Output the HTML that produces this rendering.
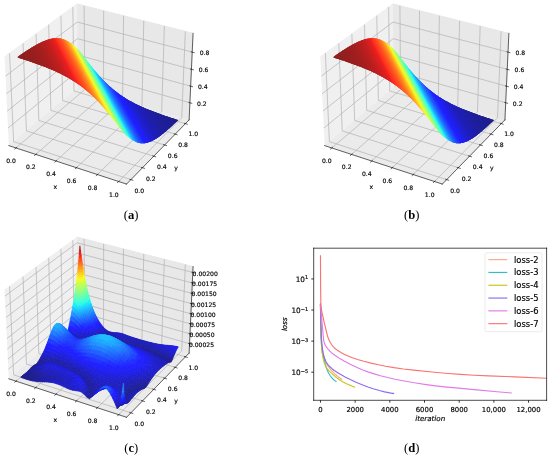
<!DOCTYPE html>
<html><head><meta charset="utf-8"><title>figure</title>
<style>html,body{margin:0;padding:0;background:#fff}svg{display:block;filter:blur(0.35px)}svg text{stroke:#000;stroke-width:.16px}svg text.cap{stroke:none}</style>
</head><body>
<svg width="550" height="459" viewBox="0 0 550 459">
<defs>
<style type="text/css">*{stroke-linejoin: round; stroke-linecap: butt}</style>
</defs>
<g id="figure_1">
<g id="patch_1">
<path d="M 0 459 
L 550 459 
L 550 0 
L 0 0 
z
" style="fill: #ffffff"/>
</g>
<g id="pane3d_1">
<g id="patch_2">
<path d="M 8.83 145.62 
L 78.04 87.6 
L 77.08 3.93 
L 4.55 56.86 
" style="fill: #f0f0f0; stroke: #f0f0f0; stroke-linejoin: miter"/>
</g>
</g>
<g id="pane3d_2">
<g id="patch_3">
<path d="M 78.04 87.6 
L 189.11 119.88 
L 193.07 33.33 
L 77.08 3.93 
" style="fill: #e8e8e8; stroke: #e8e8e8; stroke-linejoin: miter"/>
</g>
</g>
<g id="pane3d_3">
<g id="patch_4">
<path d="M 8.83 145.62 
L 126.56 184.07 
L 189.11 119.88 
L 78.04 87.6 
" style="fill: #ebebeb; stroke: #ebebeb; stroke-linejoin: miter"/>
</g>
</g>
<g id="grid3d_1">
<g id="Line3DCollection_1">
<path d="M 15.96 147.95 
L 84.8 89.56 
L 84.12 5.71 
" style="fill: none; stroke: #b0b0b0; stroke-width: 0.68"/>
<path d="M 35.76 154.42 
L 103.54 95.01 
L 103.66 10.66 
" style="fill: none; stroke: #b0b0b0; stroke-width: 0.68"/>
<path d="M 55.92 161 
L 122.59 100.55 
L 123.54 15.7 
" style="fill: none; stroke: #b0b0b0; stroke-width: 0.68"/>
<path d="M 76.46 167.71 
L 141.96 106.18 
L 143.78 20.83 
" style="fill: none; stroke: #b0b0b0; stroke-width: 0.68"/>
<path d="M 97.38 174.54 
L 161.67 111.91 
L 164.37 26.05 
" style="fill: none; stroke: #b0b0b0; stroke-width: 0.68"/>
<path d="M 118.69 181.5 
L 181.72 117.73 
L 185.34 31.37 
" style="fill: none; stroke: #b0b0b0; stroke-width: 0.68"/>
</g>
</g>
<g id="grid3d_2">
<g id="Line3DCollection_2">
<path d="M 9.57 53.2 
L 13.6 141.62 
L 130.89 179.63 
" style="fill: none; stroke: #b0b0b0; stroke-width: 0.68"/>
<path d="M 23.03 43.37 
L 26.41 130.88 
L 142.5 167.72 
" style="fill: none; stroke: #b0b0b0; stroke-width: 0.68"/>
<path d="M 36.06 33.86 
L 38.83 120.47 
L 153.75 156.18 
" style="fill: none; stroke: #b0b0b0; stroke-width: 0.68"/>
<path d="M 48.7 24.64 
L 50.89 110.36 
L 164.64 144.99 
" style="fill: none; stroke: #b0b0b0; stroke-width: 0.68"/>
<path d="M 60.95 15.7 
L 62.6 100.54 
L 175.21 134.15 
" style="fill: none; stroke: #b0b0b0; stroke-width: 0.68"/>
<path d="M 72.84 7.02 
L 73.98 91.01 
L 185.45 123.64 
" style="fill: none; stroke: #b0b0b0; stroke-width: 0.68"/>
</g>
</g>
<g id="grid3d_3">
<g id="Line3DCollection_3">
<path d="M 189.9 102.76 
L 77.85 71.02 
L 7.98 128.08 
" style="fill: none; stroke: #b0b0b0; stroke-width: 0.68"/>
<path d="M 190.66 86.17 
L 77.67 54.97 
L 7.16 111.08 
" style="fill: none; stroke: #b0b0b0; stroke-width: 0.68"/>
<path d="M 191.43 69.29 
L 77.48 38.65 
L 6.33 93.77 
" style="fill: none; stroke: #b0b0b0; stroke-width: 0.68"/>
<path d="M 192.21 52.12 
L 77.29 22.06 
L 5.48 76.15 
" style="fill: none; stroke: #b0b0b0; stroke-width: 0.68"/>
</g>
</g>
<g id="axis3d_1">
<g id="line2d_1">
<path d="M 8.83 145.62 
L 126.56 184.07 
" style="fill: none; stroke: #000000; stroke-width: 0.6; stroke-linecap: square"/>
</g>
<g id="xtick_1">
<g id="line2d_2">
<path d="M 16.56 147.44 
L 14.76 148.97 
" style="fill: none; stroke: #000000; stroke-width: 0.6; stroke-linecap: square"/>
</g>
<g id="text_1">
<text style="font-size: 6.1px; font-family: 'DejaVu Sans', 'Liberation Sans', sans-serif; text-anchor: middle" x="11.05" y="162.82">0.0</text>
</g>
</g>
<g id="xtick_2">
<g id="line2d_3">
<path d="M 36.35 153.9 
L 34.57 155.45 
" style="fill: none; stroke: #000000; stroke-width: 0.6; stroke-linecap: square"/>
</g>
<g id="text_2">
<text style="font-size: 6.1px; font-family: 'DejaVu Sans', 'Liberation Sans', sans-serif; text-anchor: middle" x="30.87" y="169.4">0.2</text>
</g>
</g>
<g id="xtick_3">
<g id="line2d_4">
<path d="M 56.5 160.47 
L 54.76 162.06 
" style="fill: none; stroke: #000000; stroke-width: 0.6; stroke-linecap: square"/>
</g>
<g id="text_3">
<text style="font-size: 6.1px; font-family: 'DejaVu Sans', 'Liberation Sans', sans-serif; text-anchor: middle" x="51.05" y="176.1">0.4</text>
</g>
</g>
<g id="xtick_4">
<g id="line2d_5">
<path d="M 77.03 167.17 
L 75.31 168.78 
" style="fill: none; stroke: #000000; stroke-width: 0.6; stroke-linecap: square"/>
</g>
<g id="text_4">
<text style="font-size: 6.1px; font-family: 'DejaVu Sans', 'Liberation Sans', sans-serif; text-anchor: middle" x="71.61" y="182.93">0.6</text>
</g>
</g>
<g id="xtick_5">
<g id="line2d_6">
<path d="M 97.94 173.99 
L 96.25 175.64 
" style="fill: none; stroke: #000000; stroke-width: 0.6; stroke-linecap: square"/>
</g>
<g id="text_5">
<text style="font-size: 6.1px; font-family: 'DejaVu Sans', 'Liberation Sans', sans-serif; text-anchor: middle" x="92.55" y="189.88">0.8</text>
</g>
</g>
<g id="xtick_6">
<g id="line2d_7">
<path d="M 119.24 180.94 
L 117.59 182.62 
" style="fill: none; stroke: #000000; stroke-width: 0.6; stroke-linecap: square"/>
</g>
<g id="text_6">
<text style="font-size: 6.1px; font-family: 'DejaVu Sans', 'Liberation Sans', sans-serif; text-anchor: middle" x="113.88" y="196.97">1.0</text>
</g>
</g>
<g id="text_7">
<text style="font-size: 6.1px; font-family: 'DejaVu Sans', 'Liberation Sans', sans-serif; text-anchor: middle" x="55.41" y="189.27">x</text>
</g>
</g>
<g id="axis3d_2">
<g id="line2d_8">
<path d="M 189.11 119.88 
L 126.56 184.07 
" style="fill: none; stroke: #000000; stroke-width: 0.6; stroke-linecap: square"/>
</g>
<g id="xtick_7">
<g id="line2d_9">
<path d="M 129.9 179.31 
L 132.87 180.27 
" style="fill: none; stroke: #000000; stroke-width: 0.6; stroke-linecap: square"/>
</g>
<g id="text_8">
<text style="font-size: 6.1px; font-family: 'DejaVu Sans', 'Liberation Sans', sans-serif; text-anchor: middle" x="139.29" y="193.02">0.0</text>
</g>
</g>
<g id="xtick_8">
<g id="line2d_10">
<path d="M 141.53 167.41 
L 144.46 168.34 
" style="fill: none; stroke: #000000; stroke-width: 0.6; stroke-linecap: square"/>
</g>
<g id="text_9">
<text style="font-size: 6.1px; font-family: 'DejaVu Sans', 'Liberation Sans', sans-serif; text-anchor: middle" x="150.77" y="180.96">0.2</text>
</g>
</g>
<g id="xtick_9">
<g id="line2d_11">
<path d="M 152.78 155.87 
L 155.68 156.78 
" style="fill: none; stroke: #000000; stroke-width: 0.6; stroke-linecap: square"/>
</g>
<g id="text_10">
<text style="font-size: 6.1px; font-family: 'DejaVu Sans', 'Liberation Sans', sans-serif; text-anchor: middle" x="161.89" y="169.28">0.4</text>
</g>
</g>
<g id="xtick_10">
<g id="line2d_12">
<path d="M 163.69 144.7 
L 166.56 145.58 
" style="fill: none; stroke: #000000; stroke-width: 0.6; stroke-linecap: square"/>
</g>
<g id="text_11">
<text style="font-size: 6.1px; font-family: 'DejaVu Sans', 'Liberation Sans', sans-serif; text-anchor: middle" x="172.67" y="157.96">0.6</text>
</g>
</g>
<g id="xtick_11">
<g id="line2d_13">
<path d="M 174.26 133.87 
L 177.1 134.72 
" style="fill: none; stroke: #000000; stroke-width: 0.6; stroke-linecap: square"/>
</g>
<g id="text_12">
<text style="font-size: 6.1px; font-family: 'DejaVu Sans', 'Liberation Sans', sans-serif; text-anchor: middle" x="183.11" y="146.98">0.8</text>
</g>
</g>
<g id="xtick_12">
<g id="line2d_14">
<path d="M 184.52 123.36 
L 187.33 124.19 
" style="fill: none; stroke: #000000; stroke-width: 0.6; stroke-linecap: square"/>
</g>
<g id="text_13">
<text style="font-size: 6.1px; font-family: 'DejaVu Sans', 'Liberation Sans', sans-serif; text-anchor: middle" x="193.24" y="136.34">1.0</text>
</g>
</g>
<g id="text_14">
<text style="font-size: 6.1px; font-family: 'DejaVu Sans', 'Liberation Sans', sans-serif; text-anchor: middle" x="175.96" y="169.59">y</text>
</g>
</g>
<g id="axis3d_3">
<g id="line2d_15">
<path d="M 189.11 119.88 
L 193.07 33.33 
" style="fill: none; stroke: #000000; stroke-width: 0.6; stroke-linecap: square"/>
</g>
<g id="xtick_13">
<g id="line2d_16">
<path d="M 188.95 102.49 
L 191.78 103.29 
" style="fill: none; stroke: #000000; stroke-width: 0.6; stroke-linecap: square"/>
</g>
<g id="text_15">
<text style="font-size: 6.1px; font-family: 'DejaVu Sans', 'Liberation Sans', sans-serif; text-anchor: middle" x="201.91" y="105.72">0.2</text>
</g>
</g>
<g id="xtick_14">
<g id="line2d_17">
<path d="M 189.71 85.91 
L 192.56 86.69 
" style="fill: none; stroke: #000000; stroke-width: 0.6; stroke-linecap: square"/>
</g>
<g id="text_16">
<text style="font-size: 6.1px; font-family: 'DejaVu Sans', 'Liberation Sans', sans-serif; text-anchor: middle" x="202.77" y="89.16">0.4</text>
</g>
</g>
<g id="xtick_15">
<g id="line2d_18">
<path d="M 190.47 69.03 
L 193.35 69.81 
" style="fill: none; stroke: #000000; stroke-width: 0.6; stroke-linecap: square"/>
</g>
<g id="text_17">
<text style="font-size: 6.1px; font-family: 'DejaVu Sans', 'Liberation Sans', sans-serif; text-anchor: middle" x="203.64" y="72.31">0.6</text>
</g>
</g>
<g id="xtick_16">
<g id="line2d_19">
<path d="M 191.25 51.87 
L 194.15 52.63 
" style="fill: none; stroke: #000000; stroke-width: 0.6; stroke-linecap: square"/>
</g>
<g id="text_18">
<text style="font-size: 6.1px; font-family: 'DejaVu Sans', 'Liberation Sans', sans-serif; text-anchor: middle" x="204.53" y="55.17">0.8</text>
</g>
</g>
</g>
<g id="axes_1"/>
<g id="pane3d_4">
<g id="patch_5">
<path d="M 324.63 145.62 
L 393.84 87.6 
L 392.88 3.93 
L 320.35 56.86 
" style="fill: #f0f0f0; stroke: #f0f0f0; stroke-linejoin: miter"/>
</g>
</g>
<g id="pane3d_5">
<g id="patch_6">
<path d="M 393.84 87.6 
L 504.91 119.88 
L 508.87 33.33 
L 392.88 3.93 
" style="fill: #e8e8e8; stroke: #e8e8e8; stroke-linejoin: miter"/>
</g>
</g>
<g id="pane3d_6">
<g id="patch_7">
<path d="M 324.63 145.62 
L 442.36 184.07 
L 504.91 119.88 
L 393.84 87.6 
" style="fill: #ebebeb; stroke: #ebebeb; stroke-linejoin: miter"/>
</g>
</g>
<g id="grid3d_4">
<g id="Line3DCollection_4">
<path d="M 331.76 147.95 
L 400.6 89.56 
L 399.92 5.71 
" style="fill: none; stroke: #b0b0b0; stroke-width: 0.68"/>
<path d="M 351.56 154.42 
L 419.34 95.01 
L 419.46 10.66 
" style="fill: none; stroke: #b0b0b0; stroke-width: 0.68"/>
<path d="M 371.72 161 
L 438.39 100.55 
L 439.34 15.7 
" style="fill: none; stroke: #b0b0b0; stroke-width: 0.68"/>
<path d="M 392.26 167.71 
L 457.76 106.18 
L 459.58 20.83 
" style="fill: none; stroke: #b0b0b0; stroke-width: 0.68"/>
<path d="M 413.18 174.54 
L 477.47 111.91 
L 480.17 26.05 
" style="fill: none; stroke: #b0b0b0; stroke-width: 0.68"/>
<path d="M 434.49 181.5 
L 497.52 117.73 
L 501.14 31.37 
" style="fill: none; stroke: #b0b0b0; stroke-width: 0.68"/>
</g>
</g>
<g id="grid3d_5">
<g id="Line3DCollection_5">
<path d="M 325.37 53.2 
L 329.4 141.62 
L 446.69 179.63 
" style="fill: none; stroke: #b0b0b0; stroke-width: 0.68"/>
<path d="M 338.83 43.37 
L 342.21 130.88 
L 458.3 167.72 
" style="fill: none; stroke: #b0b0b0; stroke-width: 0.68"/>
<path d="M 351.86 33.86 
L 354.63 120.47 
L 469.55 156.18 
" style="fill: none; stroke: #b0b0b0; stroke-width: 0.68"/>
<path d="M 364.5 24.64 
L 366.69 110.36 
L 480.44 144.99 
" style="fill: none; stroke: #b0b0b0; stroke-width: 0.68"/>
<path d="M 376.75 15.7 
L 378.4 100.54 
L 491.01 134.15 
" style="fill: none; stroke: #b0b0b0; stroke-width: 0.68"/>
<path d="M 388.64 7.02 
L 389.78 91.01 
L 501.25 123.64 
" style="fill: none; stroke: #b0b0b0; stroke-width: 0.68"/>
</g>
</g>
<g id="grid3d_6">
<g id="Line3DCollection_6">
<path d="M 505.7 102.76 
L 393.65 71.02 
L 323.78 128.08 
" style="fill: none; stroke: #b0b0b0; stroke-width: 0.68"/>
<path d="M 506.46 86.17 
L 393.47 54.97 
L 322.96 111.08 
" style="fill: none; stroke: #b0b0b0; stroke-width: 0.68"/>
<path d="M 507.23 69.29 
L 393.28 38.65 
L 322.13 93.77 
" style="fill: none; stroke: #b0b0b0; stroke-width: 0.68"/>
<path d="M 508.01 52.12 
L 393.09 22.06 
L 321.28 76.15 
" style="fill: none; stroke: #b0b0b0; stroke-width: 0.68"/>
</g>
</g>
<g id="axis3d_4">
<g id="line2d_20">
<path d="M 324.63 145.62 
L 442.36 184.07 
" style="fill: none; stroke: #000000; stroke-width: 0.6; stroke-linecap: square"/>
</g>
<g id="xtick_17">
<g id="line2d_21">
<path d="M 332.36 147.44 
L 330.56 148.97 
" style="fill: none; stroke: #000000; stroke-width: 0.6; stroke-linecap: square"/>
</g>
<g id="text_19">
<text style="font-size: 6.1px; font-family: 'DejaVu Sans', 'Liberation Sans', sans-serif; text-anchor: middle" x="326.85" y="162.82">0.0</text>
</g>
</g>
<g id="xtick_18">
<g id="line2d_22">
<path d="M 352.15 153.9 
L 350.37 155.45 
" style="fill: none; stroke: #000000; stroke-width: 0.6; stroke-linecap: square"/>
</g>
<g id="text_20">
<text style="font-size: 6.1px; font-family: 'DejaVu Sans', 'Liberation Sans', sans-serif; text-anchor: middle" x="346.67" y="169.4">0.2</text>
</g>
</g>
<g id="xtick_19">
<g id="line2d_23">
<path d="M 372.3 160.47 
L 370.56 162.06 
" style="fill: none; stroke: #000000; stroke-width: 0.6; stroke-linecap: square"/>
</g>
<g id="text_21">
<text style="font-size: 6.1px; font-family: 'DejaVu Sans', 'Liberation Sans', sans-serif; text-anchor: middle" x="366.85" y="176.1">0.4</text>
</g>
</g>
<g id="xtick_20">
<g id="line2d_24">
<path d="M 392.83 167.17 
L 391.11 168.78 
" style="fill: none; stroke: #000000; stroke-width: 0.6; stroke-linecap: square"/>
</g>
<g id="text_22">
<text style="font-size: 6.1px; font-family: 'DejaVu Sans', 'Liberation Sans', sans-serif; text-anchor: middle" x="387.41" y="182.93">0.6</text>
</g>
</g>
<g id="xtick_21">
<g id="line2d_25">
<path d="M 413.74 173.99 
L 412.05 175.64 
" style="fill: none; stroke: #000000; stroke-width: 0.6; stroke-linecap: square"/>
</g>
<g id="text_23">
<text style="font-size: 6.1px; font-family: 'DejaVu Sans', 'Liberation Sans', sans-serif; text-anchor: middle" x="408.35" y="189.88">0.8</text>
</g>
</g>
<g id="xtick_22">
<g id="line2d_26">
<path d="M 435.04 180.94 
L 433.39 182.62 
" style="fill: none; stroke: #000000; stroke-width: 0.6; stroke-linecap: square"/>
</g>
<g id="text_24">
<text style="font-size: 6.1px; font-family: 'DejaVu Sans', 'Liberation Sans', sans-serif; text-anchor: middle" x="429.68" y="196.97">1.0</text>
</g>
</g>
<g id="text_25">
<text style="font-size: 6.1px; font-family: 'DejaVu Sans', 'Liberation Sans', sans-serif; text-anchor: middle" x="371.21" y="189.27">x</text>
</g>
</g>
<g id="axis3d_5">
<g id="line2d_27">
<path d="M 504.91 119.88 
L 442.36 184.07 
" style="fill: none; stroke: #000000; stroke-width: 0.6; stroke-linecap: square"/>
</g>
<g id="xtick_23">
<g id="line2d_28">
<path d="M 445.7 179.31 
L 448.67 180.27 
" style="fill: none; stroke: #000000; stroke-width: 0.6; stroke-linecap: square"/>
</g>
<g id="text_26">
<text style="font-size: 6.1px; font-family: 'DejaVu Sans', 'Liberation Sans', sans-serif; text-anchor: middle" x="455.09" y="193.02">0.0</text>
</g>
</g>
<g id="xtick_24">
<g id="line2d_29">
<path d="M 457.33 167.41 
L 460.26 168.34 
" style="fill: none; stroke: #000000; stroke-width: 0.6; stroke-linecap: square"/>
</g>
<g id="text_27">
<text style="font-size: 6.1px; font-family: 'DejaVu Sans', 'Liberation Sans', sans-serif; text-anchor: middle" x="466.57" y="180.96">0.2</text>
</g>
</g>
<g id="xtick_25">
<g id="line2d_30">
<path d="M 468.58 155.87 
L 471.48 156.78 
" style="fill: none; stroke: #000000; stroke-width: 0.6; stroke-linecap: square"/>
</g>
<g id="text_28">
<text style="font-size: 6.1px; font-family: 'DejaVu Sans', 'Liberation Sans', sans-serif; text-anchor: middle" x="477.69" y="169.28">0.4</text>
</g>
</g>
<g id="xtick_26">
<g id="line2d_31">
<path d="M 479.49 144.7 
L 482.36 145.58 
" style="fill: none; stroke: #000000; stroke-width: 0.6; stroke-linecap: square"/>
</g>
<g id="text_29">
<text style="font-size: 6.1px; font-family: 'DejaVu Sans', 'Liberation Sans', sans-serif; text-anchor: middle" x="488.47" y="157.96">0.6</text>
</g>
</g>
<g id="xtick_27">
<g id="line2d_32">
<path d="M 490.06 133.87 
L 492.9 134.72 
" style="fill: none; stroke: #000000; stroke-width: 0.6; stroke-linecap: square"/>
</g>
<g id="text_30">
<text style="font-size: 6.1px; font-family: 'DejaVu Sans', 'Liberation Sans', sans-serif; text-anchor: middle" x="498.91" y="146.98">0.8</text>
</g>
</g>
<g id="xtick_28">
<g id="line2d_33">
<path d="M 500.32 123.36 
L 503.13 124.19 
" style="fill: none; stroke: #000000; stroke-width: 0.6; stroke-linecap: square"/>
</g>
<g id="text_31">
<text style="font-size: 6.1px; font-family: 'DejaVu Sans', 'Liberation Sans', sans-serif; text-anchor: middle" x="509.04" y="136.34">1.0</text>
</g>
</g>
<g id="text_32">
<text style="font-size: 6.1px; font-family: 'DejaVu Sans', 'Liberation Sans', sans-serif; text-anchor: middle" x="491.76" y="169.59">y</text>
</g>
</g>
<g id="axis3d_6">
<g id="line2d_34">
<path d="M 504.91 119.88 
L 508.87 33.33 
" style="fill: none; stroke: #000000; stroke-width: 0.6; stroke-linecap: square"/>
</g>
<g id="xtick_29">
<g id="line2d_35">
<path d="M 504.75 102.49 
L 507.58 103.29 
" style="fill: none; stroke: #000000; stroke-width: 0.6; stroke-linecap: square"/>
</g>
<g id="text_33">
<text style="font-size: 6.1px; font-family: 'DejaVu Sans', 'Liberation Sans', sans-serif; text-anchor: middle" x="517.71" y="105.72">0.2</text>
</g>
</g>
<g id="xtick_30">
<g id="line2d_36">
<path d="M 505.51 85.91 
L 508.36 86.69 
" style="fill: none; stroke: #000000; stroke-width: 0.6; stroke-linecap: square"/>
</g>
<g id="text_34">
<text style="font-size: 6.1px; font-family: 'DejaVu Sans', 'Liberation Sans', sans-serif; text-anchor: middle" x="518.57" y="89.16">0.4</text>
</g>
</g>
<g id="xtick_31">
<g id="line2d_37">
<path d="M 506.27 69.03 
L 509.15 69.81 
" style="fill: none; stroke: #000000; stroke-width: 0.6; stroke-linecap: square"/>
</g>
<g id="text_35">
<text style="font-size: 6.1px; font-family: 'DejaVu Sans', 'Liberation Sans', sans-serif; text-anchor: middle" x="519.44" y="72.31">0.6</text>
</g>
</g>
<g id="xtick_32">
<g id="line2d_38">
<path d="M 507.05 51.87 
L 509.95 52.63 
" style="fill: none; stroke: #000000; stroke-width: 0.6; stroke-linecap: square"/>
</g>
<g id="text_36">
<text style="font-size: 6.1px; font-family: 'DejaVu Sans', 'Liberation Sans', sans-serif; text-anchor: middle" x="520.33" y="55.17">0.8</text>
</g>
</g>
</g>
<g id="axes_2"/>
<g id="pane3d_7">
<g id="patch_8">
<path d="M 8.83 378.82 
L 78.04 320.8 
L 77.08 237.13 
L 4.55 290.06 
" style="fill: #f0f0f0; stroke: #f0f0f0; stroke-linejoin: miter"/>
</g>
</g>
<g id="pane3d_8">
<g id="patch_9">
<path d="M 78.04 320.8 
L 189.11 353.08 
L 193.07 266.53 
L 77.08 237.13 
" style="fill: #e8e8e8; stroke: #e8e8e8; stroke-linejoin: miter"/>
</g>
</g>
<g id="pane3d_9">
<g id="patch_10">
<path d="M 8.83 378.82 
L 126.56 417.27 
L 189.11 353.08 
L 78.04 320.8 
" style="fill: #ebebeb; stroke: #ebebeb; stroke-linejoin: miter"/>
</g>
</g>
<g id="grid3d_7">
<g id="Line3DCollection_7">
<path d="M 15.96 381.15 
L 84.8 322.76 
L 84.12 238.91 
" style="fill: none; stroke: #b0b0b0; stroke-width: 0.68"/>
<path d="M 35.76 387.62 
L 103.54 328.21 
L 103.66 243.86 
" style="fill: none; stroke: #b0b0b0; stroke-width: 0.68"/>
<path d="M 55.92 394.2 
L 122.59 333.75 
L 123.54 248.9 
" style="fill: none; stroke: #b0b0b0; stroke-width: 0.68"/>
<path d="M 76.46 400.91 
L 141.96 339.38 
L 143.78 254.03 
" style="fill: none; stroke: #b0b0b0; stroke-width: 0.68"/>
<path d="M 97.38 407.74 
L 161.67 345.11 
L 164.37 259.25 
" style="fill: none; stroke: #b0b0b0; stroke-width: 0.68"/>
<path d="M 118.69 414.7 
L 181.72 350.93 
L 185.34 264.57 
" style="fill: none; stroke: #b0b0b0; stroke-width: 0.68"/>
</g>
</g>
<g id="grid3d_8">
<g id="Line3DCollection_8">
<path d="M 9.57 286.4 
L 13.6 374.82 
L 130.89 412.83 
" style="fill: none; stroke: #b0b0b0; stroke-width: 0.68"/>
<path d="M 23.03 276.57 
L 26.41 364.08 
L 142.5 400.92 
" style="fill: none; stroke: #b0b0b0; stroke-width: 0.68"/>
<path d="M 36.06 267.06 
L 38.83 353.67 
L 153.75 389.38 
" style="fill: none; stroke: #b0b0b0; stroke-width: 0.68"/>
<path d="M 48.7 257.84 
L 50.89 343.56 
L 164.64 378.19 
" style="fill: none; stroke: #b0b0b0; stroke-width: 0.68"/>
<path d="M 60.95 248.9 
L 62.6 333.74 
L 175.21 367.35 
" style="fill: none; stroke: #b0b0b0; stroke-width: 0.68"/>
<path d="M 72.84 240.22 
L 73.98 324.21 
L 185.45 356.84 
" style="fill: none; stroke: #b0b0b0; stroke-width: 0.68"/>
</g>
</g>
<g id="grid3d_9">
<g id="Line3DCollection_9">
<path d="M 189.54 343.7 
L 77.94 311.72 
L 8.36 369.21 
" style="fill: none; stroke: #b0b0b0; stroke-width: 0.68"/>
<path d="M 189.99 333.84 
L 77.83 302.16 
L 7.88 359.11 
" style="fill: none; stroke: #b0b0b0; stroke-width: 0.68"/>
<path d="M 190.45 323.87 
L 77.72 292.52 
L 7.38 348.89 
" style="fill: none; stroke: #b0b0b0; stroke-width: 0.68"/>
<path d="M 190.91 313.8 
L 77.61 282.78 
L 6.89 338.57 
" style="fill: none; stroke: #b0b0b0; stroke-width: 0.68"/>
<path d="M 191.38 303.62 
L 77.49 272.94 
L 6.39 328.13 
" style="fill: none; stroke: #b0b0b0; stroke-width: 0.68"/>
<path d="M 191.85 293.34 
L 77.38 263.01 
L 5.88 317.58 
" style="fill: none; stroke: #b0b0b0; stroke-width: 0.68"/>
<path d="M 192.32 282.95 
L 77.26 252.98 
L 5.36 306.92 
" style="fill: none; stroke: #b0b0b0; stroke-width: 0.68"/>
<path d="M 192.8 272.45 
L 77.15 242.84 
L 4.84 296.14 
" style="fill: none; stroke: #b0b0b0; stroke-width: 0.68"/>
</g>
</g>
<g id="axis3d_7">
<g id="line2d_39">
<path d="M 8.83 378.82 
L 126.56 417.27 
" style="fill: none; stroke: #000000; stroke-width: 0.6; stroke-linecap: square"/>
</g>
<g id="xtick_33">
<g id="line2d_40">
<path d="M 16.56 380.64 
L 14.76 382.17 
" style="fill: none; stroke: #000000; stroke-width: 0.6; stroke-linecap: square"/>
</g>
<g id="text_37">
<text style="font-size: 6.1px; font-family: 'DejaVu Sans', 'Liberation Sans', sans-serif; text-anchor: middle" x="11.05" y="396.02">0.0</text>
</g>
</g>
<g id="xtick_34">
<g id="line2d_41">
<path d="M 36.35 387.1 
L 34.57 388.65 
" style="fill: none; stroke: #000000; stroke-width: 0.6; stroke-linecap: square"/>
</g>
<g id="text_38">
<text style="font-size: 6.1px; font-family: 'DejaVu Sans', 'Liberation Sans', sans-serif; text-anchor: middle" x="30.87" y="402.6">0.2</text>
</g>
</g>
<g id="xtick_35">
<g id="line2d_42">
<path d="M 56.5 393.67 
L 54.76 395.26 
" style="fill: none; stroke: #000000; stroke-width: 0.6; stroke-linecap: square"/>
</g>
<g id="text_39">
<text style="font-size: 6.1px; font-family: 'DejaVu Sans', 'Liberation Sans', sans-serif; text-anchor: middle" x="51.05" y="409.3">0.4</text>
</g>
</g>
<g id="xtick_36">
<g id="line2d_43">
<path d="M 77.03 400.37 
L 75.31 401.98 
" style="fill: none; stroke: #000000; stroke-width: 0.6; stroke-linecap: square"/>
</g>
<g id="text_40">
<text style="font-size: 6.1px; font-family: 'DejaVu Sans', 'Liberation Sans', sans-serif; text-anchor: middle" x="71.61" y="416.13">0.6</text>
</g>
</g>
<g id="xtick_37">
<g id="line2d_44">
<path d="M 97.94 407.19 
L 96.25 408.84 
" style="fill: none; stroke: #000000; stroke-width: 0.6; stroke-linecap: square"/>
</g>
<g id="text_41">
<text style="font-size: 6.1px; font-family: 'DejaVu Sans', 'Liberation Sans', sans-serif; text-anchor: middle" x="92.55" y="423.08">0.8</text>
</g>
</g>
<g id="xtick_38">
<g id="line2d_45">
<path d="M 119.24 414.14 
L 117.59 415.82 
" style="fill: none; stroke: #000000; stroke-width: 0.6; stroke-linecap: square"/>
</g>
<g id="text_42">
<text style="font-size: 6.1px; font-family: 'DejaVu Sans', 'Liberation Sans', sans-serif; text-anchor: middle" x="113.88" y="430.17">1.0</text>
</g>
</g>
<g id="text_43">
<text style="font-size: 6.1px; font-family: 'DejaVu Sans', 'Liberation Sans', sans-serif; text-anchor: middle" x="55.41" y="422.47">x</text>
</g>
</g>
<g id="axis3d_8">
<g id="line2d_46">
<path d="M 189.11 353.08 
L 126.56 417.27 
" style="fill: none; stroke: #000000; stroke-width: 0.6; stroke-linecap: square"/>
</g>
<g id="xtick_39">
<g id="line2d_47">
<path d="M 129.9 412.51 
L 132.87 413.47 
" style="fill: none; stroke: #000000; stroke-width: 0.6; stroke-linecap: square"/>
</g>
<g id="text_44">
<text style="font-size: 6.1px; font-family: 'DejaVu Sans', 'Liberation Sans', sans-serif; text-anchor: middle" x="139.29" y="426.22">0.0</text>
</g>
</g>
<g id="xtick_40">
<g id="line2d_48">
<path d="M 141.53 400.61 
L 144.46 401.54 
" style="fill: none; stroke: #000000; stroke-width: 0.6; stroke-linecap: square"/>
</g>
<g id="text_45">
<text style="font-size: 6.1px; font-family: 'DejaVu Sans', 'Liberation Sans', sans-serif; text-anchor: middle" x="150.77" y="414.16">0.2</text>
</g>
</g>
<g id="xtick_41">
<g id="line2d_49">
<path d="M 152.78 389.07 
L 155.68 389.98 
" style="fill: none; stroke: #000000; stroke-width: 0.6; stroke-linecap: square"/>
</g>
<g id="text_46">
<text style="font-size: 6.1px; font-family: 'DejaVu Sans', 'Liberation Sans', sans-serif; text-anchor: middle" x="161.89" y="402.48">0.4</text>
</g>
</g>
<g id="xtick_42">
<g id="line2d_50">
<path d="M 163.69 377.9 
L 166.56 378.78 
" style="fill: none; stroke: #000000; stroke-width: 0.6; stroke-linecap: square"/>
</g>
<g id="text_47">
<text style="font-size: 6.1px; font-family: 'DejaVu Sans', 'Liberation Sans', sans-serif; text-anchor: middle" x="172.67" y="391.16">0.6</text>
</g>
</g>
<g id="xtick_43">
<g id="line2d_51">
<path d="M 174.26 367.07 
L 177.1 367.92 
" style="fill: none; stroke: #000000; stroke-width: 0.6; stroke-linecap: square"/>
</g>
<g id="text_48">
<text style="font-size: 6.1px; font-family: 'DejaVu Sans', 'Liberation Sans', sans-serif; text-anchor: middle" x="183.11" y="380.18">0.8</text>
</g>
</g>
<g id="xtick_44">
<g id="line2d_52">
<path d="M 184.52 356.56 
L 187.33 357.39 
" style="fill: none; stroke: #000000; stroke-width: 0.6; stroke-linecap: square"/>
</g>
<g id="text_49">
<text style="font-size: 6.1px; font-family: 'DejaVu Sans', 'Liberation Sans', sans-serif; text-anchor: middle" x="193.24" y="369.54">1.0</text>
</g>
</g>
<g id="text_50">
<text style="font-size: 6.1px; font-family: 'DejaVu Sans', 'Liberation Sans', sans-serif; text-anchor: middle" x="175.96" y="402.79">y</text>
</g>
</g>
<g id="axis3d_9">
<g id="line2d_53">
<path d="M 189.11 353.08 
L 193.07 266.53 
" style="fill: none; stroke: #000000; stroke-width: 0.6; stroke-linecap: square"/>
</g>
<g id="xtick_45">
<g id="line2d_54">
<path d="M 188.6 343.44 
L 191.42 344.24 
" style="fill: none; stroke: #000000; stroke-width: 0.6; stroke-linecap: square"/>
</g>
<g id="text_51">
<text style="font-size: 6.1px; font-family: 'DejaVu Sans', 'Liberation Sans', sans-serif; text-anchor: middle" x="201.5" y="346.65">0.00025</text>
</g>
</g>
<g id="xtick_46">
<g id="line2d_55">
<path d="M 189.05 333.57 
L 191.88 334.37 
" style="fill: none; stroke: #000000; stroke-width: 0.6; stroke-linecap: square"/>
</g>
<g id="text_52">
<text style="font-size: 6.1px; font-family: 'DejaVu Sans', 'Liberation Sans', sans-serif; text-anchor: middle" x="202.02" y="336.8">0.00050</text>
</g>
</g>
<g id="xtick_47">
<g id="line2d_56">
<path d="M 189.5 323.6 
L 192.35 324.39 
" style="fill: none; stroke: #000000; stroke-width: 0.6; stroke-linecap: square"/>
</g>
<g id="text_53">
<text style="font-size: 6.1px; font-family: 'DejaVu Sans', 'Liberation Sans', sans-serif; text-anchor: middle" x="202.53" y="326.85">0.00075</text>
</g>
</g>
<g id="xtick_48">
<g id="line2d_57">
<path d="M 189.96 313.53 
L 192.82 314.32 
" style="fill: none; stroke: #000000; stroke-width: 0.6; stroke-linecap: square"/>
</g>
<g id="text_54">
<text style="font-size: 6.1px; font-family: 'DejaVu Sans', 'Liberation Sans', sans-serif; text-anchor: middle" x="203.05" y="316.8">0.00100</text>
</g>
</g>
<g id="xtick_49">
<g id="line2d_58">
<path d="M 190.42 303.36 
L 193.29 304.14 
" style="fill: none; stroke: #000000; stroke-width: 0.6; stroke-linecap: square"/>
</g>
<g id="text_55">
<text style="font-size: 6.1px; font-family: 'DejaVu Sans', 'Liberation Sans', sans-serif; text-anchor: middle" x="203.58" y="306.64">0.00125</text>
</g>
</g>
<g id="xtick_50">
<g id="line2d_59">
<path d="M 190.88 293.08 
L 193.77 293.85 
" style="fill: none; stroke: #000000; stroke-width: 0.6; stroke-linecap: square"/>
</g>
<g id="text_56">
<text style="font-size: 6.1px; font-family: 'DejaVu Sans', 'Liberation Sans', sans-serif; text-anchor: middle" x="204.11" y="296.38">0.00150</text>
</g>
</g>
<g id="xtick_51">
<g id="line2d_60">
<path d="M 191.36 282.7 
L 194.26 283.46 
" style="fill: none; stroke: #000000; stroke-width: 0.6; stroke-linecap: square"/>
</g>
<g id="text_57">
<text style="font-size: 6.1px; font-family: 'DejaVu Sans', 'Liberation Sans', sans-serif; text-anchor: middle" x="204.65" y="286.01">0.00175</text>
</g>
</g>
<g id="xtick_52">
<g id="line2d_61">
<path d="M 191.83 272.21 
L 194.75 272.95 
" style="fill: none; stroke: #000000; stroke-width: 0.6; stroke-linecap: square"/>
</g>
<g id="text_58">
<text style="font-size: 6.1px; font-family: 'DejaVu Sans', 'Liberation Sans', sans-serif; text-anchor: middle" x="205.2" y="275.53">0.00200</text>
</g>
</g>
</g>
<g id="axes_3"/>
<g id="axes_4">
<g id="patch_11">
<path d="M 313.7 400.3 
L 546.6 400.3 
L 546.6 248.2 
L 313.7 248.2 
z
" style="fill: #ffffff"/>
</g>
<g id="matplotlib.axis_1">
<g id="xtick_53">
<g id="line2d_62">
<defs>
<path id="med0e3492d3" d="M 0 0 
L 0 2.4 
" style="stroke: #000000; stroke-width: 0.8"/>
</defs>
<g>
<use href="#med0e3492d3" x="320.46" y="400.3" style="stroke: #000000; stroke-width: 0.8"/>
</g>
</g>
<g id="text_59">
<text style="font-size: 6.9px; font-family: 'DejaVu Sans', 'Liberation Sans', sans-serif; text-anchor: middle" x="320.46" y="411.74">0</text>
</g>
</g>
<g id="xtick_54">
<g id="line2d_63">
<g>
<use href="#med0e3492d3" x="355.15" y="400.3" style="stroke: #000000; stroke-width: 0.8"/>
</g>
</g>
<g id="text_60">
<text style="font-size: 6.9px; font-family: 'DejaVu Sans', 'Liberation Sans', sans-serif; text-anchor: middle" x="355.15" y="411.74">2000</text>
</g>
</g>
<g id="xtick_55">
<g id="line2d_64">
<g>
<use href="#med0e3492d3" x="389.83" y="400.3" style="stroke: #000000; stroke-width: 0.8"/>
</g>
</g>
<g id="text_61">
<text style="font-size: 6.9px; font-family: 'DejaVu Sans', 'Liberation Sans', sans-serif; text-anchor: middle" x="389.83" y="411.74">4000</text>
</g>
</g>
<g id="xtick_56">
<g id="line2d_65">
<g>
<use href="#med0e3492d3" x="424.51" y="400.3" style="stroke: #000000; stroke-width: 0.8"/>
</g>
</g>
<g id="text_62">
<text style="font-size: 6.9px; font-family: 'DejaVu Sans', 'Liberation Sans', sans-serif; text-anchor: middle" x="424.51" y="411.74">6000</text>
</g>
</g>
<g id="xtick_57">
<g id="line2d_66">
<g>
<use href="#med0e3492d3" x="459.2" y="400.3" style="stroke: #000000; stroke-width: 0.8"/>
</g>
</g>
<g id="text_63">
<text style="font-size: 6.9px; font-family: 'DejaVu Sans', 'Liberation Sans', sans-serif; text-anchor: middle" x="459.2" y="411.74">8000</text>
</g>
</g>
<g id="xtick_58">
<g id="line2d_67">
<g>
<use href="#med0e3492d3" x="493.88" y="400.3" style="stroke: #000000; stroke-width: 0.8"/>
</g>
</g>
<g id="text_64">
<text style="font-size: 6.9px; font-family: 'DejaVu Sans', 'Liberation Sans', sans-serif; text-anchor: middle" x="493.88" y="411.74">10,000</text>
</g>
</g>
<g id="xtick_59">
<g id="line2d_68">
<g>
<use href="#med0e3492d3" x="528.56" y="400.3" style="stroke: #000000; stroke-width: 0.8"/>
</g>
</g>
<g id="text_65">
<text style="font-size: 6.9px; font-family: 'DejaVu Sans', 'Liberation Sans', sans-serif; text-anchor: middle" x="528.56" y="411.74">12,000</text>
</g>
</g>
<g id="text_66">
<text style="font-style: italic; font-size: 7.1px; font-family: 'DejaVu Sans', 'Liberation Sans', sans-serif; text-anchor: middle" x="430.15" y="421.27">iteration</text>
</g>
</g>
<g id="matplotlib.axis_2">
<g id="ytick_1">
<g id="line2d_69">
<defs>
<path id="mc0efd74652" d="M 0 0 
L -2.4 0 
" style="stroke: #000000; stroke-width: 0.8"/>
</defs>
<g>
<use href="#mc0efd74652" x="313.7" y="278.96" style="stroke: #000000; stroke-width: 0.8"/>
</g>
</g>
<g id="text_67">
<g transform="translate(295.75 282.84)">
<text>
<tspan x="0" y="-0.74" style="font-size: 7.3px; font-family: 'DejaVu Sans', 'Liberation Sans', sans-serif">1</tspan>
<tspan x="4.61" y="-0.74" style="font-size: 7.3px; font-family: 'DejaVu Sans', 'Liberation Sans', sans-serif">0</tspan>
<tspan x="9.29" y="-3.42" style="font-size: 5.11px; font-family: 'DejaVu Sans', 'Liberation Sans', sans-serif">1</tspan>
</text>
</g>
</g>
</g>
<g id="ytick_2">
<g id="line2d_70">
<g>
<use href="#mc0efd74652" x="313.7" y="310.03" style="stroke: #000000; stroke-width: 0.8"/>
</g>
</g>
<g id="text_68">
<g transform="translate(291.44 313.91)">
<text>
<tspan x="0" y="-0.74" style="font-size: 7.3px; font-family: 'DejaVu Sans', 'Liberation Sans', sans-serif">1</tspan>
<tspan x="4.61" y="-0.74" style="font-size: 7.3px; font-family: 'DejaVu Sans', 'Liberation Sans', sans-serif">0</tspan>
<tspan x="9.29" y="-3.42" style="font-size: 5.11px; font-family: 'DejaVu Sans', 'Liberation Sans', sans-serif">−</tspan>
<tspan x="13.54" y="-3.42" style="font-size: 5.11px; font-family: 'DejaVu Sans', 'Liberation Sans', sans-serif">1</tspan>
</text>
</g>
</g>
</g>
<g id="ytick_3">
<g id="line2d_71">
<g>
<use href="#mc0efd74652" x="313.7" y="341.11" style="stroke: #000000; stroke-width: 0.8"/>
</g>
</g>
<g id="text_69">
<g transform="translate(291.44 344.98)">
<text>
<tspan x="0" y="-0.68" style="font-size: 7.3px; font-family: 'DejaVu Sans', 'Liberation Sans', sans-serif">1</tspan>
<tspan x="4.61" y="-0.68" style="font-size: 7.3px; font-family: 'DejaVu Sans', 'Liberation Sans', sans-serif">0</tspan>
<tspan x="9.29" y="-3.36" style="font-size: 5.11px; font-family: 'DejaVu Sans', 'Liberation Sans', sans-serif">−</tspan>
<tspan x="13.54" y="-3.36" style="font-size: 5.11px; font-family: 'DejaVu Sans', 'Liberation Sans', sans-serif">3</tspan>
</text>
</g>
</g>
</g>
<g id="ytick_4">
<g id="line2d_72">
<g>
<use href="#mc0efd74652" x="313.7" y="372.18" style="stroke: #000000; stroke-width: 0.8"/>
</g>
</g>
<g id="text_70">
<g transform="translate(291.44 376.05)">
<text>
<tspan x="0" y="-0.74" style="font-size: 7.3px; font-family: 'DejaVu Sans', 'Liberation Sans', sans-serif">1</tspan>
<tspan x="4.61" y="-0.74" style="font-size: 7.3px; font-family: 'DejaVu Sans', 'Liberation Sans', sans-serif">0</tspan>
<tspan x="9.29" y="-3.42" style="font-size: 5.11px; font-family: 'DejaVu Sans', 'Liberation Sans', sans-serif">−</tspan>
<tspan x="13.54" y="-3.42" style="font-size: 5.11px; font-family: 'DejaVu Sans', 'Liberation Sans', sans-serif">5</tspan>
</text>
</g>
</g>
</g>
<g id="text_71">
<text style="font-style: italic; font-size: 7.1px; font-family: 'DejaVu Sans', 'Liberation Sans', sans-serif; text-anchor: middle" x="286.97" y="324.25" transform="rotate(-90 286.97 324.25)">loss</text>
</g>
</g>
<g id="line2d_73">
<path d="M 320.46 303.04 
L 320.53 308.08 
L 320.6 312.52 
L 320.67 316.41 
L 320.74 319.83 
L 320.81 322.81 
L 320.88 325.41 
L 320.95 327.67 
L 321.02 329.63 
L 321.09 331.41 
L 321.16 333.04 
L 321.23 334.55 
L 321.3 335.95 
L 321.37 337.25 
L 321.43 338.45 
L 321.5 339.58 
L 321.57 340.63 
L 321.64 341.62 
L 321.71 342.55 
L 321.78 343.42 
L 321.85 344.24 
L 321.92 345.02 
L 321.99 345.75 
L 322.06 346.45 
L 322.13 347.11 
L 322.2 347.73 
L 322.27 348.32 
L 322.34 348.89 
L 322.41 349.43 
L 322.47 349.94 
L 322.54 350.43 
L 322.61 350.89 
L 322.68 351.34 
L 322.75 351.76 
L 322.82 352.17 
L 322.89 352.56 
L 322.96 352.93 
L 323.03 353.29 
L 323.1 353.64 
L 323.17 353.97 
L 323.24 354.29 
L 323.31 354.6 
L 323.38 354.9 
L 323.45 355.19 
L 323.52 355.47 
L 323.58 355.75 
L 323.65 356.01 
L 323.72 356.27 
L 323.79 356.52 
L 323.86 356.77 
L 323.93 357.01 
L 324.19 357.86 
L 324.45 358.64 
L 324.71 359.38 
L 324.97 360.08 
L 325.23 360.75 
L 325.49 361.38 
L 325.75 361.99 
L 326.01 362.55 
L 326.27 363.08 
L 326.53 363.58 
L 326.79 364.06 
L 327.05 364.51 
L 327.31 364.95 
L 327.57 365.36 
L 327.83 365.76 
L 328.09 366.15 
L 328.35 366.52 
L 328.61 366.89 
L 328.87 367.24 
L 329.13 367.59 
L 329.39 367.92 
L 329.65 368.25 
L 329.91 368.57 
L 330.17 368.89 
L 330.43 369.2 
L 330.69 369.5 
L 330.96 369.8 
L 331.22 370.1 
L 331.48 370.39 
L 331.74 370.67 
L 332 370.96 
L 332.26 371.24 
L 332.52 371.51 
L 332.78 371.78 
L 333.04 372.05 
L 333.3 372.32 
L 333.56 372.58 
L 333.82 372.84 
L 334.08 373.09 
L 334.34 373.34 
L 334.6 373.59 
L 334.86 373.84 
L 335.12 374.08 
L 335.38 374.32 
L 335.64 374.55 
L 335.9 374.79 
L 336.16 375.02 
L 336.42 375.24 
L 336.68 375.47 
L 336.94 375.69 
L 337.2 375.91 
L 337.46 376.12 
L 337.72 376.34 
L 337.81 376.41 
L 338.85 377.24 
L 339.89 378.05 
L 340.93 378.84 
L 341.97 379.58 
L 342.05 379.64 
" clip-path="url(#pfeda5568fa)" style="fill: none; stroke: #ffa784; stroke-width: 1.15"/>
</g>
<g id="line2d_74">
<path d="M 320.46 303.82 
L 320.53 310.3 
L 320.6 315.92 
L 320.67 320.77 
L 320.74 324.93 
L 320.81 328.45 
L 320.88 331.4 
L 320.95 333.85 
L 321.02 335.85 
L 321.09 337.62 
L 321.16 339.2 
L 321.23 340.62 
L 321.3 341.91 
L 321.37 343.09 
L 321.43 344.16 
L 321.5 345.15 
L 321.57 346.06 
L 321.64 346.91 
L 321.71 347.69 
L 321.78 348.42 
L 321.85 349.1 
L 321.92 349.75 
L 321.99 350.35 
L 322.06 350.92 
L 322.13 351.47 
L 322.2 351.98 
L 322.27 352.47 
L 322.34 352.91 
L 322.41 353.33 
L 322.47 353.72 
L 322.54 354.09 
L 322.61 354.43 
L 322.68 354.76 
L 322.75 355.07 
L 322.82 355.37 
L 322.89 355.66 
L 322.96 355.93 
L 323.03 356.2 
L 323.1 356.46 
L 323.17 356.71 
L 323.24 356.96 
L 323.31 357.21 
L 323.38 357.45 
L 323.45 357.68 
L 323.52 357.92 
L 323.58 358.16 
L 323.65 358.39 
L 323.72 358.62 
L 323.79 358.86 
L 323.86 359.09 
L 323.93 359.33 
L 324.19 360.23 
L 324.45 361.15 
L 324.71 362.1 
L 324.97 363.04 
L 325.23 363.97 
L 325.49 364.89 
L 325.75 365.77 
L 326.01 366.62 
L 326.27 367.43 
L 326.53 368.21 
L 326.79 368.94 
L 327.05 369.64 
L 327.31 370.3 
L 327.57 370.92 
L 327.83 371.5 
L 328.09 372.05 
L 328.35 372.58 
L 328.61 373.08 
L 328.87 373.56 
L 329.13 374.03 
L 329.39 374.47 
L 329.65 374.89 
L 329.91 375.3 
L 330.17 375.69 
L 330.43 376.06 
L 330.69 376.42 
L 330.96 376.76 
L 331.22 377.09 
L 331.48 377.41 
L 331.74 377.71 
L 332 378.01 
L 332.26 378.29 
L 332.52 378.56 
L 332.78 378.82 
L 333.04 379.07 
L 333.3 379.32 
L 333.56 379.55 
L 333.82 379.78 
L 334.08 379.99 
L 334.34 380.21 
L 334.6 380.41 
L 334.86 380.61 
L 335.12 380.8 
L 335.38 380.98 
L 335.64 381.16 
L 335.9 381.32 
L 336.16 381.48 
L 336.42 381.64 
L 336.45 381.66 
" clip-path="url(#pfeda5568fa)" style="fill: none; stroke: #2fbfbf; stroke-width: 1.15"/>
</g>
<g id="line2d_75">
<path d="M 320.46 303.82 
L 320.53 309.8 
L 320.6 315.03 
L 320.67 319.58 
L 320.74 323.52 
L 320.81 326.91 
L 320.88 329.81 
L 320.95 332.26 
L 321.02 334.34 
L 321.09 336.19 
L 321.16 337.86 
L 321.23 339.39 
L 321.3 340.79 
L 321.37 342.07 
L 321.43 343.26 
L 321.5 344.35 
L 321.57 345.37 
L 321.64 346.32 
L 321.71 347.21 
L 321.78 348.05 
L 321.85 348.83 
L 321.92 349.57 
L 321.99 350.27 
L 322.06 350.93 
L 322.13 351.56 
L 322.2 352.16 
L 322.27 352.73 
L 322.34 353.27 
L 322.41 353.79 
L 322.47 354.29 
L 322.54 354.77 
L 322.61 355.23 
L 322.68 355.67 
L 322.75 356.1 
L 322.82 356.5 
L 322.89 356.9 
L 322.96 357.27 
L 323.03 357.64 
L 323.1 357.99 
L 323.17 358.33 
L 323.24 358.66 
L 323.31 358.98 
L 323.38 359.29 
L 323.45 359.59 
L 323.52 359.88 
L 323.58 360.16 
L 323.65 360.43 
L 323.72 360.7 
L 323.79 360.96 
L 323.86 361.21 
L 323.93 361.46 
L 324.19 362.32 
L 324.45 363.11 
L 324.71 363.84 
L 324.97 364.51 
L 325.23 365.14 
L 325.49 365.72 
L 325.75 366.26 
L 326.01 366.75 
L 326.27 367.21 
L 326.53 367.63 
L 326.79 368.03 
L 327.05 368.41 
L 327.31 368.76 
L 327.57 369.1 
L 327.83 369.42 
L 328.09 369.73 
L 328.35 370.03 
L 328.61 370.32 
L 328.87 370.61 
L 329.13 370.88 
L 329.39 371.15 
L 329.65 371.41 
L 329.91 371.67 
L 330.17 371.93 
L 330.43 372.18 
L 330.69 372.43 
L 330.96 372.67 
L 331.22 372.91 
L 331.48 373.16 
L 331.74 373.4 
L 332 373.63 
L 332.26 373.87 
L 332.52 374.11 
L 332.78 374.34 
L 333.04 374.57 
L 333.3 374.8 
L 333.56 375.03 
L 333.82 375.26 
L 334.08 375.48 
L 334.34 375.71 
L 334.6 375.93 
L 334.86 376.15 
L 335.12 376.37 
L 335.38 376.59 
L 335.64 376.8 
L 335.9 377.01 
L 336.16 377.22 
L 336.42 377.43 
L 336.68 377.64 
L 336.94 377.84 
L 337.2 378.04 
L 337.46 378.24 
L 337.72 378.44 
L 337.81 378.5 
L 338.85 379.26 
L 339.89 379.98 
L 340.93 380.66 
L 341.97 381.29 
L 343.01 381.9 
L 344.05 382.47 
L 345.09 383.02 
L 346.13 383.54 
L 347.17 384.03 
L 348.21 384.5 
L 349.25 384.95 
L 350.29 385.39 
L 351.33 385.82 
L 352.37 386.23 
L 353.41 386.63 
L 354.45 387 
L 355.15 387.25 
" clip-path="url(#pfeda5568fa)" style="fill: none; stroke: #c6c61a; stroke-width: 1.15"/>
</g>
<g id="line2d_76">
<path d="M 320.46 303.82 
L 320.88 324.99 
L 321.37 337.67 
L 321.85 344.01 
L 322.47 349.22 
L 323.17 353.14 
L 323.93 356.24 
L 324.97 359.35 
L 326.01 361.68 
L 327.05 363.42 
L 328.35 365.12 
L 329.91 366.79 
L 332 368.68 
L 334.34 370.53 
L 336.94 372.29 
L 339.89 374.06 
L 345.09 376.91 
L 350.29 379.53 
L 356.53 382.41 
L 362.78 385.02 
L 367.98 386.97 
L 373.18 388.71 
L 379.43 390.56 
L 384.63 391.83 
L 389.83 392.89 
L 394.17 393.62 
L 394.17 393.62 
" clip-path="url(#pfeda5568fa)" style="fill: none; stroke: #8b6cf0; stroke-width: 1.15"/>
</g>
<g id="line2d_77">
<path d="M 320.46 304.6 
L 323.45 338.44 
L 323.93 341.39 
L 324.45 343.34 
L 325.23 345.19 
L 326.27 346.89 
L 328.09 349.24 
L 329.65 350.99 
L 331.48 352.7 
L 333.82 354.58 
L 336.68 356.59 
L 339.89 358.62 
L 344.05 360.98 
L 350.29 364.2 
L 357.57 367.7 
L 362.78 369.92 
L 367.98 371.86 
L 374.22 373.89 
L 380.47 375.7 
L 387.75 377.56 
L 395.03 379.19 
L 404.4 381.03 
L 415.84 383.03 
L 426.25 384.63 
L 435.61 385.86 
L 447.06 387.11 
L 458.5 388.16 
L 474.11 389.58 
L 497 391.78 
L 511.78 393 
L 511.78 393 
" clip-path="url(#pfeda5568fa)" style="fill: none; stroke: #e27ae8; stroke-width: 1.15"/>
</g>
<g id="line2d_78">
<path d="M 320.46 255.35 
L 320.67 292.59 
L 320.88 304.02 
L 321.23 308.47 
L 321.64 310.79 
L 322.89 316.44 
L 324.19 322.38 
L 327.31 335.22 
L 328.09 337.66 
L 329.13 340.2 
L 330.43 342.73 
L 331.74 344.75 
L 333.04 346.4 
L 334.6 348.03 
L 336.42 349.57 
L 337.81 350.59 
L 340.93 352.54 
L 344.05 354.19 
L 348.21 356.06 
L 352.37 357.67 
L 357.57 359.43 
L 363.82 361.28 
L 371.1 363.16 
L 378.38 364.81 
L 385.67 366.25 
L 393.99 367.64 
L 403.36 368.96 
L 413.76 370.19 
L 429.37 371.78 
L 448.1 373.5 
L 460.58 374.43 
L 474.11 375.2 
L 488.68 375.81 
L 514.69 376.86 
L 549.37 378.39 
L 549.37 378.39 
" clip-path="url(#pfeda5568fa)" style="fill: none; stroke: #f87474; stroke-width: 1.15"/>
</g>
<g id="patch_12">
<path d="M 313.7 400.3 
L 313.7 248.2 
" style="fill: none; stroke: #000000; stroke-width: 0.7; stroke-linejoin: miter; stroke-linecap: square"/>
</g>
<g id="patch_13">
<path d="M 546.6 400.3 
L 546.6 248.2 
" style="fill: none; stroke: #000000; stroke-width: 0.7; stroke-linejoin: miter; stroke-linecap: square"/>
</g>
<g id="patch_14">
<path d="M 313.7 400.3 
L 546.6 400.3 
" style="fill: none; stroke: #000000; stroke-width: 0.7; stroke-linejoin: miter; stroke-linecap: square"/>
</g>
<g id="patch_15">
<path d="M 313.7 248.2 
L 546.6 248.2 
" style="fill: none; stroke: #000000; stroke-width: 0.7; stroke-linejoin: miter; stroke-linecap: square"/>
</g>
<g id="legend_1">
<g id="patch_16">
<path d="M 486.72 331.71 
L 540.3 331.71 
Q 541.98 331.71 541.98 330.03 
L 541.98 254.5 
Q 541.98 252.82 540.3 252.82 
L 486.72 252.82 
Q 485.04 252.82 485.04 254.5 
L 485.04 330.03 
Q 485.04 331.71 486.72 331.71 
z
" style="fill: #ffffff; opacity: 0.8; stroke: #cccccc; stroke-width: 0.5; stroke-linejoin: miter"/>
</g>
<g id="line2d_79">
<path d="M 488.4 259.62 
L 497.85 259.62 
L 507.3 259.62 
" style="fill: none; stroke: #ffa784; stroke-width: 1.15"/>
</g>
<g id="text_72">
<text style="font-size: 8.4px; font-family: 'DejaVu Sans', 'Liberation Sans', sans-serif; text-anchor: start" x="514.02" y="262.56">loss-2</text>
</g>
<g id="line2d_80">
<path d="M 488.4 272.43 
L 497.85 272.43 
L 507.3 272.43 
" style="fill: none; stroke: #2fbfbf; stroke-width: 1.15"/>
</g>
<g id="text_73">
<text style="font-size: 8.4px; font-family: 'DejaVu Sans', 'Liberation Sans', sans-serif; text-anchor: start" x="514.02" y="275.37">loss-3</text>
</g>
<g id="line2d_81">
<path d="M 488.4 285.24 
L 497.85 285.24 
L 507.3 285.24 
" style="fill: none; stroke: #c6c61a; stroke-width: 1.15"/>
</g>
<g id="text_74">
<text style="font-size: 8.4px; font-family: 'DejaVu Sans', 'Liberation Sans', sans-serif; text-anchor: start" x="514.02" y="288.18">loss-4</text>
</g>
<g id="line2d_82">
<path d="M 488.4 298.05 
L 497.85 298.05 
L 507.3 298.05 
" style="fill: none; stroke: #8b6cf0; stroke-width: 1.15"/>
</g>
<g id="text_75">
<text style="font-size: 8.4px; font-family: 'DejaVu Sans', 'Liberation Sans', sans-serif; text-anchor: start" x="514.02" y="300.99">loss-5</text>
</g>
<g id="line2d_83">
<path d="M 488.4 310.86 
L 497.85 310.86 
L 507.3 310.86 
" style="fill: none; stroke: #e27ae8; stroke-width: 1.15"/>
</g>
<g id="text_76">
<text style="font-size: 8.4px; font-family: 'DejaVu Sans', 'Liberation Sans', sans-serif; text-anchor: start" x="514.02" y="313.8">loss-6</text>
</g>
<g id="line2d_84">
<path d="M 488.4 323.66 
L 497.85 323.66 
L 507.3 323.66 
" style="fill: none; stroke: #f87474; stroke-width: 1.15"/>
</g>
<g id="text_77">
<text style="font-size: 8.4px; font-family: 'DejaVu Sans', 'Liberation Sans', sans-serif; text-anchor: start" x="514.02" y="326.6">loss-7</text>
</g>
</g>
</g>
</g>
<defs>
<clipPath id="pfeda5568fa">
<rect x="313.7" y="248.2" width="232.9" height="152.1"/>
</clipPath>
</defs>
<g><path d="M17.07 57.26L18.43 57.69L19.80 58.13L21.17 58.56L19.79 55.39L18.88 56.01L17.98 56.63L17.07 57.26Z" fill="#8f1f1f"/><path d="M18.43 57.69L19.80 58.13L21.17 58.56L22.53 59.00L20.69 54.77L19.79 55.39L18.88 56.01L17.98 56.63Z" fill="#8f1f1f"/><path d="M19.80 58.13L21.17 58.56L22.53 59.00L23.91 59.45L21.59 54.16L20.69 54.77L19.79 55.39L18.88 56.01Z" fill="#8f1f1f"/><path d="M21.17 58.56L22.53 59.00L23.91 59.45L25.28 59.89L22.48 53.55L21.59 54.16L20.69 54.77L19.79 55.39Z" fill="#8f1f1f"/><path d="M22.53 59.00L23.91 59.45L25.28 59.89L26.65 60.35L23.38 52.95L22.48 53.55L21.59 54.16L20.69 54.77Z" fill="#8f1f1f"/><path d="M23.91 59.45L25.28 59.89L26.65 60.35L28.03 60.80L24.27 52.36L23.38 52.95L22.48 53.55L21.59 54.16Z" fill="#8f1f1f"/><path d="M25.28 59.89L26.65 60.35L28.03 60.80L29.40 61.26L25.16 51.77L24.27 52.36L23.38 52.95L22.48 53.55Z" fill="#8f1f1f"/><path d="M26.65 60.35L28.03 60.80L29.40 61.26L30.78 61.73L26.05 51.18L25.16 51.77L24.27 52.36L23.38 52.95Z" fill="#931f1f"/><path d="M28.03 60.80L29.40 61.26L30.78 61.73L32.16 62.20L26.94 50.61L26.05 51.18L25.16 51.77L24.27 52.36Z" fill="#931f1f"/><path d="M29.40 61.26L30.78 61.73L32.16 62.20L33.55 62.68L27.83 50.03L26.94 50.61L26.05 51.18L25.16 51.77Z" fill="#931f1f"/><path d="M30.78 61.73L32.16 62.20L33.55 62.68L34.93 63.17L28.71 49.47L27.83 50.03L26.94 50.61L26.05 51.18Z" fill="#931f1f"/><path d="M32.16 62.20L33.55 62.68L34.93 63.17L36.32 63.66L29.60 48.91L28.71 49.47L27.83 50.03L26.94 50.61Z" fill="#931f1f"/><path d="M33.55 62.68L34.93 63.17L36.32 63.66L37.71 64.16L30.48 48.36L29.60 48.91L28.71 49.47L27.83 50.03Z" fill="#971f1f"/><path d="M34.93 63.17L36.32 63.66L37.71 64.16L39.10 64.66L31.36 47.82L30.48 48.36L29.60 48.91L28.71 49.47Z" fill="#971f1f"/><path d="M36.32 63.66L37.71 64.16L39.10 64.66L40.49 65.18L32.24 47.29L31.36 47.82L30.48 48.36L29.60 48.91Z" fill="#971f1f"/><path d="M37.71 64.16L39.10 64.66L40.49 65.18L41.88 65.70L33.11 46.76L32.24 47.29L31.36 47.82L30.48 48.36Z" fill="#9b1f1f"/><path d="M39.10 64.66L40.49 65.18L41.88 65.70L43.28 66.23L33.99 46.25L33.11 46.76L32.24 47.29L31.36 47.82Z" fill="#9b1f1f"/><path d="M40.49 65.18L41.88 65.70L43.28 66.23L44.67 66.77L34.86 45.74L33.99 46.25L33.11 46.76L32.24 47.29Z" fill="#9b1f1f"/><path d="M41.88 65.70L43.28 66.23L44.67 66.77L46.07 67.32L35.73 45.25L34.86 45.74L33.99 46.25L33.11 46.76Z" fill="#9f1f1f"/><path d="M43.28 66.23L44.67 66.77L46.07 67.32L47.47 67.88L36.60 44.76L35.73 45.25L34.86 45.74L33.99 46.25Z" fill="#9f1f1f"/><path d="M44.67 66.77L46.07 67.32L47.47 67.88L48.88 68.46L37.47 44.29L36.60 44.76L35.73 45.25L34.86 45.74Z" fill="#9f1f1f"/><path d="M46.07 67.32L47.47 67.88L48.88 68.46L50.28 69.04L38.33 43.83L37.47 44.29L36.60 44.76L35.73 45.25Z" fill="#a31f1f"/><path d="M47.47 67.88L48.88 68.46L50.28 69.04L51.69 69.64L39.20 43.38L38.33 43.83L37.47 44.29L36.60 44.76Z" fill="#a31f1f"/><path d="M48.88 68.46L50.28 69.04L51.69 69.64L53.10 70.25L40.06 42.94L39.20 43.38L38.33 43.83L37.47 44.29Z" fill="#a71f1f"/><path d="M50.28 69.04L51.69 69.64L53.10 70.25L54.51 70.87L40.92 42.52L40.06 42.94L39.20 43.38L38.33 43.83Z" fill="#a71f1f"/><path d="M51.69 69.64L53.10 70.25L54.51 70.87L55.92 71.51L41.78 42.11L40.92 42.52L40.06 42.94L39.20 43.38Z" fill="#ab1f1f"/><path d="M53.10 70.25L54.51 70.87L55.92 71.51L57.33 72.16L42.64 41.72L41.78 42.11L40.92 42.52L40.06 42.94Z" fill="#af1f1f"/><path d="M54.51 70.87L55.92 71.51L57.33 72.16L58.75 72.83L43.50 41.35L42.64 41.72L41.78 42.11L40.92 42.52Z" fill="#af1f1f"/><path d="M55.92 71.51L57.33 72.16L58.75 72.83L60.16 73.52L44.35 40.99L43.50 41.35L42.64 41.72L41.78 42.11Z" fill="#b31f1f"/><path d="M57.33 72.16L58.75 72.83L60.16 73.52L61.58 74.23L45.20 40.65L44.35 40.99L43.50 41.35L42.64 41.72Z" fill="#b71f1f"/><path d="M58.75 72.83L60.16 73.52L61.58 74.23L63.00 74.95L46.06 40.32L45.20 40.65L44.35 40.99L43.50 41.35Z" fill="#b71f1f"/><path d="M60.16 73.52L61.58 74.23L63.00 74.95L64.42 75.69L46.91 40.02L46.06 40.32L45.20 40.65L44.35 40.99Z" fill="#bb1f1f"/><path d="M61.58 74.23L63.00 74.95L64.42 75.69L65.85 76.46L47.76 39.74L46.91 40.02L46.06 40.32L45.20 40.65Z" fill="#bf1f1f"/><path d="M63.00 74.95L64.42 75.69L65.85 76.46L67.27 77.25L48.60 39.48L47.76 39.74L46.91 40.02L46.06 40.32Z" fill="#c31f1f"/><path d="M64.42 75.69L65.85 76.46L67.27 77.25L68.70 78.06L49.45 39.24L48.60 39.48L47.76 39.74L46.91 40.02Z" fill="#c71f1f"/><path d="M65.85 76.46L67.27 77.25L68.70 78.06L70.13 78.89L50.29 39.02L49.45 39.24L48.60 39.48L47.76 39.74Z" fill="#cb1f1f"/><path d="M67.27 77.25L68.70 78.06L70.13 78.89L71.56 79.76L51.14 38.83L50.29 39.02L49.45 39.24L48.60 39.48Z" fill="#cf1f1f"/><path d="M68.70 78.06L70.13 78.89L71.56 79.76L72.99 80.64L51.98 38.66L51.14 38.83L50.29 39.02L49.45 39.24Z" fill="#d31f1f"/><path d="M70.13 78.89L71.56 79.76L72.99 80.64L74.43 81.56L52.82 38.52L51.98 38.66L51.14 38.83L50.29 39.02Z" fill="#db1f1f"/><path d="M71.56 79.76L72.99 80.64L74.43 81.56L75.86 82.50L53.66 38.40L52.82 38.52L51.98 38.66L51.14 38.83Z" fill="#df1f1f"/><path d="M72.99 80.64L74.43 81.56L75.86 82.50L77.30 83.47L54.49 38.32L53.66 38.40L52.82 38.52L51.98 38.66Z" fill="#e31f1f"/><path d="M74.43 81.56L75.86 82.50L77.30 83.47L78.73 84.48L55.33 38.26L54.49 38.32L53.66 38.40L52.82 38.52Z" fill="#eb1f1f"/><path d="M75.86 82.50L77.30 83.47L78.73 84.48L80.17 85.51L56.16 38.23L55.33 38.26L54.49 38.32L53.66 38.40Z" fill="#ef221f"/><path d="M77.30 83.47L78.73 84.48L80.17 85.51L81.61 86.58L56.99 38.24L56.16 38.23L55.33 38.26L54.49 38.32Z" fill="#f7291f"/><path d="M78.73 84.48L80.17 85.51L81.61 86.58L83.05 87.69L57.82 38.27L56.99 38.24L56.16 38.23L55.33 38.26Z" fill="#ff2f1f"/><path d="M80.17 85.51L81.61 86.58L83.05 87.69L84.50 88.82L58.65 38.34L57.82 38.27L56.99 38.24L56.16 38.23Z" fill="#ff361f"/><path d="M81.61 86.58L83.05 87.69L84.50 88.82L85.94 90.00L59.48 38.44L58.65 38.34L57.82 38.27L56.99 38.24Z" fill="#ff3c1f"/><path d="M83.05 87.69L84.50 88.82L85.94 90.00L87.38 91.21L60.31 38.58L59.48 38.44L58.65 38.34L57.82 38.27Z" fill="#ff431f"/><path d="M84.50 88.82L85.94 90.00L87.38 91.21L88.83 92.46L61.13 38.74L60.31 38.58L59.48 38.44L58.65 38.34Z" fill="#ff491f"/><path d="M85.94 90.00L87.38 91.21L88.83 92.46L90.28 93.74L61.95 38.95L61.13 38.74L60.31 38.58L59.48 38.44Z" fill="#ff501f"/><path d="M87.38 91.21L88.83 92.46L90.28 93.74L91.72 95.07L62.78 39.19L61.95 38.95L61.13 38.74L60.31 38.58Z" fill="#ff561f"/><path d="M88.83 92.46L90.28 93.74L91.72 95.07L93.17 96.43L63.59 39.46L62.78 39.19L61.95 38.95L61.13 38.74Z" fill="#ff601f"/><path d="M90.28 93.74L91.72 95.07L93.17 96.43L94.62 97.83L64.41 39.77L63.59 39.46L62.78 39.19L61.95 38.95Z" fill="#ff661f"/><path d="M91.72 95.07L93.17 96.43L94.62 97.83L96.07 99.28L65.23 40.12L64.41 39.77L63.59 39.46L62.78 39.19Z" fill="#ff701f"/><path d="M93.17 96.43L94.62 97.83L96.07 99.28L97.52 100.76L66.04 40.50L65.23 40.12L64.41 39.77L63.59 39.46Z" fill="#ff771f"/><path d="M94.62 97.83L96.07 99.28L97.52 100.76L98.96 102.28L66.85 40.91L66.04 40.50L65.23 40.12L64.41 39.77Z" fill="#ff811f"/><path d="M96.07 99.28L97.52 100.76L98.96 102.28L100.41 103.83L67.67 41.36L66.85 40.91L66.04 40.50L65.23 40.12Z" fill="#ff8a1f"/><path d="M97.52 100.76L98.96 102.28L100.41 103.83L101.86 105.43L68.47 41.85L67.67 41.36L66.85 40.91L66.04 40.50Z" fill="#ff941f"/><path d="M98.96 102.28L100.41 103.83L101.86 105.43L103.31 107.06L69.28 42.36L68.47 41.85L67.67 41.36L66.85 40.91Z" fill="#ffa11f"/><path d="M100.41 103.83L101.86 105.43L103.31 107.06L104.76 108.73L70.08 42.91L69.28 42.36L68.47 41.85L67.67 41.36Z" fill="#ffab1f"/><path d="M101.86 105.43L103.31 107.06L104.76 108.73L106.21 110.43L70.89 43.49L70.08 42.91L69.28 42.36L68.47 41.85Z" fill="#ffb51f"/><path d="M103.31 107.06L104.76 108.73L106.21 110.43L107.66 112.17L71.69 44.09L70.89 43.49L70.08 42.91L69.28 42.36Z" fill="#ffc21f"/><path d="M104.76 108.73L106.21 110.43L107.66 112.17L109.11 113.93L72.49 44.72L71.69 44.09L70.89 43.49L70.08 42.91Z" fill="#ffcc1f"/><path d="M106.21 110.43L107.66 112.17L109.11 113.93L110.56 115.72L73.28 45.38L72.49 44.72L71.69 44.09L70.89 43.49Z" fill="#ffd91f"/><path d="M107.66 112.17L109.11 113.93L110.56 115.72L112.01 117.54L74.08 46.06L73.28 45.38L72.49 44.72L71.69 44.09Z" fill="#ffe61f"/><path d="M109.11 113.93L110.56 115.72L112.01 117.54L113.46 119.39L74.87 46.76L74.08 46.06L73.28 45.38L72.49 44.72Z" fill="#fbf31f"/><path d="M110.56 115.72L112.01 117.54L113.46 119.39L114.91 121.25L75.66 47.48L74.87 46.76L74.08 46.06L73.28 45.38Z" fill="#f0ff26"/><path d="M112.01 117.54L113.46 119.39L114.91 121.25L116.35 123.13L76.44 48.21L75.66 47.48L74.87 46.76L74.08 46.06Z" fill="#e5ff32"/><path d="M113.46 119.39L114.91 121.25L116.35 123.13L117.80 125.03L77.23 48.96L76.44 48.21L75.66 47.48L74.87 46.76Z" fill="#d9ff3d"/><path d="M114.91 121.25L116.35 123.13L117.80 125.03L119.25 126.94L78.01 49.71L77.23 48.96L76.44 48.21L75.66 47.48Z" fill="#ceff48"/><path d="M116.35 123.13L117.80 125.03L119.25 126.94L120.69 128.87L78.79 50.47L78.01 49.71L77.23 48.96L76.44 48.21Z" fill="#c3ff54"/><path d="M117.80 125.03L119.25 126.94L120.69 128.87L122.14 130.79L79.56 51.24L78.79 50.47L78.01 49.71L77.23 48.96Z" fill="#b7ff5f"/><path d="M119.25 126.94L120.69 128.87L122.14 130.79L123.58 132.72L80.34 52.00L79.56 51.24L78.79 50.47L78.01 49.71Z" fill="#a9ff6d"/><path d="M120.69 128.87L122.14 130.79L123.58 132.72L124.37 133.43L81.62 53.72L80.34 52.00L79.56 51.24L78.79 50.47Z" fill="#9eff79"/><path d="M122.14 130.79L123.58 132.72L124.37 133.43L125.16 134.14L82.90 55.43L81.62 53.72L80.34 52.00L79.56 51.24Z" fill="#92ff84"/><path d="M123.58 132.72L124.37 133.43L125.16 134.14L125.95 134.83L84.19 57.13L82.90 55.43L81.62 53.72L80.34 52.00Z" fill="#84ff92"/><path d="M124.37 133.43L125.16 134.14L125.95 134.83L126.73 135.52L85.47 58.83L84.19 57.13L82.90 55.43L81.62 53.72Z" fill="#79ff9e"/><path d="M125.16 134.14L125.95 134.83L126.73 135.52L127.51 136.18L86.75 60.51L85.47 58.83L84.19 57.13L82.90 55.43Z" fill="#6dffa9"/><path d="M125.95 134.83L126.73 135.52L127.51 136.18L128.29 136.83L88.03 62.18L86.75 60.51L85.47 58.83L84.19 57.13Z" fill="#5fffb7"/><path d="M126.73 135.52L127.51 136.18L128.29 136.83L129.06 137.46L89.31 63.83L88.03 62.18L86.75 60.51L85.47 58.83Z" fill="#54ffc3"/><path d="M127.51 136.18L128.29 136.83L129.06 137.46L129.84 138.07L90.59 65.47L89.31 63.83L88.03 62.18L86.75 60.51Z" fill="#48ffce"/><path d="M128.29 136.83L129.06 137.46L129.84 138.07L130.61 138.65L91.87 67.07L90.59 65.47L89.31 63.83L88.03 62.18Z" fill="#3dffd9"/><path d="M129.06 137.46L129.84 138.07L130.61 138.65L131.37 139.20L93.15 68.66L91.87 67.07L90.59 65.47L89.31 63.83Z" fill="#32ffe5"/><path d="M129.84 138.07L130.61 138.65L131.37 139.20L132.14 139.72L94.43 70.22L93.15 68.66L91.87 67.07L90.59 65.47Z" fill="#26f2f0"/><path d="M130.61 138.65L131.37 139.20L132.14 139.72L132.90 140.21L95.71 71.75L94.43 70.22L93.15 68.66L91.87 67.07Z" fill="#1fe4fb"/><path d="M131.37 139.20L132.14 139.72L132.90 140.21L133.66 140.67L96.99 73.25L95.71 71.75L94.43 70.22L93.15 68.66Z" fill="#1fd6ff"/><path d="M132.14 139.72L132.90 140.21L133.66 140.67L134.42 141.10L98.27 74.72L96.99 73.25L95.71 71.75L94.43 70.22Z" fill="#1fc8ff"/><path d="M132.90 140.21L133.66 140.67L134.42 141.10L135.18 141.48L99.55 76.16L98.27 74.72L96.99 73.25L95.71 71.75Z" fill="#1fbaff"/><path d="M133.66 140.67L134.42 141.10L135.18 141.48L135.93 141.84L100.83 77.57L99.55 76.16L98.27 74.72L96.99 73.25Z" fill="#1fafff"/><path d="M134.42 141.10L135.18 141.48L135.93 141.84L136.69 142.15L102.10 78.94L100.83 77.57L99.55 76.16L98.27 74.72Z" fill="#1fa1ff"/><path d="M135.18 141.48L135.93 141.84L136.69 142.15L137.44 142.43L103.38 80.28L102.10 78.94L100.83 77.57L99.55 76.16Z" fill="#1f97ff"/><path d="M135.93 141.84L136.69 142.15L137.44 142.43L138.19 142.67L104.66 81.59L103.38 80.28L102.10 78.94L100.83 77.57Z" fill="#1f8cff"/><path d="M136.69 142.15L137.44 142.43L138.19 142.67L138.94 142.88L105.94 82.86L104.66 81.59L103.38 80.28L102.10 78.94Z" fill="#1f7eff"/><path d="M137.44 142.43L138.19 142.67L138.94 142.88L139.68 143.04L107.22 84.10L105.94 82.86L104.66 81.59L103.38 80.28Z" fill="#1f74ff"/><path d="M138.19 142.67L138.94 142.88L139.68 143.04L140.43 143.17L108.50 85.30L107.22 84.10L105.94 82.86L104.66 81.59Z" fill="#1f69ff"/><path d="M138.94 142.88L139.68 143.04L140.43 143.17L141.17 143.27L109.79 86.47L108.50 85.30L107.22 84.10L105.94 82.86Z" fill="#1f5eff"/><path d="M139.68 143.04L140.43 143.17L141.17 143.27L141.92 143.32L111.07 87.60L109.79 86.47L108.50 85.30L107.22 84.10Z" fill="#1f57ff"/><path d="M140.43 143.17L141.17 143.27L141.92 143.32L142.66 143.35L112.35 88.71L111.07 87.60L109.79 86.47L108.50 85.30Z" fill="#1f4dff"/><path d="M141.17 143.27L141.92 143.32L142.66 143.35L143.40 143.34L113.63 89.78L112.35 88.71L111.07 87.60L109.79 86.47Z" fill="#1f46ff"/><path d="M141.92 143.32L142.66 143.35L143.40 143.34L144.13 143.29L114.92 90.82L113.63 89.78L112.35 88.71L111.07 87.60Z" fill="#1f3bff"/><path d="M142.66 143.35L143.40 143.34L144.13 143.29L144.87 143.21L116.20 91.83L114.92 90.82L113.63 89.78L112.35 88.71Z" fill="#1f34ff"/><path d="M143.40 143.34L144.13 143.29L144.87 143.21L145.60 143.10L117.49 92.80L116.20 91.83L114.92 90.82L113.63 89.78Z" fill="#1f2dff"/><path d="M144.13 143.29L144.87 143.21L145.60 143.10L146.34 142.96L118.77 93.75L117.49 92.80L116.20 91.83L114.92 90.82Z" fill="#1f26ff"/><path d="M144.87 143.21L145.60 143.10L146.34 142.96L147.07 142.79L120.06 94.68L118.77 93.75L117.49 92.80L116.20 91.83Z" fill="#1f1fff"/><path d="M145.60 143.10L146.34 142.96L147.07 142.79L147.80 142.60L121.35 95.57L120.06 94.68L118.77 93.75L117.49 92.80Z" fill="#1f1fff"/><path d="M146.34 142.96L147.07 142.79L147.80 142.60L148.53 142.37L122.64 96.44L121.35 95.57L120.06 94.68L118.77 93.75Z" fill="#1f1fff"/><path d="M147.07 142.79L147.80 142.60L148.53 142.37L149.26 142.12L123.93 97.28L122.64 96.44L121.35 95.57L120.06 94.68Z" fill="#1f1ff7"/><path d="M147.80 142.60L148.53 142.37L149.26 142.12L149.99 141.84L125.22 98.10L123.93 97.28L122.64 96.44L121.35 95.57Z" fill="#1f1fef"/><path d="M148.53 142.37L149.26 142.12L149.99 141.84L150.72 141.54L126.52 98.90L125.22 98.10L123.93 97.28L122.64 96.44Z" fill="#1f1feb"/><path d="M149.26 142.12L149.99 141.84L150.72 141.54L151.44 141.22L127.81 99.67L126.52 98.90L125.22 98.10L123.93 97.28Z" fill="#1f1fe3"/><path d="M149.99 141.84L150.72 141.54L151.44 141.22L152.17 140.87L129.11 100.42L127.81 99.67L126.52 98.90L125.22 98.10Z" fill="#1f1fdf"/><path d="M150.72 141.54L151.44 141.22L152.17 140.87L152.89 140.51L130.40 101.16L129.11 100.42L127.81 99.67L126.52 98.90Z" fill="#1f1fdb"/><path d="M151.44 141.22L152.17 140.87L152.89 140.51L153.61 140.12L131.70 101.87L130.40 101.16L129.11 100.42L127.81 99.67Z" fill="#1f1fd3"/><path d="M152.17 140.87L152.89 140.51L153.61 140.12L154.33 139.72L133.00 102.56L131.70 101.87L130.40 101.16L129.11 100.42Z" fill="#1f1fcf"/><path d="M152.89 140.51L153.61 140.12L154.33 139.72L155.05 139.29L134.30 103.24L133.00 102.56L131.70 101.87L130.40 101.16Z" fill="#1f1fcb"/><path d="M153.61 140.12L154.33 139.72L155.05 139.29L155.77 138.86L135.61 103.90L134.30 103.24L133.00 102.56L131.70 101.87Z" fill="#1f1fc7"/><path d="M154.33 139.72L155.05 139.29L155.77 138.86L156.48 138.40L136.91 104.55L135.61 103.90L134.30 103.24L133.00 102.56Z" fill="#1f1fc3"/><path d="M155.05 139.29L155.77 138.86L156.48 138.40L157.20 137.93L138.21 105.18L136.91 104.55L135.61 103.90L134.30 103.24Z" fill="#1f1fbf"/><path d="M155.77 138.86L156.48 138.40L157.20 137.93L157.91 137.45L139.52 105.79L138.21 105.18L136.91 104.55L135.61 103.90Z" fill="#1f1fbb"/><path d="M156.48 138.40L157.20 137.93L157.91 137.45L158.63 136.95L140.83 106.40L139.52 105.79L138.21 105.18L136.91 104.55Z" fill="#1f1fb7"/><path d="M157.20 137.93L157.91 137.45L158.63 136.95L159.34 136.44L142.14 106.99L140.83 106.40L139.52 105.79L138.21 105.18Z" fill="#1f1fb7"/><path d="M157.91 137.45L158.63 136.95L159.34 136.44L160.05 135.92L143.45 107.57L142.14 106.99L140.83 106.40L139.52 105.79Z" fill="#1f1fb3"/><path d="M158.63 136.95L159.34 136.44L160.05 135.92L160.76 135.39L144.76 108.13L143.45 107.57L142.14 106.99L140.83 106.40Z" fill="#1f1faf"/><path d="M159.34 136.44L160.05 135.92L160.76 135.39L161.47 134.85L146.08 108.69L144.76 108.13L143.45 107.57L142.14 106.99Z" fill="#1f1faf"/><path d="M160.05 135.92L160.76 135.39L161.47 134.85L162.17 134.30L147.39 109.24L146.08 108.69L144.76 108.13L143.45 107.57Z" fill="#1f1fab"/><path d="M160.76 135.39L161.47 134.85L162.17 134.30L162.88 133.74L148.71 109.78L147.39 109.24L146.08 108.69L144.76 108.13Z" fill="#1f1fa7"/><path d="M161.47 134.85L162.17 134.30L162.88 133.74L163.58 133.17L150.03 110.30L148.71 109.78L147.39 109.24L146.08 108.69Z" fill="#1f1fa7"/><path d="M162.17 134.30L162.88 133.74L163.58 133.17L164.29 132.60L151.35 110.82L150.03 110.30L148.71 109.78L147.39 109.24Z" fill="#1f1fa3"/><path d="M162.88 133.74L163.58 133.17L164.29 132.60L164.99 132.02L152.67 111.34L151.35 110.82L150.03 110.30L148.71 109.78Z" fill="#1f1fa3"/><path d="M163.58 133.17L164.29 132.60L164.99 132.02L165.69 131.43L153.99 111.84L152.67 111.34L151.35 110.82L150.03 110.30Z" fill="#1f1f9f"/><path d="M164.29 132.60L164.99 132.02L165.69 131.43L166.39 130.83L155.32 112.34L153.99 111.84L152.67 111.34L151.35 110.82Z" fill="#1f1f9f"/><path d="M164.99 132.02L165.69 131.43L166.39 130.83L167.09 130.23L156.64 112.83L155.32 112.34L153.99 111.84L152.67 111.34Z" fill="#1f1f9f"/><path d="M165.69 131.43L166.39 130.83L167.09 130.23L167.78 129.62L157.97 113.32L156.64 112.83L155.32 112.34L153.99 111.84Z" fill="#1f1f9b"/><path d="M166.39 130.83L167.09 130.23L167.78 129.62L168.48 129.01L159.30 113.80L157.97 113.32L156.64 112.83L155.32 112.34Z" fill="#1f1f9b"/><path d="M167.09 130.23L167.78 129.62L168.48 129.01L169.17 128.40L160.63 114.28L159.30 113.80L157.97 113.32L156.64 112.83Z" fill="#1f1f9b"/><path d="M167.78 129.62L168.48 129.01L169.17 128.40L169.87 127.78L161.97 114.75L160.63 114.28L159.30 113.80L157.97 113.32Z" fill="#1f1f97"/><path d="M168.48 129.01L169.17 128.40L169.87 127.78L170.56 127.15L163.30 115.21L161.97 114.75L160.63 114.28L159.30 113.80Z" fill="#1f1f97"/><path d="M169.17 128.40L169.87 127.78L170.56 127.15L171.25 126.52L164.64 115.67L163.30 115.21L161.97 114.75L160.63 114.28Z" fill="#1f1f97"/><path d="M169.87 127.78L170.56 127.15L171.25 126.52L171.94 125.89L165.97 116.13L164.64 115.67L163.30 115.21L161.97 114.75Z" fill="#1f1f93"/><path d="M170.56 127.15L171.25 126.52L171.94 125.89L172.63 125.26L167.31 116.59L165.97 116.13L164.64 115.67L163.30 115.21Z" fill="#1f1f93"/><path d="M171.25 126.52L171.94 125.89L172.63 125.26L173.31 124.62L168.65 117.04L167.31 116.59L165.97 116.13L164.64 115.67Z" fill="#1f1f93"/><path d="M171.94 125.89L172.63 125.26L173.31 124.62L174.00 123.98L170.00 117.48L168.65 117.04L167.31 116.59L165.97 116.13Z" fill="#1f1f93"/><path d="M172.63 125.26L173.31 124.62L174.00 123.98L174.68 123.34L171.34 117.93L170.00 117.48L168.65 117.04L167.31 116.59Z" fill="#1f1f93"/><path d="M173.31 124.62L174.00 123.98L174.68 123.34L175.36 122.70L172.69 118.37L171.34 117.93L170.00 117.48L168.65 117.04Z" fill="#1f1f8f"/><path d="M174.00 123.98L174.68 123.34L175.36 122.70L176.05 122.06L174.03 118.81L172.69 118.37L171.34 117.93L170.00 117.48Z" fill="#1f1f8f"/><path d="M174.68 123.34L175.36 122.70L176.05 122.06L176.73 121.41L175.38 119.25L174.03 118.81L172.69 118.37L171.34 117.93Z" fill="#1f1f8f"/><path d="M175.36 122.70L176.05 122.06L176.73 121.41L177.41 120.76L176.73 119.68L175.38 119.25L174.03 118.81L172.69 118.37Z" fill="#1f1f8f"/><path d="M176.05 122.06L176.73 121.41L177.41 120.76L178.08 120.11L178.08 120.11L176.73 119.68L175.38 119.25L174.03 118.81Z" fill="#1f1f8f"/><path d="M176.73 121.41L177.41 120.76L178.08 120.11L178.08 120.11L176.73 119.68L175.38 119.25Z" fill="#1f1f8f"/><path d="M177.41 120.76L178.08 120.11L178.08 120.11L176.73 119.68Z" fill="#1f1f8f"/></g><g><path d="M332.87 57.26L334.23 57.69L335.60 58.13L336.97 58.56L335.59 55.39L334.68 56.01L333.78 56.63L332.87 57.26Z" fill="#8f1f1f"/><path d="M334.23 57.69L335.60 58.13L336.97 58.56L338.33 59.00L336.49 54.77L335.59 55.39L334.68 56.01L333.78 56.63Z" fill="#8f1f1f"/><path d="M335.60 58.13L336.97 58.56L338.33 59.00L339.71 59.45L337.39 54.16L336.49 54.77L335.59 55.39L334.68 56.01Z" fill="#8f1f1f"/><path d="M336.97 58.56L338.33 59.00L339.71 59.45L341.08 59.89L338.28 53.55L337.39 54.16L336.49 54.77L335.59 55.39Z" fill="#8f1f1f"/><path d="M338.33 59.00L339.71 59.45L341.08 59.89L342.45 60.35L339.18 52.95L338.28 53.55L337.39 54.16L336.49 54.77Z" fill="#8f1f1f"/><path d="M339.71 59.45L341.08 59.89L342.45 60.35L343.83 60.80L340.07 52.36L339.18 52.95L338.28 53.55L337.39 54.16Z" fill="#8f1f1f"/><path d="M341.08 59.89L342.45 60.35L343.83 60.80L345.20 61.26L340.96 51.77L340.07 52.36L339.18 52.95L338.28 53.55Z" fill="#8f1f1f"/><path d="M342.45 60.35L343.83 60.80L345.20 61.26L346.58 61.73L341.85 51.18L340.96 51.77L340.07 52.36L339.18 52.95Z" fill="#931f1f"/><path d="M343.83 60.80L345.20 61.26L346.58 61.73L347.96 62.20L342.74 50.61L341.85 51.18L340.96 51.77L340.07 52.36Z" fill="#931f1f"/><path d="M345.20 61.26L346.58 61.73L347.96 62.20L349.35 62.68L343.63 50.03L342.74 50.61L341.85 51.18L340.96 51.77Z" fill="#931f1f"/><path d="M346.58 61.73L347.96 62.20L349.35 62.68L350.73 63.17L344.51 49.47L343.63 50.03L342.74 50.61L341.85 51.18Z" fill="#931f1f"/><path d="M347.96 62.20L349.35 62.68L350.73 63.17L352.12 63.66L345.40 48.91L344.51 49.47L343.63 50.03L342.74 50.61Z" fill="#931f1f"/><path d="M349.35 62.68L350.73 63.17L352.12 63.66L353.51 64.16L346.28 48.36L345.40 48.91L344.51 49.47L343.63 50.03Z" fill="#971f1f"/><path d="M350.73 63.17L352.12 63.66L353.51 64.16L354.90 64.66L347.16 47.82L346.28 48.36L345.40 48.91L344.51 49.47Z" fill="#971f1f"/><path d="M352.12 63.66L353.51 64.16L354.90 64.66L356.29 65.18L348.04 47.29L347.16 47.82L346.28 48.36L345.40 48.91Z" fill="#971f1f"/><path d="M353.51 64.16L354.90 64.66L356.29 65.18L357.68 65.70L348.91 46.76L348.04 47.29L347.16 47.82L346.28 48.36Z" fill="#9b1f1f"/><path d="M354.90 64.66L356.29 65.18L357.68 65.70L359.08 66.23L349.79 46.25L348.91 46.76L348.04 47.29L347.16 47.82Z" fill="#9b1f1f"/><path d="M356.29 65.18L357.68 65.70L359.08 66.23L360.47 66.77L350.66 45.74L349.79 46.25L348.91 46.76L348.04 47.29Z" fill="#9b1f1f"/><path d="M357.68 65.70L359.08 66.23L360.47 66.77L361.87 67.32L351.53 45.25L350.66 45.74L349.79 46.25L348.91 46.76Z" fill="#9f1f1f"/><path d="M359.08 66.23L360.47 66.77L361.87 67.32L363.27 67.88L352.40 44.76L351.53 45.25L350.66 45.74L349.79 46.25Z" fill="#9f1f1f"/><path d="M360.47 66.77L361.87 67.32L363.27 67.88L364.68 68.46L353.27 44.29L352.40 44.76L351.53 45.25L350.66 45.74Z" fill="#9f1f1f"/><path d="M361.87 67.32L363.27 67.88L364.68 68.46L366.08 69.04L354.13 43.83L353.27 44.29L352.40 44.76L351.53 45.25Z" fill="#a31f1f"/><path d="M363.27 67.88L364.68 68.46L366.08 69.04L367.49 69.64L355.00 43.38L354.13 43.83L353.27 44.29L352.40 44.76Z" fill="#a31f1f"/><path d="M364.68 68.46L366.08 69.04L367.49 69.64L368.90 70.25L355.86 42.94L355.00 43.38L354.13 43.83L353.27 44.29Z" fill="#a71f1f"/><path d="M366.08 69.04L367.49 69.64L368.90 70.25L370.31 70.87L356.72 42.52L355.86 42.94L355.00 43.38L354.13 43.83Z" fill="#a71f1f"/><path d="M367.49 69.64L368.90 70.25L370.31 70.87L371.72 71.51L357.58 42.11L356.72 42.52L355.86 42.94L355.00 43.38Z" fill="#ab1f1f"/><path d="M368.90 70.25L370.31 70.87L371.72 71.51L373.13 72.16L358.44 41.72L357.58 42.11L356.72 42.52L355.86 42.94Z" fill="#af1f1f"/><path d="M370.31 70.87L371.72 71.51L373.13 72.16L374.55 72.83L359.30 41.35L358.44 41.72L357.58 42.11L356.72 42.52Z" fill="#af1f1f"/><path d="M371.72 71.51L373.13 72.16L374.55 72.83L375.96 73.52L360.15 40.99L359.30 41.35L358.44 41.72L357.58 42.11Z" fill="#b31f1f"/><path d="M373.13 72.16L374.55 72.83L375.96 73.52L377.38 74.23L361.00 40.65L360.15 40.99L359.30 41.35L358.44 41.72Z" fill="#b71f1f"/><path d="M374.55 72.83L375.96 73.52L377.38 74.23L378.80 74.95L361.86 40.32L361.00 40.65L360.15 40.99L359.30 41.35Z" fill="#b71f1f"/><path d="M375.96 73.52L377.38 74.23L378.80 74.95L380.22 75.69L362.71 40.02L361.86 40.32L361.00 40.65L360.15 40.99Z" fill="#bb1f1f"/><path d="M377.38 74.23L378.80 74.95L380.22 75.69L381.65 76.46L363.56 39.74L362.71 40.02L361.86 40.32L361.00 40.65Z" fill="#bf1f1f"/><path d="M378.80 74.95L380.22 75.69L381.65 76.46L383.07 77.25L364.40 39.48L363.56 39.74L362.71 40.02L361.86 40.32Z" fill="#c31f1f"/><path d="M380.22 75.69L381.65 76.46L383.07 77.25L384.50 78.06L365.25 39.24L364.40 39.48L363.56 39.74L362.71 40.02Z" fill="#c71f1f"/><path d="M381.65 76.46L383.07 77.25L384.50 78.06L385.93 78.89L366.09 39.02L365.25 39.24L364.40 39.48L363.56 39.74Z" fill="#cb1f1f"/><path d="M383.07 77.25L384.50 78.06L385.93 78.89L387.36 79.76L366.94 38.83L366.09 39.02L365.25 39.24L364.40 39.48Z" fill="#cf1f1f"/><path d="M384.50 78.06L385.93 78.89L387.36 79.76L388.79 80.64L367.78 38.66L366.94 38.83L366.09 39.02L365.25 39.24Z" fill="#d31f1f"/><path d="M385.93 78.89L387.36 79.76L388.79 80.64L390.23 81.56L368.62 38.52L367.78 38.66L366.94 38.83L366.09 39.02Z" fill="#db1f1f"/><path d="M387.36 79.76L388.79 80.64L390.23 81.56L391.66 82.50L369.46 38.40L368.62 38.52L367.78 38.66L366.94 38.83Z" fill="#df1f1f"/><path d="M388.79 80.64L390.23 81.56L391.66 82.50L393.10 83.47L370.29 38.32L369.46 38.40L368.62 38.52L367.78 38.66Z" fill="#e31f1f"/><path d="M390.23 81.56L391.66 82.50L393.10 83.47L394.53 84.48L371.13 38.26L370.29 38.32L369.46 38.40L368.62 38.52Z" fill="#eb1f1f"/><path d="M391.66 82.50L393.10 83.47L394.53 84.48L395.97 85.51L371.96 38.23L371.13 38.26L370.29 38.32L369.46 38.40Z" fill="#ef221f"/><path d="M393.10 83.47L394.53 84.48L395.97 85.51L397.41 86.58L372.79 38.24L371.96 38.23L371.13 38.26L370.29 38.32Z" fill="#f7291f"/><path d="M394.53 84.48L395.97 85.51L397.41 86.58L398.85 87.69L373.62 38.27L372.79 38.24L371.96 38.23L371.13 38.26Z" fill="#ff2f1f"/><path d="M395.97 85.51L397.41 86.58L398.85 87.69L400.30 88.82L374.45 38.34L373.62 38.27L372.79 38.24L371.96 38.23Z" fill="#ff361f"/><path d="M397.41 86.58L398.85 87.69L400.30 88.82L401.74 90.00L375.28 38.44L374.45 38.34L373.62 38.27L372.79 38.24Z" fill="#ff3c1f"/><path d="M398.85 87.69L400.30 88.82L401.74 90.00L403.18 91.21L376.11 38.58L375.28 38.44L374.45 38.34L373.62 38.27Z" fill="#ff431f"/><path d="M400.30 88.82L401.74 90.00L403.18 91.21L404.63 92.46L376.93 38.74L376.11 38.58L375.28 38.44L374.45 38.34Z" fill="#ff491f"/><path d="M401.74 90.00L403.18 91.21L404.63 92.46L406.08 93.74L377.75 38.95L376.93 38.74L376.11 38.58L375.28 38.44Z" fill="#ff501f"/><path d="M403.18 91.21L404.63 92.46L406.08 93.74L407.52 95.07L378.58 39.19L377.75 38.95L376.93 38.74L376.11 38.58Z" fill="#ff561f"/><path d="M404.63 92.46L406.08 93.74L407.52 95.07L408.97 96.43L379.39 39.46L378.58 39.19L377.75 38.95L376.93 38.74Z" fill="#ff601f"/><path d="M406.08 93.74L407.52 95.07L408.97 96.43L410.42 97.83L380.21 39.77L379.39 39.46L378.58 39.19L377.75 38.95Z" fill="#ff661f"/><path d="M407.52 95.07L408.97 96.43L410.42 97.83L411.87 99.28L381.03 40.12L380.21 39.77L379.39 39.46L378.58 39.19Z" fill="#ff701f"/><path d="M408.97 96.43L410.42 97.83L411.87 99.28L413.32 100.76L381.84 40.50L381.03 40.12L380.21 39.77L379.39 39.46Z" fill="#ff771f"/><path d="M410.42 97.83L411.87 99.28L413.32 100.76L414.76 102.28L382.65 40.91L381.84 40.50L381.03 40.12L380.21 39.77Z" fill="#ff811f"/><path d="M411.87 99.28L413.32 100.76L414.76 102.28L416.21 103.83L383.47 41.36L382.65 40.91L381.84 40.50L381.03 40.12Z" fill="#ff8a1f"/><path d="M413.32 100.76L414.76 102.28L416.21 103.83L417.66 105.43L384.27 41.85L383.47 41.36L382.65 40.91L381.84 40.50Z" fill="#ff941f"/><path d="M414.76 102.28L416.21 103.83L417.66 105.43L419.11 107.06L385.08 42.36L384.27 41.85L383.47 41.36L382.65 40.91Z" fill="#ffa11f"/><path d="M416.21 103.83L417.66 105.43L419.11 107.06L420.56 108.73L385.88 42.91L385.08 42.36L384.27 41.85L383.47 41.36Z" fill="#ffab1f"/><path d="M417.66 105.43L419.11 107.06L420.56 108.73L422.01 110.43L386.69 43.49L385.88 42.91L385.08 42.36L384.27 41.85Z" fill="#ffb51f"/><path d="M419.11 107.06L420.56 108.73L422.01 110.43L423.46 112.17L387.49 44.09L386.69 43.49L385.88 42.91L385.08 42.36Z" fill="#ffc21f"/><path d="M420.56 108.73L422.01 110.43L423.46 112.17L424.91 113.93L388.29 44.72L387.49 44.09L386.69 43.49L385.88 42.91Z" fill="#ffcc1f"/><path d="M422.01 110.43L423.46 112.17L424.91 113.93L426.36 115.72L389.08 45.38L388.29 44.72L387.49 44.09L386.69 43.49Z" fill="#ffd91f"/><path d="M423.46 112.17L424.91 113.93L426.36 115.72L427.81 117.54L389.88 46.06L389.08 45.38L388.29 44.72L387.49 44.09Z" fill="#ffe61f"/><path d="M424.91 113.93L426.36 115.72L427.81 117.54L429.26 119.39L390.67 46.76L389.88 46.06L389.08 45.38L388.29 44.72Z" fill="#fbf31f"/><path d="M426.36 115.72L427.81 117.54L429.26 119.39L430.71 121.25L391.46 47.48L390.67 46.76L389.88 46.06L389.08 45.38Z" fill="#f0ff26"/><path d="M427.81 117.54L429.26 119.39L430.71 121.25L432.15 123.13L392.24 48.21L391.46 47.48L390.67 46.76L389.88 46.06Z" fill="#e5ff32"/><path d="M429.26 119.39L430.71 121.25L432.15 123.13L433.60 125.03L393.03 48.96L392.24 48.21L391.46 47.48L390.67 46.76Z" fill="#d9ff3d"/><path d="M430.71 121.25L432.15 123.13L433.60 125.03L435.05 126.94L393.81 49.71L393.03 48.96L392.24 48.21L391.46 47.48Z" fill="#ceff48"/><path d="M432.15 123.13L433.60 125.03L435.05 126.94L436.49 128.87L394.59 50.47L393.81 49.71L393.03 48.96L392.24 48.21Z" fill="#c3ff54"/><path d="M433.60 125.03L435.05 126.94L436.49 128.87L437.94 130.79L395.36 51.24L394.59 50.47L393.81 49.71L393.03 48.96Z" fill="#b7ff5f"/><path d="M435.05 126.94L436.49 128.87L437.94 130.79L439.38 132.72L396.14 52.00L395.36 51.24L394.59 50.47L393.81 49.71Z" fill="#a9ff6d"/><path d="M436.49 128.87L437.94 130.79L439.38 132.72L440.17 133.43L397.42 53.72L396.14 52.00L395.36 51.24L394.59 50.47Z" fill="#9eff79"/><path d="M437.94 130.79L439.38 132.72L440.17 133.43L440.96 134.14L398.70 55.43L397.42 53.72L396.14 52.00L395.36 51.24Z" fill="#92ff84"/><path d="M439.38 132.72L440.17 133.43L440.96 134.14L441.75 134.83L399.99 57.13L398.70 55.43L397.42 53.72L396.14 52.00Z" fill="#84ff92"/><path d="M440.17 133.43L440.96 134.14L441.75 134.83L442.53 135.52L401.27 58.83L399.99 57.13L398.70 55.43L397.42 53.72Z" fill="#79ff9e"/><path d="M440.96 134.14L441.75 134.83L442.53 135.52L443.31 136.18L402.55 60.51L401.27 58.83L399.99 57.13L398.70 55.43Z" fill="#6dffa9"/><path d="M441.75 134.83L442.53 135.52L443.31 136.18L444.09 136.83L403.83 62.18L402.55 60.51L401.27 58.83L399.99 57.13Z" fill="#5fffb7"/><path d="M442.53 135.52L443.31 136.18L444.09 136.83L444.86 137.46L405.11 63.83L403.83 62.18L402.55 60.51L401.27 58.83Z" fill="#54ffc3"/><path d="M443.31 136.18L444.09 136.83L444.86 137.46L445.64 138.07L406.39 65.47L405.11 63.83L403.83 62.18L402.55 60.51Z" fill="#48ffce"/><path d="M444.09 136.83L444.86 137.46L445.64 138.07L446.41 138.65L407.67 67.07L406.39 65.47L405.11 63.83L403.83 62.18Z" fill="#3dffd9"/><path d="M444.86 137.46L445.64 138.07L446.41 138.65L447.17 139.20L408.95 68.66L407.67 67.07L406.39 65.47L405.11 63.83Z" fill="#32ffe5"/><path d="M445.64 138.07L446.41 138.65L447.17 139.20L447.94 139.72L410.23 70.22L408.95 68.66L407.67 67.07L406.39 65.47Z" fill="#26f2f0"/><path d="M446.41 138.65L447.17 139.20L447.94 139.72L448.70 140.21L411.51 71.75L410.23 70.22L408.95 68.66L407.67 67.07Z" fill="#1fe4fb"/><path d="M447.17 139.20L447.94 139.72L448.70 140.21L449.46 140.67L412.79 73.25L411.51 71.75L410.23 70.22L408.95 68.66Z" fill="#1fd6ff"/><path d="M447.94 139.72L448.70 140.21L449.46 140.67L450.22 141.10L414.07 74.72L412.79 73.25L411.51 71.75L410.23 70.22Z" fill="#1fc8ff"/><path d="M448.70 140.21L449.46 140.67L450.22 141.10L450.98 141.48L415.35 76.16L414.07 74.72L412.79 73.25L411.51 71.75Z" fill="#1fbaff"/><path d="M449.46 140.67L450.22 141.10L450.98 141.48L451.73 141.84L416.63 77.57L415.35 76.16L414.07 74.72L412.79 73.25Z" fill="#1fafff"/><path d="M450.22 141.10L450.98 141.48L451.73 141.84L452.49 142.15L417.90 78.94L416.63 77.57L415.35 76.16L414.07 74.72Z" fill="#1fa1ff"/><path d="M450.98 141.48L451.73 141.84L452.49 142.15L453.24 142.43L419.18 80.28L417.90 78.94L416.63 77.57L415.35 76.16Z" fill="#1f97ff"/><path d="M451.73 141.84L452.49 142.15L453.24 142.43L453.99 142.67L420.46 81.59L419.18 80.28L417.90 78.94L416.63 77.57Z" fill="#1f8cff"/><path d="M452.49 142.15L453.24 142.43L453.99 142.67L454.74 142.88L421.74 82.86L420.46 81.59L419.18 80.28L417.90 78.94Z" fill="#1f7eff"/><path d="M453.24 142.43L453.99 142.67L454.74 142.88L455.48 143.04L423.02 84.10L421.74 82.86L420.46 81.59L419.18 80.28Z" fill="#1f74ff"/><path d="M453.99 142.67L454.74 142.88L455.48 143.04L456.23 143.17L424.30 85.30L423.02 84.10L421.74 82.86L420.46 81.59Z" fill="#1f69ff"/><path d="M454.74 142.88L455.48 143.04L456.23 143.17L456.97 143.27L425.59 86.47L424.30 85.30L423.02 84.10L421.74 82.86Z" fill="#1f5eff"/><path d="M455.48 143.04L456.23 143.17L456.97 143.27L457.72 143.32L426.87 87.60L425.59 86.47L424.30 85.30L423.02 84.10Z" fill="#1f57ff"/><path d="M456.23 143.17L456.97 143.27L457.72 143.32L458.46 143.35L428.15 88.71L426.87 87.60L425.59 86.47L424.30 85.30Z" fill="#1f4dff"/><path d="M456.97 143.27L457.72 143.32L458.46 143.35L459.20 143.34L429.43 89.78L428.15 88.71L426.87 87.60L425.59 86.47Z" fill="#1f46ff"/><path d="M457.72 143.32L458.46 143.35L459.20 143.34L459.93 143.29L430.72 90.82L429.43 89.78L428.15 88.71L426.87 87.60Z" fill="#1f3bff"/><path d="M458.46 143.35L459.20 143.34L459.93 143.29L460.67 143.21L432.00 91.83L430.72 90.82L429.43 89.78L428.15 88.71Z" fill="#1f34ff"/><path d="M459.20 143.34L459.93 143.29L460.67 143.21L461.40 143.10L433.29 92.80L432.00 91.83L430.72 90.82L429.43 89.78Z" fill="#1f2dff"/><path d="M459.93 143.29L460.67 143.21L461.40 143.10L462.14 142.96L434.57 93.75L433.29 92.80L432.00 91.83L430.72 90.82Z" fill="#1f26ff"/><path d="M460.67 143.21L461.40 143.10L462.14 142.96L462.87 142.79L435.86 94.68L434.57 93.75L433.29 92.80L432.00 91.83Z" fill="#1f1fff"/><path d="M461.40 143.10L462.14 142.96L462.87 142.79L463.60 142.60L437.15 95.57L435.86 94.68L434.57 93.75L433.29 92.80Z" fill="#1f1fff"/><path d="M462.14 142.96L462.87 142.79L463.60 142.60L464.33 142.37L438.44 96.44L437.15 95.57L435.86 94.68L434.57 93.75Z" fill="#1f1fff"/><path d="M462.87 142.79L463.60 142.60L464.33 142.37L465.06 142.12L439.73 97.28L438.44 96.44L437.15 95.57L435.86 94.68Z" fill="#1f1ff7"/><path d="M463.60 142.60L464.33 142.37L465.06 142.12L465.79 141.84L441.02 98.10L439.73 97.28L438.44 96.44L437.15 95.57Z" fill="#1f1fef"/><path d="M464.33 142.37L465.06 142.12L465.79 141.84L466.52 141.54L442.32 98.90L441.02 98.10L439.73 97.28L438.44 96.44Z" fill="#1f1feb"/><path d="M465.06 142.12L465.79 141.84L466.52 141.54L467.24 141.22L443.61 99.67L442.32 98.90L441.02 98.10L439.73 97.28Z" fill="#1f1fe3"/><path d="M465.79 141.84L466.52 141.54L467.24 141.22L467.97 140.87L444.91 100.42L443.61 99.67L442.32 98.90L441.02 98.10Z" fill="#1f1fdf"/><path d="M466.52 141.54L467.24 141.22L467.97 140.87L468.69 140.51L446.20 101.16L444.91 100.42L443.61 99.67L442.32 98.90Z" fill="#1f1fdb"/><path d="M467.24 141.22L467.97 140.87L468.69 140.51L469.41 140.12L447.50 101.87L446.20 101.16L444.91 100.42L443.61 99.67Z" fill="#1f1fd3"/><path d="M467.97 140.87L468.69 140.51L469.41 140.12L470.13 139.72L448.80 102.56L447.50 101.87L446.20 101.16L444.91 100.42Z" fill="#1f1fcf"/><path d="M468.69 140.51L469.41 140.12L470.13 139.72L470.85 139.29L450.10 103.24L448.80 102.56L447.50 101.87L446.20 101.16Z" fill="#1f1fcb"/><path d="M469.41 140.12L470.13 139.72L470.85 139.29L471.57 138.86L451.41 103.90L450.10 103.24L448.80 102.56L447.50 101.87Z" fill="#1f1fc7"/><path d="M470.13 139.72L470.85 139.29L471.57 138.86L472.28 138.40L452.71 104.55L451.41 103.90L450.10 103.24L448.80 102.56Z" fill="#1f1fc3"/><path d="M470.85 139.29L471.57 138.86L472.28 138.40L473.00 137.93L454.01 105.18L452.71 104.55L451.41 103.90L450.10 103.24Z" fill="#1f1fbf"/><path d="M471.57 138.86L472.28 138.40L473.00 137.93L473.71 137.45L455.32 105.79L454.01 105.18L452.71 104.55L451.41 103.90Z" fill="#1f1fbb"/><path d="M472.28 138.40L473.00 137.93L473.71 137.45L474.43 136.95L456.63 106.40L455.32 105.79L454.01 105.18L452.71 104.55Z" fill="#1f1fb7"/><path d="M473.00 137.93L473.71 137.45L474.43 136.95L475.14 136.44L457.94 106.99L456.63 106.40L455.32 105.79L454.01 105.18Z" fill="#1f1fb7"/><path d="M473.71 137.45L474.43 136.95L475.14 136.44L475.85 135.92L459.25 107.57L457.94 106.99L456.63 106.40L455.32 105.79Z" fill="#1f1fb3"/><path d="M474.43 136.95L475.14 136.44L475.85 135.92L476.56 135.39L460.56 108.13L459.25 107.57L457.94 106.99L456.63 106.40Z" fill="#1f1faf"/><path d="M475.14 136.44L475.85 135.92L476.56 135.39L477.27 134.85L461.88 108.69L460.56 108.13L459.25 107.57L457.94 106.99Z" fill="#1f1faf"/><path d="M475.85 135.92L476.56 135.39L477.27 134.85L477.97 134.30L463.19 109.24L461.88 108.69L460.56 108.13L459.25 107.57Z" fill="#1f1fab"/><path d="M476.56 135.39L477.27 134.85L477.97 134.30L478.68 133.74L464.51 109.78L463.19 109.24L461.88 108.69L460.56 108.13Z" fill="#1f1fa7"/><path d="M477.27 134.85L477.97 134.30L478.68 133.74L479.38 133.17L465.83 110.30L464.51 109.78L463.19 109.24L461.88 108.69Z" fill="#1f1fa7"/><path d="M477.97 134.30L478.68 133.74L479.38 133.17L480.09 132.60L467.15 110.82L465.83 110.30L464.51 109.78L463.19 109.24Z" fill="#1f1fa3"/><path d="M478.68 133.74L479.38 133.17L480.09 132.60L480.79 132.02L468.47 111.34L467.15 110.82L465.83 110.30L464.51 109.78Z" fill="#1f1fa3"/><path d="M479.38 133.17L480.09 132.60L480.79 132.02L481.49 131.43L469.79 111.84L468.47 111.34L467.15 110.82L465.83 110.30Z" fill="#1f1f9f"/><path d="M480.09 132.60L480.79 132.02L481.49 131.43L482.19 130.83L471.12 112.34L469.79 111.84L468.47 111.34L467.15 110.82Z" fill="#1f1f9f"/><path d="M480.79 132.02L481.49 131.43L482.19 130.83L482.89 130.23L472.44 112.83L471.12 112.34L469.79 111.84L468.47 111.34Z" fill="#1f1f9f"/><path d="M481.49 131.43L482.19 130.83L482.89 130.23L483.58 129.62L473.77 113.32L472.44 112.83L471.12 112.34L469.79 111.84Z" fill="#1f1f9b"/><path d="M482.19 130.83L482.89 130.23L483.58 129.62L484.28 129.01L475.10 113.80L473.77 113.32L472.44 112.83L471.12 112.34Z" fill="#1f1f9b"/><path d="M482.89 130.23L483.58 129.62L484.28 129.01L484.97 128.40L476.43 114.28L475.10 113.80L473.77 113.32L472.44 112.83Z" fill="#1f1f9b"/><path d="M483.58 129.62L484.28 129.01L484.97 128.40L485.67 127.78L477.77 114.75L476.43 114.28L475.10 113.80L473.77 113.32Z" fill="#1f1f97"/><path d="M484.28 129.01L484.97 128.40L485.67 127.78L486.36 127.15L479.10 115.21L477.77 114.75L476.43 114.28L475.10 113.80Z" fill="#1f1f97"/><path d="M484.97 128.40L485.67 127.78L486.36 127.15L487.05 126.52L480.44 115.67L479.10 115.21L477.77 114.75L476.43 114.28Z" fill="#1f1f97"/><path d="M485.67 127.78L486.36 127.15L487.05 126.52L487.74 125.89L481.77 116.13L480.44 115.67L479.10 115.21L477.77 114.75Z" fill="#1f1f93"/><path d="M486.36 127.15L487.05 126.52L487.74 125.89L488.43 125.26L483.11 116.59L481.77 116.13L480.44 115.67L479.10 115.21Z" fill="#1f1f93"/><path d="M487.05 126.52L487.74 125.89L488.43 125.26L489.11 124.62L484.45 117.04L483.11 116.59L481.77 116.13L480.44 115.67Z" fill="#1f1f93"/><path d="M487.74 125.89L488.43 125.26L489.11 124.62L489.80 123.98L485.80 117.48L484.45 117.04L483.11 116.59L481.77 116.13Z" fill="#1f1f93"/><path d="M488.43 125.26L489.11 124.62L489.80 123.98L490.48 123.34L487.14 117.93L485.80 117.48L484.45 117.04L483.11 116.59Z" fill="#1f1f93"/><path d="M489.11 124.62L489.80 123.98L490.48 123.34L491.16 122.70L488.49 118.37L487.14 117.93L485.80 117.48L484.45 117.04Z" fill="#1f1f8f"/><path d="M489.80 123.98L490.48 123.34L491.16 122.70L491.85 122.06L489.83 118.81L488.49 118.37L487.14 117.93L485.80 117.48Z" fill="#1f1f8f"/><path d="M490.48 123.34L491.16 122.70L491.85 122.06L492.53 121.41L491.18 119.25L489.83 118.81L488.49 118.37L487.14 117.93Z" fill="#1f1f8f"/><path d="M491.16 122.70L491.85 122.06L492.53 121.41L493.21 120.76L492.53 119.68L491.18 119.25L489.83 118.81L488.49 118.37Z" fill="#1f1f8f"/><path d="M491.85 122.06L492.53 121.41L493.21 120.76L493.88 120.11L493.88 120.11L492.53 119.68L491.18 119.25L489.83 118.81Z" fill="#1f1f8f"/><path d="M492.53 121.41L493.21 120.76L493.88 120.11L493.88 120.11L492.53 119.68L491.18 119.25Z" fill="#1f1f8f"/><path d="M493.21 120.76L493.88 120.11L493.88 120.11L492.53 119.68Z" fill="#1f1f8f"/></g><style>.k0{fill:#1f1f8f;stroke:#1f1f8f}.k1{fill:#1f1f97;stroke:#1f1f97}.k2{fill:#1f1fa3;stroke:#1f1fa3}.k3{fill:#1f1faf;stroke:#1f1faf}.k4{fill:#1f1fb7;stroke:#1f1fb7}.k5{fill:#1f1fc3;stroke:#1f1fc3}.k6{fill:#1f1fcf;stroke:#1f1fcf}.k7{fill:#1f1fd7;stroke:#1f1fd7}.k8{fill:#1f1fe3;stroke:#1f1fe3}.k9{fill:#1f1fef;stroke:#1f1fef}.k10{fill:#1f1ff7;stroke:#1f1ff7}.k11{fill:#1f1fff;stroke:#1f1fff}.k12{fill:#1f1fff;stroke:#1f1fff}.k13{fill:#1f2aff;stroke:#1f2aff}.k14{fill:#1f31ff;stroke:#1f31ff}.k15{fill:#1f3bff;stroke:#1f3bff}.k16{fill:#1f46ff;stroke:#1f46ff}.k17{fill:#1f4dff;stroke:#1f4dff}.k18{fill:#1f57ff;stroke:#1f57ff}.k19{fill:#1f62ff;stroke:#1f62ff}.k20{fill:#1f69ff;stroke:#1f69ff}.k21{fill:#1f74ff;stroke:#1f74ff}.k22{fill:#1f7eff;stroke:#1f7eff}.k23{fill:#1f85ff;stroke:#1f85ff}.k24{fill:#1f90ff;stroke:#1f90ff}.k25{fill:#1f9aff;stroke:#1f9aff}.k26{fill:#1fa5ff;stroke:#1fa5ff}.k27{fill:#1facff;stroke:#1facff}.k28{fill:#1fb6ff;stroke:#1fb6ff}.k29{fill:#1fc1ff;stroke:#1fc1ff}.k30{fill:#1fc8ff;stroke:#1fc8ff}.k31{fill:#1fd3ff;stroke:#1fd3ff}.k32{fill:#1fddff;stroke:#1fddff}.k33{fill:#1fe4fb;stroke:#1fe4fb}.k34{fill:#24eff3;stroke:#24eff3}.k35{fill:#2cf9ea;stroke:#2cf9ea}.k36{fill:#35ffe2;stroke:#35ffe2}.k37{fill:#3affdc;stroke:#3affdc}.k38{fill:#43ffd4;stroke:#43ffd4}.k39{fill:#4bffcb;stroke:#4bffcb}.k40{fill:#51ffc5;stroke:#51ffc5}.k41{fill:#5affbd;stroke:#5affbd}.k42{fill:#62ffb4;stroke:#62ffb4}.k43{fill:#68ffaf;stroke:#68ffaf}.k44{fill:#70ffa6;stroke:#70ffa6}.k45{fill:#79ff9e;stroke:#79ff9e}.k46{fill:#7eff98;stroke:#7eff98}.k47{fill:#87ff8f;stroke:#87ff8f}.k48{fill:#8fff87;stroke:#8fff87}.k49{fill:#98ff7e;stroke:#98ff7e}.k50{fill:#9eff79;stroke:#9eff79}.k51{fill:#a6ff70;stroke:#a6ff70}.k52{fill:#afff68;stroke:#afff68}.k53{fill:#b4ff62;stroke:#b4ff62}.k54{fill:#bdff5a;stroke:#bdff5a}.k55{fill:#c5ff51;stroke:#c5ff51}.k56{fill:#cbff4b;stroke:#cbff4b}.k57{fill:#d4ff43;stroke:#d4ff43}.k59{fill:#e2ff35;stroke:#e2ff35}.k60{fill:#eaff2c;stroke:#eaff2c}.k61{fill:#f3fc24;stroke:#f3fc24}.k62{fill:#fbf31f;stroke:#fbf31f}.k63{fill:#ffec1f;stroke:#ffec1f}.k64{fill:#ffe21f;stroke:#ffe21f}.k65{fill:#ffd91f;stroke:#ffd91f}.k66{fill:#ffd21f;stroke:#ffd21f}.k67{fill:#ffc81f;stroke:#ffc81f}.k68{fill:#ffbe1f;stroke:#ffbe1f}.k69{fill:#ffb81f;stroke:#ffb81f}.k70{fill:#ffae1f;stroke:#ffae1f}.k71{fill:#ffa41f;stroke:#ffa41f}.k72{fill:#ff9b1f;stroke:#ff9b1f}.k73{fill:#ff941f;stroke:#ff941f}.k75{fill:#ff811f;stroke:#ff811f}.k76{fill:#ff7a1f;stroke:#ff7a1f}.k77{fill:#ff701f;stroke:#ff701f}.k79{fill:#ff601f;stroke:#ff601f}.k80{fill:#ff561f;stroke:#ff561f}.k81{fill:#ff4c1f;stroke:#ff4c1f}.k82{fill:#ff461f;stroke:#ff461f}.k84{fill:#ff321f;stroke:#ff321f}.k85{fill:#f7291f;stroke:#f7291f}.k86{fill:#ef221f;stroke:#ef221f}.k88{fill:#d71f1f;stroke:#d71f1f}.k91{fill:#b71f1f;stroke:#b71f1f}</style><g stroke-width="0.7" stroke-linejoin="round"><path class="k8" d="M101.3 325.4l2 2.4l.3-.4l-2-2.4z"/><path class="k6" d="M103.3 327.8l2.1 2.1l.3-.4l-2.1-2.1z"/><path class="k10" d="M99.4 322.7l1.9 2.7l.3-.4l-1.9-2.6z"/><path class="k8" d="M100.9 325.7l2 2.4l.4-.3l-2-2.4z"/><path class="k5" d="M105.4 329.9l2.2 1.5l.3-.4l-2.2-1.5z"/><path class="k6" d="M102.9 328.1l2.2 2.2l.3-.4l-2.1-2.1z"/><path class="k13" d="M97.6 319.8l1.8 2.9l.3-.3l-1.8-2.9z"/><path class="k10" d="M99 323.1l1.9 2.6l.4-.3l-1.9-2.7z"/><path class="k8" d="M100.6 326.1l2 2.4l.3-.4l-2-2.4z"/><path class="k5" d="M105.1 330.3l2.2 1.4l.3-.3l-2.2-1.5z"/><path class="k6" d="M102.6 328.5l2.1 2.1l.4-.3l-2.2-2.2z"/><path class="k13" d="M97.3 320.2l1.7 2.9l.4-.4l-1.8-2.9z"/><path class="k10" d="M98.7 323.5l1.9 2.6l.3-.4l-1.9-2.6z"/><path class="k16" d="M95.9 316.8l1.7 3l.3-.3l-1.7-3.1z"/><path class="k4" d="M107.6 331.4l2.3 .9l.3-.4l-2.3-.9z"/><path class="k8" d="M100.2 326.6l2 2.4l.4-.5l-2-2.4z"/><path class="k4" d="M104.7 330.6l2.2 1.6l.4-.5l-2.2-1.4z"/><path class="k13" d="M96.9 320.6l1.8 2.9l.3-.4l-1.7-2.9z"/><path class="k6" d="M102.2 329l2.2 2.1l.3-.5l-2.1-2.1z"/><path class="k10" d="M98.3 323.9l1.9 2.7l.4-.5l-1.9-2.6z"/><path class="k16" d="M95.6 317.1l1.7 3.1l.3-.4l-1.7-3z"/><path class="k4" d="M107.3 331.7l2.3 1l.3-.4l-2.3-.9z"/><path class="k4" d="M104.4 331.1l2.2 1.5l.3-.4l-2.2-1.6z"/><path class="k8" d="M99.8 327l2.1 2.4l.3-.4l-2-2.4z"/><path class="k19" d="M94.4 313.5l1.5 3.3l.3-.4l-1.5-3.3z"/><path class="k13" d="M96.5 321.1l1.8 2.8l.4-.4l-1.8-2.9z"/><path class="k6" d="M101.9 329.4l2.1 2.1l.4-.4l-2.2-2.1z"/><path class="k16" d="M95.2 317.6l1.7 3l.4-.4l-1.7-3.1z"/><path class="k10" d="M97.9 324.4l1.9 2.6l.4-.4l-1.9-2.7z"/><path class="k4" d="M106.9 332.2l2.3 .9l.4-.4l-2.3-1z"/><path class="k19" d="M94 313.9l1.6 3.2l.3-.3l-1.5-3.3z"/><path class="k4" d="M104 331.5l2.2 1.6l.4-.5l-2.2-1.5z"/><path class="k13" d="M96.2 321.6l1.7 2.8l.4-.5l-1.8-2.8z"/><path class="k7" d="M99.4 327.5l2 2.4l.5-.5l-2.1-2.4z"/><path class="k5" d="M101.4 329.9l2.2 2.2l.4-.6l-2.1-2.1z"/><path class="k4" d="M109.9 332.3l2.4 .5l.3-.4l-2.4-.5z"/><path class="k16" d="M94.9 318l1.6 3.1l.4-.5l-1.7-3z"/><path class="k10" d="M97.5 324.9l1.9 2.6l.4-.5l-1.9-2.6z"/><path class="k4" d="M106.6 332.6l2.3 1l.3-.5l-2.3-.9z"/><path class="k19" d="M93.7 314.3l1.5 3.3l.4-.5l-1.6-3.2z"/><path class="k23" d="M92.9 310l1.5 3.5l.3-.4l-1.5-3.4z"/><path class="k4" d="M103.6 332.1l2.2 1.5l.4-.5l-2.2-1.6z"/><path class="k12" d="M95.8 322.1l1.7 2.8l.4-.5l-1.7-2.8z"/><path class="k4" d="M109.6 332.7l2.3 .5l.4-.4l-2.4-.5z"/><path class="k7" d="M99 328.1l2 2.4l.4-.6l-2-2.4z"/><path class="k16" d="M94.5 318.5l1.7 3.1l.3-.5l-1.6-3.1z"/><path class="k5" d="M101 330.5l2.1 2.1l.5-.5l-2.2-2.2z"/><path class="k10" d="M97.1 325.5l1.9 2.6l.4-.6l-1.9-2.6z"/><path class="k3" d="M106.2 333.1l2.3 1l.4-.5l-2.3-1z"/><path class="k19" d="M93.3 314.8l1.6 3.2l.3-.4l-1.5-3.3z"/><path class="k23" d="M92.6 310.4l1.4 3.5l.4-.4l-1.5-3.5z"/><path class="k4" d="M109.2 333.1l2.4 .6l.3-.5l-2.3-.5z"/><path class="k4" d="M103.1 332.6l2.2 1.6l.5-.6l-2.2-1.5z"/><path class="k12" d="M95.3 322.7l1.8 2.8l.4-.6l-1.7-2.8z"/><path class="k15" d="M94.1 319.1l1.7 3l.4-.5l-1.7-3.1z"/><path class="k7" d="M98.5 328.7l2 2.4l.5-.6l-2-2.4z"/><path class="k5" d="M100.5 331.1l2.2 2.1l.4-.6l-2.1-2.1z"/><path class="k9" d="M96.6 326.2l1.9 2.5l.5-.6l-1.9-2.6z"/><path class="k3" d="M105.8 333.6l2.3 1.1l.4-.6l-2.3-1z"/><path class="k19" d="M92.9 315.3l1.6 3.2l.4-.5l-1.6-3.2z"/><path class="k23" d="M92.3 310.9l1.4 3.4l.3-.4l-1.4-3.5z"/><path class="k4" d="M108.9 333.6l2.3 .6l.4-.5l-2.4-.6z"/><path class="k4" d="M112.3 332.8l2.4 .2l.3-.3l-2.4-.3z"/><path class="k15" d="M93.6 319.8l1.7 2.9l.5-.6l-1.7-3z"/><path class="k12" d="M94.8 323.4l1.8 2.8l.5-.7l-1.8-2.8z"/><path class="k4" d="M102.7 333.2l2.2 1.6l.4-.6l-2.2-1.6z"/><path class="k27" d="M91.6 306.4l1.3 3.6l.3-.3l-1.3-3.6z"/><path class="k7" d="M98 329.4l2.1 2.4l.4-.7l-2-2.4z"/><path class="k3" d="M105.3 334.2l2.3 1.1l.5-.6l-2.3-1.1z"/><path class="k18" d="M92.5 315.9l1.6 3.2l.4-.6l-1.6-3.2z"/><path class="k22" d="M91.9 311.4l1.4 3.4l.4-.5l-1.4-3.4z"/><path class="k5" d="M100.1 331.8l2.1 2.1l.5-.7l-2.2-2.1z"/><path class="k9" d="M96.1 326.9l1.9 2.5l.5-.7l-1.9-2.5z"/><path class="k3" d="M108.5 334.1l2.4 .6l.3-.5l-2.3-.6z"/><path class="k4" d="M111.9 333.2l2.5 .3l.3-.5l-2.4-.2z"/><path class="k26" d="M91.3 306.8l1.3 3.6l.3-.4l-1.3-3.6z"/><path class="k15" d="M93.2 320.5l1.6 2.9l.5-.7l-1.7-2.9z"/><path class="k11" d="M94.3 324.2l1.8 2.7l.5-.7l-1.8-2.8z"/><path class="k3" d="M102.2 333.9l2.2 1.6l.5-.7l-2.2-1.6z"/><path class="k22" d="M91.5 312l1.4 3.3l.4-.5l-1.4-3.4z"/><path class="k18" d="M92.1 316.7l1.5 3.1l.5-.7l-1.6-3.2z"/><path class="k3" d="M104.9 334.8l2.3 1.2l.4-.7l-2.3-1.1z"/><path class="k6" d="M97.5 330.2l2 2.3l.6-.7l-2.1-2.4z"/><path class="k3" d="M108.1 334.7l2.4 .6l.4-.6l-2.4-.6z"/><path class="k4" d="M111.6 333.7l2.4 .2l.4-.4l-2.5-.3z"/><path class="k9" d="M95.6 327.7l1.9 2.5l.5-.8l-1.9-2.5z"/><path class="k4" d="M99.5 332.5l2.1 2.1l.6-.7l-2.1-2.1z"/><path class="k26" d="M90.9 307.3l1.4 3.6l.3-.5l-1.3-3.6z"/><path class="k14" d="M92.7 321.3l1.6 2.9l.5-.8l-1.6-2.9z"/><path class="k22" d="M91.1 312.6l1.4 3.3l.4-.6l-1.4-3.3z"/><path class="k11" d="M93.8 325.1l1.8 2.6l.5-.8l-1.8-2.7z"/><path class="k18" d="M91.6 317.4l1.6 3.1l.4-.7l-1.5-3.1z"/><path class="k4" d="M111.2 334.2l2.5 .3l.3-.6l-2.4-.2z"/><path class="k3" d="M101.6 334.6l2.3 1.7l.5-.8l-2.2-1.6z"/><path class="k3" d="M107.6 335.3l2.4 .7l.5-.7l-2.4-.6z"/><path class="k31" d="M90.3 302.6l1.3 3.8l.3-.3l-1.2-3.8z"/><path class="k26" d="M90.5 307.8l1.4 3.6l.4-.5l-1.4-3.6z"/><path class="k2" d="M104.4 335.5l2.3 1.2l.5-.7l-2.3-1.2z"/><path class="k6" d="M96.9 331.1l2.1 2.2l.5-.8l-2-2.3z"/><path class="k5" d="M114.7 333l2.5 .2l.3-.4l-2.5-.1z"/><path class="k8" d="M95 328.6l1.9 2.5l.6-.9l-1.9-2.5z"/><path class="k4" d="M99 333.3l2.1 2.1l.5-.8l-2.1-2.1z"/><path class="k21" d="M90.6 313.4l1.5 3.3l.4-.8l-1.4-3.3z"/><path class="k14" d="M92.1 322.3l1.7 2.8l.5-.9l-1.6-2.9z"/><path class="k4" d="M110.9 334.7l2.4 .4l.4-.6l-2.5-.3z"/><path class="k17" d="M91.1 318.3l1.6 3l.5-.8l-1.6-3.1z"/><path class="k11" d="M93.2 326l1.8 2.6l.6-.9l-1.8-2.6z"/><path class="k30" d="M90 303l1.3 3.8l.3-.4l-1.3-3.8z"/><path class="k26" d="M90.2 308.4l1.3 3.6l.4-.6l-1.4-3.6z"/><path class="k2" d="M107.2 336l2.4 .8l.4-.8l-2.4-.7z"/><path class="k5" d="M114.4 333.5l2.5 .1l.3-.4l-2.5-.2z"/><path class="k3" d="M101.1 335.4l2.2 1.7l.6-.8l-2.3-1.7z"/><path class="k2" d="M103.9 336.3l2.3 1.2l.5-.8l-2.3-1.2z"/><path class="k21" d="M90.2 314.3l1.4 3.1l.5-.7l-1.5-3.3z"/><path class="k6" d="M96.3 332l2 2.2l.7-.9l-2.1-2.2z"/><path class="k3" d="M110.5 335.3l2.4 .4l.4-.6l-2.4-.4z"/><path class="k13" d="M91.6 323.3l1.6 2.7l.6-.9l-1.7-2.8z"/><path class="k8" d="M94.4 329.6l1.9 2.4l.6-.9l-1.9-2.5z"/><path class="k30" d="M89.7 303.5l1.2 3.8l.4-.5l-1.3-3.8z"/><path class="k25" d="M89.7 309.2l1.4 3.4l.4-.6l-1.3-3.6z"/><path class="k17" d="M90.6 319.4l1.5 2.9l.6-1l-1.6-3z"/><path class="k4" d="M98.3 334.2l2.2 2.1l.6-.9l-2.1-2.1z"/><path class="k5" d="M114 333.9l2.5 .2l.4-.5l-2.5-.1z"/><path class="k2" d="M106.7 336.7l2.4 .9l.5-.8l-2.4-.8z"/><path class="k10" d="M92.6 327.1l1.8 2.5l.6-1l-1.8-2.6z"/><path class="k20" d="M89.7 315.2l1.4 3.1l.5-.9l-1.4-3.1z"/><path class="k3" d="M110 336l2.5 .5l.4-.8l-2.4-.4z"/><path class="k2" d="M103.3 337.1l2.3 1.3l.6-.9l-2.3-1.2z"/><path class="k30" d="M89.3 304.1l1.2 3.7l.4-.5l-1.2-3.8z"/><path class="k25" d="M89.3 310l1.3 3.4l.5-.8l-1.4-3.4z"/><path class="k2" d="M100.5 336.3l2.2 1.7l.6-.9l-2.2-1.7z"/><path class="k16" d="M90 320.5l1.6 2.8l.5-1l-1.5-2.9z"/><path class="k13" d="M91 324.5l1.6 2.6l.6-1.1l-1.6-2.7z"/><path class="k4" d="M113.7 334.5l2.5 .2l.3-.6l-2.5-.2z"/><path class="k35" d="M89.2 298.7l1.1 3.9l.4-.3l-1.2-3.9z"/><path class="k5" d="M95.7 333.1l2 2.1l.6-1l-2-2.2z"/><path class="k7" d="M93.8 330.7l1.9 2.4l.6-1.1l-1.9-2.4z"/><path class="k2" d="M106.2 337.5l2.3 1l.6-.9l-2.4-.9z"/><path class="k20" d="M89.1 316.4l1.5 3l.5-1.1l-1.4-3.1z"/><path class="k6" d="M67 335.7l.5 .2l1.2-5.5l-.5-.2z"/><path class="k30" d="M88.9 304.8l1.3 3.6l.3-.6l-1.2-3.7z"/><path class="k3" d="M97.7 335.2l2.1 2.1l.7-1l-2.2-2.1z"/><path class="k9" d="M92 328.3l1.8 2.4l.6-1.1l-1.8-2.5z"/><path class="k24" d="M88.8 311l1.4 3.3l.4-.9l-1.3-3.4z"/><path class="k2" d="M109.6 336.8l2.4 .5l.5-.8l-2.5-.5z"/><path class="k6" d="M117.2 333.2l2.5 .3l.3-.4l-2.5-.3z"/><path class="k4" d="M113.3 335.1l2.5 .2l.4-.6l-2.5-.2z"/><path class="k35" d="M88.8 299.2l1.2 3.8l.3-.4l-1.1-3.9z"/><path class="k6" d="M67.5 335.9l.6 .3l1.1-5.5l-.5-.3z"/><path class="k15" d="M89.4 321.8l1.6 2.7l.6-1.2l-1.6-2.8z"/><path class="k1" d="M102.7 338l2.3 1.4l.6-1l-2.3-1.3z"/><path class="k12" d="M90.3 325.8l1.7 2.5l.6-1.2l-1.6-2.6z"/><path class="k3" d="M65.7 337.2l.6 .1l1.2-1.4l-.5-.2z"/><path class="k2" d="M99.8 337.3l2.2 1.7l.7-1l-2.2-1.7z"/><path class="k29" d="M88.5 305.6l1.2 3.6l.5-.8l-1.3-3.6z"/><path class="k19" d="M88.6 317.6l1.4 2.9l.6-1.1l-1.5-3z"/><path class="k24" d="M88.3 312.1l1.4 3.1l.5-.9l-1.4-3.3z"/><path class="k5" d="M68.1 336.2l.6 .2l1.1-5.4l-.6-.3z"/><path class="k5" d="M116.9 333.6l2.5 .3l.3-.4l-2.5-.3z"/><path class="k1" d="M105.6 338.4l2.4 1.1l.5-1l-2.3-1z"/><path class="k2" d="M109.1 337.6l2.4 .7l.5-1l-2.4-.5z"/><path class="k6" d="M93 332l1.9 2.2l.8-1.1l-1.9-2.4z"/><path class="k4" d="M112.9 335.7l2.5 .4l.4-.8l-2.5-.2z"/><path class="k34" d="M88.5 299.7l1.2 3.8l.3-.5l-1.2-3.8z"/><path class="k4" d="M94.9 334.2l2.1 2.2l.7-1.2l-2-2.1z"/><path class="k3" d="M66.3 337.3l.5 .1l1.3-1.2l-.6-.3z"/><path class="k9" d="M91.2 329.7l1.8 2.3l.8-1.3l-1.8-2.4z"/><path class="k5" d="M68.7 336.4l.6 .3l1.2-5.4l-.7-.3z"/><path class="k14" d="M88.7 323.2l1.6 2.6l.7-1.3l-1.6-2.7z"/><path class="k29" d="M88 306.5l1.3 3.5l.4-.8l-1.2-3.6z"/><path class="k3" d="M97 336.4l2.1 2l.7-1.1l-2.1-2.1z"/><path class="k11" d="M68.2 330.2l.5 .2l1.1-5.2l-.6-.2z"/><path class="k23" d="M87.8 313.3l1.3 3.1l.6-1.2l-1.4-3.1z"/><path class="k18" d="M87.9 319.1l1.5 2.7l.6-1.3l-1.4-2.9z"/><path class="k5" d="M116.5 334.1l2.6 .3l.3-.5l-2.5-.3z"/><path class="k11" d="M89.6 327.3l1.6 2.4l.8-1.4l-1.7-2.5z"/><path class="k3" d="M66.8 337.4l.6 .1l1.3-1.1l-.6-.2z"/><path class="k5" d="M69.3 336.7l.7 .3l1.1-5.4l-.6-.3z"/><path class="k34" d="M88.1 300.3l1.2 3.8l.4-.6l-1.2-3.8z"/><path class="k1" d="M102 339l2.3 1.4l.7-1l-2.3-1.4z"/><path class="k3" d="M112.5 336.5l2.5 .4l.4-.8l-2.5-.4z"/><path class="k11" d="M68.7 330.4l.5 .3l1.1-5.2l-.5-.3z"/><path class="k1" d="M108.5 338.5l2.5 .8l.5-1l-2.4-.7z"/><path class="k28" d="M87.6 307.6l1.2 3.4l.5-1l-1.3-3.5z"/><path class="k1" d="M105 339.4l2.4 1.1l.6-1l-2.4-1.1z"/><path class="k1" d="M99.1 338.4l2.2 1.7l.7-1.1l-2.2-1.7z"/><path class="k22" d="M87.2 314.7l1.4 2.9l.5-1.2l-1.3-3.1z"/><path class="k3" d="M67.4 337.5l.6 .2l1.3-1l-.6-.3z"/><path class="k5" d="M70 337l.7 .3l1.1-5.3l-.7-.4z"/><path class="k11" d="M69.2 330.7l.6 .3l1.1-5.2l-.6-.3z"/><path class="k13" d="M88 324.9l1.6 2.4l.7-1.5l-1.6-2.6z"/><path class="k17" d="M87.3 320.7l1.4 2.5l.7-1.4l-1.5-2.7z"/><path class="k5" d="M116.2 334.7l2.5 .3l.4-.6l-2.6-.3z"/><path class="k39" d="M88.1 294.7l1.1 4l.3-.3l-1.1-4z"/><path class="k6" d="M92.3 333.4l1.9 2.2l.7-1.4l-1.9-2.2z"/><path class="k34" d="M87.7 301.1l1.2 3.7l.4-.7l-1.2-3.8z"/><path class="k8" d="M90.5 331.2l1.8 2.2l.7-1.4l-1.8-2.3z"/><path class="k4" d="M94.2 335.6l2 2l.8-1.2l-2.1-2.2z"/><path class="k3" d="M112 337.3l2.5 .5l.5-.9l-2.5-.4z"/><path class="k27" d="M87.1 308.8l1.2 3.3l.5-1.1l-1.2-3.4z"/><path class="k10" d="M69.8 331l.7 .3l1-5.2l-.6-.3z"/><path class="k6" d="M119.7 333.5l2.6 .6l.3-.4l-2.6-.6z"/><path class="k5" d="M70.7 337.3l.7 .3l1.2-5.2l-.8-.4z"/><path class="k3" d="M68 337.7l.7 .1l1.3-.8l-.7-.3z"/><path class="k10" d="M88.8 328.9l1.7 2.3l.7-1.5l-1.6-2.4z"/><path class="k21" d="M86.6 316.3l1.3 2.8l.7-1.5l-1.4-2.9z"/><path class="k1" d="M108 339.5l2.4 .9l.6-1.1l-2.5-.8z"/><path class="k2" d="M96.2 337.6l2.1 2l.8-1.2l-2.1-2z"/><path class="k16" d="M69.2 325l.6 .2l1-5l-.6-.3z"/><path class="k5" d="M115.8 335.3l2.5 .4l.4-.7l-2.5-.3z"/><path class="k33" d="M87.3 302l1.2 3.6l.4-.8l-1.2-3.7z"/><path class="k39" d="M87.8 295.2l1 4l.4-.5l-1.1-4z"/><path class="k16" d="M86.6 322.5l1.4 2.4l.7-1.7l-1.4-2.5z"/><path class="k10" d="M70.5 331.3l.6 .3l1.1-5.1l-.7-.4z"/><path class="k26" d="M86.5 310.2l1.3 3.1l.5-1.2l-1.2-3.3z"/><path class="k12" d="M87.2 326.7l1.6 2.2l.8-1.6l-1.6-2.4z"/><path class="k5" d="M71.4 337.6l.8 .3l1.2-5l-.8-.5z"/><path class="k3" d="M68.7 337.8l.7 .3l1.3-.8l-.7-.3z"/><path class="k2" d="M111.5 338.3l2.5 .5l.5-1l-2.5-.5z"/><path class="k16" d="M69.8 325.2l.5 .3l1-5.1l-.5-.2z"/><path class="k20" d="M85.9 318.1l1.4 2.6l.6-1.6l-1.3-2.8z"/><path class="k6" d="M119.4 333.9l2.6 .6l.3-.4l-2.6-.6z"/><path class="k0" d="M101.3 340.1l2.3 .4l.7-.1l-2.3-1.4z"/><path class="k10" d="M71.1 331.6l.7 .4l1.1-5l-.7-.5z"/><path class="k0" d="M104.3 340.4l2.4 .1l.7 0l-2.4-1.1z"/><path class="k32" d="M86.9 303l1.1 3.5l.5-.9l-1.2-3.6z"/><path class="k25" d="M86 311.8l1.2 2.9l.6-1.4l-1.3-3.1z"/><path class="k1" d="M98.3 339.6l2.2 1.2l.8-.7l-2.2-1.7z"/><path class="k4" d="M115.4 336.1l2.5 .4l.4-.8l-2.5-.4z"/><path class="k7" d="M89.6 332.9l1.8 2.1l.9-1.6l-1.8-2.2z"/><path class="k16" d="M70.3 325.5l.6 .3l1-5l-.6-.4z"/><path class="k5" d="M91.4 335l1.9 2l.9-1.4l-1.9-2.2z"/><path class="k39" d="M87.4 295.7l1.1 4l.3-.5l-1-4z"/><path class="k4" d="M72.2 337.9l.9 .4l1.2-4.9l-.9-.5z"/><path class="k14" d="M85.8 324.5l1.4 2.2l.8-1.8l-1.4-2.4z"/><path class="k9" d="M88 330.8l1.6 2.1l.9-1.7l-1.7-2.3z"/><path class="k10" d="M71.8 332l.8 .4l1.1-4.9l-.8-.5z"/><path class="k3" d="M69.4 338.1l.8 .2l1.2-.7l-.7-.3z"/><path class="k3" d="M93.3 337l2.1 2l.8-1.4l-2-2z"/><path class="k18" d="M85.2 320.1l1.4 2.4l.7-1.8l-1.4-2.6z"/><path class="k0" d="M107.4 340.5l2.4 .5l.6-.6l-2.4-.9z"/><path class="k15" d="M70.9 325.8l.6 .3l1.1-4.9l-.7-.4z"/><path class="k32" d="M86.4 304.2l1.2 3.4l.4-1.1l-1.1-3.5z"/><path class="k1" d="M111 339.3l2.5 .7l.5-1.2l-2.5-.5z"/><path class="k6" d="M119.1 334.4l2.6 .7l.3-.6l-2.6-.6z"/><path class="k24" d="M85.4 313.6l1.2 2.7l.6-1.6l-1.2-2.9z"/><path class="k11" d="M86.4 328.7l1.6 2.1l.8-1.9l-1.6-2.2z"/><path class="k9" d="M72.6 332.4l.8 .5l1.1-4.8l-.8-.6z"/><path class="k1" d="M95.4 339l2.1 1.9l.8-1.3l-2.1-2z"/><path class="k4" d="M115 336.9l2.5 .5l.4-.9l-2.5-.4z"/><path class="k38" d="M87 296.4l1.1 3.9l.4-.6l-1.1-4z"/><path class="k4" d="M73.1 338.3l.9 .4l1.2-4.7l-.9-.6z"/><path class="k15" d="M71.5 326.1l.7 .4l1-4.8l-.6-.5z"/><path class="k21" d="M70.2 319.9l.6 .3l.9-4.9l-.5-.2z"/><path class="k31" d="M85.9 305.6l1.2 3.2l.5-1.2l-1.2-3.4z"/><path class="k17" d="M84.4 322.3l1.4 2.2l.8-2l-1.4-2.4z"/><path class="k3" d="M70.2 338.3l.8 .3l1.2-.7l-.8-.3z"/><path class="k22" d="M84.7 315.5l1.2 2.6l.7-1.8l-1.2-2.7z"/><path class="k13" d="M85 326.7l1.4 2l.8-2l-1.4-2.2z"/><path class="k9" d="M73.4 332.9l.9 .5l1-4.6l-.8-.7z"/><path class="k15" d="M72.2 326.5l.7 .5l1-4.8l-.7-.5z"/><path class="k5" d="M118.7 335l2.6 .7l.4-.6l-2.6-.7z"/><path class="k21" d="M70.8 320.2l.5 .2l1-4.8l-.6-.3z"/><path class="k6" d="M122.3 334.1l2.6 1l.3-.4l-2.6-1z"/><path class="k1" d="M110.4 340.4l2.5 .8l.6-1.2l-2.5-.7z"/><path class="k30" d="M85.4 307.1l1.1 3.1l.6-1.4l-1.2-3.2z"/><path class="k38" d="M86.7 297.3l1 3.8l.4-.8l-1.1-3.9z"/><path class="k21" d="M84 317.7l1.2 2.4l.7-2l-1.2-2.6z"/><path class="k4" d="M74 338.7l1 .4l1.2-4.4l-1-.7z"/><path class="k6" d="M88.7 334.8l1.8 1.9l.9-1.7l-1.8-2.1z"/><path class="k7" d="M87.1 332.9l1.6 1.9l.9-1.9l-1.6-2.1z"/><path class="k3" d="M114.5 337.8l2.5 .6l.5-1l-2.5-.5z"/><path class="k14" d="M72.9 327l.8 .5l1-4.6l-.8-.7z"/><path class="k9" d="M74.3 333.4l.9 .6l1.1-4.4l-1-.8z"/><path class="k15" d="M83.6 324.7l1.4 2l.8-2.2l-1.4-2.2z"/><path class="k4" d="M90.5 336.7l1.9 2l.9-1.7l-1.9-2z"/><path class="k9" d="M85.5 331l1.6 1.9l.9-2.1l-1.6-2.1z"/><path class="k20" d="M71.3 320.4l.6 .4l1-4.8l-.6-.4z"/><path class="k2" d="M71 338.6l.8 .3l1.3-.6l-.9-.4z"/><path class="k43" d="M87.1 290.6l1 4.1l.3-.3l-1-4.1z"/><path class="k28" d="M84.8 308.9l1.2 2.9l.5-1.6l-1.1-3.1z"/><path class="k19" d="M83.2 320.2l1.2 2.1l.8-2.2l-1.2-2.4z"/><path class="k14" d="M73.7 327.5l.8 .6l1-4.5l-.8-.7z"/><path class="k11" d="M84 329.2l1.5 1.8l.9-2.3l-1.4-2z"/><path class="k2" d="M92.4 338.7l2.1 1.9l.9-1.6l-2.1-2z"/><path class="k37" d="M86.2 298.3l1.1 3.7l.4-.9l-1-3.8z"/><path class="k5" d="M118.3 335.7l2.6 .7l.4-.7l-2.6-.7z"/><path class="k20" d="M71.9 320.8l.7 .4l.9-4.7l-.6-.5z"/><path class="k8" d="M75.2 334l1 .7l1.1-4.2l-1-.9z"/><path class="k1" d="M100.5 340.8l2.4-.2l.7-.1l-2.3-.4z"/><path class="k27" d="M84.2 310.9l1.2 2.7l.6-1.8l-1.2-2.9z"/><path class="k13" d="M74.5 328.1l.8 .7l1.1-4.3l-.9-.9z"/><path class="k4" d="M75 339.1l1.1 .5l1.1-4.2l-1-.7z"/><path class="k6" d="M122 334.5l2.6 1l.3-.4l-2.6-1z"/><path class="k13" d="M82.7 327.4l1.3 1.8l1-2.5l-1.4-2z"/><path class="k1" d="M97.5 340.9l2.2 0l.8-.1l-2.2-1.2z"/><path class="k17" d="M82.4 322.9l1.2 1.8l.8-2.4l-1.2-2.1z"/><path class="k1" d="M103.6 340.5l2.4 0l.7 0l-2.4-.1z"/><path class="k2" d="M114 338.8l2.6 .7l.4-1.1l-2.5-.6z"/><path class="k20" d="M72.6 321.2l.6 .5l1-4.7l-.7-.5z"/><path class="k25" d="M83.5 313.1l1.2 2.4l.7-1.9l-1.2-2.7z"/><path class="k13" d="M75.3 328.8l1 .8l1-4.2l-.9-.9z"/><path class="k1" d="M106.7 340.5l2.5 .4l.6 .1l-2.4-.5z"/><path class="k36" d="M85.8 299.4l1.1 3.6l.4-1l-1.1-3.7z"/><path class="k7" d="M76.2 334.7l1 .7l1.1-4l-1-.9z"/><path class="k2" d="M71.8 338.9l.9 .3l1.3-.5l-.9-.4z"/><path class="k43" d="M86.8 291.1l1 4.1l.3-.5l-1-4.1z"/><path class="k14" d="M81.5 325.8l1.2 1.6l.9-2.7l-1.2-1.8z"/><path class="k23" d="M82.8 315.5l1.2 2.2l.7-2.2l-1.2-2.4z"/><path class="k25" d="M71.2 315.1l.5 .2l.9-4.6l-.6-.3z"/><path class="k12" d="M76.3 329.6l1 .9l1-4l-1-1.1z"/><path class="k19" d="M73.2 321.7l.7 .5l1-4.5l-.7-.7z"/><path class="k7" d="M84.5 333.5l1.6 1.7l1-2.3l-1.6-1.9z"/><path class="k9" d="M83.1 331.9l1.4 1.6l1-2.5l-1.5-1.8z"/><path class="k4" d="M117.9 336.5l2.6 .7l.4-.8l-2.6-.7z"/><path class="k21" d="M82 318.2l1.2 2l.8-2.5l-1.2-2.2z"/><path class="k6" d="M86.1 335.2l1.7 1.7l.9-2.1l-1.6-1.9z"/><path class="k10" d="M81.7 330.4l1.4 1.5l.9-2.7l-1.3-1.8z"/><path class="k11" d="M77.3 330.5l1 .9l1-3.7l-1-1.2z"/><path class="k1" d="M94.5 340.6l2.1 .8l.9-.5l-2.1-1.9z"/><path class="k19" d="M73.9 322.2l.8 .7l.9-4.4l-.7-.8z"/><path class="k0" d="M109.8 341l2.5 .5l.6-.3l-2.5-.8z"/><path class="k5" d="M64.3 333.7l.5 0l1.5 3.6l-.6-.1z"/><path class="k19" d="M81.2 321.1l1.2 1.8l.8-2.7l-1.2-2z"/><path class="k3" d="M76.1 339.6l1.1 .6l1.2-4l-1.2-.8z"/><path class="k12" d="M80.5 329l1.2 1.4l1-3l-1.2-1.6z"/><path class="k35" d="M85.3 300.8l1.1 3.4l.5-1.2l-1.1-3.6z"/><path class="k16" d="M80.3 324.3l1.2 1.5l.9-2.9l-1.2-1.8z"/><path class="k6" d="M121.7 335.1l2.5 1l.4-.6l-2.6-1z"/><path class="k4" d="M87.8 336.9l1.7 1.8l1-2l-1.8-1.9z"/><path class="k7" d="M77.2 335.4l1.2 .8l1.1-3.7l-1.2-1.1z"/><path class="k18" d="M74.7 322.9l.8 .7l1-4.2l-.9-.9z"/><path class="k13" d="M79.3 327.7l1.2 1.3l1-3.2l-1.2-1.5z"/><path class="k10" d="M78.3 331.4l1.2 1.1l1-3.5l-1.2-1.3z"/><path class="k25" d="M71.7 315.3l.6 .3l.9-4.6l-.6-.3z"/><path class="k14" d="M78.3 326.5l1 1.2l1-3.4l-1.1-1.5z"/><path class="k2" d="M113.5 340l2.5 .7l.6-1.2l-2.6-.7z"/><path class="k17" d="M75.5 323.6l.9 .9l.9-4.1l-.8-1z"/><path class="k16" d="M77.3 325.4l1 1.1l.9-3.7l-1-1.2z"/><path class="k17" d="M76.4 324.5l.9 .9l.9-3.8l-.9-1.2z"/><path class="k9" d="M79.5 332.5l1.2 1.1l1-3.2l-1.2-1.4z"/><path class="k43" d="M86.4 291.7l1 4l.4-.5l-1-4.1z"/><path class="k3" d="M89.5 338.7l2 1.8l.9-1.8l-1.9-2z"/><path class="k34" d="M84.8 302.4l1.1 3.2l.5-1.4l-1.1-3.4z"/><path class="k18" d="M79.2 322.8l1.1 1.5l.9-3.2l-1.1-1.7z"/><path class="k2" d="M72.7 339.2l1 .3l1.3-.4l-1-.4z"/><path class="k8" d="M80.7 333.6l1.3 1.3l1.1-3l-1.4-1.5z"/><path class="k25" d="M72.3 315.6l.6 .4l.9-4.6l-.6-.4z"/><path class="k6" d="M78.4 336.2l1.2 .9l1.1-3.5l-1.2-1.1z"/><path class="k4" d="M117.5 337.4l2.6 .7l.4-.9l-2.6-.7z"/><path class="k5" d="M64.8 333.7l.6 .2l1.4 3.5l-.5-.1z"/><path class="k20" d="M80.1 319.4l1.1 1.7l.8-2.9l-1-1.9z"/><path class="k33" d="M84.3 304.1l1.1 3l.5-1.5l-1.1-3.2z"/><path class="k7" d="M82 334.9l1.5 1.3l1-2.7l-1.4-1.6z"/><path class="k19" d="M78.2 321.6l1 1.2l.9-3.4l-1-1.5z"/><path class="k23" d="M81 316.3l1 1.9l.8-2.7l-1.1-2.1z"/><path class="k3" d="M77.2 340.2l1.2 .6l1.2-3.7l-1.2-.9z"/><path class="k6" d="M124.9 335.1l2.6 1l.3-.4l-2.6-1z"/><path class="k25" d="M72.9 316l.6 .5l.9-4.6l-.6-.5z"/><path class="k31" d="M83.7 306.1l1.1 2.8l.6-1.8l-1.1-3z"/><path class="k5" d="M121.3 335.7l2.6 1l.3-.6l-2.5-1z"/><path class="k25" d="M81.7 313.4l1.1 2.1l.7-2.4l-1.1-2.4z"/><path class="k30" d="M83.1 308.3l1.1 2.6l.6-2l-1.1-2.8z"/><path class="k28" d="M82.4 310.7l1.1 2.4l.7-2.2l-1.1-2.6z"/><path class="k5" d="M83.5 336.2l1.5 1.5l1.1-2.5l-1.6-1.7z"/><path class="k1" d="M91.5 340.5l2 1.4l1-1.3l-2.1-1.9z"/><path class="k20" d="M77.3 320.4l.9 1.2l.9-3.7l-.9-1.3z"/><path class="k42" d="M86 292.5l1 3.9l.4-.7l-1-4z"/><path class="k1" d="M112.9 341.2l2.6 .7l.5-1.2l-2.5-.7z"/><path class="k5" d="M79.6 337.1l1.3 1l1.1-3.2l-1.3-1.3z"/><path class="k24" d="M73.5 316.5l.7 .5l.9-4.4l-.7-.7z"/><path class="k21" d="M76.5 319.4l.8 1l.9-3.8l-.9-1.2z"/><path class="k22" d="M79.1 317.9l1 1.5l.9-3.1l-1-1.7z"/><path class="k24" d="M74.2 317l.7 .7l.9-4.3l-.7-.8z"/><path class="k4" d="M85 337.7l1.7 1.6l1.1-2.4l-1.7-1.7z"/><path class="k5" d="M65.4 333.9l.6 .1l1.4 3.5l-.6-.1z"/><path class="k22" d="M75.6 318.5l.9 .9l.8-4l-.8-1.1z"/><path class="k23" d="M74.9 317.7l.7 .8l.9-4.2l-.7-.9z"/><path class="k3" d="M117 338.4l2.6 .7l.5-1l-2.6-.7z"/><path class="k2" d="M73.7 339.5l1.1 .4l1.3-.3l-1.1-.5z"/><path class="k4" d="M80.9 338.1l1.5 1.1l1.1-3l-1.5-1.3z"/><path class="k2" d="M78.4 340.8l1.4 .8l1.1-3.5l-1.3-1z"/><path class="k30" d="M72 310.4l.6 .3l.8-4.6l-.5-.2z"/><path class="k42" d="M85.6 293.4l1.1 3.9l.3-.9l-1-3.9z"/><path class="k5" d="M124.6 335.5l2.6 1l.3-.4l-2.6-1z"/><path class="k5" d="M120.9 336.4l2.6 1l.4-.7l-2.6-1z"/><path class="k3" d="M86.7 339.3l1.8 1.6l1-2.2l-1.7-1.8z"/><path class="k25" d="M80 314.6l1 1.7l.7-2.9l-1-2z"/><path class="k24" d="M78.2 316.6l.9 1.3l.9-3.3l-1-1.6z"/><path class="k6" d="M66 334l.6 .2l1.4 3.5l-.6-.2z"/><path class="k30" d="M72.6 310.7l.6 .3l.8-4.5l-.6-.4z"/><path class="k28" d="M80.7 311.4l1 2l.7-2.7l-1-2.2z"/><path class="k2" d="M116.6 339.5l2.5 .8l.5-1.2l-2.6-.7z"/><path class="k3" d="M82.4 339.2l1.5 1.3l1.1-2.8l-1.5-1.5z"/><path class="k41" d="M85.2 294.6l1 3.7l.5-1l-1.1-3.9z"/><path class="k25" d="M77.3 315.4l.9 1.2l.8-3.6l-.8-1.4z"/><path class="k1" d="M88.5 340.9l1.9 1.4l1.1-1.8l-2-1.8z"/><path class="k1" d="M99.7 340.9l2.3-.3l.9 0l-2.4 .2z"/><path class="k1" d="M96.6 341.4l2.2-.4l.9-.1l-2.2 0z"/><path class="k48" d="M86.1 286.4l1 4.2l.3-.3l-.9-4.2z"/><path class="k30" d="M73.2 311l.6 .4l.8-4.5l-.6-.4z"/><path class="k4" d="M120.5 337.2l2.6 1l.4-.8l-2.6-1z"/><path class="k30" d="M81.4 308.5l1 2.2l.7-2.4l-1-2.5z"/><path class="k1" d="M102.9 340.6l2.3-.1l.8 0l-2.4 0z"/><path class="k2" d="M79.8 341.6l1.4 .8l1.2-3.2l-1.5-1.1z"/><path class="k1" d="M109.2 340.9l2.5 .4l.6 .2l-2.5-.5z"/><path class="k2" d="M74.8 339.9l1.1 .4l1.3-.1l-1.1-.6z"/><path class="k5" d="M124.2 336.1l2.6 .9l.4-.5l-2.6-1z"/><path class="k27" d="M79 313l1 1.6l.7-3.2l-.9-1.8z"/><path class="k40" d="M84.8 295.9l1 3.5l.4-1.1l-1-3.7z"/><path class="k1" d="M106 340.5l2.5 .3l.7 .1l-2.5-.4z"/><path class="k26" d="M76.5 314.3l.8 1.1l.9-3.8l-.8-1.3z"/><path class="k0" d="M112.3 341.5l2.6 .7l.6-.3l-2.6-.7z"/><path class="k29" d="M73.8 311.4l.6 .5l.8-4.3l-.6-.7z"/><path class="k6" d="M66.6 334.2l.7 .2l1.4 3.4l-.7-.1z"/><path class="k2" d="M83.9 340.5l1.7 1.3l1.1-2.5l-1.7-1.6z"/><path class="k32" d="M82.1 305.8l1 2.5l.6-2.2l-1-2.7z"/><path class="k27" d="M75.8 313.4l.7 .9l.9-4l-.8-1.1z"/><path class="k39" d="M84.3 297.4l1 3.4l.5-1.4l-1-3.5z"/><path class="k29" d="M74.4 311.9l.7 .7l.8-4.3l-.7-.7z"/><path class="k28" d="M75.1 312.6l.7 .8l.8-4.2l-.7-.9z"/><path class="k1" d="M93.5 341.9l2.1-.5l1 0l-2.1-.8z"/><path class="k34" d="M82.7 303.4l1 2.7l.6-2l-1-2.9z"/><path class="k2" d="M116 340.7l2.6 .8l.5-1.2l-2.5-.8z"/><path class="k38" d="M83.8 299.2l1 3.2l.5-1.6l-1-3.4z"/><path class="k36" d="M83.3 301.2l1 2.9l.5-1.7l-1-3.2z"/><path class="k4" d="M120.1 338.1l2.6 1l.4-.9l-2.6-1z"/><path class="k30" d="M79.8 309.6l.9 1.8l.7-2.9l-.9-2.1z"/><path class="k28" d="M78.2 311.6l.8 1.4l.8-3.4l-.9-1.6z"/><path class="k48" d="M85.8 287l1 4.1l.3-.5l-1-4.2z"/><path class="k5" d="M127.5 336.1l2.6 .9l.3-.4l-2.6-.9z"/><path class="k5" d="M123.9 336.7l2.6 1l.3-.7l-2.6-.9z"/><path class="k5" d="M67.3 334.4l.7 .3l1.4 3.4l-.7-.3z"/><path class="k1" d="M85.6 341.8l1.8 .7l1.1-1.6l-1.8-1.6z"/><path class="k2" d="M75.9 340.3l1.2 .3l1.3 .2l-1.2-.6z"/><path class="k1" d="M81.2 342.4l1.5-.1l1.2-1.8l-1.5-1.3z"/><path class="k1" d="M115.5 341.9l2.5 .9l.6-1.3l-2.6-.8z"/><path class="k34" d="M72.9 305.9l.5 .2l.7-4.4l-.5-.3z"/><path class="k30" d="M77.4 310.3l.8 1.3l.7-3.6l-.8-1.5z"/><path class="k1" d="M90.4 342.3l2-.5l1.1 .1l-2-1.4z"/><path class="k32" d="M80.5 306.4l.9 2.1l.7-2.7l-.9-2.3z"/><path class="k3" d="M119.6 339.1l2.6 1l.5-1l-2.6-1z"/><path class="k47" d="M85.5 287.6l.9 4.1l.4-.6l-1-4.1z"/><path class="k5" d="M123.5 337.4l2.6 1l.4-.7l-2.6-1z"/><path class="k5" d="M68 334.7l.8 .4l1.4 3.2l-.8-.2z"/><path class="k34" d="M73.4 306.1l.6 .4l.7-4.4l-.6-.4z"/><path class="k5" d="M127.2 336.5l2.6 .9l.3-.4l-2.6-.9z"/><path class="k32" d="M78.9 308l.9 1.6l.7-3.2l-.9-1.8z"/><path class="k31" d="M76.6 309.2l.8 1.1l.7-3.8l-.8-1.3z"/><path class="k35" d="M81.2 303.5l.9 2.3l.6-2.4l-.9-2.6z"/><path class="k34" d="M74 306.5l.6 .4l.7-4.3l-.6-.5z"/><path class="k32" d="M75.9 308.3l.7 .9l.7-4l-.7-1z"/><path class="k47" d="M85.1 288.5l.9 4l.4-.8l-.9-4.1z"/><path class="k34" d="M74.6 306.9l.6 .7l.8-4.3l-.7-.7z"/><path class="k33" d="M75.2 307.6l.7 .7l.7-4.1l-.6-.9z"/><path class="k2" d="M119.1 340.3l2.6 1l.5-1.2l-2.6-1z"/><path class="k2" d="M77.1 340.6l1.4 .3l1.3 .7l-1.4-.8z"/><path class="k5" d="M68.8 335.1l.8 .4l1.4 3.1l-.8-.3z"/><path class="k4" d="M123.1 338.2l2.6 1l.4-.8l-2.6-1z"/><path class="k37" d="M81.8 300.8l.9 2.6l.6-2.2l-1-2.8z"/><path class="k5" d="M126.8 337l2.7 1l.3-.6l-2.6-.9z"/><path class="k46" d="M84.7 289.6l.9 3.8l.4-.9l-.9-4z"/><path class="k33" d="M78.1 306.5l.8 1.5l.7-3.4l-.8-1.7z"/><path class="k35" d="M79.6 304.6l.9 1.8l.7-2.9l-.9-2.1z"/><path class="k1" d="M87.4 342.5l1.9-.5l1.1 .3l-1.9-1.4z"/><path class="k1" d="M82.7 342.3l1.7-.1l1.2-.4l-1.7-1.3z"/><path class="k39" d="M82.3 298.4l1 2.8l.5-2l-.9-3.1z"/><path class="k1" d="M111.7 341.3l2.5 .6l.7 .3l-2.6-.7z"/><path class="k45" d="M84.3 290.9l.9 3.7l.4-1.2l-.9-3.8z"/><path class="k1" d="M114.9 342.2l2.5 .5l.6 .1l-2.5-.9z"/><path class="k1" d="M118.6 341.5l2.6 1l.5-1.2l-2.6-1z"/><path class="k41" d="M82.9 296.1l.9 3.1l.5-1.8l-.9-3.3z"/><path class="k44" d="M83.8 292.4l1 3.5l.4-1.3l-.9-3.7z"/><path class="k2" d="M108.5 340.8l2.5 .4l.7 .1l-2.5-.4z"/><path class="k43" d="M83.4 294.1l.9 3.3l.5-1.5l-1-3.5z"/><path class="k5" d="M69.6 335.5l.8 .4l1.4 3l-.8-.3z"/><path class="k3" d="M122.7 339.1l2.6 1l.4-.9l-2.6-1z"/><path class="k35" d="M77.3 305.2l.8 1.3l.7-3.6l-.8-1.5z"/><path class="k2" d="M105.2 340.5l2.5 .2l.8 .1l-2.5-.3z"/><path class="k5" d="M126.5 337.7l2.6 .9l.4-.6l-2.7-1z"/><path class="k2" d="M102 340.6l2.4 0l.8-.1l-2.3 .1z"/><path class="k5" d="M130.1 337l2.7 .9l.3-.4l-2.7-.9z"/><path class="k39" d="M73.6 301.4l.5 .3l.7-4.4l-.5-.2z"/><path class="k2" d="M98.8 341l2.3-.3l.9-.1l-2.3 .3z"/><path class="k37" d="M80.3 301.4l.9 2.1l.6-2.7l-.9-2.4z"/><path class="k1" d="M78.5 340.9l1.4 .3l1.3 1.2l-1.4-.8z"/><path class="k36" d="M76.6 304.2l.7 1l.7-3.8l-.7-1.2z"/><path class="k2" d="M95.6 341.4l2.2-.4l1 0l-2.2 .4z"/><path class="k37" d="M78.8 302.9l.8 1.7l.7-3.2l-.8-1.9z"/><path class="k53" d="M85.2 282.2l.9 4.2l.4-.3l-.9-4.3z"/><path class="k1" d="M118 342.8l2.6 .8l.6-1.1l-2.6-1z"/><path class="k39" d="M74.1 301.7l.6 .4l.7-4.3l-.6-.5z"/><path class="k3" d="M122.2 340.1l2.6 1l.5-1l-2.6-1z"/><path class="k5" d="M70.4 335.9l.9 .5l1.4 2.8l-.9-.3z"/><path class="k37" d="M76 303.3l.6 .9l.7-4l-.7-1z"/><path class="k38" d="M74.7 302.1l.6 .5l.7-4.2l-.6-.6z"/><path class="k38" d="M75.3 302.6l.7 .7l.6-4.1l-.6-.8z"/><path class="k4" d="M126.1 338.4l2.6 .9l.4-.7l-2.6-.9z"/><path class="k5" d="M129.8 337.4l2.6 .9l.4-.4l-2.7-.9z"/><path class="k40" d="M80.9 298.4l.9 2.4l.5-2.4l-.8-2.7z"/><path class="k2" d="M92.4 341.8l2.2-.5l1 .1l-2.1 .5z"/><path class="k52" d="M84.9 282.7l.9 4.3l.3-.6l-.9-4.2z"/><path class="k2" d="M121.7 341.3l2.6 1l.5-1.2l-2.6-1z"/><path class="k38" d="M78 301.4l.8 1.5l.7-3.4l-.8-1.7z"/><path class="k1" d="M84.4 342.2l1.8-.3l1.2 .6l-1.8-.7z"/><path class="k5" d="M71.3 336.4l1 .6l1.4 2.5l-1-.3z"/><path class="k4" d="M125.7 339.2l2.6 .9l.4-.8l-2.6-.9z"/><path class="k40" d="M79.5 299.5l.8 1.9l.6-3l-.8-2.1z"/><path class="k42" d="M81.5 295.7l.8 2.7l.6-2.3l-.9-2.9z"/><path class="k5" d="M129.5 338l2.6 .8l.3-.5l-2.6-.9z"/><path class="k52" d="M84.6 283.5l.9 4.1l.3-.6l-.9-4.3z"/><path class="k1" d="M121.2 342.5l2.6 1l.5-1.2l-2.6-1z"/><path class="k40" d="M77.3 300.2l.7 1.2l.7-3.6l-.7-1.4z"/><path class="k2" d="M79.9 341.2l1.6 .1l1.2 1l-1.5 .1z"/><path class="k45" d="M82 293.2l.9 2.9l.5-2l-.9-3.1z"/><path class="k2" d="M89.3 342l2-.4l1.1 .2l-2 .5z"/><path class="k3" d="M125.3 340.1l2.6 .9l.4-.9l-2.6-.9z"/><path class="k5" d="M72.3 337l1.1 .6l1.4 2.3l-1.1-.4z"/><path class="k51" d="M84.2 284.5l.9 4l.4-.9l-.9-4.1z"/><path class="k1" d="M117.4 342.7l2.6 .5l.6 .4l-2.6-.8z"/><path class="k43" d="M74.3 297.1l.5 .2l.7-4.2l-.6-.3z"/><path class="k1" d="M114.2 341.9l2.6 .5l.6 .3l-2.5-.5z"/><path class="k46" d="M82.5 291l.9 3.1l.4-1.7l-.8-3.4z"/><path class="k41" d="M76.6 299.2l.7 1l.7-3.8l-.7-1.2z"/><path class="k5" d="M129.1 338.6l2.6 .9l.4-.7l-2.6-.8z"/><path class="k50" d="M83.8 285.8l.9 3.8l.4-1.1l-.9-4z"/><path class="k43" d="M80.1 296.3l.8 2.1l.6-2.7l-.9-2.4z"/><path class="k5" d="M132.8 337.9l2.6 .8l.3-.4l-2.6-.8z"/><path class="k43" d="M74.8 297.3l.6 .5l.6-4.2l-.5-.5z"/><path class="k2" d="M111 341.2l2.5 .4l.7 .3l-2.5-.6z"/><path class="k48" d="M83 289l.8 3.4l.5-1.5l-.9-3.7z"/><path class="k49" d="M83.4 287.2l.9 3.7l.4-1.3l-.9-3.8z"/><path class="k42" d="M78.7 297.8l.8 1.7l.6-3.2l-.8-2z"/><path class="k42" d="M76 298.4l.6 .8l.7-4l-.6-.9z"/><path class="k43" d="M75.4 297.8l.6 .6l.7-4.1l-.7-.7z"/><path class="k3" d="M124.8 341.1l2.6 1l.5-1.1l-2.6-.9z"/><path class="k3" d="M107.7 340.7l2.5 .3l.8 .2l-2.5-.4z"/><path class="k0" d="M120.6 343.6l2.6 .5l.6-.6l-2.6-1z"/><path class="k5" d="M73.4 337.6l1.1 .6l1.4 2.1l-1.1-.4z"/><path class="k4" d="M128.7 339.3l2.7 .9l.3-.7l-2.6-.9z"/><path class="k3" d="M104.4 340.6l2.5 .1l.8 0l-2.5-.2z"/><path class="k5" d="M132.4 338.3l2.7 .9l.3-.5l-2.6-.8z"/><path class="k3" d="M101.1 340.7l2.4-.1l.9 0l-2.4 0z"/><path class="k45" d="M80.6 293.3l.9 2.4l.5-2.5l-.8-2.7z"/><path class="k2" d="M124.3 342.3l2.6 .9l.5-1.1l-2.6-1z"/><path class="k43" d="M78 296.4l.7 1.4l.6-3.5l-.7-1.6z"/><path class="k11" d="M62.8 330.3l.6 0l1.4 3.4l-.5 0z"/><path class="k3" d="M97.8 341l2.4-.3l.9 0l-2.3 .3z"/><path class="k4" d="M128.3 340.1l2.7 .9l.4-.8l-2.7-.9z"/><path class="k2" d="M86.2 341.9l1.9-.3l1.2 .4l-1.9 .5z"/><path class="k45" d="M79.3 294.3l.8 2l.5-3l-.7-2.2z"/><path class="k5" d="M132.1 338.8l2.6 .9l.4-.5l-2.7-.9z"/><path class="k57" d="M84.4 277.9l.8 4.3l.4-.4l-.9-4.3z"/><path class="k2" d="M81.5 341.3l1.6 .1l1.3 .8l-1.7 .1z"/><path class="k4" d="M74.5 338.2l1.3 .6l1.3 1.8l-1.2-.3z"/><path class="k1" d="M123.8 343.5l2.6 .9l.5-1.2l-2.6-.9z"/><path class="k45" d="M77.3 295.2l.7 1.2l.6-3.7l-.7-1.4z"/><path class="k48" d="M81.2 290.5l.8 2.7l.5-2.2l-.8-3z"/><path class="k11" d="M63.4 330.3l.5 .2l1.5 3.4l-.6-.2z"/><path class="k3" d="M94.6 341.3l2.2-.4l1 .1l-2.2 .4z"/><path class="k48" d="M74.9 292.8l.6 .3l.6-4.2l-.6-.3z"/><path class="k3" d="M127.9 341l2.6 .9l.5-.9l-2.7-.9z"/><path class="k46" d="M76.7 294.3l.6 .9l.6-3.9l-.7-1.1z"/><path class="k47" d="M75.5 293.1l.5 .5l.6-4.2l-.5-.5z"/><path class="k57" d="M84.1 278.5l.8 4.2l.3-.5l-.8-4.3z"/><path class="k47" d="M76 293.6l.7 .7l.5-4.1l-.6-.8z"/><path class="k4" d="M131.7 339.5l2.7 .8l.3-.6l-2.6-.9z"/><path class="k50" d="M81.7 288l.8 3l.5-2l-.9-3.3z"/><path class="k11" d="M63.9 330.5l.6 .1l1.5 3.4l-.6-.1z"/><path class="k1" d="M120 343.2l2.6 .6l.6 .3l-2.6-.5z"/><path class="k5" d="M135.4 338.7l2.6 .8l.3-.4l-2.6-.8z"/><path class="k2" d="M116.8 342.4l2.6 .5l.6 .3l-2.6-.5z"/><path class="k47" d="M78.6 292.7l.7 1.6l.6-3.2l-.8-1.9z"/><path class="k48" d="M79.9 291.1l.7 2.2l.6-2.8l-.8-2.5z"/><path class="k2" d="M127.4 342.1l2.7 .8l.4-1l-2.6-.9z"/><path class="k4" d="M75.8 338.8l1.3 .6l1.4 1.5l-1.4-.3z"/><path class="k56" d="M83.7 279.4l.9 4.1l.3-.8l-.8-4.2z"/><path class="k2" d="M113.5 341.6l2.6 .5l.7 .3l-2.6-.5z"/><path class="k52" d="M82.1 285.7l.9 3.3l.4-1.8l-.8-3.5z"/><path class="k3" d="M91.3 341.6l2.1-.5l1.2 .2l-2.2 .5z"/><path class="k0" d="M123.2 344.1l2.7 .6l.5-.3l-2.6-.9z"/><path class="k11" d="M64.5 330.6l.6 .3l1.5 3.3l-.6-.2z"/><path class="k4" d="M131.4 340.2l2.6 .8l.4-.7l-2.7-.8z"/><path class="k56" d="M83.4 280.5l.8 4l.4-1l-.9-4.1z"/><path class="k53" d="M82.6 283.7l.8 3.5l.4-1.4l-.8-3.8z"/><path class="k55" d="M83 282l.8 3.8l.4-1.3l-.8-4z"/><path class="k3" d="M110.2 341l2.6 .4l.7 .2l-2.5-.4z"/><path class="k5" d="M135.1 339.2l2.6 .8l.3-.5l-2.6-.8z"/><path class="k2" d="M126.9 343.2l2.7 .9l.5-1.2l-2.7-.8z"/><path class="k49" d="M77.9 291.3l.7 1.4l.5-3.5l-.7-1.6z"/><path class="k11" d="M65.1 330.9l.7 .3l1.5 3.2l-.7-.2z"/><path class="k4" d="M106.9 340.7l2.5 .2l.8 .1l-2.5-.3z"/><path class="k51" d="M80.4 288l.8 2.5l.5-2.5l-.8-2.8z"/><path class="k4" d="M131 341l2.6 .8l.4-.8l-2.6-.8z"/><path class="k3" d="M83.1 341.4l1.8-.1l1.3 .6l-1.8 .3z"/><path class="k5" d="M134.7 339.7l2.7 .8l.3-.5l-2.6-.8z"/><path class="k1" d="M126.4 344.4l2.6 .9l.6-1.2l-2.7-.9z"/><path class="k4" d="M103.5 340.6l2.5 0l.9 .1l-2.5-.1z"/><path class="k50" d="M79.1 289.2l.8 1.9l.5-3.1l-.7-2.2z"/><path class="k4" d="M77.1 339.4l1.5 .5l1.3 1.3l-1.4-.3z"/><path class="k50" d="M77.2 290.2l.7 1.1l.5-3.7l-.6-1.3z"/><path class="k11" d="M65.8 331.2l.7 .3l1.5 3.2l-.7-.3z"/><path class="k52" d="M75.5 288.6l.6 .3l.5-4.1l-.5-.3z"/><path class="k3" d="M88.1 341.6l2-.4l1.2 .4l-2 .4z"/><path class="k3" d="M130.5 341.9l2.7 .8l.4-.9l-2.6-.8z"/><path class="k51" d="M76.6 289.4l.6 .8l.6-3.9l-.6-.9z"/><path class="k52" d="M76.1 288.9l.5 .5l.6-4l-.6-.6z"/><path class="k4" d="M100.2 340.7l2.4-.2l.9 .1l-2.4 .1z"/><path class="k53" d="M80.9 285.2l.8 2.8l.4-2.3l-.8-3.1z"/><path class="k11" d="M66.5 331.5l.8 .5l1.5 3.1l-.8-.4z"/><path class="k4" d="M134.4 340.3l2.6 .8l.4-.6l-2.7-.8z"/><path class="k5" d="M138 339.5l2.6 .8l.3-.4l-2.6-.8z"/><path class="k2" d="M130.1 342.9l2.6 .9l.5-1.1l-2.7-.8z"/><path class="k1" d="M122.6 343.8l2.7 .6l.6 .3l-2.7-.6z"/><path class="k4" d="M96.8 340.9l2.3-.3l1.1 .1l-2.4 .3z"/><path class="k52" d="M78.4 287.6l.7 1.6l.6-3.4l-.7-1.8z"/><path class="k10" d="M67.3 332l.8 .5l1.5 3l-.8-.4z"/><path class="k2" d="M119.4 342.9l2.6 .6l.6 .3l-2.6-.6z"/><path class="k62" d="M83.6 273.5l.8 4.4l.3-.4l-.8-4.4z"/><path class="k0" d="M125.9 344.7l2.6 .7l.5-.1l-2.6-.9z"/><path class="k55" d="M81.3 282.6l.8 3.1l.5-2l-.8-3.4z"/><path class="k4" d="M134 341l2.6 .8l.4-.7l-2.6-.8z"/><path class="k53" d="M79.7 285.8l.7 2.2l.5-2.8l-.8-2.5z"/><path class="k3" d="M116.1 342.1l2.6 .5l.7 .3l-2.6-.5z"/><path class="k4" d="M78.6 339.9l1.5 .4l1.4 1l-1.6-.1z"/><path class="k5" d="M137.7 340l2.6 .7l.3-.4l-2.6-.8z"/><path class="k2" d="M129.6 344.1l2.6 .8l.5-1.1l-2.6-.9z"/><path class="k10" d="M68.1 332.5l.9 .6l1.4 2.8l-.8-.4z"/><path class="k62" d="M83.3 274.2l.8 4.3l.3-.6l-.8-4.4z"/><path class="k4" d="M112.8 341.4l2.5 .4l.8 .3l-2.6-.5z"/><path class="k57" d="M81.8 280.3l.8 3.4l.4-1.7l-.8-3.7z"/><path class="k54" d="M77.8 286.3l.6 1.3l.6-3.6l-.7-1.5z"/><path class="k4" d="M93.4 341.1l2.3-.4l1.1 .2l-2.2 .4z"/><path class="k4" d="M133.6 341.8l2.6 .8l.4-.8l-2.6-.8z"/><path class="k61" d="M82.9 275.3l.8 4.1l.4-.9l-.8-4.3z"/><path class="k10" d="M69 333.1l.9 .7l1.4 2.6l-.9-.5z"/><path class="k59" d="M82.2 278.3l.8 3.7l.4-1.5l-.8-3.9z"/><path class="k1" d="M129 345.3l2.7 .8l.5-1.2l-2.6-.8z"/><path class="k60" d="M82.6 276.6l.8 3.9l.3-1.1l-.8-4.1z"/><path class="k5" d="M137.4 340.5l2.6 .8l.3-.6l-2.6-.7z"/><path class="k4" d="M109.4 340.9l2.5 .3l.9 .2l-2.6-.4z"/><path class="k4" d="M84.9 341.3l1.9-.2l1.3 .5l-1.9 .3z"/><path class="k56" d="M76.1 284.5l.5 .3l.5-4.1l-.5-.3z"/><path class="k55" d="M77.2 285.4l.6 .9l.5-3.8l-.6-1.1z"/><path class="k56" d="M80.1 282.7l.8 2.5l.4-2.6l-.7-2.8z"/><path class="k56" d="M76.6 284.8l.6 .6l.5-4l-.6-.7z"/><path class="k9" d="M69.9 333.8l1 .7l1.4 2.5l-1-.6z"/><path class="k3" d="M133.2 342.7l2.6 .8l.4-.9l-2.6-.8z"/><path class="k56" d="M79 284l.7 1.8l.4-3.1l-.7-2.1z"/><path class="k5" d="M106 340.6l2.5 .1l.9 .2l-2.5-.2z"/><path class="k4" d="M137 341.1l2.6 .8l.4-.6l-2.6-.8z"/><path class="k5" d="M140.6 340.3l2.6 .7l.3-.4l-2.6-.7z"/><path class="k9" d="M70.9 334.5l1 .8l1.5 2.3l-1.1-.6z"/><path class="k5" d="M80.1 340.3l1.7 .2l1.3 .9l-1.6-.1z"/><path class="k2" d="M132.7 343.8l2.6 .8l.5-1.1l-2.6-.8z"/><path class="k4" d="M90.1 341.2l2.1-.4l1.2 .3l-2.1 .5z"/><path class="k5" d="M102.6 340.5l2.4 0l1 .1l-2.5 0z"/><path class="k1" d="M125.3 344.4l2.6 .7l.6 .3l-2.6-.7z"/><path class="k0" d="M128.5 345.4l2.6 .8l.6-.1l-2.7-.8z"/><path class="k59" d="M80.6 279.8l.7 2.8l.5-2.3l-.8-3.1z"/><path class="k4" d="M136.6 341.8l2.6 .8l.4-.7l-2.6-.8z"/><path class="k2" d="M122 343.5l2.6 .6l.7 .3l-2.7-.6z"/><path class="k57" d="M78.3 282.5l.7 1.5l.4-3.4l-.6-1.8z"/><path class="k8" d="M71.9 335.3l1.2 .9l1.4 2l-1.1-.6z"/><path class="k5" d="M140.3 340.7l2.6 .8l.3-.5l-2.6-.7z"/><path class="k2" d="M132.2 344.9l2.6 .8l.5-1.1l-2.6-.8z"/><path class="k3" d="M118.7 342.6l2.6 .5l.7 .4l-2.6-.6z"/><path class="k5" d="M99.1 340.6l2.4-.2l1.1 .1l-2.4 .2z"/><path class="k59" d="M79.4 280.6l.7 2.1l.5-2.9l-.7-2.5z"/><path class="k4" d="M136.2 342.6l2.6 .8l.4-.8l-2.6-.8z"/><path class="k61" d="M81 277.2l.8 3.1l.4-2l-.8-3.5z"/><path class="k4" d="M115.3 341.8l2.6 .5l.8 .3l-2.6-.5z"/><path class="k8" d="M73.1 336.2l1.2 .8l1.5 1.8l-1.3-.6z"/><path class="k59" d="M77.7 281.4l.6 1.1l.5-3.7l-.6-1.3z"/><path class="k1" d="M131.7 346.1l2.6 .8l.5-1.2l-2.6-.8z"/><path class="k5" d="M140 341.3l2.6 .7l.3-.5l-2.6-.8z"/><path class="k60" d="M76.6 280.4l.5 .3l.5-4l-.5-.4z"/><path class="k60" d="M77.1 280.7l.6 .7l.5-3.9l-.6-.8z"/><path class="k67" d="M82.9 269.1l.7 4.4l.3-.4l-.7-4.5z"/><path class="k3" d="M135.8 343.5l2.6 .8l.4-.9l-2.6-.8z"/><path class="k5" d="M111.9 341.2l2.6 .4l.8 .2l-2.5-.4z"/><path class="k63" d="M81.4 274.8l.8 3.5l.4-1.7l-.8-3.8z"/><path class="k5" d="M86.8 341.1l2-.3l1.3 .4l-2 .4z"/><path class="k6" d="M95.7 340.7l2.3-.4l1.1 .3l-2.3 .3z"/><path class="k8" d="M74.3 337l1.4 .9l1.4 1.5l-1.3-.6z"/><path class="k5" d="M81.8 340.5l1.8 .1l1.3 .7l-1.8 .1z"/><path class="k66" d="M82.5 269.9l.8 4.3l.3-.7l-.7-4.4z"/><path class="k4" d="M139.6 341.9l2.6 .7l.4-.6l-2.6-.7z"/><path class="k65" d="M81.8 272.8l.8 3.8l.3-1.3l-.7-4.1z"/><path class="k5" d="M143.2 341l2.6 .7l.3-.4l-2.6-.7z"/><path class="k66" d="M82.2 271.2l.7 4.1l.4-1.1l-.8-4.3z"/><path class="k61" d="M78.8 278.8l.6 1.8l.5-3.3l-.7-2z"/><path class="k16" d="M61.3 327.2l.5 .1l1.6 3l-.6 0z"/><path class="k2" d="M135.3 344.6l2.7 .7l.4-1l-2.6-.8z"/><path class="k62" d="M79.9 277.3l.7 2.5l.4-2.6l-.7-2.9z"/><path class="k5" d="M108.5 340.7l2.5 .3l.9 .2l-2.5-.3z"/><path class="k1" d="M127.9 345.1l2.7 .7l.5 .4l-2.6-.8z"/><path class="k0" d="M131.1 346.2l2.7 .7l.5 0l-2.6-.8z"/><path class="k4" d="M139.2 342.6l2.7 .7l.3-.7l-2.6-.7z"/><path class="k16" d="M61.8 327.3l.6 .1l1.5 3.1l-.5-.2z"/><path class="k2" d="M124.6 344.1l2.7 .7l.6 .3l-2.6-.7z"/><path class="k5" d="M142.9 341.5l2.6 .7l.3-.5l-2.6-.7z"/><path class="k2" d="M134.8 345.7l2.7 .7l.5-1.1l-2.7-.7z"/><path class="k7" d="M75.7 337.9l1.4 .7l1.5 1.3l-1.5-.5z"/><path class="k6" d="M92.2 340.8l2.3-.4l1.2 .3l-2.3 .4z"/><path class="k6" d="M105 340.5l2.5 .1l1 .1l-2.5-.1z"/><path class="k63" d="M78.2 277.5l.6 1.3l.4-3.5l-.6-1.5z"/><path class="k3" d="M121.3 343.1l2.7 .7l.6 .3l-2.6-.6z"/><path class="k4" d="M138.8 343.4l2.7 .7l.4-.8l-2.7-.7z"/><path class="k16" d="M62.4 327.4l.6 .2l1.5 3l-.6-.1z"/><path class="k64" d="M80.3 274.3l.7 2.9l.4-2.4l-.7-3.2z"/><path class="k1" d="M134.3 346.9l2.6 .8l.6-1.3l-2.7-.7z"/><path class="k5" d="M142.6 342l2.6 .7l.3-.5l-2.6-.7z"/><path class="k64" d="M77.6 276.7l.6 .8l.4-3.7l-.6-1z"/><path class="k64" d="M77.1 276.3l.5 .4l.4-3.9l-.5-.4z"/><path class="k4" d="M117.9 342.3l2.7 .6l.7 .2l-2.6-.5z"/><path class="k16" d="M63 327.6l.6 .3l1.5 3l-.6-.3z"/><path class="k6" d="M101.5 340.4l2.5-.1l1 .2l-2.4 0z"/><path class="k3" d="M138.4 344.3l2.6 .7l.5-.9l-2.7-.7z"/><path class="k64" d="M79.2 275.3l.7 2l.4-3l-.6-2.4z"/><path class="k7" d="M77.1 338.6l1.6 .7l1.4 1l-1.5-.4z"/><path class="k6" d="M83.6 340.6l1.9-.1l1.3 .6l-1.9 .2z"/><path class="k4" d="M142.2 342.6l2.6 .7l.4-.6l-2.6-.7z"/><path class="k5" d="M114.5 341.6l2.6 .5l.8 .2l-2.6-.5z"/><path class="k16" d="M63.6 327.9l.7 .3l1.5 3l-.7-.3z"/><path class="k5" d="M145.8 341.7l2.6 .7l.3-.4l-2.6-.7z"/><path class="k67" d="M80.7 271.6l.7 3.2l.4-2l-.7-3.6z"/><path class="k2" d="M138 345.3l2.6 .7l.4-1l-2.6-.7z"/><path class="k6" d="M88.8 340.8l2.2-.4l1.2 .4l-2.1 .4z"/><path class="k16" d="M64.3 328.2l.7 .5l1.5 2.8l-.7-.3z"/><path class="k0" d="M133.8 346.9l2.6 .9l.5-.1l-2.6-.8z"/><path class="k1" d="M130.6 345.8l2.6 .8l.6 .3l-2.7-.7z"/><path class="k7" d="M98 340.3l2.4-.2l1.1 .3l-2.4 .2z"/><path class="k4" d="M141.9 343.3l2.5 .7l.4-.7l-2.6-.7z"/><path class="k6" d="M111 341l2.6 .4l.9 .2l-2.6-.4z"/><path class="k72" d="M82.2 264.7l.7 4.4l.3-.5l-.7-4.5z"/><path class="k69" d="M81.1 269.2l.7 3.6l.4-1.6l-.7-4z"/><path class="k5" d="M145.5 342.2l2.6 .6l.3-.4l-2.6-.7z"/><path class="k66" d="M78.6 273.8l.6 1.5l.5-3.4l-.7-1.8z"/><path class="k2" d="M127.3 344.8l2.6 .7l.7 .3l-2.7-.7z"/><path class="k2" d="M137.5 346.4l2.6 .8l.5-1.2l-2.6-.7z"/><path class="k16" d="M65 328.7l.8 .5l1.5 2.8l-.8-.5z"/><path class="k71" d="M81.8 265.7l.7 4.2l.4-.8l-.7-4.4z"/><path class="k70" d="M81.5 267.2l.7 4l.3-1.3l-.7-4.2z"/><path class="k67" d="M79.7 271.9l.6 2.4l.4-2.7l-.6-2.8z"/><path class="k4" d="M141.5 344.1l2.5 .7l.4-.8l-2.5-.7z"/><path class="k7" d="M78.7 339.3l1.7 .4l1.4 .8l-1.7-.2z"/><path class="k3" d="M124 343.8l2.6 .7l.7 .3l-2.7-.7z"/><path class="k15" d="M65.8 329.2l.8 .6l1.5 2.7l-.8-.5z"/><path class="k5" d="M145.2 342.7l2.5 .7l.4-.6l-2.6-.6z"/><path class="k1" d="M136.9 347.7l2.7 .7l.5-1.2l-2.6-.8z"/><path class="k7" d="M107.5 340.6l2.6 .2l.9 .2l-2.5-.3z"/><path class="k68" d="M78 272.8l.6 1l.4-3.7l-.5-1.2z"/><path class="k69" d="M77.5 272.4l.5 .4l.5-3.9l-.6-.5z"/><path class="k15" d="M66.6 329.8l.8 .8l1.6 2.5l-.9-.6z"/><path class="k7" d="M94.5 340.4l2.3-.4l1.2 .3l-2.3 .4z"/><path class="k4" d="M120.6 342.9l2.6 .6l.8 .3l-2.7-.7z"/><path class="k3" d="M141 345l2.6 .7l.4-.9l-2.5-.7z"/><path class="k14" d="M67.4 330.6l1 .8l1.5 2.4l-.9-.7z"/><path class="k5" d="M144.8 343.3l2.6 .7l.3-.6l-2.5-.7z"/><path class="k5" d="M148.4 342.4l2.5 .6l.3-.4l-2.5-.6z"/><path class="k14" d="M68.4 331.4l1 .9l1.5 2.2l-1-.7z"/><path class="k7" d="M85.5 340.5l2-.2l1.3 .5l-2 .3z"/><path class="k7" d="M104 340.3l2.5 0l1 .3l-2.5-.1z"/><path class="k5" d="M117.1 342.1l2.7 .5l.8 .3l-2.7-.6z"/><path class="k70" d="M80.1 268.8l.6 2.8l.4-2.4l-.7-3.2z"/><path class="k2" d="M140.6 346l2.6 .7l.4-1l-2.6-.7z"/><path class="k13" d="M69.4 332.3l1.1 1.1l1.4 1.9l-1-.8z"/><path class="k70" d="M79 270.1l.7 1.8l.4-3.1l-.7-2.2z"/><path class="k0" d="M136.4 347.8l2.6 .8l.6-.2l-2.7-.7z"/><path class="k1" d="M133.2 346.6l2.6 .9l.6 .3l-2.6-.9z"/><path class="k4" d="M144.4 344l2.6 .7l.4-.7l-2.6-.7z"/><path class="k12" d="M70.5 333.4l1.1 1l1.5 1.8l-1.2-.9z"/><path class="k5" d="M148.1 342.8l2.5 .7l.3-.5l-2.5-.6z"/><path class="k8" d="M80.4 339.7l1.8 .3l1.4 .6l-1.8-.1z"/><path class="k2" d="M129.9 345.5l2.7 .8l.6 .3l-2.6-.8z"/><path class="k2" d="M140.1 347.2l2.6 .6l.5-1.1l-2.6-.7z"/><path class="k6" d="M113.6 341.4l2.7 .4l.8 .3l-2.6-.5z"/><path class="k7" d="M91 340.4l2.2-.5l1.3 .5l-2.3 .4z"/><path class="k12" d="M71.6 334.4l1.3 1.1l1.4 1.5l-1.2-.8z"/><path class="k4" d="M144 344.8l2.6 .7l.4-.8l-2.6-.7z"/><path class="k73" d="M80.4 266l.7 3.2l.4-2l-.7-3.7z"/><path class="k8" d="M100.4 340.1l2.5-.1l1.1 .3l-2.5 .1z"/><path class="k3" d="M126.6 344.5l2.6 .8l.7 .2l-2.6-.7z"/><path class="k72" d="M78.5 268.9l.5 1.2l.4-3.5l-.5-1.5z"/><path class="k5" d="M147.7 343.4l2.5 .6l.4-.5l-2.5-.7z"/><path class="k1" d="M139.6 348.4l2.5 .7l.6-1.3l-2.6-.6z"/><path class="k73" d="M77.9 268.4l.6 .5l.4-3.8l-.6-.6z"/><path class="k11" d="M72.9 335.5l1.3 1.1l1.5 1.3l-1.4-.9z"/><path class="k3" d="M143.6 345.7l2.6 .7l.4-.9l-2.6-.7z"/><path class="k7" d="M110.1 340.8l2.6 .3l.9 .3l-2.6-.4z"/><path class="k5" d="M123.2 343.5l2.7 .7l.7 .3l-2.6-.7z"/><path class="k75" d="M80.8 263.5l.7 3.7l.3-1.5l-.7-4.1z"/><path class="k77" d="M81.5 260.2l.7 4.5l.3-.6l-.7-4.5z"/><path class="k5" d="M147.4 344l2.5 .6l.3-.6l-2.5-.6z"/><path class="k73" d="M79.4 266.6l.7 2.2l.3-2.8l-.6-2.7z"/><path class="k5" d="M150.9 343l2.4 .6l.3-.4l-2.4-.6z"/><path class="k76" d="M81.1 261.6l.7 4.1l.4-1l-.7-4.5z"/><path class="k10" d="M74.2 336.6l1.5 1l1.4 1l-1.4-.7z"/><path class="k2" d="M143.2 346.7l2.5 .7l.5-1l-2.6-.7z"/><path class="k8" d="M96.8 340l2.4-.3l1.2 .4l-2.4 .2z"/><path class="k6" d="M119.8 342.6l2.6 .7l.8 .2l-2.6-.6z"/><path class="k1" d="M135.8 347.5l2.6 .8l.6 .3l-2.6-.8z"/><path class="k0" d="M139 348.6l2.6 .9l.5-.4l-2.5-.7z"/><path class="k4" d="M147 344.7l2.5 .6l.4-.7l-2.5-.6z"/><path class="k8" d="M82.2 340l1.9 0l1.4 .5l-1.9 .1z"/><path class="k5" d="M150.6 343.5l2.4 .5l.3-.4l-2.4-.6z"/><path class="k8" d="M87.5 340.3l2.2-.4l1.3 .5l-2.2 .4z"/><path class="k8" d="M106.5 340.3l2.6 .2l1 .3l-2.6-.2z"/><path class="k2" d="M132.6 346.3l2.6 .9l.6 .3l-2.6-.9z"/><path class="k2" d="M142.7 347.8l2.5 .7l.5-1.1l-2.5-.7z"/><path class="k21" d="M59.7 324.9l.5 .1l1.6 2.3l-.5-.1z"/><path class="k10" d="M75.7 337.6l1.5 .8l1.5 .9l-1.6-.7z"/><path class="k4" d="M146.6 345.5l2.5 .6l.4-.8l-2.5-.6z"/><path class="k7" d="M116.3 341.8l2.6 .6l.9 .2l-2.7-.5z"/><path class="k75" d="M78.9 265.1l.5 1.5l.4-3.3l-.6-1.8z"/><path class="k3" d="M129.2 345.3l2.7 .8l.7 .2l-2.7-.8z"/><path class="k5" d="M150.2 344l2.5 .6l.3-.6l-2.4-.5z"/><path class="k76" d="M79.8 263.3l.6 2.7l.4-2.5l-.6-3.2z"/><path class="k1" d="M142.1 349.1l2.6 .6l.5-1.2l-2.5-.7z"/><path class="k21" d="M60.2 325l.6 .1l1.6 2.3l-.6-.1z"/><path class="k77" d="M78.3 264.5l.6 .6l.3-3.6l-.5-.8z"/><path class="k3" d="M146.2 346.4l2.5 .6l.4-.9l-2.5-.6z"/><path class="k9" d="M93.2 339.9l2.4-.4l1.2 .5l-2.3 .4z"/><path class="k5" d="M125.9 344.2l2.6 .8l.7 .3l-2.6-.8z"/><path class="k9" d="M102.9 340l2.5-.1l1.1 .4l-2.5 0z"/><path class="k21" d="M60.8 325.1l.6 .2l1.6 2.3l-.6-.2z"/><path class="k5" d="M149.9 344.6l2.4 .6l.4-.6l-2.5-.6z"/><path class="k6" d="M153.3 343.6l2.4 .5l.3-.4l-2.4-.5z"/><path class="k8" d="M112.7 341.1l2.6 .5l1 .2l-2.7-.4z"/><path class="k10" d="M77.2 338.4l1.7 .7l1.5 .6l-1.7-.4z"/><path class="k3" d="M145.7 347.4l2.5 .6l.5-1l-2.5-.6z"/><path class="k1" d="M138.4 348.3l2.6 .9l.6 .3l-2.6-.9z"/><path class="k21" d="M61.4 325.3l.6 .3l1.6 2.3l-.6-.3z"/><path class="k0" d="M141.6 349.5l2.5 .8l.6-.6l-2.6-.6z"/><path class="k79" d="M80.2 260.3l.6 3.2l.3-1.9l-.6-3.9z"/><path class="k6" d="M122.4 343.3l2.7 .7l.8 .2l-2.7-.7z"/><path class="k4" d="M149.5 345.3l2.5 .6l.3-.7l-2.4-.6z"/><path class="k5" d="M153 344l2.4 .5l.3-.4l-2.4-.5z"/><path class="k2" d="M135.2 347.2l2.6 .8l.6 .3l-2.6-.8z"/><path class="k21" d="M62 325.6l.7 .4l1.6 2.2l-.7-.3z"/><path class="k9" d="M84.1 340l2-.2l1.4 .5l-2 .2z"/><path class="k2" d="M145.2 348.5l2.5 .6l.5-1.1l-2.5-.6z"/><path class="k79" d="M79.2 261.5l.6 1.8l.4-3l-.6-2.4z"/><path class="k81" d="M80.5 257.7l.6 3.9l.4-1.4l-.7-4.3z"/><path class="k20" d="M62.7 326l.7 .5l1.6 2.2l-.7-.5z"/><path class="k82" d="M80.8 255.9l.7 4.3l.3-.6l-.7-4.6z"/><path class="k9" d="M99.2 339.7l2.5-.2l1.2 .5l-2.5 .1z"/><path class="k4" d="M149.1 346.1l2.5 .5l.4-.7l-2.5-.6z"/><path class="k8" d="M109.1 340.5l2.6 .3l1 .3l-2.6-.3z"/><path class="k3" d="M131.9 346.1l2.6 .8l.7 .3l-2.6-.9z"/><path class="k5" d="M152.7 344.6l2.4 .5l.3-.6l-2.4-.5z"/><path class="k7" d="M118.9 342.4l2.6 .6l.9 .3l-2.6-.7z"/><path class="k9" d="M89.7 339.9l2.2-.5l1.3 .5l-2.2 .5z"/><path class="k20" d="M63.4 326.5l.8 .6l1.6 2.1l-.8-.5z"/><path class="k1" d="M144.7 349.7l2.5 .6l.5-1.2l-2.5-.6z"/><path class="k10" d="M78.9 339.1l1.8 .4l1.5 .5l-1.8-.3z"/><path class="k20" d="M64.2 327.1l.8 .7l1.6 2l-.8-.6z"/><path class="k80" d="M78.7 260.7l.5 .8l.4-3.6l-.6-1z"/><path class="k3" d="M148.7 347l2.4 .5l.5-.9l-2.5-.5z"/><path class="k5" d="M128.5 345l2.7 .8l.7 .3l-2.7-.8z"/><path class="k19" d="M65 327.8l.9 .9l1.5 1.9l-.8-.8z"/><path class="k5" d="M152.3 345.2l2.4 .5l.4-.6l-2.4-.5z"/><path class="k6" d="M155.7 344.1l2.3 .4l.3-.3l-2.3-.5z"/><path class="k18" d="M65.9 328.7l.9 .9l1.6 1.8l-1-.8z"/><path class="k1" d="M141 349.2l2.6 .9l.5 .2l-2.5-.8z"/><path class="k17" d="M66.8 329.6l1 1.1l1.6 1.6l-1-.9z"/><path class="k3" d="M148.2 348l2.5 .5l.4-1l-2.4-.5z"/><path class="k0" d="M144.1 350.3l2.6 .9l.5-.9l-2.5-.6z"/><path class="k8" d="M115.3 341.6l2.6 .5l1 .3l-2.6-.6z"/><path class="k17" d="M67.8 330.7l1.1 1.2l1.6 1.5l-1.1-1.1z"/><path class="k9" d="M105.4 339.9l2.6 .2l1.1 .4l-2.6-.2z"/><path class="k16" d="M68.9 331.9l1.2 1.2l1.5 1.3l-1.1-1z"/><path class="k5" d="M152 345.9l2.3 .5l.4-.7l-2.4-.5z"/><path class="k10" d="M95.6 339.5l2.4-.4l1.2 .6l-2.4 .3z"/><path class="k6" d="M125.1 344l2.6 .8l.8 .2l-2.6-.8z"/><path class="k82" d="M79.6 257.9l.6 2.4l.3-2.6l-.6-3.1z"/><path class="k2" d="M137.8 348l2.6 .9l.6 .3l-2.6-.9z"/><path class="k6" d="M155.4 344.5l2.3 .5l.3-.5l-2.3-.4z"/><path class="k15" d="M70.1 333.1l1.3 1.3l1.5 1.1l-1.3-1.1z"/><path class="k2" d="M147.7 349.1l2.5 .5l.5-1.1l-2.5-.5z"/><path class="k14" d="M71.4 334.4l1.3 1.3l1.5 .9l-1.3-1.1z"/><path class="k4" d="M151.6 346.6l2.3 .5l.4-.7l-2.3-.5z"/><path class="k3" d="M134.5 346.9l2.6 .9l.7 .2l-2.6-.8z"/><path class="k5" d="M155.1 345.1l2.3 .4l.3-.5l-2.3-.5z"/><path class="k10" d="M86.1 339.8l2.2-.4l1.4 .5l-2.2 .4z"/><path class="k10" d="M80.7 339.5l1.9 .1l1.5 .4l-1.9 0z"/><path class="k7" d="M121.5 343l2.7 .8l.9 .2l-2.7-.7z"/><path class="k13" d="M72.7 335.7l1.5 1.2l1.5 .7l-1.5-1z"/><path class="k1" d="M147.2 350.3l2.5 .6l.5-1.3l-2.5-.5z"/><path class="k9" d="M111.7 340.8l2.6 .4l1 .4l-2.6-.5z"/><path class="k84" d="M79 256.9l.6 1l.3-3.3l-.6-1.4z"/><path class="k4" d="M151.1 347.5l2.4 .5l.4-.9l-2.3-.5z"/><path class="k4" d="M131.2 345.8l2.6 .9l.7 .2l-2.6-.8z"/><path class="k85" d="M79.9 254.6l.6 3.1l.3-1.8l-.6-4.1z"/><path class="k10" d="M101.7 339.5l2.5-.1l1.2 .5l-2.5 .1z"/><path class="k6" d="M158 344.5l2.2 .4l.3-.4l-2.2-.3z"/><path class="k5" d="M154.7 345.7l2.3 .4l.4-.6l-2.3-.4z"/><path class="k1" d="M143.6 350.1l2.5 .9l.6 .2l-2.6-.9z"/><path class="k12" d="M74.2 336.9l1.5 1l1.5 .5l-1.5-.8z"/><path class="k11" d="M91.9 339.4l2.3-.5l1.4 .6l-2.4 .4z"/><path class="k0" d="M146.7 351.2l2.4 .9l.6-1.2l-2.5-.6z"/><path class="k3" d="M150.7 348.5l2.4 .5l.4-1l-2.4-.5z"/><path class="k86" d="M80.2 251.8l.6 4.1l.3-.9l-.6-4.5z"/><path class="k2" d="M140.4 348.9l2.6 .9l.6 .3l-2.6-.9z"/><path class="k5" d="M154.3 346.4l2.4 .4l.3-.7l-2.3-.4z"/><path class="k8" d="M117.9 342.1l2.7 .7l.9 .2l-2.6-.6z"/><path class="k6" d="M157.7 345l2.2 .3l.3-.4l-2.2-.4z"/><path class="k6" d="M127.7 344.8l2.7 .9l.8 .1l-2.7-.8z"/><path class="k2" d="M150.2 349.6l2.4 .5l.5-1.1l-2.4-.5z"/><path class="k10" d="M108 340.1l2.6 .2l1.1 .5l-2.6-.3z"/><path class="k3" d="M137.1 347.8l2.6 .9l.7 .2l-2.6-.9z"/><path class="k24" d="M58.1 323.6l.6 0l1.5 1.4l-.5-.1z"/><path class="k4" d="M153.9 347.1l2.4 .5l.4-.8l-2.4-.4z"/><path class="k12" d="M75.7 337.9l1.7 .8l1.5 .4l-1.7-.7z"/><path class="k6" d="M157.4 345.5l2.2 .4l.3-.6l-2.2-.3z"/><path class="k11" d="M98 339.1l2.4-.3l1.3 .7l-2.5 .2z"/><path class="k1" d="M149.7 350.9l2.4 .4l.5-1.2l-2.4-.5z"/><path class="k7" d="M124.2 343.8l2.6 .8l.9 .2l-2.6-.8z"/><path class="k11" d="M82.6 339.6l2.1-.2l1.4 .4l-2 .2z"/><path class="k24" d="M58.7 323.6l.5 .2l1.6 1.3l-.6-.1z"/><path class="k88" d="M79.3 253.2l.6 1.4l.3-2.8l-.6-2.3z"/><path class="k4" d="M153.5 348l2.3 .5l.5-.9l-2.4-.5z"/><path class="k4" d="M133.8 346.7l2.6 .9l.7 .2l-2.6-.9z"/><path class="k1" d="M146.1 351l2.4 .9l.6 .2l-2.4-.9z"/><path class="k6" d="M160.2 344.9l2.1 .3l.3-.4l-2.1-.3z"/><path class="k9" d="M114.3 341.2l2.6 .6l1 .3l-2.6-.5z"/><path class="k6" d="M157 346.1l2.2 .4l.4-.6l-2.2-.4z"/><path class="k11" d="M88.3 339.4l2.2-.5l1.4 .5l-2.2 .5z"/><path class="k24" d="M59.2 323.8l.6 .2l1.6 1.3l-.6-.2z"/><path class="k1" d="M149.1 352.1l2.4 .5l.6-1.3l-2.4-.4z"/><path class="k2" d="M143 349.8l2.5 .9l.6 .3l-2.5-.9z"/><path class="k3" d="M153.1 349l2.3 .5l.4-1l-2.3-.5z"/><path class="k6" d="M159.9 345.3l2.1 .3l.3-.4l-2.1-.3z"/><path class="k12" d="M77.4 338.7l1.8 .5l1.5 .3l-1.8-.4z"/><path class="k5" d="M156.7 346.8l2.2 .4l.3-.7l-2.2-.4z"/><path class="k24" d="M59.8 324l.7 .3l1.5 1.3l-.6-.3z"/><path class="k11" d="M104.2 339.4l2.6 .1l1.2 .6l-2.6-.2z"/><path class="k6" d="M130.4 345.7l2.6 .9l.8 .1l-2.6-.9z"/><path class="k8" d="M120.6 342.8l2.6 .8l1 .2l-2.7-.8z"/><path class="k24" d="M60.5 324.3l.6 .4l1.6 1.3l-.7-.4z"/><path class="k3" d="M139.7 348.7l2.6 .9l.7 .2l-2.6-.9z"/><path class="k3" d="M152.6 350.1l2.3 .5l.5-1.1l-2.3-.5z"/><path class="k5" d="M156.3 347.6l2.2 .3l.4-.7l-2.2-.4z"/><path class="k6" d="M159.6 345.9l2.1 .2l.3-.5l-2.1-.3z"/><path class="k12" d="M94.2 338.9l2.5-.4l1.3 .6l-2.4 .4z"/><path class="k91" d="M79.6 249.5l.6 2.3l.3-1.3l-.6-4.7z"/><path class="k24" d="M61.1 324.7l.8 .6l1.5 1.2l-.7-.5z"/><path class="k11" d="M110.6 340.3l2.6 .4l1.1 .5l-2.6-.4z"/><path class="k23" d="M61.9 325.3l.7 .6l1.6 1.2l-.8-.6z"/><path class="k0" d="M148.5 351.9l2.4 .9l.6-.2l-2.4-.5z"/><path class="k2" d="M152.1 351.3l2.3 .5l.5-1.2l-2.3-.5z"/><path class="k7" d="M126.8 344.6l2.7 .9l.9 .2l-2.7-.9z"/><path class="k4" d="M136.4 347.6l2.6 1l.7 .1l-2.6-.9z"/><path class="k7" d="M162.3 345.2l2 .2l.3-.3l-2-.3z"/><path class="k23" d="M62.6 325.9l.9 .8l1.5 1.1l-.8-.7z"/><path class="k4" d="M155.8 348.5l2.2 .3l.5-.9l-2.2-.3z"/><path class="k6" d="M159.2 346.5l2.1 .2l.4-.6l-2.1-.2z"/><path class="k22" d="M63.5 326.7l.8 .9l1.6 1.1l-.9-.9z"/><path class="k21" d="M64.3 327.6l1 1.1l1.5 .9l-.9-.9z"/><path class="k20" d="M65.3 328.7l1 1.1l1.5 .9l-1-1.1z"/><path class="k19" d="M66.3 329.8l1.1 1.3l1.5 .8l-1.1-1.2z"/><path class="k18" d="M67.4 331.1l1.1 1.4l1.6 .6l-1.2-1.2z"/><path class="k2" d="M145.5 350.7l2.4 1l.6 .2l-2.4-.9z"/><path class="k12" d="M84.7 339.4l2.1-.4l1.5 .4l-2.2 .4z"/><path class="k9" d="M116.9 341.8l2.7 .7l1 .3l-2.7-.7z"/><path class="k17" d="M68.5 332.5l1.3 1.4l1.6 .5l-1.3-1.3z"/><path class="k1" d="M151.5 352.6l2.3 .5l.6-1.3l-2.3-.5z"/><path class="k12" d="M79.2 339.2l2 .2l1.4 .2l-1.9-.1z"/><path class="k16" d="M69.8 333.9l1.4 1.4l1.5 .4l-1.3-1.3z"/><path class="k12" d="M100.4 338.8l2.6-.1l1.2 .7l-2.5 .1z"/><path class="k4" d="M155.4 349.5l2.2 .3l.4-1l-2.2-.3z"/><path class="k7" d="M162 345.6l2 .3l.3-.5l-2-.2z"/><path class="k6" d="M158.9 347.2l2.1 .2l.3-.7l-2.1-.2z"/><path class="k5" d="M133 346.6l2.6 .9l.8 .1l-2.6-.9z"/><path class="k15" d="M71.2 335.3l1.4 1.4l1.6 .2l-1.5-1.2z"/><path class="k3" d="M142.3 349.6l2.5 1l.7 .1l-2.5-.9z"/><path class="k8" d="M123.2 343.6l2.7 .8l.9 .2l-2.6-.8z"/><path class="k3" d="M154.9 350.6l2.2 .4l.5-1.2l-2.2-.3z"/><path class="k13" d="M90.5 338.9l2.4-.6l1.3 .6l-2.3 .5z"/><path class="k7" d="M161.7 346.1l2 .3l.3-.5l-2-.3z"/><path class="k5" d="M158.5 347.9l2.1 .3l.4-.8l-2.1-.2z"/><path class="k12" d="M106.8 339.5l2.6 .2l1.2 .6l-2.6-.2z"/><path class="k14" d="M72.6 336.7l1.6 1.1l1.5 .1l-1.5-1z"/><path class="k0" d="M150.9 352.8l2.3 .9l.6-.6l-2.3-.5z"/><path class="k7" d="M164.3 345.4l1.9 .2l.3-.4l-1.9-.1z"/><path class="k4" d="M139 348.6l2.6 .9l.7 .1l-2.6-.9z"/><path class="k2" d="M154.4 351.8l2.2 .4l.5-1.2l-2.2-.4z"/><path class="k7" d="M129.5 345.5l2.6 .9l.9 .2l-2.6-.9z"/><path class="k5" d="M158 348.8l2.1 .3l.5-.9l-2.1-.3z"/><path class="k6" d="M161.3 346.7l2 .3l.4-.6l-2-.3z"/><path class="k11" d="M113.2 340.7l2.6 .6l1.1 .5l-2.6-.6z"/><path class="k1" d="M147.9 351.7l2.4 .9l.6 .2l-2.4-.9z"/><path class="k14" d="M74.2 337.8l1.7 .9l1.5 0l-1.7-.8z"/><path class="k13" d="M96.7 338.5l2.4-.4l1.3 .7l-2.4 .3z"/><path class="k7" d="M164 345.9l1.9 .1l.3-.4l-1.9-.2z"/><path class="k1" d="M153.8 353.1l2.2 .4l.6-1.3l-2.2-.4z"/><path class="k10" d="M119.6 342.5l2.6 .7l1 .4l-2.6-.8z"/><path class="k4" d="M157.6 349.8l2.1 .3l.4-1l-2.1-.3z"/><path class="k6" d="M161 347.4l1.9 .3l.4-.7l-2-.3z"/><path class="k13" d="M81.2 339.4l2-.2l1.5 .2l-2.1 .2z"/><path class="k5" d="M135.6 347.5l2.6 1l.8 .1l-2.6-1z"/><path class="k27" d="M56.5 323.5l.6 0l1.6 .1l-.6 0z"/><path class="k3" d="M144.8 350.6l2.5 .9l.6 .2l-2.4-1z"/><path class="k8" d="M125.9 344.4l2.7 .9l.9 .2l-2.7-.9z"/><path class="k7" d="M163.7 346.4l1.8 .2l.4-.6l-1.9-.1z"/><path class="k3" d="M157.1 351l2.1 .3l.5-1.2l-2.1-.3z"/><path class="k13" d="M86.8 339l2.3-.5l1.4 .4l-2.2 .5z"/><path class="k27" d="M57.1 323.5l.5 .2l1.6 .1l-.5-.2z"/><path class="k5" d="M160.6 348.2l1.9 .3l.4-.8l-1.9-.3z"/><path class="k13" d="M103 338.7l2.6 0l1.2 .8l-2.6-.1z"/><path class="k0" d="M153.2 353.7l2.2 .9l.6-1.1l-2.2-.4z"/><path class="k8" d="M166.2 345.6l1.7 .2l.3-.4l-1.7-.2z"/><path class="k13" d="M75.9 338.7l1.8 .6l1.5-.1l-1.8-.5z"/><path class="k4" d="M141.6 349.5l2.5 1l.7 .1l-2.5-1z"/><path class="k1" d="M150.3 352.6l2.3 .9l.6 .2l-2.3-.9z"/><path class="k27" d="M57.6 323.7l.6 .2l1.6 .1l-.6-.2z"/><path class="k6" d="M132.1 346.4l2.7 1l.8 .1l-2.6-.9z"/><path class="k2" d="M156.6 352.2l2.1 .3l.5-1.2l-2.1-.3z"/><path class="k7" d="M163.3 347l1.9 .2l.3-.6l-1.8-.2z"/><path class="k5" d="M160.1 349.1l2 .3l.4-.9l-1.9-.3z"/><path class="k12" d="M109.4 339.7l2.6 .3l1.2 .7l-2.6-.4z"/><path class="k27" d="M58.2 323.9l.7 .3l1.6 .1l-.7-.3z"/><path class="k8" d="M165.9 346l1.7 .2l.3-.4l-1.7-.2z"/><path class="k11" d="M115.8 341.3l2.7 .7l1.1 .5l-2.7-.7z"/><path class="k14" d="M92.9 338.3l2.4-.6l1.4 .8l-2.5 .4z"/><path class="k1" d="M156 353.5l2.1 .3l.6-1.3l-2.1-.3z"/><path class="k6" d="M162.9 347.7l1.9 .2l.4-.7l-1.9-.2z"/><path class="k4" d="M159.7 350.1l2 .3l.4-1l-2-.3z"/><path class="k2" d="M147.3 351.5l2.3 1l.7 .1l-2.4-.9z"/><path class="k26" d="M58.9 324.2l.7 .5l1.5 0l-.6-.4z"/><path class="k5" d="M138.2 348.5l2.6 1l.8 0l-2.6-.9z"/><path class="k10" d="M122.2 343.2l2.7 .9l1 .3l-2.7-.8z"/><path class="k26" d="M59.6 324.7l.7 .5l1.6 .1l-.8-.6z"/><path class="k7" d="M165.5 346.6l1.8 .1l.3-.5l-1.7-.2z"/><path class="k4" d="M159.2 351.3l2 .2l.5-1.1l-2-.3z"/><path class="k8" d="M128.6 345.3l2.6 1l.9 .1l-2.6-.9z"/><path class="k6" d="M162.5 348.5l1.9 .2l.4-.8l-1.9-.2z"/><path class="k26" d="M60.3 325.2l.7 .7l1.6 0l-.7-.6z"/><path class="k8" d="M167.9 345.8l1.6 .1l.3-.4l-1.6-.1z"/><path class="k1" d="M155.4 354.6l2.1 .5l.6-1.3l-2.1-.3z"/><path class="k1" d="M152.6 353.5l2.2 .9l.6 .2l-2.2-.9z"/><path class="k14" d="M83.2 339.2l2.2-.4l1.4 .2l-2.1 .4z"/><path class="k14" d="M77.7 339.3l2 .2l1.5-.1l-2-.2z"/><path class="k25" d="M61 325.9l.9 .8l1.6 0l-.9-.8z"/><path class="k19" d="M67 332.7l1.2 1.5l1.6-.3l-1.3-1.4z"/><path class="k20" d="M65.8 331.3l1.2 1.4l1.5-.2l-1.1-1.4z"/><path class="k18" d="M68.2 334.2l1.4 1.5l1.6-.4l-1.4-1.4z"/><path class="k21" d="M64.7 330l1.1 1.3l1.6-.2l-1.1-1.3z"/><path class="k24" d="M61.9 326.7l.9 .9l1.5 0l-.8-.9z"/><path class="k4" d="M144.1 350.5l2.4 .9l.8 .1l-2.5-.9z"/><path class="k15" d="M99.1 338.1l2.6-.3l1.3 .9l-2.6 .1z"/><path class="k22" d="M63.7 328.7l1 1.3l1.6-.2l-1-1.1z"/><path class="k23" d="M62.8 327.6l.9 1.1l1.6 0l-1-1.1z"/><path class="k7" d="M165.2 347.2l1.7 .1l.4-.6l-1.8-.1z"/><path class="k17" d="M69.6 335.7l1.5 1.4l1.5-.4l-1.4-1.4z"/><path class="k6" d="M134.8 347.4l2.6 1l.8 .1l-2.6-1z"/><path class="k3" d="M158.7 352.5l1.9 .2l.6-1.2l-2-.2z"/><path class="k5" d="M162.1 349.4l1.9 .2l.4-.9l-1.9-.2z"/><path class="k8" d="M167.6 346.2l1.6 .1l.3-.4l-1.6-.1z"/><path class="k14" d="M105.6 338.7l2.6 .1l1.2 .9l-2.6-.2z"/><path class="k16" d="M71.1 337.1l1.6 1.2l1.5-.5l-1.6-1.1z"/><path class="k2" d="M149.6 352.5l2.3 .9l.7 .1l-2.3-.9z"/><path class="k7" d="M164.8 347.9l1.7 .1l.4-.7l-1.7-.1z"/><path class="k15" d="M89.1 338.5l2.3-.7l1.5 .5l-2.4 .6z"/><path class="k5" d="M161.7 350.4l1.8 .2l.5-1l-1.9-.2z"/><path class="k2" d="M158.1 353.8l2 .2l.5-1.3l-1.9-.2z"/><path class="k13" d="M112 340l2.7 .6l1.1 .7l-2.6-.6z"/><path class="k5" d="M140.8 349.5l2.5 .9l.8 .1l-2.5-1z"/><path class="k11" d="M118.5 342l2.7 .8l1 .4l-2.6-.7z"/><path class="k8" d="M167.3 346.7l1.6 .1l.3-.5l-1.6-.1z"/><path class="k9" d="M124.9 344.1l2.7 1l1 .2l-2.7-.9z"/><path class="k8" d="M169.5 345.9l1.5 .1l.3-.3l-1.5-.2z"/><path class="k1" d="M154.8 354.4l2.1 1l.6-.3l-2.1-.5z"/><path class="k6" d="M164.4 348.7l1.7 .1l.4-.8l-1.7-.1z"/><path class="k15" d="M72.7 338.3l1.7 .9l1.5-.5l-1.7-.9z"/><path class="k4" d="M161.2 351.5l1.8 .2l.5-1.1l-1.8-.2z"/><path class="k8" d="M131.2 346.3l2.6 1.1l1 0l-2.7-1z"/><path class="k28" d="M54.9 324.7l.6 .1l1.6-1.3l-.6 0z"/><path class="k1" d="M157.5 355.1l2 .3l.6-1.4l-2-.2z"/><path class="k3" d="M146.5 351.4l2.4 1l.7 .1l-2.3-1z"/><path class="k8" d="M166.9 347.3l1.6 .1l.4-.6l-1.6-.1z"/><path class="k8" d="M169.2 346.3l1.5 .2l.3-.5l-1.5-.1z"/><path class="k14" d="M79.7 339.5l2-.1l1.5-.2l-2 .2z"/><path class="k6" d="M164 349.6l1.7 .1l.4-.9l-1.7-.1z"/><path class="k16" d="M95.3 337.7l2.5-.5l1.3 .9l-2.4 .4z"/><path class="k3" d="M160.6 352.7l1.9 .2l.5-1.2l-1.8-.2z"/><path class="k6" d="M137.4 348.4l2.5 1.1l.9 0l-2.6-1z"/><path class="k28" d="M55.5 324.8l.5 .1l1.6-1.2l-.5-.2z"/><path class="k2" d="M151.9 353.4l2.2 .9l.7 .1l-2.2-.9z"/><path class="k7" d="M166.5 348l1.7 .2l.3-.8l-1.6-.1z"/><path class="k28" d="M56 324.9l.6 .2l1.6-1.2l-.6-.2z"/><path class="k5" d="M163.5 350.6l1.8 .2l.4-1.1l-1.7-.1z"/><path class="k8" d="M168.9 346.8l1.5 .2l.3-.5l-1.5-.2z"/><path class="k9" d="M171 346l1.4 .2l.3-.4l-1.4-.1z"/><path class="k15" d="M74.4 339.2l1.8 .7l1.5-.6l-1.8-.6z"/><path class="k15" d="M85.4 338.8l2.2-.6l1.5 .3l-2.3 .5z"/><path class="k4" d="M143.3 350.4l2.5 1l.7 0l-2.4-.9z"/><path class="k2" d="M160.1 354l1.9 .3l.5-1.4l-1.9-.2z"/><path class="k0" d="M156.9 355.4l2 .8l.6-.8l-2-.3z"/><path class="k16" d="M101.7 337.8l2.6-.1l1.3 1l-2.6 0z"/><path class="k27" d="M56.6 325.1l.7 .3l1.6-1.2l-.7-.3z"/><path class="k7" d="M166.1 348.8l1.7 .2l.4-.8l-1.7-.2z"/><path class="k11" d="M121.2 342.8l2.6 .9l1.1 .4l-2.7-.9z"/><path class="k9" d="M127.6 345.1l2.6 1.1l1 .1l-2.6-1z"/><path class="k4" d="M163 351.7l1.8 .2l.5-1.1l-1.8-.2z"/><path class="k13" d="M114.7 340.6l2.6 .7l1.2 .7l-2.7-.7z"/><path class="k15" d="M108.2 338.8l2.6 .3l1.2 .9l-2.6-.3z"/><path class="k8" d="M168.5 347.4l1.5 .2l.4-.6l-1.5-.2z"/><path class="k3" d="M148.9 352.4l2.3 .9l.7 .1l-2.3-.9z"/><path class="k9" d="M170.7 346.5l1.4 .1l.3-.4l-1.4-.2z"/><path class="k27" d="M57.3 325.4l.7 .5l1.6-1.2l-.7-.5z"/><path class="k7" d="M133.8 347.4l2.6 1l1 0l-2.6-1z"/><path class="k1" d="M159.5 355.4l1.8 .3l.7-1.4l-1.9-.3z"/><path class="k6" d="M165.7 349.7l1.6 .2l.5-.9l-1.7-.2z"/><path class="k1" d="M154.1 354.3l2.1 .9l.7 .2l-2.1-1z"/><path class="k27" d="M58 325.9l.7 .5l1.6-1.2l-.7-.5z"/><path class="k4" d="M162.5 352.9l1.8 .2l.5-1.2l-1.8-.2z"/><path class="k9" d="M172.4 346.2l1.3 .2l.3-.4l-1.3-.2z"/><path class="k6" d="M139.9 349.5l2.6 1l.8-.1l-2.5-.9z"/><path class="k8" d="M168.2 348.2l1.5 .1l.3-.7l-1.5-.2z"/><path class="k26" d="M58.7 326.4l.8 .7l1.5-1.2l-.7-.7z"/><path class="k8" d="M170.4 347l1.4 .1l.3-.5l-1.4-.1z"/><path class="k16" d="M91.4 337.8l2.5-.7l1.4 .6l-2.4 .6z"/><path class="k20" d="M65.4 333.9l1.3 1.4l1.5-1.1l-1.2-1.5z"/><path class="k21" d="M64.2 332.4l1.2 1.5l1.6-1.2l-1.2-1.4z"/><path class="k26" d="M59.5 327.1l.8 .8l1.6-1.2l-.9-.8z"/><path class="k18" d="M66.7 335.3l1.3 1.5l1.6-1.1l-1.4-1.5z"/><path class="k22" d="M63.1 331.1l1.1 1.3l1.6-1.1l-1.1-1.3z"/><path class="k5" d="M165.3 350.8l1.6 .1l.4-1l-1.6-.2z"/><path class="k25" d="M60.3 327.9l.9 .9l1.6-1.2l-.9-.9z"/><path class="k23" d="M62.1 329.9l1 1.2l1.6-1.1l-1-1.3z"/><path class="k24" d="M61.2 328.8l.9 1.1l1.6-1.2l-.9-1.1z"/><path class="k15" d="M76.2 339.9l1.9 .2l1.6-.6l-2-.2z"/><path class="k17" d="M68 336.8l1.5 1.3l1.6-1l-1.5-1.4z"/><path class="k0" d="M158.9 356.2l1.8 .9l.6-1.4l-1.8-.3z"/><path class="k4" d="M145.8 351.4l2.4 1l.7 0l-2.4-1z"/><path class="k3" d="M162 354.3l1.7 .2l.6-1.4l-1.8-.2z"/><path class="k15" d="M81.7 339.4l2.2-.4l1.5-.2l-2.2 .4z"/><path class="k7" d="M167.8 349l1.5 .1l.4-.8l-1.5-.1z"/><path class="k9" d="M172.1 346.6l1.3 .2l.3-.4l-1.3-.2z"/><path class="k8" d="M170 347.6l1.4 .2l.4-.7l-1.4-.1z"/><path class="k27" d="M53.3 327.2l.6 0l1.6-2.4l-.6-.1z"/><path class="k16" d="M69.5 338.1l1.6 1.2l1.6-1l-1.6-1.2z"/><path class="k5" d="M164.8 351.9l1.6 .2l.5-1.2l-1.6-.1z"/><path class="k3" d="M151.2 353.3l2.2 1l.7 0l-2.2-.9z"/><path class="k9" d="M130.2 346.2l2.6 1.1l1 .1l-2.6-1.1z"/><path class="k9" d="M173.7 346.4l1.2 .2l.3-.4l-1.2-.2z"/><path class="k1" d="M156.2 355.2l2 .9l.7 .1l-2-.8z"/><path class="k11" d="M123.8 343.7l2.7 1.1l1.1 .3l-2.7-1z"/><path class="k6" d="M167.3 349.9l1.6 .1l.4-.9l-1.5-.1z"/><path class="k2" d="M161.3 355.7l1.8 .2l.6-1.4l-1.7-.2z"/><path class="k17" d="M97.8 337.2l2.5-.3l1.4 .9l-2.6 .3z"/><path class="k7" d="M136.4 348.4l2.6 1.1l.9 0l-2.5-1.1z"/><path class="k9" d="M171.8 347.1l1.3 .2l.3-.5l-1.3-.2z"/><path class="k27" d="M53.9 327.2l.6 .2l1.5-2.5l-.5-.1z"/><path class="k8" d="M169.7 348.3l1.4 .2l.3-.7l-1.4-.2z"/><path class="k13" d="M117.3 341.3l2.7 .8l1.2 .7l-2.7-.8z"/><path class="k4" d="M164.3 353.1l1.6 .2l.5-1.2l-1.6-.2z"/><path class="k16" d="M71.1 339.3l1.7 1l1.6-1.1l-1.7-.9z"/><path class="k5" d="M142.5 350.5l2.4 1l.9-.1l-2.5-1z"/><path class="k15" d="M110.8 339.1l2.7 .6l1.2 .9l-2.7-.6z"/><path class="k16" d="M104.3 337.7l2.6 .1l1.3 1l-2.6-.1z"/><path class="k9" d="M173.4 346.8l1.2 .2l.3-.4l-1.2-.2z"/><path class="k6" d="M166.9 350.9l1.5 .2l.5-1.1l-1.6-.1z"/><path class="k27" d="M54.5 327.4l.6 .2l1.5-2.5l-.6-.2z"/><path class="k17" d="M87.6 338.2l2.4-.7l1.4 .3l-2.3 .7z"/><path class="k8" d="M171.4 347.8l1.3 .1l.4-.6l-1.3-.2z"/><path class="k7" d="M169.3 349.1l1.4 .2l.4-.8l-1.4-.2z"/><path class="k1" d="M160.7 357.1l1.7 .2l.7-1.4l-1.8-.2z"/><path class="k4" d="M148.2 352.4l2.3 1l.7-.1l-2.3-.9z"/><path class="k9" d="M174.9 346.6l1.1 .2l.3-.4l-1.1-.2z"/><path class="k3" d="M163.7 354.5l1.6 .2l.6-1.4l-1.6-.2z"/><path class="k27" d="M55.1 327.6l.6 .3l1.6-2.5l-.7-.3z"/><path class="k1" d="M158.2 356.1l1.9 .8l.6 .2l-1.8-.9z"/><path class="k2" d="M153.4 354.3l2.1 .9l.7 0l-2.1-.9z"/><path class="k5" d="M166.4 352.1l1.5 .1l.5-1.1l-1.5-.2z"/><path class="k9" d="M173.1 347.3l1.2 .2l.3-.5l-1.2-.2z"/><path class="k15" d="M78.1 340.1l2.1 0l1.5-.7l-2 .1z"/><path class="k7" d="M168.9 350l1.4 .2l.4-.9l-1.4-.2z"/><path class="k8" d="M171.1 348.5l1.3 .1l.3-.7l-1.3-.1z"/><path class="k27" d="M55.7 327.9l.7 .4l1.6-2.4l-.7-.5z"/><path class="k2" d="M163.1 355.9l1.6 .2l.6-1.4l-1.6-.2z"/><path class="k9" d="M174.6 347l1.1 .2l.3-.4l-1.1-.2z"/><path class="k15" d="M72.8 340.3l1.8 .7l1.6-1.1l-1.8-.7z"/><path class="k8" d="M132.8 347.3l2.7 1.1l.9 0l-2.6-1z"/><path class="k4" d="M165.9 353.3l1.5 .2l.5-1.3l-1.5-.1z"/><path class="k26" d="M56.4 328.3l.7 .5l1.6-2.4l-.7-.5z"/><path class="k25" d="M51.8 330.6l.5 .1l1.6-3.5l-.6 0z"/><path class="k7" d="M139 349.5l2.5 1.1l1-.1l-2.6-1z"/><path class="k11" d="M126.5 344.8l2.6 1.1l1.1 .3l-2.6-1.1z"/><path class="k10" d="M176 346.8l1.1 .2l.3-.4l-1.1-.2z"/><path class="k9" d="M172.7 347.9l1.2 .2l.4-.6l-1.2-.2z"/><path class="k6" d="M168.4 351.1l1.4 .1l.5-1l-1.4-.2z"/><path class="k8" d="M170.7 349.3l1.3 .1l.4-.8l-1.3-.1z"/><path class="k26" d="M57.1 328.8l.8 .6l1.6-2.3l-.8-.7z"/><path class="k18" d="M93.9 337.1l2.4-.6l1.5 .7l-2.5 .5z"/><path class="k5" d="M144.9 351.5l2.4 1l.9-.1l-2.4-1z"/><path class="k25" d="M57.9 329.4l.8 .8l1.6-2.3l-.8-.8z"/><path class="k13" d="M120 342.1l2.7 1l1.1 .6l-2.6-.9z"/><path class="k17" d="M83.9 339l2.2-.6l1.5-.2l-2.2 .6z"/><path class="k9" d="M174.3 347.5l1.1 .2l.3-.5l-1.1-.2z"/><path class="k25" d="M52.3 330.7l.6 .1l1.6-3.4l-.6-.2z"/><path class="k1" d="M162.4 357.3l1.7 .3l.6-1.5l-1.6-.2z"/><path class="k0" d="M160.1 356.9l1.7 .8l.6-.4l-1.7-.2z"/><path class="k25" d="M58.7 330.2l.9 .9l1.6-2.3l-.9-.9z"/><path class="k3" d="M165.3 354.7l1.5 .1l.6-1.3l-1.5-.2z"/><path class="k4" d="M150.5 353.4l2.2 .9l.7 0l-2.2-1z"/><path class="k21" d="M62.6 334.5l1.2 1.3l1.6-1.9l-1.2-1.5z"/><path class="k19" d="M63.8 335.8l1.3 1.4l1.6-1.9l-1.3-1.4z"/><path class="k24" d="M59.6 331.1l.9 1l1.6-2.2l-.9-1.1z"/><path class="k22" d="M61.6 333.2l1 1.3l1.6-2.1l-1.1-1.3z"/><path class="k2" d="M155.5 355.2l2 .8l.7 .1l-2-.9z"/><path class="k23" d="M60.5 332.1l1.1 1.1l1.5-2.1l-1-1.2z"/><path class="k9" d="M175.7 347.2l1.1 .2l.3-.4l-1.1-.2z"/><path class="k5" d="M167.9 352.2l1.4 .2l.5-1.2l-1.4-.1z"/><path class="k18" d="M65.1 337.2l1.4 1.4l1.5-1.8l-1.3-1.5z"/><path class="k8" d="M172.4 348.6l1.2 .2l.3-.7l-1.2-.2z"/><path class="k7" d="M170.3 350.2l1.2 .2l.5-1l-1.3-.1z"/><path class="k10" d="M177.1 347l1 .2l.2-.3l-.9-.3z"/><path class="k25" d="M52.9 330.8l.6 .2l1.6-3.4l-.6-.2z"/><path class="k17" d="M66.5 338.6l1.4 1.3l1.6-1.8l-1.5-1.3z"/><path class="k15" d="M113.5 339.7l2.6 .7l1.2 .9l-2.6-.7z"/><path class="k9" d="M173.9 348.1l1.2 .2l.3-.6l-1.1-.2z"/><path class="k18" d="M100.3 336.9l2.6-.2l1.4 1l-2.6 .1z"/><path class="k2" d="M164.7 356.1l1.5 .2l.6-1.5l-1.5-.1z"/><path class="k5" d="M167.4 353.5l1.4 .2l.5-1.3l-1.4-.2z"/><path class="k8" d="M172 349.4l1.2 .2l.4-.8l-1.2-.2z"/><path class="k17" d="M106.9 337.8l2.6 .3l1.3 1l-2.6-.3z"/><path class="k22" d="M50.2 334.7l.6 .1l1.5-4.1l-.5-.1z"/><path class="k6" d="M169.8 351.2l1.3 .2l.4-1l-1.2-.2z"/><path class="k9" d="M175.4 347.7l1 .2l.4-.5l-1.1-.2z"/><path class="k25" d="M53.5 331l.6 .3l1.6-3.4l-.6-.3z"/><path class="k15" d="M74.6 341l2 .3l1.5-1.2l-1.9-.2z"/><path class="k16" d="M67.9 339.9l1.6 1.1l1.6-1.7l-1.6-1.2z"/><path class="k9" d="M176.8 347.4l.9 .2l.4-.4l-1-.2z"/><path class="k8" d="M135.5 348.4l2.5 1.2l1-.1l-2.6-1.1z"/><path class="k6" d="M141.5 350.6l2.5 1.1l.9-.2l-2.4-1z"/><path class="k8" d="M173.6 348.8l1.1 .2l.4-.7l-1.2-.2z"/><path class="k10" d="M129.1 345.9l2.7 1.2l1 .2l-2.6-1.1z"/><path class="k25" d="M54.1 331.3l.7 .4l1.6-3.4l-.7-.4z"/><path class="k0" d="M161.8 357.7l1.6 .8l.7-.9l-1.7-.3z"/><path class="k5" d="M147.3 352.5l2.3 1l.9-.1l-2.3-1z"/><path class="k2" d="M157.5 356l1.8 .9l.8 0l-1.9-.8z"/><path class="k22" d="M50.8 334.8l.5 .1l1.6-4.1l-.6-.1z"/><path class="k4" d="M166.8 354.8l1.4 .2l.6-1.3l-1.4-.2z"/><path class="k7" d="M171.5 350.4l1.2 .2l.5-1l-1.2-.2z"/><path class="k6" d="M169.3 352.4l1.3 .2l.5-1.2l-1.3-.2z"/><path class="k16" d="M80.2 340.1l2.1-.4l1.6-.7l-2.2 .4z"/><path class="k3" d="M152.7 354.3l2.1 .9l.7 0l-2.1-.9z"/><path class="k1" d="M164.1 357.6l1.5 .2l.6-1.5l-1.5-.2z"/><path class="k9" d="M175.1 348.3l1 .2l.3-.6l-1-.2z"/><path class="k18" d="M90 337.5l2.4-.7l1.5 .3l-2.5 .7z"/><path class="k25" d="M54.8 331.7l.7 .4l1.6-3.3l-.7-.5z"/><path class="k9" d="M176.4 347.9l1 .3l.3-.6l-.9-.2z"/><path class="k16" d="M69.5 341l1.7 .9l1.6-1.6l-1.7-1z"/><path class="k13" d="M122.7 343.1l2.7 1.2l1.1 .5l-2.7-1.1z"/><path class="k8" d="M173.2 349.6l1.1 .2l.4-.8l-1.1-.2z"/><path class="k22" d="M51.3 334.9l.6 .2l1.6-4.1l-.6-.2z"/><path class="k19" d="M48.7 339l.5 .1l1.6-4.3l-.6-.1z"/><path class="k24" d="M55.5 332.1l.8 .6l1.6-3.3l-.8-.6z"/><path class="k7" d="M171.1 351.4l1.2 .2l.4-1l-1.2-.2z"/><path class="k5" d="M168.8 353.7l1.3 .2l.5-1.3l-1.3-.2z"/><path class="k3" d="M166.2 356.3l1.4 .2l.6-1.5l-1.4-.2z"/><path class="k9" d="M174.7 349l1 .2l.4-.7l-1-.2z"/><path class="k24" d="M56.3 332.7l.8 .7l1.6-3.2l-.8-.8z"/><path class="k22" d="M51.9 335.1l.7 .2l1.5-4l-.6-.3z"/><path class="k9" d="M176.1 348.5l1 .3l.3-.6l-1-.3z"/><path class="k19" d="M49.2 339.1l.6 .1l1.5-4.3l-.5-.1z"/><path class="k23" d="M57.1 333.4l.9 .8l1.6-3.1l-.9-.9z"/><path class="k7" d="M172.7 350.6l1.2 .2l.4-1l-1.1-.2z"/><path class="k1" d="M159.3 356.9l1.8 .8l.7 0l-1.7-.8z"/><path class="k22" d="M58 334.2l1 .9l1.5-3l-.9-1z"/><path class="k0" d="M163.4 358.5l1.5 .6l.7-1.3l-1.5-.2z"/><path class="k6" d="M170.6 352.6l1.2 .2l.5-1.2l-1.2-.2z"/><path class="k15" d="M116.1 340.4l2.7 .9l1.2 .8l-2.7-.8z"/><path class="k4" d="M168.2 355l1.3 .2l.6-1.3l-1.3-.2z"/><path class="k21" d="M59 335.1l1 1l1.6-2.9l-1.1-1.1z"/><path class="k8" d="M138 349.6l2.6 1.1l.9-.1l-2.5-1.1z"/><path class="k21" d="M60 336.1l1.1 1.1l1.5-2.7l-1-1.3z"/><path class="k6" d="M144 351.7l2.4 1l.9-.2l-2.4-1z"/><path class="k22" d="M52.6 335.3l.7 .4l1.5-4l-.7-.4z"/><path class="k8" d="M174.3 349.8l1 .3l.4-.9l-1-.2z"/><path class="k3" d="M154.8 355.2l1.9 .9l.8-.1l-2-.8z"/><path class="k15" d="M47.1 343.3l.5 .1l1.6-4.3l-.5-.1z"/><path class="k19" d="M61.1 337.2l1.1 1.3l1.6-2.7l-1.2-1.3z"/><path class="k2" d="M165.6 357.8l1.4 .2l.6-1.5l-1.4-.2z"/><path class="k4" d="M149.6 353.5l2.2 1l.9-.2l-2.2-.9z"/><path class="k19" d="M49.8 339.2l.6 .2l1.5-4.3l-.6-.2z"/><path class="k15" d="M71.2 341.9l1.8 .7l1.6-1.6l-1.8-.7z"/><path class="k18" d="M62.2 338.5l1.3 1.2l1.6-2.5l-1.3-1.4z"/><path class="k19" d="M96.3 336.5l2.6-.5l1.4 .9l-2.5 .3z"/><path class="k10" d="M131.8 347.1l2.6 1.2l1.1 .1l-2.7-1.1z"/><path class="k16" d="M76.6 341.3l2-.1l1.6-1.1l-2.1 0z"/><path class="k9" d="M175.7 349.2l1 .3l.4-.7l-1-.3z"/><path class="k7" d="M172.3 351.6l1.1 .2l.5-1l-1.2-.2z"/><path class="k18" d="M86.1 338.4l2.4-.8l1.5-.1l-2.4 .7z"/><path class="k17" d="M63.5 339.7l1.4 1.2l1.6-2.3l-1.4-1.4z"/><path class="k5" d="M170.1 353.9l1.2 .2l.5-1.3l-1.2-.2z"/><path class="k22" d="M53.3 335.7l.7 .4l1.5-4l-.7-.4z"/><path class="k3" d="M167.6 356.5l1.3 .2l.6-1.5l-1.3-.2z"/><path class="k18" d="M109.5 338.1l2.7 .5l1.3 1.1l-2.7-.6z"/><path class="k15" d="M47.6 343.4l.6 .1l1.6-4.3l-.6-.1z"/><path class="k19" d="M50.4 339.4l.6 .2l1.6-4.3l-.7-.2z"/><path class="k8" d="M173.9 350.8l1 .2l.4-.9l-1-.3z"/><path class="k16" d="M64.9 340.9l1.5 1.2l1.5-2.2l-1.4-1.3z"/><path class="k19" d="M102.9 336.7l2.6 0l1.4 1.1l-2.6-.1z"/><path class="k22" d="M54 336.1l.7 .5l1.6-3.9l-.8-.6z"/><path class="k1" d="M161.1 357.7l1.6 .7l.7 .1l-1.6-.8z"/><path class="k12" d="M125.4 344.3l2.6 1.2l1.1 .4l-2.6-1.1z"/><path class="k6" d="M171.8 352.8l1.1 .2l.5-1.2l-1.1-.2z"/><path class="k8" d="M175.3 350.1l1 .2l.4-.8l-1-.3z"/><path class="k1" d="M164.9 359.1l1.4 .4l.7-1.5l-1.4-.2z"/><path class="k4" d="M169.5 355.2l1.2 .2l.6-1.3l-1.2-.2z"/><path class="k15" d="M48.2 343.5l.6 .2l1.6-4.3l-.6-.2z"/><path class="k19" d="M51 339.6l.7 .3l1.6-4.2l-.7-.4z"/><path class="k21" d="M54.7 336.6l.9 .6l1.5-3.8l-.8-.7z"/><path class="k12" d="M45.5 347.3l.6 .1l1.5-4l-.5-.1z"/><path class="k7" d="M173.4 351.8l1.1 .2l.4-1l-1-.2z"/><path class="k2" d="M156.7 356.1l1.9 .8l.7 0l-1.8-.9z"/><path class="k2" d="M167 358l1.3 .2l.6-1.5l-1.3-.2z"/><path class="k15" d="M66.4 342.1l1.5 1.1l1.6-2.2l-1.6-1.1z"/><path class="k21" d="M55.6 337.2l.8 .7l1.6-3.7l-.9-.8z"/><path class="k5" d="M171.3 354.1l1.1 .2l.5-1.3l-1.1-.2z"/><path class="k8" d="M174.9 351l1 .2l.4-.9l-1-.2z"/><path class="k4" d="M151.8 354.5l2.1 .9l.9-.2l-2.1-.9z"/><path class="k5" d="M146.4 352.7l2.3 1.1l.9-.3l-2.3-1z"/><path class="k19" d="M51.7 339.9l.7 .4l1.6-4.2l-.7-.4z"/><path class="k7" d="M140.6 350.7l2.4 1.2l1-.2l-2.5-1.1z"/><path class="k15" d="M48.8 343.7l.7 .2l1.5-4.3l-.6-.2z"/><path class="k18" d="M82.3 339.7l2.3-.6l1.5-.7l-2.2 .6z"/><path class="k20" d="M56.4 337.9l1 .8l1.6-3.6l-1-.9z"/><path class="k12" d="M46.1 347.4l.5 .1l1.6-4l-.6-.1z"/><path class="k3" d="M168.9 356.7l1.2 .2l.6-1.5l-1.2-.2z"/><path class="k15" d="M73 342.6l2 .3l1.6-1.6l-2-.3z"/><path class="k6" d="M172.9 353l1.1 .2l.5-1.2l-1.1-.2z"/><path class="k15" d="M118.8 341.3l2.7 1.1l1.2 .7l-2.7-1z"/><path class="k1" d="M162.7 358.4l1.5 .6l.7 .1l-1.5-.6z"/><path class="k19" d="M57.4 338.7l1 .9l1.6-3.5l-1-1z"/><path class="k9" d="M134.4 348.3l2.6 1.3l1 0l-2.5-1.2z"/><path class="k18" d="M52.4 340.3l.8 .4l1.5-4.1l-.7-.5z"/><path class="k4" d="M170.7 355.4l1.1 .2l.6-1.3l-1.1-.2z"/><path class="k18" d="M58.4 339.6l1.1 .9l1.6-3.3l-1.1-1.1z"/><path class="k7" d="M174.5 352l.9 .3l.5-1.1l-1-.2z"/><path class="k15" d="M49.5 343.9l.6 .2l1.6-4.2l-.7-.3z"/><path class="k20" d="M92.4 336.8l2.5-.8l1.4 .5l-2.4 .6z"/><path class="k15" d="M67.9 343.2l1.7 .8l1.6-2.1l-1.7-.9z"/><path class="k1" d="M166.3 359.5l1.3 .2l.7-1.5l-1.3-.2z"/><path class="k12" d="M46.6 347.5l.6 .2l1.6-4l-.6-.2z"/><path class="k18" d="M59.5 340.5l1.2 1.1l1.5-3.1l-1.1-1.3z"/><path class="k18" d="M53.2 340.7l.8 .5l1.6-4l-.9-.6z"/><path class="k5" d="M172.4 354.3l1 .2l.6-1.3l-1.1-.2z"/><path class="k2" d="M168.3 358.2l1.2 .2l.6-1.5l-1.2-.2z"/><path class="k2" d="M158.6 356.9l1.7 .8l.8 0l-1.8-.8z"/><path class="k17" d="M60.7 341.6l1.2 1.1l1.6-3l-1.3-1.2z"/><path class="k12" d="M128 345.5l2.7 1.3l1.1 .3l-2.7-1.2z"/><path class="k9" d="M44 350.9l.5 .1l1.6-3.6l-.6-.1z"/><path class="k15" d="M50.1 344.1l.7 .4l1.6-4.2l-.7-.4z"/><path class="k6" d="M174 353.2l.9 .2l.5-1.1l-.9-.3z"/><path class="k3" d="M170.1 356.9l1.1 .2l.6-1.5l-1.1-.2z"/><path class="k12" d="M47.2 347.7l.7 .2l1.6-4l-.7-.2z"/><path class="k17" d="M78.6 341.2l2.2-.3l1.5-1.2l-2.1 .4z"/><path class="k18" d="M54 341.2l.9 .6l1.5-3.9l-.8-.7z"/><path class="k1" d="M164.2 359l1.4 .6l.7-.1l-1.4-.4z"/><path class="k18" d="M112.2 338.6l2.7 .7l1.2 1.1l-2.6-.7z"/><path class="k4" d="M153.9 355.4l2 .9l.8-.2l-1.9-.9z"/><path class="k16" d="M61.9 342.7l1.4 1l1.6-2.8l-1.4-1.2z"/><path class="k4" d="M171.8 355.6l1.1 .3l.5-1.4l-1-.2z"/><path class="k5" d="M148.7 353.8l2.2 1l.9-.3l-2.2-1z"/><path class="k9" d="M44.5 351l.6 .1l1.5-3.6l-.5-.1z"/><path class="k15" d="M50.8 344.5l.8 .3l1.6-4.1l-.8-.4z"/><path class="k17" d="M54.9 341.8l.9 .7l1.6-3.8l-1-.8z"/><path class="k7" d="M143 351.9l2.4 1.1l1-.3l-2.4-1z"/><path class="k5" d="M173.4 354.5l1 .2l.5-1.3l-.9-.2z"/><path class="k12" d="M47.9 347.9l.7 .2l1.5-4l-.6-.2z"/><path class="k21" d="M98.9 336l2.6-.3l1.4 1l-2.6 .2z"/><path class="k1" d="M167.6 359.7l1.2 .2l.7-1.5l-1.2-.2z"/><path class="k15" d="M63.3 343.7l1.5 1.1l1.6-2.7l-1.5-1.2z"/><path class="k15" d="M69.6 344l1.9 .6l1.5-2l-1.8-.7z"/><path class="k17" d="M55.8 342.5l1 .7l1.6-3.6l-1-.9z"/><path class="k2" d="M169.5 358.4l1.1 .2l.6-1.5l-1.1-.2z"/><path class="k20" d="M105.5 336.7l2.7 .2l1.3 1.2l-2.6-.3z"/><path class="k9" d="M137 349.6l2.5 1.2l1.1-.1l-2.6-1.1z"/><path class="k2" d="M160.3 357.7l1.6 .7l.8 0l-1.6-.7z"/><path class="k15" d="M51.6 344.8l.8 .5l1.6-4.1l-.8-.5z"/><path class="k9" d="M45.1 351.1l.6 .2l1.5-3.6l-.6-.2z"/><path class="k3" d="M171.2 357.1l1.1 .2l.6-1.4l-1.1-.3z"/><path class="k15" d="M121.5 342.4l2.7 1.2l1.2 .7l-2.7-1.2z"/><path class="k20" d="M88.5 337.6l2.4-.8l1.5 0l-2.4 .7z"/><path class="k12" d="M48.6 348.1l.7 .3l1.5-3.9l-.7-.4z"/><path class="k16" d="M56.8 343.2l1.1 .9l1.6-3.6l-1.1-.9z"/><path class="k0" d="M165.6 359.6l1.2 .6l.8-.5l-1.3-.2z"/><path class="k4" d="M172.9 355.9l.9 .2l.6-1.4l-1-.2z"/><path class="k16" d="M75 342.9l2 0l1.6-1.7l-2 .1z"/><path class="k15" d="M52.4 345.3l.9 .4l1.6-3.9l-.9-.6z"/><path class="k14" d="M64.8 344.8l1.6 .9l1.5-2.5l-1.5-1.1z"/><path class="k3" d="M155.9 356.3l1.8 .8l.9-.2l-1.9-.8z"/><path class="k9" d="M45.7 351.3l.6 .2l1.6-3.6l-.7-.2z"/><path class="k15" d="M57.9 344.1l1.2 .8l1.6-3.3l-1.2-1.1z"/><path class="k11" d="M130.7 346.8l2.6 1.3l1.1 .2l-2.6-1.2z"/><path class="k12" d="M49.3 348.4l.7 .3l1.6-3.9l-.8-.3z"/><path class="k7" d="M42.4 354.1l.5 .1l1.6-3.2l-.5-.1z"/><path class="k1" d="M168.8 359.9l1.1 .2l.7-1.5l-1.1-.2z"/><path class="k2" d="M170.6 358.6l1 .2l.7-1.5l-1.1-.2z"/><path class="k5" d="M150.9 354.8l2.1 .9l.9-.3l-2.1-.9z"/><path class="k14" d="M53.3 345.7l.9 .6l1.6-3.8l-.9-.7z"/><path class="k3" d="M172.3 357.3l.9 .2l.6-1.4l-.9-.2z"/><path class="k2" d="M161.9 358.4l1.5 .7l.8-.1l-1.5-.6z"/><path class="k15" d="M59.1 344.9l1.3 .9l1.5-3.1l-1.2-1.1z"/><path class="k9" d="M46.3 351.5l.7 .2l1.6-3.6l-.7-.2z"/><path class="k6" d="M145.4 353l2.3 1.1l1-.3l-2.3-1.1z"/><path class="k7" d="M42.9 354.2l.6 .2l1.6-3.3l-.6-.1z"/><path class="k19" d="M84.6 339.1l2.3-.8l1.6-.7l-2.4 .8z"/><path class="k0" d="M166.8 360.2l1.2 .5l.8-.8l-1.2-.2z"/><path class="k12" d="M50 348.7l.9 .4l1.5-3.8l-.8-.5z"/><path class="k14" d="M54.2 346.3l1.1 .6l1.5-3.7l-1-.7z"/><path class="k18" d="M114.9 339.3l2.6 1l1.3 1l-2.7-.9z"/><path class="k14" d="M66.4 345.7l1.7 .7l1.5-2.4l-1.7-.8z"/><path class="k15" d="M71.5 344.6l1.9 .4l1.6-2.1l-2-.3z"/><path class="k8" d="M139.5 350.8l2.5 1.3l1-.2l-2.4-1.2z"/><path class="k14" d="M60.4 345.8l1.3 1l1.6-3.1l-1.4-1z"/><path class="k9" d="M47 351.7l.7 .3l1.6-3.6l-.7-.3z"/><path class="k2" d="M171.6 358.8l1 .2l.6-1.5l-.9-.2z"/><path class="k3" d="M157.7 357.1l1.8 .8l.8-.2l-1.7-.8z"/><path class="k7" d="M43.5 354.4l.6 .2l1.6-3.3l-.6-.2z"/><path class="k1" d="M169.9 360.1l1 .3l.7-1.6l-1-.2z"/><path class="k12" d="M50.9 349.1l.8 .4l1.6-3.8l-.9-.4z"/><path class="k14" d="M124.2 343.6l2.6 1.3l1.2 .6l-2.6-1.2z"/><path class="k13" d="M55.3 346.9l1 .7l1.6-3.5l-1.1-.9z"/><path class="k22" d="M94.9 336l2.5-.5l1.5 .5l-2.6 .5z"/><path class="k1" d="M163.4 359.1l1.4 .6l.8-.1l-1.4-.6z"/><path class="k18" d="M80.8 340.9l2.2-.6l1.6-1.2l-2.3 .6z"/><path class="k0" d="M168 360.7l1.2 .4l.7-1l-1.1-.2z"/><path class="k13" d="M61.7 346.8l1.5 .8l1.6-2.8l-1.5-1.1z"/><path class="k9" d="M47.7 352l.8 .3l1.5-3.6l-.7-.3z"/><path class="k4" d="M153 355.7l2 .9l.9-.3l-2-.9z"/><path class="k11" d="M133.3 348.1l2.5 1.4l1.2 .1l-2.6-1.3z"/><path class="k7" d="M44.1 354.6l.7 .2l1.5-3.3l-.6-.2z"/><path class="k11" d="M51.7 349.5l1 .5l1.5-3.7l-.9-.6z"/><path class="k13" d="M56.3 347.6l1.2 .7l1.6-3.4l-1.2-.8z"/><path class="k20" d="M108.2 336.9l2.6 .5l1.4 1.2l-2.7-.5z"/><path class="k6" d="M147.7 354.1l2.2 1l1-.3l-2.2-1z"/><path class="k1" d="M170.9 360.4l1 .2l.7-1.6l-1-.2z"/><path class="k22" d="M101.5 335.7l2.6-.1l1.4 1.1l-2.6 0z"/><path class="k9" d="M48.5 352.3l.8 .4l1.6-3.6l-.9-.4z"/><path class="k5" d="M40.8 357l.6 .2l1.5-3l-.5-.1z"/><path class="k14" d="M68.1 346.4l1.8 .6l1.6-2.4l-1.9-.6z"/><path class="k7" d="M44.8 354.8l.6 .3l1.6-3.4l-.7-.2z"/><path class="k17" d="M77 342.9l2.2-.3l1.6-1.7l-2.2 .3z"/><path class="k3" d="M159.5 357.9l1.6 .7l.8-.2l-1.6-.7z"/><path class="k1" d="M164.8 359.7l1.3 .5l.7 0l-1.2-.6z"/><path class="k11" d="M52.7 350l1 .5l1.6-3.6l-1.1-.6z"/><path class="k12" d="M57.5 348.3l1.3 .8l1.6-3.3l-1.3-.9z"/><path class="k13" d="M63.2 347.6l1.6 .8l1.6-2.7l-1.6-.9z"/><path class="k0" d="M169.2 361.1l1 .4l.7-1.1l-1-.3z"/><path class="k8" d="M142 352.1l2.4 1.2l1-.3l-2.4-1.1z"/><path class="k5" d="M41.4 357.2l.5 .2l1.6-3l-.6-.2z"/><path class="k7" d="M45.4 355.1l.8 .3l1.5-3.4l-.7-.3z"/><path class="k9" d="M49.3 352.7l.9 .4l1.5-3.6l-.8-.4z"/><path class="k17" d="M117.5 340.3l2.7 1.1l1.3 1l-2.7-1.1z"/><path class="k14" d="M126.8 344.9l2.7 1.5l1.2 .4l-2.7-1.3z"/><path class="k4" d="M155 356.6l1.8 .8l.9-.3l-1.8-.8z"/><path class="k11" d="M53.7 350.5l1.1 .6l1.5-3.5l-1-.7z"/><path class="k15" d="M73.4 345l2.1 0l1.5-2.1l-2 0z"/><path class="k22" d="M90.9 336.8l2.5-.8l1.5 0l-2.5 .8z"/><path class="k12" d="M58.8 349.1l1.3 .8l1.6-3.1l-1.3-1z"/><path class="k1" d="M166.1 360.2l1.2 .5l.7 0l-1.2-.5z"/><path class="k5" d="M41.9 357.4l.7 .2l1.5-3l-.6-.2z"/><path class="k10" d="M135.8 349.5l2.6 1.4l1.1-.1l-2.5-1.2z"/><path class="k0" d="M170.2 361.5l1 .4l.7-1.3l-1-.2z"/><path class="k2" d="M161.1 358.6l1.5 .7l.8-.2l-1.5-.7z"/><path class="k7" d="M46.2 355.4l.7 .3l1.6-3.4l-.8-.3z"/><path class="k9" d="M50.2 353.1l.9 .4l1.6-3.5l-1-.5z"/><path class="k5" d="M149.9 355.1l2.1 1l1-.4l-2.1-.9z"/><path class="k12" d="M64.8 348.4l1.7 .7l1.6-2.7l-1.7-.7z"/><path class="k10" d="M54.8 351.1l1.1 .6l1.6-3.4l-1.2-.7z"/><path class="k5" d="M42.6 357.6l.6 .3l1.6-3.1l-.7-.2z"/><path class="k11" d="M60.1 349.9l1.5 .7l1.6-3l-1.5-.8z"/><path class="k7" d="M46.9 355.7l.8 .4l1.6-3.4l-.8-.4z"/><path class="k14" d="M69.9 347l1.9 .3l1.6-2.3l-1.9-.4z"/><path class="k1" d="M167.3 360.7l1.1 .5l.8-.1l-1.2-.4z"/><path class="k7" d="M144.4 353.3l2.3 1.1l1-.3l-2.3-1.1z"/><path class="k9" d="M51.1 353.5l1 .5l1.6-3.5l-1-.5z"/><path class="k21" d="M86.9 338.3l2.5-.8l1.5-.7l-2.4 .8z"/><path class="k4" d="M156.8 357.4l1.8 .8l.9-.3l-1.8-.8z"/><path class="k5" d="M43.2 357.9l.7 .3l1.5-3.1l-.6-.3z"/><path class="k20" d="M110.8 337.4l2.7 .8l1.4 1.1l-2.7-.7z"/><path class="k2" d="M162.6 359.3l1.4 .6l.8-.2l-1.4-.6z"/><path class="k10" d="M55.9 351.7l1.3 .7l1.6-3.3l-1.3-.8z"/><path class="k3" d="M39.3 359.7l.5 .2l1.6-2.7l-.6-.2z"/><path class="k13" d="M129.5 346.4l2.6 1.4l1.2 .3l-2.6-1.3z"/><path class="k7" d="M47.7 356.1l.9 .4l1.6-3.4l-.9-.4z"/><path class="k17" d="M120.2 341.4l2.7 1.4l1.3 .8l-2.7-1.2z"/><path class="k23" d="M97.4 335.5l2.6-.4l1.5 .6l-2.6 .3z"/><path class="k5" d="M43.9 358.2l.7 .3l1.6-3.1l-.8-.3z"/><path class="k8" d="M52.1 354l1.1 .5l1.6-3.4l-1.1-.6z"/><path class="k1" d="M168.4 361.2l1 .4l.8-.1l-1-.4z"/><path class="k9" d="M138.4 350.9l2.4 1.3l1.2-.1l-2.5-1.3z"/><path class="k20" d="M83 340.3l2.4-.7l1.5-1.3l-2.3 .8z"/><path class="k5" d="M152 356.1l2 .9l1-.4l-2-.9z"/><path class="k11" d="M61.6 350.6l1.6 .7l1.6-2.9l-1.6-.8z"/><path class="k3" d="M39.8 359.9l.6 .3l1.5-2.8l-.5-.2z"/><path class="k12" d="M66.5 349.1l1.8 .5l1.6-2.6l-1.8-.6z"/><path class="k22" d="M104.1 335.6l2.7 .2l1.4 1.1l-2.7-.2z"/><path class="k10" d="M57.2 352.4l1.4 .6l1.5-3.1l-1.3-.8z"/><path class="k6" d="M48.6 356.5l.9 .4l1.6-3.4l-.9-.4z"/><path class="k18" d="M79.2 342.6l2.3-.5l1.5-1.8l-2.2 .6z"/><path class="k2" d="M164 359.9l1.3 .5l.8-.2l-1.3-.5z"/><path class="k5" d="M44.6 358.5l.8 .4l1.5-3.2l-.7-.3z"/><path class="k3" d="M158.6 358.2l1.6 .7l.9-.3l-1.6-.7z"/><path class="k3" d="M40.4 360.2l.6 .2l1.6-2.8l-.7-.2z"/><path class="k7" d="M146.7 354.4l2.2 1.1l1-.4l-2.2-1z"/><path class="k8" d="M53.2 354.5l1.2 .6l1.5-3.4l-1.1-.6z"/><path class="k1" d="M169.4 361.6l1 .3l.8 0l-1-.4z"/><path class="k16" d="M75.5 345l2.1-.2l1.6-2.2l-2.2 .3z"/><path class="k4" d="M45.4 358.9l.8 .4l1.5-3.2l-.8-.4z"/><path class="k6" d="M49.5 356.9l1.1 .5l1.5-3.4l-1-.5z"/><path class="k3" d="M41 360.4l.7 .3l1.5-2.8l-.6-.3z"/><path class="k12" d="M132.1 347.8l2.6 1.6l1.1 .1l-2.5-1.4z"/><path class="k14" d="M71.8 347.3l2.1 .1l1.6-2.4l-2.1 0z"/><path class="k2" d="M165.3 360.4l1.2 .5l.8-.2l-1.2-.5z"/><path class="k9" d="M58.6 353l1.4 .7l1.6-3.1l-1.5-.7z"/><path class="k11" d="M63.2 351.3l1.7 .6l1.6-2.8l-1.7-.7z"/><path class="k5" d="M154 357l1.9 .9l.9-.5l-1.8-.8z"/><path class="k9" d="M140.8 352.2l2.4 1.3l1.2-.2l-2.4-1.2z"/><path class="k8" d="M54.4 355.1l1.2 .6l1.6-3.3l-1.3-.7z"/><path class="k16" d="M122.9 342.8l2.7 1.4l1.2 .7l-2.6-1.3z"/><path class="k3" d="M41.7 360.7l.6 .4l1.6-2.9l-.7-.3z"/><path class="k3" d="M160.2 358.9l1.5 .7l.9-.3l-1.5-.7z"/><path class="k4" d="M46.2 359.3l.9 .5l1.5-3.3l-.9-.4z"/><path class="k20" d="M113.5 338.2l2.7 1l1.3 1.1l-2.6-1z"/><path class="k6" d="M50.6 357.4l1 .6l1.6-3.5l-1.1-.5z"/><path class="k23" d="M93.4 336l2.5-.6l1.5 .1l-2.5 .5z"/><path class="k12" d="M68.3 349.6l1.9 .3l1.6-2.6l-1.9-.3z"/><path class="k3" d="M42.3 361.1l.8 .4l1.5-3l-.7-.3z"/><path class="k6" d="M148.9 355.5l2.1 1l1-.4l-2.1-1z"/><path class="k2" d="M166.5 360.9l1.1 .5l.8-.2l-1.1-.5z"/><path class="k2" d="M37.8 362.2l.5 .2l1.5-2.5l-.5-.2z"/><path class="k4" d="M47.1 359.8l.9 .5l1.5-3.4l-.9-.4z"/><path class="k8" d="M55.6 355.7l1.4 .6l1.6-3.3l-1.4-.6z"/><path class="k9" d="M60 353.7l1.6 .5l1.6-2.9l-1.6-.7z"/><path class="k6" d="M51.6 358l1.2 .5l1.6-3.4l-1.2-.6z"/><path class="k3" d="M43.1 361.5l.7 .4l1.6-3l-.8-.4z"/><path class="k4" d="M155.9 357.9l1.7 .7l1-.4l-1.8-.8z"/><path class="k3" d="M161.7 359.6l1.4 .6l.9-.3l-1.4-.6z"/><path class="k2" d="M38.3 362.4l.6 .3l1.5-2.5l-.6-.3z"/><path class="k11" d="M134.7 349.4l2.5 1.5l1.2 0l-2.6-1.4z"/><path class="k11" d="M64.9 351.9l1.8 .4l1.6-2.7l-1.8-.5z"/><path class="k4" d="M48 360.3l1 .5l1.6-3.4l-1.1-.5z"/><path class="k2" d="M167.6 361.4l1 .4l.8-.2l-1-.4z"/><path class="k8" d="M143.2 353.5l2.4 1.2l1.1-.3l-2.3-1.1z"/><path class="k23" d="M106.8 335.8l2.6 .5l1.4 1.1l-2.6-.5z"/><path class="k23" d="M89.4 337.5l2.5-.8l1.5-.7l-2.5 .8z"/><path class="k1" d="M38.9 362.7l.6 .3l1.5-2.6l-.6-.2z"/><path class="k2" d="M43.8 361.9l.8 .5l1.6-3.1l-.8-.4z"/><path class="k24" d="M100 335.1l2.7-.2l1.4 .7l-2.6 .1z"/><path class="k16" d="M125.6 344.2l2.6 1.6l1.3 .6l-2.7-1.5z"/><path class="k5" d="M52.8 358.5l1.3 .6l1.5-3.4l-1.2-.6z"/><path class="k6" d="M151 356.5l2 1l1-.5l-2-.9z"/><path class="k1" d="M39.5 363l.6 .4l1.6-2.7l-.7-.3z"/><path class="k7" d="M57 356.3l1.5 .6l1.5-3.2l-1.4-.7z"/><path class="k3" d="M163.1 360.2l1.3 .5l.9-.3l-1.3-.5z"/><path class="k3" d="M49 360.8l1.1 .7l1.5-3.5l-1-.6z"/><path class="k22" d="M85.4 339.6l2.4-.8l1.6-1.3l-2.5 .8z"/><path class="k2" d="M44.6 362.4l.9 .6l1.6-3.2l-.9-.5z"/><path class="k20" d="M116.2 339.2l2.7 1.2l1.3 1l-2.7-1.1z"/><path class="k1" d="M168.6 361.8l1 .4l.8-.3l-1-.3z"/><path class="k4" d="M157.6 358.6l1.6 .8l1-.5l-1.6-.7z"/><path class="k17" d="M77.6 344.8l2.3-.4l1.6-2.3l-2.3 .5z"/><path class="k20" d="M81.5 342.1l2.3-.6l1.6-1.9l-2.4 .7z"/><path class="k15" d="M73.9 347.4l2.2-.1l1.5-2.5l-2.1 .2z"/><path class="k9" d="M61.6 354.2l1.7 .6l1.6-2.9l-1.7-.6z"/><path class="k1" d="M40.1 363.4l.7 .4l1.5-2.7l-.6-.4z"/><path class="k13" d="M70.2 349.9l2.1 .2l1.6-2.7l-2.1-.1z"/><path class="k2" d="M45.5 363l1 .6l1.5-3.3l-.9-.5z"/><path class="k10" d="M137.2 350.9l2.5 1.4l1.1-.1l-2.4-1.3z"/><path class="k3" d="M50.1 361.5l1.2 .6l1.5-3.6l-1.2-.5z"/><path class="k1" d="M40.8 363.8l.7 .4l1.6-2.7l-.8-.4z"/><path class="k5" d="M54.1 359.1l1.3 .6l1.6-3.4l-1.4-.6z"/><path class="k7" d="M145.6 354.7l2.2 1.2l1.1-.4l-2.2-1.1z"/><path class="k3" d="M164.4 360.7l1.2 .5l.9-.3l-1.2-.5z"/><path class="k15" d="M128.2 345.8l2.6 1.7l1.3 .3l-2.6-1.4z"/><path class="k11" d="M66.7 352.3l2 .4l1.5-2.8l-1.9-.3z"/><path class="k1" d="M46.5 363.6l1 .6l1.5-3.4l-1-.5z"/><path class="k7" d="M58.5 356.9l1.5 .5l1.6-3.2l-1.6-.5z"/><path class="k5" d="M153 357.5l1.8 .9l1.1-.5l-1.9-.9z"/><path class="k4" d="M159.2 359.4l1.5 .6l1-.4l-1.5-.7z"/><path class="k1" d="M41.5 364.2l.8 0l1.5-2.3l-.7-.4z"/><path class="k1" d="M36.2 364.3l.6 .1l1.5-2l-.5-.2z"/><path class="k3" d="M51.3 362.1l1.2 .7l1.6-3.7l-1.3-.6z"/><path class="k2" d="M165.6 361.2l1.1 .5l.9-.3l-1.1-.5z"/><path class="k25" d="M95.9 335.4l2.6-.4l1.5 .1l-2.6 .4z"/><path class="k9" d="M63.3 354.8l1.8 .4l1.6-2.9l-1.8-.4z"/><path class="k1" d="M36.8 364.4l.6 0l1.5-1.7l-.6-.3z"/><path class="k23" d="M109.4 336.3l2.7 .8l1.4 1.1l-2.7-.8z"/><path class="k5" d="M55.4 359.7l1.5 .6l1.6-3.4l-1.5-.6z"/><path class="k19" d="M118.9 340.4l2.7 1.5l1.3 .9l-2.7-1.4z"/><path class="k1" d="M47.5 364.2l1.1 .1l1.5-2.8l-1.1-.7z"/><path class="k10" d="M139.7 352.3l2.4 1.4l1.1-.2l-2.4-1.3z"/><path class="k1" d="M42.3 364.2l.8-.1l1.5-1.7l-.8-.5z"/><path class="k7" d="M147.8 355.9l2.1 1.1l1.1-.5l-2.1-1z"/><path class="k4" d="M160.7 360l1.4 .7l1-.5l-1.4-.6z"/><path class="k5" d="M154.8 358.4l1.8 .8l1-.6l-1.7-.7z"/><path class="k1" d="M37.4 364.4l.6 .1l1.5-1.5l-.6-.3z"/><path class="k2" d="M166.7 361.7l1 .4l.9-.3l-1-.4z"/><path class="k3" d="M52.5 362.8l1.4 .6l1.5-3.7l-1.3-.6z"/><path class="k14" d="M130.8 347.5l2.6 1.6l1.3 .3l-2.6-1.6z"/><path class="k25" d="M102.7 334.9l2.6 .2l1.5 .7l-2.7-.2z"/><path class="k7" d="M60 357.4l1.7 .5l1.6-3.1l-1.7-.6z"/><path class="k1" d="M43.1 364.1l.9-.1l1.5-1l-.9-.6z"/><path class="k1" d="M48.6 364.3l1.1 0l1.6-2.2l-1.2-.6z"/><path class="k1" d="M38 364.5l.6 0l1.5-1.1l-.6-.4z"/><path class="k14" d="M72.3 350.1l2.2 0l1.6-2.8l-2.2 .1z"/><path class="k16" d="M76.1 347.3l2.2-.2l1.6-2.7l-2.3 .4z"/><path class="k25" d="M91.9 336.7l2.5-.7l1.5-.6l-2.5 .6z"/><path class="k5" d="M56.9 360.3l1.6 .5l1.5-3.4l-1.5-.5z"/><path class="k3" d="M162.1 360.7l1.3 .5l1-.5l-1.3-.5z"/><path class="k11" d="M68.7 352.7l2 .2l1.6-2.8l-2.1-.2z"/><path class="k2" d="M167.7 362.1l1 .4l.9-.3l-1-.4z"/><path class="k19" d="M79.9 344.4l2.4-.5l1.5-2.4l-2.3 .6z"/><path class="k9" d="M142.1 353.7l2.3 1.4l1.2-.4l-2.4-1.2z"/><path class="k19" d="M121.6 341.9l2.7 1.6l1.3 .7l-2.7-1.4z"/><path class="k6" d="M149.9 357l2 1l1.1-.5l-2-1z"/><path class="k5" d="M156.6 359.2l1.6 .7l1-.5l-1.6-.8z"/><path class="k2" d="M53.9 363.4l1.5 .6l1.5-3.7l-1.5-.6z"/><path class="k1" d="M38.6 364.5l.7-.1l1.5-.6l-.7-.4z"/><path class="k9" d="M65.1 355.2l2 .4l1.6-2.9l-2-.4z"/><path class="k23" d="M87.8 338.8l2.5-.8l1.6-1.3l-2.5 .8z"/><path class="k21" d="M83.8 341.5l2.5-.7l1.5-2l-2.4 .8z"/><path class="k1" d="M44 364l.9-.1l1.6-.3l-1-.6z"/><path class="k13" d="M133.4 349.1l2.5 1.7l1.3 .1l-2.5-1.5z"/><path class="k1" d="M49.7 364.3l1.3 0l1.5-1.5l-1.2-.7z"/><path class="k23" d="M112.1 337.1l2.7 1.1l1.4 1l-2.7-1z"/><path class="k3" d="M163.4 361.2l1.2 .5l1-.5l-1.2-.5z"/><path class="k7" d="M61.7 357.9l1.9 .4l1.5-3.1l-1.8-.4z"/><path class="k1" d="M39.3 364.4l.7 0l1.5-.2l-.7-.4z"/><path class="k5" d="M58.5 360.8l1.7 .5l1.5-3.4l-1.7-.5z"/><path class="k4" d="M158.2 359.9l1.5 .7l1-.6l-1.5-.6z"/><path class="k1" d="M44.9 363.9l1-.1l1.6 .4l-1-.6z"/><path class="k6" d="M151.9 358l1.8 .9l1.1-.5l-1.8-.9z"/><path class="k8" d="M144.4 355.1l2.2 1.2l1.2-.4l-2.2-1.2z"/><path class="k2" d="M55.4 364l1.5 .6l1.6-3.8l-1.6-.5z"/><path class="k3" d="M164.6 361.7l1.1 .5l1-.5l-1.1-.5z"/><path class="k1" d="M34.7 364.9l.6 .1l1.5-.6l-.6-.1z"/><path class="k18" d="M124.3 343.5l2.6 1.7l1.3 .6l-2.6-1.6z"/><path class="k26" d="M98.5 335l2.7-.2l1.5 .1l-2.7 .2z"/><path class="k1" d="M40 364.4l.7-.1l1.6-.1l-.8 0z"/><path class="k12" d="M135.9 350.8l2.5 1.6l1.3-.1l-2.5-1.4z"/><path class="k1" d="M51 364.3l1.3 .1l1.6-1l-1.4-.6z"/><path class="k26" d="M105.3 335.1l2.7 .5l1.4 .7l-2.6-.5z"/><path class="k1" d="M35.3 365l.5 0l1.6-.6l-.6 0z"/><path class="k4" d="M159.7 360.6l1.4 .6l1-.5l-1.4-.7z"/><path class="k12" d="M70.7 352.9l2.2 .1l1.6-2.9l-2.2 0z"/><path class="k3" d="M165.7 362.2l1.1 .4l.9-.5l-1-.4z"/><path class="k10" d="M67.1 355.6l2 .2l1.6-2.9l-2-.2z"/><path class="k1" d="M45.9 363.8l1-.1l1.7 .6l-1.1-.1z"/><path class="k15" d="M74.5 350.1l2.2-.1l1.6-2.9l-2.2 .2z"/><path class="k6" d="M153.7 358.9l1.8 .9l1.1-.6l-1.8-.8z"/><path class="k23" d="M114.8 338.2l2.7 1.3l1.4 .9l-2.7-1.2z"/><path class="k7" d="M63.6 358.3l1.9 .3l1.6-3l-2-.4z"/><path class="k1" d="M40.7 364.3l.8-.1l1.6-.1l-.8 .1z"/><path class="k8" d="M146.6 356.3l2.1 1.2l1.2-.5l-2.1-1.1z"/><path class="k1" d="M35.8 365l.6 .1l1.6-.6l-.6-.1z"/><path class="k17" d="M78.3 347.1l2.4-.4l1.6-2.8l-2.4 .5z"/><path class="k5" d="M60.2 361.3l1.8 .4l1.6-3.4l-1.9-.4z"/><path class="k2" d="M56.9 364.6l1.7 .4l1.6-3.7l-1.7-.5z"/><path class="k17" d="M126.9 345.2l2.6 1.8l1.3 .5l-2.6-1.7z"/><path class="k3" d="M166.8 362.6l.9 .4l1-.5l-1-.4z"/><path class="k11" d="M138.4 352.4l2.4 1.5l1.3-.2l-2.4-1.4z"/><path class="k1" d="M52.3 364.4l1.5 .2l1.6-.6l-1.5-.6z"/><path class="k4" d="M161.1 361.2l1.3 .6l1-.6l-1.3-.5z"/><path class="k26" d="M94.4 336l2.6-.4l1.5-.6l-2.6 .4z"/><path class="k20" d="M82.3 343.9l2.4-.6l1.6-2.5l-2.5 .7z"/><path class="k1" d="M36.4 365.1l.7 0l1.5-.6l-.6 0z"/><path class="k5" d="M155.5 359.8l1.6 .8l1.1-.7l-1.6-.7z"/><path class="k2" d="M46.9 363.7l1.2-.1l1.6 .7l-1.1 0z"/><path class="k2" d="M41.5 364.2l.9-.1l1.6-.1l-.9 .1z"/><path class="k23" d="M86.3 340.8l2.5-.7l1.5-2.1l-2.5 .8z"/><path class="k7" d="M148.7 357.5l2 1.1l1.2-.6l-2-1z"/><path class="k25" d="M90.3 338l2.6-.6l1.5-1.4l-2.5 .7z"/><path class="k4" d="M162.4 361.8l1.2 .5l1-.6l-1.2-.5z"/><path class="k16" d="M129.5 347l2.6 1.9l1.3 .2l-2.6-1.6z"/><path class="k22" d="M117.5 339.5l2.7 1.6l1.4 .8l-2.7-1.5z"/><path class="k10" d="M140.8 353.9l2.3 1.5l1.3-.3l-2.3-1.4z"/><path class="k1" d="M37.1 365.1l.7-.1l1.5-.6l-.7 .1z"/><path class="k26" d="M108 335.6l2.7 .7l1.4 .8l-2.7-.8z"/><path class="k1" d="M53.8 364.6l1.5 .4l1.6-.4l-1.5-.6z"/><path class="k3" d="M58.6 365l1.9 .5l1.5-3.8l-1.8-.4z"/><path class="k10" d="M69.1 355.8l2.2 .2l1.6-3l-2.2-.1z"/><path class="k8" d="M65.5 358.6l2.1 .4l1.5-3.2l-2-.2z"/><path class="k5" d="M62 361.7l1.9 .4l1.6-3.5l-1.9-.3z"/><path class="k27" d="M101.2 334.8l2.7 .1l1.4 .2l-2.6-.2z"/><path class="k5" d="M157.1 360.6l1.5 .7l1.1-.7l-1.5-.7z"/><path class="k13" d="M72.9 353l2.3 0l1.5-3l-2.2 .1z"/><path class="k4" d="M163.6 362.3l1.1 .5l1-.6l-1.1-.5z"/><path class="k2" d="M42.4 364.1l.9-.2l1.6 0l-.9 .1z"/><path class="k7" d="M150.7 358.6l1.9 1l1.1-.7l-1.8-.9z"/><path class="k2" d="M37.8 365l.7 0l1.5-.6l-.7 0z"/><path class="k2" d="M48.1 363.6l1.2-.1l1.7 .8l-1.3 0z"/><path class="k16" d="M76.7 350l2.4-.2l1.6-3.1l-2.4 .4z"/><path class="k14" d="M132.1 348.9l2.6 1.8l1.2 .1l-2.5-1.7z"/><path class="k1" d="M33.3 365.8l.5 .1l1.5-.9l-.6-.1z"/><path class="k9" d="M143.1 355.4l2.3 1.4l1.2-.5l-2.2-1.2z"/><path class="k3" d="M164.7 362.8l1 .5l1.1-.7l-1.1-.4z"/><path class="k5" d="M158.6 361.3l1.4 .6l1.1-.7l-1.4-.6z"/><path class="k21" d="M120.2 341.1l2.7 1.7l1.4 .7l-2.7-1.6z"/><path class="k2" d="M55.3 365l1.8 .6l1.5-.6l-1.7-.4z"/><path class="k19" d="M80.7 346.7l2.4-.4l1.6-3l-2.4 .6z"/><path class="k1" d="M33.8 365.9l.6 0l1.4-.9l-.5 0z"/><path class="k2" d="M38.5 365l.7-.1l1.5-.6l-.7 .1z"/><path class="k6" d="M152.6 359.6l1.7 .9l1.2-.7l-1.8-.9z"/><path class="k3" d="M43.3 363.9l1-.2l1.6 .1l-1 .1z"/><path class="k3" d="M165.7 363.3l1 .4l1-.7l-.9-.4z"/><path class="k3" d="M60.5 365.5l1.9 .4l1.5-3.8l-1.9-.4z"/><path class="k13" d="M134.7 350.7l2.4 1.8l1.3-.1l-2.5-1.6z"/><path class="k26" d="M110.7 336.3l2.7 1.2l1.4 .7l-2.7-1.1z"/><path class="k27" d="M97 335.6l2.7-.2l1.5-.6l-2.7 .2z"/><path class="k4" d="M160 361.9l1.3 .6l1.1-.7l-1.3-.6z"/><path class="k6" d="M63.9 362.1l2.1 .3l1.6-3.4l-2.1-.4z"/><path class="k1" d="M34.4 365.9l.6 .1l1.4-.9l-.6-.1z"/><path class="k9" d="M145.4 356.8l2.1 1.2l1.2-.5l-2.1-1.2z"/><path class="k3" d="M49.3 363.5l1.4 0l1.6 .9l-1.3-.1z"/><path class="k22" d="M84.7 343.3l2.5-.5l1.6-2.7l-2.5 .7z"/><path class="k8" d="M67.6 359l2.1 .3l1.6-3.3l-2.2-.2z"/><path class="k20" d="M122.9 342.8l2.6 1.9l1.4 .5l-2.6-1.7z"/><path class="k11" d="M71.3 356l2.3 .2l1.6-3.2l-2.3 0z"/><path class="k2" d="M39.2 364.9l.8-.2l1.5-.5l-.8 .1z"/><path class="k6" d="M154.3 360.5l1.6 .8l1.2-.7l-1.6-.8z"/><path class="k4" d="M161.3 362.5l1.2 .6l1.1-.8l-1.2-.5z"/><path class="k28" d="M103.9 334.9l2.6 .5l1.5 .2l-2.7-.5z"/><path class="k26" d="M92.9 337.4l2.6-.4l1.5-1.4l-2.6 .4z"/><path class="k2" d="M35 366l.6 0l1.5-.9l-.7 0z"/><path class="k25" d="M88.8 340.1l2.5-.5l1.6-2.2l-2.6 .6z"/><path class="k2" d="M57.1 365.6l1.8 .7l1.6-.8l-1.9-.5z"/><path class="k12" d="M137.1 352.5l2.4 1.7l1.3-.3l-2.4-1.5z"/><path class="k14" d="M75.2 353l2.3 0l1.6-3.2l-2.4 .2z"/><path class="k3" d="M44.3 363.7l1.1-.2l1.5 .2l-1 .1z"/><path class="k8" d="M147.5 358l2 1.2l1.2-.6l-2-1.1z"/><path class="k19" d="M125.5 344.7l2.7 2l1.3 .3l-2.6-1.8z"/><path class="k4" d="M162.5 363.1l1.1 .5l1.1-.8l-1.1-.5z"/><path class="k2" d="M35.6 366l.7 0l1.5-1l-.7 .1z"/><path class="k3" d="M62.4 365.9l2.1 .4l1.5-3.9l-2.1-.3z"/><path class="k5" d="M155.9 361.3l1.5 .7l1.2-.7l-1.5-.7z"/><path class="k3" d="M50.7 363.5l1.5 .1l1.6 1l-1.5-.2z"/><path class="k3" d="M40 364.7l.9-.1l1.5-.5l-.9 .1z"/><path class="k25" d="M113.4 337.5l2.7 1.4l1.4 .6l-2.7-1.3z"/><path class="k17" d="M79.1 349.8l2.5-.2l1.5-3.3l-2.4 .4z"/><path class="k11" d="M139.5 354.2l2.4 1.6l1.2-.4l-2.3-1.5z"/><path class="k6" d="M66 362.4l2.2 .4l1.5-3.5l-2.1-.3z"/><path class="k1" d="M31.9 366.9l.5 .1l1.4-1.1l-.5-.1z"/><path class="k4" d="M163.6 363.6l1 .4l1.1-.7l-1-.5z"/><path class="k7" d="M149.5 359.2l1.8 1l1.3-.6l-1.9-1z"/><path class="k2" d="M58.9 366.3l1.9 .8l1.6-1.2l-1.9-.4z"/><path class="k2" d="M36.3 366l.7-.1l1.5-.9l-.7 0z"/><path class="k4" d="M45.4 363.5l1.1-.2l1.6 .3l-1.2 .1z"/><path class="k5" d="M157.4 362l1.4 .7l1.2-.8l-1.4-.6z"/><path class="k17" d="M128.2 346.7l2.6 2l1.3 .2l-2.6-1.9z"/><path class="k9" d="M69.7 359.3l2.3 .2l1.6-3.3l-2.3-.2z"/><path class="k20" d="M83.1 346.3l2.5-.3l1.6-3.2l-2.5 .5z"/><path class="k1" d="M32.4 367l.6 .1l1.4-1.2l-.6 0z"/><path class="k3" d="M40.9 364.6l.9-.2l1.5-.5l-.9 .2z"/><path class="k28" d="M99.7 335.4l2.6 .1l1.6-.6l-2.7-.1z"/><path class="k4" d="M164.6 364l1 .4l1.1-.7l-1-.4z"/><path class="k12" d="M73.6 356.2l2.4 .1l1.5-3.3l-2.3 0z"/><path class="k10" d="M141.9 355.8l2.2 1.4l1.3-.4l-2.3-1.4z"/><path class="k3" d="M52.2 363.6l1.5 .3l1.6 1.1l-1.5-.4z"/><path class="k28" d="M106.5 335.4l2.7 .8l1.5 .1l-2.7-.7z"/><path class="k24" d="M116.1 338.9l2.7 1.6l1.4 .6l-2.7-1.6z"/><path class="k2" d="M37 365.9l.8 0l1.4-1l-.7 .1z"/><path class="k7" d="M151.3 360.2l1.8 1l1.2-.7l-1.7-.9z"/><path class="k5" d="M158.8 362.7l1.3 .6l1.2-.8l-1.3-.6z"/><path class="k2" d="M33 367.1l.6 .1l1.4-1.2l-.6-.1z"/><path class="k16" d="M130.8 348.7l2.5 2l1.4 0l-2.6-1.8z"/><path class="k23" d="M87.2 342.8l2.6-.4l1.5-2.8l-2.5 .5z"/><path class="k3" d="M64.5 366.3l2.2 .4l1.5-3.9l-2.2-.4z"/><path class="k15" d="M77.5 353l2.5-.1l1.6-3.3l-2.5 .2z"/><path class="k4" d="M46.5 363.3l1.3-.1l1.5 .3l-1.2 .1z"/><path class="k28" d="M95.5 337l2.6-.2l1.6-1.4l-2.7 .2z"/><path class="k2" d="M60.8 367.1l2.1 .9l1.6-1.7l-2.1-.4z"/><path class="k2" d="M33.6 367.2l.7 0l1.3-1.2l-.6 0z"/><path class="k26" d="M91.3 339.6l2.6-.4l1.6-2.2l-2.6 .4z"/><path class="k4" d="M41.8 364.4l1-.2l1.5-.5l-1 .2z"/><path class="k9" d="M144.1 357.2l2.1 1.4l1.3-.6l-2.1-1.2z"/><path class="k5" d="M160.1 363.3l1.2 .6l1.2-.8l-1.2-.6z"/><path class="k6" d="M153.1 361.2l1.6 .9l1.2-.8l-1.6-.8z"/><path class="k3" d="M37.8 365.9l.8-.1l1.4-1.1l-.8 .2z"/><path class="k6" d="M68.2 362.8l2.3 .3l1.5-3.6l-2.3-.2z"/><path class="k23" d="M118.8 340.5l2.7 1.9l1.4 .4l-2.7-1.7z"/><path class="k15" d="M133.3 350.7l2.5 1.9l1.3-.1l-2.4-1.8z"/><path class="k3" d="M53.7 363.9l1.8 .6l1.6 1.1l-1.8-.6z"/><path class="k18" d="M81.6 349.6l2.5-.2l1.5-3.4l-2.5 .3z"/><path class="k2" d="M34.3 367.2l.6 0l1.4-1.2l-.7 0z"/><path class="k4" d="M161.3 363.9l1.1 .5l1.2-.8l-1.1-.5z"/><path class="k9" d="M72 359.5l2.4 .3l1.6-3.5l-2.4-.1z"/><path class="k28" d="M109.2 336.2l2.7 1.1l1.5 .2l-2.7-1.2z"/><path class="k9" d="M146.2 358.6l2 1.2l1.3-.6l-2-1.2z"/><path class="k1" d="M30.6 368.2l.5 .1l1.3-1.3l-.5-.1z"/><path class="k6" d="M154.7 362.1l1.5 .7l1.2-.8l-1.5-.7z"/><path class="k3" d="M38.6 365.8l.8-.2l1.5-1l-.9 .1z"/><path class="k13" d="M135.8 352.6l2.4 1.9l1.3-.3l-2.4-1.7z"/><path class="k5" d="M42.8 364.2l1.1-.2l1.5-.5l-1.1 .2z"/><path class="k5" d="M47.8 363.2l1.3-.1l1.6 .4l-1.4 0z"/><path class="k29" d="M102.3 335.5l2.7 .4l1.5-.5l-2.6-.5z"/><path class="k22" d="M121.5 342.4l2.6 2.1l1.4 .2l-2.6-1.9z"/><path class="k4" d="M162.4 364.4l1.1 .5l1.1-.9l-1-.4z"/><path class="k2" d="M34.9 367.2l.7 0l1.4-1.3l-.7 .1z"/><path class="k12" d="M76 356.3l2.4 .1l1.6-3.5l-2.5 .1z"/><path class="k1" d="M31.1 368.3l.6 .1l1.3-1.3l-.6-.1z"/><path class="k4" d="M66.7 366.7l2.2 .4l1.6-4l-2.3-.3z"/><path class="k21" d="M85.6 346l2.6-.3l1.6-3.3l-2.6 .4z"/><path class="k2" d="M62.9 368l2.2 .9l1.6-2.2l-2.2-.4z"/><path class="k3" d="M55.5 364.5l1.8 .7l1.6 1.1l-1.8-.7z"/><path class="k6" d="M156.2 362.8l1.4 .8l1.2-.9l-1.4-.7z"/><path class="k8" d="M148.2 359.8l1.8 1.2l1.3-.8l-1.8-1z"/><path class="k4" d="M163.5 364.9l1 .4l1.1-.9l-1-.4z"/><path class="k1" d="M31.7 368.4l.6 .1l1.3-1.3l-.6-.1z"/><path class="k12" d="M138.2 354.5l2.3 1.7l1.4-.4l-2.4-1.6z"/><path class="k3" d="M35.6 367.2l.8 0l1.4-1.3l-.8 0z"/><path class="k20" d="M124.1 344.5l2.7 2.1l1.4 .1l-2.7-2z"/><path class="k4" d="M39.4 365.6l1-.1l1.4-1.1l-.9 .2z"/><path class="k16" d="M80 352.9l2.5 0l1.6-3.5l-2.5 .2z"/><path class="k7" d="M70.5 363.1l2.3 .4l1.6-3.7l-2.4-.3z"/><path class="k25" d="M89.8 342.4l2.6-.2l1.5-3l-2.6 .4z"/><path class="k27" d="M111.9 337.3l2.8 1.5l1.4 .1l-2.7-1.4z"/><path class="k29" d="M98.1 336.8l2.7 .1l1.5-1.4l-2.6-.1z"/><path class="k5" d="M157.6 363.6l1.3 .6l1.2-.9l-1.3-.6z"/><path class="k5" d="M43.9 364l1.1-.2l1.5-.5l-1.1 .2z"/><path class="k2" d="M32.3 368.5l.7 .1l1.3-1.4l-.7 0z"/><path class="k5" d="M49.1 363.1l1.5 .1l1.6 .4l-1.5-.1z"/><path class="k7" d="M150 361l1.8 1l1.3-.8l-1.8-1z"/><path class="k27" d="M93.9 339.2l2.7-.1l1.5-2.3l-2.6 .2z"/><path class="k11" d="M140.5 356.2l2.2 1.6l1.4-.6l-2.2-1.4z"/><path class="k3" d="M57.3 365.2l2 .8l1.5 1.1l-1.9-.8z"/><path class="k19" d="M126.8 346.6l2.6 2.2l1.4-.1l-2.6-2z"/><path class="k3" d="M36.4 367.2l.8 0l1.4-1.4l-.8 .1z"/><path class="k10" d="M74.4 359.8l2.4 .1l1.6-3.5l-2.4-.1z"/><path class="k2" d="M33 368.6l.6 .1l1.3-1.5l-.6 0z"/><path class="k2" d="M65.1 368.9l2.3 1l1.5-2.8l-2.2-.4z"/><path class="k5" d="M158.9 364.2l1.2 .6l1.2-.9l-1.2-.6z"/><path class="k19" d="M84.1 349.4l2.5-.1l1.6-3.6l-2.6 .3z"/><path class="k1" d="M29.4 369.5l.5 .2l1.2-1.4l-.5-.1z"/><path class="k4" d="M40.4 365.5l1-.2l1.4-1.1l-1 .2z"/><path class="k29" d="M105 335.9l2.7 .9l1.5-.6l-2.7-.8z"/><path class="k4" d="M68.9 367.1l2.4 .4l1.5-4l-2.3-.4z"/><path class="k7" d="M151.8 362l1.6 .9l1.3-.8l-1.6-.9z"/><path class="k10" d="M142.7 357.8l2.2 1.4l1.3-.6l-2.1-1.4z"/><path class="k17" d="M129.4 348.8l2.5 2.1l1.4-.2l-2.5-2z"/><path class="k26" d="M114.7 338.8l2.7 1.7l1.4 0l-2.7-1.6z"/><path class="k1" d="M29.9 369.7l.6 .1l1.2-1.4l-.6-.1z"/><path class="k13" d="M78.4 356.4l2.5 .1l1.6-3.6l-2.5 0z"/><path class="k5" d="M160.1 364.8l1.1 .5l1.2-.9l-1.1-.5z"/><path class="k2" d="M33.6 368.7l.7 0l1.3-1.5l-.7 0z"/><path class="k6" d="M45 363.8l1.3-.2l1.5-.4l-1.3 .1z"/><path class="k3" d="M37.2 367.2l.9-.1l1.3-1.5l-.8 .2z"/><path class="k6" d="M50.6 363.2l1.6 .2l1.5 .5l-1.5-.3z"/><path class="k3" d="M59.3 366l2 .8l1.6 1.2l-2.1-.9z"/><path class="k23" d="M88.2 345.7l2.6-.1l1.6-3.4l-2.6 .2z"/><path class="k1" d="M30.5 369.8l.6 .1l1.2-1.4l-.6-.1z"/><path class="k6" d="M153.4 362.9l1.5 .8l1.3-.9l-1.5-.7z"/><path class="k16" d="M131.9 350.9l2.5 2.1l1.4-.4l-2.5-1.9z"/><path class="k8" d="M72.8 363.5l2.5 .3l1.5-3.9l-2.4-.1z"/><path class="k5" d="M161.2 365.3l1.1 .5l1.2-.9l-1.1-.5z"/><path class="k5" d="M41.4 365.3l1-.1l1.5-1.2l-1.1 .2z"/><path class="k9" d="M144.9 359.2l1.9 1.4l1.4-.8l-2-1.2z"/><path class="k2" d="M34.3 368.7l.8 0l1.3-1.5l-.8 0z"/><path class="k17" d="M82.5 352.9l2.6 .1l1.5-3.7l-2.5 .1z"/><path class="k25" d="M117.4 340.5l2.6 2l1.5-.1l-2.7-1.9z"/><path class="k1" d="M31.1 369.9l.6 .1l1.3-1.4l-.7-.1z"/><path class="k29" d="M100.8 336.9l2.7 .5l1.5-1.5l-2.7-.4z"/><path class="k2" d="M67.4 369.9l2.4 1l1.5-3.4l-2.4-.4z"/><path class="k4" d="M38.1 367.1l.9-.1l1.4-1.5l-1 .1z"/><path class="k4" d="M162.3 365.8l.9 .5l1.3-1l-1-.4z"/><path class="k6" d="M154.9 363.7l1.4 .8l1.3-.9l-1.4-.8z"/><path class="k26" d="M92.4 342.2l2.6-.1l1.6-3l-2.7 .1z"/><path class="k29" d="M107.7 336.8l2.8 1.1l1.4-.6l-2.7-1.1z"/><path class="k15" d="M134.4 353l2.4 1.9l1.4-.4l-2.4-1.9z"/><path class="k6" d="M52.2 363.4l1.7 .6l1.6 .5l-1.8-.6z"/><path class="k6" d="M46.3 363.6l1.3-.1l1.5-.4l-1.3 .1z"/><path class="k9" d="M146.8 360.6l1.9 1.2l1.3-.8l-1.8-1.2z"/><path class="k11" d="M76.8 359.9l2.6 .2l1.5-3.6l-2.5-.1z"/><path class="k28" d="M96.6 339.1l2.7 .2l1.5-2.4l-2.7-.1z"/><path class="k3" d="M35.1 368.7l.8 .1l1.3-1.6l-.8 0z"/><path class="k1" d="M31.7 370l.7 .1l1.2-1.4l-.6-.1z"/><path class="k1" d="M28.2 370.8l.5 .1l1.2-1.2l-.5-.2z"/><path class="k3" d="M61.3 366.8l2.2 .9l1.6 1.2l-2.2-.9z"/><path class="k5" d="M71.3 367.5l2.5 .3l1.5-4l-2.5-.3z"/><path class="k24" d="M120 342.5l2.7 2.2l1.4-.2l-2.6-2.1z"/><path class="k6" d="M156.3 364.5l1.3 .7l1.3-1l-1.3-.6z"/><path class="k6" d="M42.4 365.2l1.2-.2l1.4-1.2l-1.1 .2z"/><path class="k20" d="M86.6 349.3l2.6 0l1.6-3.7l-2.6 .1z"/><path class="k13" d="M136.8 354.9l2.3 1.9l1.4-.6l-2.3-1.7z"/><path class="k1" d="M28.7 370.9l.6 .2l1.2-1.3l-.6-.1z"/><path class="k4" d="M39 367l1-.1l1.4-1.6l-1 .2z"/><path class="k2" d="M32.4 370.1l.7 .1l1.2-1.5l-.7 0z"/><path class="k8" d="M148.7 361.8l1.8 1.1l1.3-.9l-1.8-1z"/><path class="k3" d="M35.9 368.8l.9 0l1.3-1.7l-.9 .1z"/><path class="k14" d="M80.9 356.5l2.6 .1l1.6-3.6l-2.6-.1z"/><path class="k1" d="M29.3 371.1l.6 .1l1.2-1.3l-.6-.1z"/><path class="k5" d="M157.6 365.2l1.2 .6l1.3-1l-1.2-.6z"/><path class="k22" d="M122.7 344.7l2.6 2.2l1.5-.3l-2.7-2.1z"/><path class="k6" d="M53.9 364l1.8 .7l1.6 .5l-1.8-.7z"/><path class="k28" d="M110.5 337.9l2.7 1.5l1.5-.6l-2.8-1.5z"/><path class="k12" d="M139.1 356.8l2.3 1.7l1.3-.7l-2.2-1.6z"/><path class="k2" d="M69.8 370.9l2.4 1.2l1.6-4.3l-2.5-.3z"/><path class="k8" d="M75.3 363.8l2.5 .1l1.6-3.8l-2.6-.2z"/><path class="k2" d="M33.1 370.2l.8 .1l1.2-1.6l-.8 0z"/><path class="k7" d="M47.6 363.5l1.5 .1l1.5-.4l-1.5-.1z"/><path class="k29" d="M103.5 337.4l2.7 .8l1.5-1.4l-2.7-.9z"/><path class="k24" d="M90.8 345.6l2.7 .1l1.5-3.6l-2.6 .1z"/><path class="k1" d="M29.9 371.2l.7 .2l1.1-1.4l-.6-.1z"/><path class="k7" d="M150.5 362.9l1.6 .9l1.3-.9l-1.6-.9z"/><path class="k2" d="M63.5 367.7l2.3 .9l1.6 1.3l-2.3-1z"/><path class="k5" d="M158.8 365.8l1.1 .5l1.3-1l-1.1-.5z"/><path class="k20" d="M125.3 346.9l2.6 2.3l1.5-.4l-2.6-2.2z"/><path class="k5" d="M40 366.9l1.1 0l1.3-1.7l-1 .1z"/><path class="k6" d="M43.6 365l1.2-.1l1.5-1.3l-1.3 .2z"/><path class="k3" d="M36.8 368.8l.9 0l1.3-1.8l-.9 .1z"/><path class="k18" d="M85.1 353l2.6 .1l1.5-3.8l-2.6 0z"/><path class="k11" d="M141.4 358.5l2.1 1.5l1.4-.8l-2.2-1.4z"/><path class="k0" d="M27.1 371.9l.6 .2l1-1.2l-.5-.1z"/><path class="k1" d="M30.6 371.4l.6 .1l1.2-1.4l-.7-.1z"/><path class="k2" d="M33.9 370.3l.8 .1l1.2-1.6l-.8-.1z"/><path class="k27" d="M95 342.1l2.7 .3l1.6-3.1l-2.7-.2z"/><path class="k5" d="M159.9 366.3l1.1 .5l1.3-1l-1.1-.5z"/><path class="k7" d="M152.1 363.8l1.5 .9l1.3-1l-1.5-.8z"/><path class="k29" d="M99.3 339.3l2.7 .5l1.5-2.4l-2.7-.5z"/><path class="k12" d="M79.4 360.1l2.5 .2l1.6-3.7l-2.6-.1z"/><path class="k19" d="M127.9 349.2l2.6 2.2l1.4-.5l-2.5-2.1z"/><path class="k6" d="M55.7 364.7l2 .8l1.6 .5l-2-.8z"/><path class="k27" d="M113.2 339.4l2.7 1.8l1.5-.7l-2.7-1.7z"/><path class="k5" d="M73.8 367.8l2.5 .2l1.5-4.1l-2.5-.1z"/><path class="k0" d="M27.7 372.1l.5 .2l1.1-1.2l-.6-.2z"/><path class="k1" d="M31.2 371.5l.8 .1l1.1-1.4l-.7-.1z"/><path class="k10" d="M143.5 360l2 1.4l1.3-.8l-1.9-1.4z"/><path class="k7" d="M49.1 363.6l1.6 .2l1.5-.4l-1.6-.2z"/><path class="k5" d="M161 366.8l1 .5l1.2-1l-.9-.5z"/><path class="k4" d="M37.7 368.8l1 0l1.3-1.9l-1 .1z"/><path class="k2" d="M34.7 370.4l.9 .1l1.2-1.7l-.9 0z"/><path class="k0" d="M28.2 372.3l.6 .1l1.1-1.2l-.6-.1z"/><path class="k21" d="M89.2 349.3l2.7 .2l1.6-3.8l-2.7-.1z"/><path class="k17" d="M130.5 351.4l2.5 2.2l1.4-.6l-2.5-2.1z"/><path class="k6" d="M153.6 364.7l1.4 .8l1.3-1l-1.4-.8z"/><path class="k5" d="M41.1 366.9l1.1-.1l1.4-1.8l-1.2 .2z"/><path class="k2" d="M65.8 368.6l2.4 1l1.6 1.3l-2.4-1z"/><path class="k7" d="M44.8 364.9l1.4-.1l1.4-1.3l-1.3 .1z"/><path class="k29" d="M106.2 338.2l2.7 1.2l1.6-1.5l-2.8-1.1z"/><path class="k15" d="M83.5 356.6l2.6 .2l1.6-3.7l-2.6-.1z"/><path class="k1" d="M32 371.6l.7 .2l1.2-1.5l-.8-.1z"/><path class="k2" d="M72.2 372.1l2.6 .2l1.5-4.3l-2.5-.2z"/><path class="k26" d="M115.9 341.2l2.7 2.1l1.4-.8l-2.6-2z"/><path class="k0" d="M28.8 372.4l.7 .2l1.1-1.2l-.7-.2z"/><path class="k9" d="M145.5 361.4l1.8 1.3l1.4-.9l-1.9-1.2z"/><path class="k16" d="M133 353.6l2.4 2.1l1.4-.8l-2.4-1.9z"/><path class="k6" d="M155 365.5l1.3 .7l1.3-1l-1.3-.7z"/><path class="k9" d="M77.8 363.9l2.6 .2l1.5-3.8l-2.5-.2z"/><path class="k5" d="M57.7 365.5l2.1 .8l1.5 .5l-2-.8z"/><path class="k2" d="M35.6 370.5l.9 .1l1.2-1.8l-.9 0z"/><path class="k4" d="M38.7 368.8l1.1 0l1.3-1.9l-1.1 0z"/><path class="k24" d="M93.5 345.7l2.6 .3l1.6-3.6l-2.7-.3z"/><path class="k0" d="M26.1 372.9l.5 .2l1.1-1l-.6-.2z"/><path class="k1" d="M29.5 372.6l.7 .2l1-1.3l-.6-.1z"/><path class="k1" d="M32.7 371.8l.9 .1l1.1-1.5l-.8-.1z"/><path class="k7" d="M50.7 363.8l1.7 .6l1.5-.4l-1.7-.6z"/><path class="k14" d="M135.4 355.7l2.3 1.9l1.4-.8l-2.3-1.9z"/><path class="k8" d="M147.3 362.7l1.8 1.2l1.4-1l-1.8-1.1z"/><path class="k25" d="M118.6 343.3l2.6 2.2l1.5-.8l-2.7-2.2z"/><path class="k6" d="M42.2 366.8l1.3 0l1.3-1.9l-1.2 .1z"/><path class="k6" d="M156.3 366.2l1.2 .7l1.3-1.1l-1.2-.6z"/><path class="k18" d="M87.7 353.1l2.6 .3l1.6-3.9l-2.7-.2z"/><path class="k29" d="M102 339.8l2.7 .8l1.5-2.4l-2.7-.8z"/><path class="k0" d="M26.6 373.1l.6 .2l1-1l-.5-.2z"/><path class="k27" d="M97.7 342.4l2.7 .5l1.6-3.1l-2.7-.5z"/><path class="k1" d="M30.2 372.8l.7 .1l1.1-1.3l-.8-.1z"/><path class="k2" d="M68.2 369.6l2.5 1.1l1.5 1.4l-2.4-1.2z"/><path class="k7" d="M46.2 364.8l1.5 .1l1.4-1.3l-1.5-.1z"/><path class="k29" d="M108.9 339.4l2.8 1.5l1.5-1.5l-2.7-1.5z"/><path class="k12" d="M81.9 360.3l2.6 .2l1.6-3.7l-2.6-.2z"/><path class="k3" d="M36.5 370.6l1 .1l1.2-1.9l-1 0z"/><path class="k2" d="M33.6 371.9l.8 .2l1.2-1.6l-.9-.1z"/><path class="k0" d="M27.2 373.3l.6 .2l1-1.1l-.6-.1z"/><path class="k6" d="M76.3 368l2.5 .1l1.6-4l-2.6-.2z"/><path class="k5" d="M157.5 366.9l1.1 .5l1.3-1.1l-1.1-.5z"/><path class="k13" d="M137.7 357.6l2.3 1.8l1.4-.9l-2.3-1.7z"/><path class="k8" d="M149.1 363.9l1.6 1l1.4-1.1l-1.6-.9z"/><path class="k23" d="M121.2 345.5l2.7 2.3l1.4-.9l-2.6-2.2z"/><path class="k5" d="M39.8 368.8l1.2 0l1.2-2l-1.1 .1z"/><path class="k5" d="M59.8 366.3l2.2 .8l1.5 .6l-2.2-.9z"/><path class="k1" d="M30.9 372.9l.8 .2l1-1.3l-.7-.2z"/><path class="k7" d="M52.4 364.4l1.8 .7l1.5-.4l-1.8-.7z"/><path class="k0" d="M27.8 373.5l.7 .2l1-1.1l-.7-.2z"/><path class="k22" d="M91.9 349.5l2.7 .4l1.5-3.9l-2.6-.3z"/><path class="k5" d="M158.6 367.4l1.1 .6l1.3-1.2l-1.1-.5z"/><path class="k21" d="M123.9 347.8l2.6 2.3l1.4-.9l-2.6-2.3z"/><path class="k12" d="M140 359.4l2.1 1.6l1.4-1l-2.1-1.5z"/><path class="k2" d="M34.4 372.1l1 .1l1.1-1.6l-.9-.1z"/><path class="k6" d="M43.5 366.8l1.3 0l1.4-2l-1.4 .1z"/><path class="k16" d="M86.1 356.8l2.7 .4l1.5-3.8l-2.6-.3z"/><path class="k7" d="M150.7 364.9l1.5 .9l1.4-1.1l-1.5-.9z"/><path class="k3" d="M37.5 370.7l1.1 0l1.2-1.9l-1.1 0z"/><path class="k3" d="M74.8 372.3l2.5 0l1.5-4.2l-2.5-.1z"/><path class="k0" d="M28.5 373.7l.7 .2l1-1.1l-.7-.2z"/><path class="k0" d="M25.1 373.6l.6 .2l.9-.7l-.5-.2z"/><path class="k1" d="M31.7 373.1l.8 .2l1.1-1.4l-.9-.1z"/><path class="k28" d="M111.7 340.9l2.7 1.8l1.5-1.5l-2.7-1.8z"/><path class="k8" d="M47.7 364.9l1.6 .2l1.4-1.3l-1.6-.2z"/><path class="k5" d="M159.7 368l.9 .5l1.4-1.2l-1-.5z"/><path class="k29" d="M104.7 340.6l2.7 1.2l1.5-2.4l-2.7-1.2z"/><path class="k10" d="M80.4 364.1l2.6 .1l1.5-3.7l-2.6-.2z"/><path class="k19" d="M126.5 350.1l2.5 2.3l1.5-1l-2.6-2.2z"/><path class="k25" d="M96.1 346l2.7 .6l1.6-3.7l-2.7-.5z"/><path class="k2" d="M70.7 370.7l2.5 1.4l1.6 .2l-2.6-.2z"/><path class="k0" d="M25.7 373.8l.6 .2l.9-.7l-.6-.2z"/><path class="k5" d="M41 368.8l1.2 .1l1.3-2.1l-1.3 0z"/><path class="k11" d="M142.1 361l2 1.5l1.4-1.1l-2-1.4z"/><path class="k7" d="M152.2 365.8l1.4 .8l1.4-1.1l-1.4-.8z"/><path class="k0" d="M29.2 373.9l.7 .1l1-1.1l-.7-.1z"/><path class="k2" d="M35.4 372.2l1 .2l1.1-1.7l-1-.1z"/><path class="k27" d="M100.4 342.9l2.7 .9l1.6-3.2l-2.7-.8z"/><path class="k7" d="M54.2 365.1l2 .7l1.5-.3l-2-.8z"/><path class="k1" d="M32.5 373.3l.9 .1l1-1.3l-.8-.2z"/><path class="k5" d="M62 367.1l2.3 .9l1.5 .6l-2.3-.9z"/><path class="k19" d="M90.3 353.4l2.7 .5l1.6-4l-2.7-.4z"/><path class="k18" d="M129 352.4l2.5 2.2l1.5-1l-2.5-2.2z"/><path class="k0" d="M26.3 374l.6 .2l.9-.7l-.6-.2z"/><path class="k3" d="M38.6 370.7l1.2 .2l1.2-2.1l-1.2 0z"/><path class="k26" d="M114.4 342.7l2.7 2.1l1.5-1.5l-2.7-2.1z"/><path class="k6" d="M153.6 366.6l1.3 .8l1.4-1.2l-1.3-.7z"/><path class="k0" d="M29.9 374l.8 .2l1-1.1l-.8-.2z"/><path class="k10" d="M144.1 362.5l1.8 1.3l1.4-1.1l-1.8-1.3z"/><path class="k7" d="M44.8 366.8l1.5 .1l1.4-2l-1.5-.1z"/><path class="k13" d="M84.5 360.5l2.7 .3l1.6-3.6l-2.7-.4z"/><path class="k0" d="M26.9 374.2l.6 .2l1-.7l-.7-.2z"/><path class="k16" d="M131.5 354.6l2.4 2.1l1.5-1l-2.4-2.1z"/><path class="k8" d="M49.3 365.1l1.7 .6l1.4-1.3l-1.7-.6z"/><path class="k7" d="M78.8 368.1l2.6 0l1.6-3.9l-2.6-.1z"/><path class="k1" d="M33.4 373.4l.9 .2l1.1-1.4l-1-.1z"/><path class="k2" d="M36.4 372.4l1.1 .1l1.1-1.8l-1.1 0z"/><path class="k22" d="M94.6 349.9l2.7 .6l1.5-3.9l-2.7-.6z"/><path class="k5" d="M42.2 368.9l1.4 .1l1.2-2.2l-1.3 0z"/><path class="k28" d="M107.4 341.8l2.7 1.5l1.6-2.4l-2.8-1.5z"/><path class="k6" d="M154.9 367.4l1.2 .6l1.4-1.1l-1.2-.7z"/><path class="k0" d="M30.7 374.2l.8 .2l1-1.1l-.8-.2z"/><path class="k0" d="M27.5 374.4l.7 .3l1-.8l-.7-.2z"/><path class="k9" d="M145.9 363.8l1.8 1.2l1.4-1.1l-1.8-1.2z"/><path class="k0" d="M24.3 374.3l.5 .2l.9-.7l-.6-.2z"/><path class="k25" d="M117.1 344.8l2.6 2.1l1.5-1.4l-2.6-2.2z"/><path class="k15" d="M133.9 356.7l2.4 2l1.4-1.1l-2.3-1.9z"/><path class="k16" d="M88.8 357.2l2.6 .5l1.6-3.8l-2.7-.5z"/><path class="k7" d="M56.2 365.8l2.1 .8l1.5-.3l-2.1-.8z"/><path class="k4" d="M39.8 370.9l1.2 .1l1.2-2.1l-1.2-.1z"/><path class="k2" d="M73.2 372.1l2.6 1.5l1.5-1.3l-2.5 0z"/><path class="k5" d="M64.3 368l2.4 1l1.5 .6l-2.4-1z"/><path class="k0" d="M24.8 374.5l.6 .2l.9-.7l-.6-.2z"/><path class="k0" d="M28.2 374.7l.7 .2l1-.9l-.7-.1z"/><path class="k25" d="M98.8 346.6l2.8 .8l1.5-3.6l-2.7-.9z"/><path class="k6" d="M156.1 368l1.2 .7l1.3-1.3l-1.1-.5z"/><path class="k1" d="M34.3 373.6l1 .2l1.1-1.4l-1-.2z"/><path class="k27" d="M103.1 343.8l2.7 1.1l1.6-3.1l-2.7-1.2z"/><path class="k4" d="M77.3 372.3l2.6-.1l1.5-4.1l-2.6 0z"/><path class="k1" d="M31.5 374.4l.9 .2l1-1.2l-.9-.1z"/><path class="k8" d="M147.7 365l1.6 1.1l1.4-1.2l-1.6-1z"/><path class="k7" d="M46.3 366.9l1.6 .3l1.4-2.1l-1.6-.2z"/><path class="k23" d="M119.7 346.9l2.7 2.3l1.5-1.4l-2.7-2.3z"/><path class="k2" d="M37.5 372.5l1.1 .2l1.2-1.8l-1.2-.2z"/><path class="k13" d="M136.3 358.7l2.2 1.8l1.5-1.1l-2.3-1.8z"/><path class="k10" d="M83 364.2l2.6 .2l1.6-3.6l-2.7-.3z"/><path class="k0" d="M25.4 374.7l.6 .2l.9-.7l-.6-.2z"/><path class="k8" d="M51 365.7l1.8 .7l1.4-1.3l-1.8-.7z"/><path class="k0" d="M28.9 374.9l.8 .3l1-1l-.8-.2z"/><path class="k5" d="M157.3 368.7l1 .5l1.4-1.2l-1.1-.6z"/><path class="k19" d="M93 353.9l2.7 .6l1.6-4l-2.7-.6z"/><path class="k27" d="M110.1 343.3l2.7 1.7l1.6-2.3l-2.7-1.8z"/><path class="k6" d="M43.6 369l1.4 .2l1.3-2.3l-1.5-.1z"/><path class="k0" d="M26 374.9l.7 .2l.8-.7l-.6-.2z"/><path class="k21" d="M122.4 349.2l2.6 2.4l1.5-1.5l-2.6-2.3z"/><path class="k8" d="M149.3 366.1l1.5 .9l1.4-1.2l-1.5-.9z"/><path class="k1" d="M32.4 374.6l.9 .2l1-1.2l-.9-.2z"/><path class="k12" d="M138.5 360.5l2.1 1.7l1.5-1.2l-2.1-1.6z"/><path class="k1" d="M35.3 373.8l1.1 .2l1.1-1.5l-1.1-.1z"/><path class="k4" d="M41 371l1.4 .2l1.2-2.2l-1.4-.1z"/><path class="k5" d="M158.3 369.2l1 .5l1.3-1.2l-.9-.5z"/><path class="k13" d="M87.2 360.8l2.7 .5l1.5-3.6l-2.6-.5z"/><path class="k7" d="M58.3 366.6l2.2 .8l1.5-.3l-2.2-.8z"/><path class="k0" d="M29.7 375.2l.8 .2l1-1l-.8-.2z"/><path class="k0" d="M23.4 374.9l.6 .2l.8-.6l-.5-.2z"/><path class="k0" d="M26.7 375.1l.6 .2l.9-.6l-.7-.3z"/><path class="k22" d="M97.3 350.5l2.7 .9l1.6-4l-2.8-.8z"/><path class="k3" d="M38.6 372.7l1.3 .2l1.1-1.9l-1.2-.1z"/><path class="k20" d="M125 351.6l2.5 2.3l1.5-1.5l-2.5-2.3z"/><path class="k5" d="M66.7 369l2.5 1l1.5 .7l-2.5-1.1z"/><path class="k7" d="M150.8 367l1.4 .9l1.4-1.3l-1.4-.8z"/><path class="k7" d="M47.9 367.2l1.7 .5l1.4-2l-1.7-.6z"/><path class="k11" d="M140.6 362.2l2 1.5l1.5-1.2l-2-1.5z"/><path class="k26" d="M105.8 344.9l2.8 1.4l1.5-3l-2.7-1.5z"/><path class="k8" d="M81.4 368.1l2.7 0l1.5-3.7l-2.6-.2z"/><path class="k0" d="M24 375.1l.6 .2l.8-.6l-.6-.2z"/><path class="k26" d="M112.8 345l2.7 2l1.6-2.2l-2.7-2.1z"/><path class="k8" d="M52.8 366.4l2 .7l1.4-1.3l-2-.7z"/><path class="k1" d="M33.3 374.8l1 .3l1-1.3l-1-.2z"/><path class="k2" d="M75.8 373.6l2.6 1.8l1.5-3.2l-2.6 .1z"/><path class="k25" d="M101.6 347.4l2.7 1.1l1.5-3.6l-2.7-1.1z"/><path class="k0" d="M27.3 375.3l.8 .3l.8-.7l-.7-.2z"/><path class="k0" d="M30.5 375.4l.9 .2l1-1l-.9-.2z"/><path class="k16" d="M91.4 357.7l2.7 .6l1.6-3.8l-2.7-.6z"/><path class="k2" d="M36.4 374l1.2 .3l1-1.6l-1.1-.2z"/><path class="k18" d="M127.5 353.9l2.5 2.2l1.5-1.5l-2.5-2.2z"/><path class="k6" d="M45 369.2l1.6 .3l1.3-2.3l-1.6-.3z"/><path class="k0" d="M24.6 375.3l.6 .2l.8-.6l-.6-.2z"/><path class="k7" d="M152.2 367.9l1.3 .8l1.4-1.3l-1.3-.8z"/><path class="k10" d="M142.6 363.7l1.9 1.4l1.4-1.3l-1.8-1.3z"/><path class="k5" d="M42.4 371.2l1.4 .2l1.2-2.2l-1.4-.2z"/><path class="k0" d="M28.1 375.6l.7 .3l.9-.7l-.8-.3z"/><path class="k16" d="M130 356.1l2.5 2.1l1.4-1.5l-2.4-2.1z"/><path class="k24" d="M115.5 347l2.7 2.1l1.5-2.2l-2.6-2.1z"/><path class="k3" d="M39.9 372.9l1.3 .2l1.2-1.9l-1.4-.2z"/><path class="k0" d="M25.2 375.5l.6 .2l.9-.6l-.7-.2z"/><path class="k19" d="M95.7 354.5l2.7 .8l1.6-3.9l-2.7-.9z"/><path class="k1" d="M34.3 375.1l1.1 .2l1-1.3l-1.1-.2z"/><path class="k0" d="M31.4 375.6l1 .3l.9-1.1l-.9-.2z"/><path class="k11" d="M85.6 364.4l2.7 .3l1.6-3.4l-2.7-.5z"/><path class="k7" d="M60.5 367.4l2.3 .9l1.5-.3l-2.3-.9z"/><path class="k6" d="M153.5 368.7l1.2 .7l1.4-1.4l-1.2-.6z"/><path class="k5" d="M79.9 372.2l2.7-.2l1.5-3.9l-2.7 0z"/><path class="k0" d="M22.7 375.5l.5 .2l.8-.6l-.6-.2z"/><path class="k7" d="M49.6 367.7l1.9 .6l1.3-1.9l-1.8-.7z"/><path class="k0" d="M28.8 375.9l.9 .3l.8-.8l-.8-.2z"/><path class="k9" d="M144.5 365.1l1.8 1.2l1.4-1.3l-1.8-1.2z"/><path class="k26" d="M108.6 346.3l2.7 1.7l1.5-3l-2.7-1.7z"/><path class="k2" d="M37.6 374.3l1.2 .2l1.1-1.6l-1.3-.2z"/><path class="k4" d="M69.2 370l2.5 1.2l1.5 .9l-2.5-1.4z"/><path class="k0" d="M25.8 375.7l.7 .3l.8-.7l-.6-.2z"/><path class="k8" d="M54.8 367.1l2.1 .8l1.4-1.3l-2.1-.8z"/><path class="k15" d="M132.5 358.2l2.3 2l1.5-1.5l-2.4-2z"/><path class="k22" d="M100 351.4l2.7 1l1.6-3.9l-2.7-1.1z"/><path class="k0" d="M23.2 375.7l.6 .2l.8-.6l-.6-.2z"/><path class="k23" d="M118.2 349.1l2.7 2.2l1.5-2.1l-2.7-2.3z"/><path class="k14" d="M89.9 361.3l2.7 .6l1.5-3.6l-2.7-.6z"/><path class="k6" d="M154.7 369.4l1.2 .6l1.4-1.3l-1.2-.7z"/><path class="k24" d="M104.3 348.5l2.7 1.4l1.6-3.6l-2.8-1.4z"/><path class="k6" d="M46.6 369.5l1.8 .5l1.2-2.3l-1.7-.5z"/><path class="k0" d="M32.4 375.9l1 .2l.9-1l-1-.3z"/><path class="k0" d="M26.5 376l.7 .2l.9-.6l-.8-.3z"/><path class="k0" d="M29.7 376.2l.8 .3l.9-.9l-.9-.2z"/><path class="k1" d="M35.4 375.3l1.2 .2l1-1.2l-1.2-.3z"/><path class="k8" d="M146.3 366.3l1.6 1.1l1.4-1.3l-1.6-1.1z"/><path class="k5" d="M43.8 371.4l1.6 .3l1.2-2.2l-1.6-.3z"/><path class="k0" d="M23.8 375.9l.6 .2l.8-.6l-.6-.2z"/><path class="k13" d="M134.8 360.2l2.2 1.8l1.5-1.5l-2.2-1.8z"/><path class="k3" d="M41.2 373.1l1.5 .3l1.1-2l-1.4-.2z"/><path class="k6" d="M155.9 370l1 .6l1.4-1.4l-1-.5z"/><path class="k21" d="M120.9 351.3l2.6 2.3l1.5-2l-2.6-2.4z"/><path class="k16" d="M94.1 358.3l2.7 .8l1.6-3.8l-2.7-.8z"/><path class="k2" d="M78.4 375.4l2.7 .7l1.5-4.1l-2.7 .2z"/><path class="k24" d="M111.3 348l2.7 1.8l1.5-2.8l-2.7-2z"/><path class="k0" d="M27.2 376.2l.8 .3l.8-.6l-.7-.3z"/><path class="k2" d="M38.8 374.5l1.4 .3l1-1.7l-1.3-.2z"/><path class="k0" d="M24.4 376.1l.7 .3l.7-.7l-.6-.2z"/><path class="k7" d="M51.5 368.3l1.9 .7l1.4-1.9l-2-.7z"/><path class="k8" d="M84.1 368.1l2.7 .1l1.5-3.5l-2.7-.3z"/><path class="k8" d="M147.9 367.4l1.5 1l1.4-1.4l-1.5-.9z"/><path class="k7" d="M62.8 368.3l2.4 .9l1.5-.2l-2.4-1z"/><path class="k0" d="M22 376.1l.5 .2l.7-.6l-.5-.2z"/><path class="k0" d="M30.5 376.5l1 .2l.9-.8l-1-.3z"/><path class="k1" d="M33.4 376.1l1.1 .3l.9-1.1l-1.1-.2z"/><path class="k12" d="M137 362l2.2 1.7l1.4-1.5l-2.1-1.7z"/><path class="k3" d="M71.7 371.2l2.6 1.3l1.5 1.1l-2.6-1.5z"/><path class="k5" d="M156.9 370.6l1 .5l1.4-1.4l-1-.5z"/><path class="k19" d="M98.4 355.3l2.7 1l1.6-3.9l-2.7-1z"/><path class="k19" d="M123.5 353.6l2.5 2.2l1.5-1.9l-2.5-2.3z"/><path class="k7" d="M56.9 367.9l2.2 .8l1.4-1.3l-2.2-.8z"/><path class="k1" d="M36.6 375.5l1.2 .3l1-1.3l-1.2-.2z"/><path class="k0" d="M25.1 376.4l.7 .2l.7-.6l-.7-.3z"/><path class="k0" d="M28 376.5l.8 .3l.9-.6l-.9-.3z"/><path class="k0" d="M22.5 376.3l.6 .2l.7-.6l-.6-.2z"/><path class="k6" d="M48.4 370l1.8 .6l1.3-2.3l-1.9-.6z"/><path class="k23" d="M107 349.9l2.7 1.5l1.6-3.4l-2.7-1.7z"/><path class="k22" d="M102.7 352.4l2.7 1.3l1.6-3.8l-2.7-1.4z"/><path class="k7" d="M149.4 368.4l1.4 .9l1.4-1.4l-1.4-.9z"/><path class="k11" d="M88.3 364.7l2.7 .5l1.6-3.3l-2.7-.6z"/><path class="k5" d="M45.4 371.7l1.8 .5l1.2-2.2l-1.8-.5z"/><path class="k11" d="M139.2 363.7l2 1.5l1.4-1.5l-2-1.5z"/><path class="k23" d="M114 349.8l2.7 2.1l1.5-2.8l-2.7-2.1z"/><path class="k18" d="M126 355.8l2.5 2.2l1.5-1.9l-2.5-2.2z"/><path class="k0" d="M31.5 376.7l1 .3l.9-.9l-1-.2z"/><path class="k4" d="M42.7 373.4l1.6 .3l1.1-2l-1.6-.3z"/><path class="k0" d="M25.8 376.6l.7 .3l.7-.7l-.7-.2z"/><path class="k0" d="M23.1 376.5l.6 .2l.7-.6l-.6-.2z"/><path class="k0" d="M28.8 376.8l.9 .4l.8-.7l-.8-.3z"/><path class="k1" d="M34.5 376.4l1.1 .2l1-1.1l-1.2-.2z"/><path class="k2" d="M40.2 374.8l1.5 .2l1-1.6l-1.5-.3z"/><path class="k14" d="M92.6 361.9l2.7 .8l1.5-3.6l-2.7-.8z"/><path class="k7" d="M150.8 369.3l1.3 .8l1.4-1.4l-1.3-.8z"/><path class="k6" d="M82.6 372l2.7-.2l1.5-3.6l-2.7-.1z"/><path class="k7" d="M53.4 369l2.1 .8l1.4-1.9l-2.1-.8z"/><path class="k0" d="M23.7 376.7l.7 .3l.7-.6l-.7-.3z"/><path class="k0" d="M21.3 376.7l.6 .2l.6-.6l-.5-.2z"/><path class="k10" d="M141.2 365.2l1.8 1.4l1.5-1.5l-1.9-1.4z"/><path class="k0" d="M26.5 376.9l.8 .3l.7-.7l-.8-.3z"/><path class="k16" d="M128.5 358l2.5 2l1.5-1.8l-2.5-2.1z"/><path class="k3" d="M74.3 372.5l2.6 1.6l1.5 1.3l-2.6-1.8z"/><path class="k1" d="M37.8 375.8l1.4 .3l1-1.3l-1.4-.3z"/><path class="k22" d="M116.7 351.9l2.6 2.1l1.6-2.7l-2.7-2.2z"/><path class="k16" d="M96.8 359.1l2.8 1l1.5-3.8l-2.7-1z"/><path class="k0" d="M29.7 377.2l1 .3l.8-.8l-1-.2z"/><path class="k6" d="M65.2 369.2l2.5 .9l1.5-.1l-2.5-1z"/><path class="k0" d="M32.5 377l1.1 .2l.9-.8l-1.1-.3z"/><path class="k22" d="M109.7 351.4l2.7 1.8l1.6-3.4l-2.7-1.8z"/><path class="k0" d="M21.9 376.9l.6 .2l.6-.6l-.6-.2z"/><path class="k6" d="M152.1 370.1l1.2 .7l1.4-1.4l-1.2-.7z"/><path class="k6" d="M50.2 370.6l2 .7l1.2-2.3l-1.9-.7z"/><path class="k0" d="M24.4 377l.7 .2l.7-.6l-.7-.2z"/><path class="k7" d="M59.1 368.7l2.3 .8l1.4-1.2l-2.3-.9z"/><path class="k19" d="M101.1 356.3l2.8 1.2l1.5-3.8l-2.7-1.3z"/><path class="k0" d="M27.3 377.2l.8 .3l.7-.7l-.8-.3z"/><path class="k14" d="M131 360l2.3 2l1.5-1.8l-2.3-2z"/><path class="k1" d="M35.6 376.6l1.3 .3l.9-1.1l-1.2-.3z"/><path class="k9" d="M143 366.6l1.8 1.3l1.5-1.6l-1.8-1.2z"/><path class="k5" d="M47.2 372.2l1.8 .6l1.2-2.2l-1.8-.6z"/><path class="k21" d="M105.4 353.7l2.7 1.4l1.6-3.7l-2.7-1.5z"/><path class="k4" d="M44.3 373.7l1.7 .5l1.2-2l-1.8-.5z"/><path class="k0" d="M22.5 377.1l.6 .2l.6-.6l-.6-.2z"/><path class="k20" d="M119.3 354l2.6 2.1l1.6-2.5l-2.6-2.3z"/><path class="k0" d="M25.1 377.2l.7 .3l.7-.6l-.7-.3z"/><path class="k9" d="M86.8 368.2l2.7 .3l1.5-3.3l-2.7-.5z"/><path class="k6" d="M153.3 370.8l1.1 .7l1.5-1.5l-1.2-.6z"/><path class="k3" d="M41.7 375l1.6 .4l1-1.7l-1.6-.3z"/><path class="k3" d="M81.1 376.1l2.7-.4l1.5-3.9l-2.7 .2z"/><path class="k0" d="M30.7 377.5l1 .2l.8-.7l-1-.3z"/><path class="k0" d="M28.1 377.5l.9 .3l.7-.6l-.9-.4z"/><path class="k0" d="M20.7 377.2l.6 .2l.6-.5l-.6-.2z"/><path class="k0" d="M33.6 377.2l1.2 .3l.8-.9l-1.1-.2z"/><path class="k13" d="M133.3 362l2.2 1.7l1.5-1.7l-2.2-1.8z"/><path class="k8" d="M144.8 367.9l1.6 1.1l1.5-1.6l-1.6-1.1z"/><path class="k0" d="M23.1 377.3l.6 .2l.7-.5l-.7-.3z"/><path class="k2" d="M39.2 376.1l1.5 .3l1-1.4l-1.5-.2z"/><path class="k21" d="M112.4 353.2l2.7 1.8l1.6-3.1l-2.7-2.1z"/><path class="k2" d="M76.9 374.1l2.7 1.9l1.5 .1l-2.7-.7z"/><path class="k12" d="M91 365.2l2.7 .7l1.6-3.2l-2.7-.8z"/><path class="k7" d="M55.5 369.8l2.2 .8l1.4-1.9l-2.2-.8z"/><path class="k0" d="M25.8 377.5l.8 .3l.7-.6l-.8-.3z"/><path class="k6" d="M154.4 371.5l1.1 .6l1.4-1.5l-1-.6z"/><path class="k18" d="M121.9 356.1l2.6 2.1l1.5-2.4l-2.5-2.2z"/><path class="k0" d="M21.3 377.4l.5 .2l.7-.5l-.6-.2z"/><path class="k14" d="M95.3 362.7l2.7 .9l1.6-3.5l-2.8-1z"/><path class="k1" d="M36.9 376.9l1.4 .2l.9-1l-1.4-.3z"/><path class="k0" d="M23.7 377.5l.7 .3l.7-.6l-.7-.2z"/><path class="k0" d="M29 377.8l.9 .4l.8-.7l-1-.3z"/><path class="k6" d="M52.2 371.3l2.1 .7l1.2-2.2l-2.1-.8z"/><path class="k6" d="M67.7 370.1l2.5 1l1.5 .1l-2.5-1.2z"/><path class="k8" d="M146.4 369l1.5 1l1.5-1.6l-1.5-1z"/><path class="k12" d="M135.5 363.7l2.2 1.7l1.5-1.7l-2.2-1.7z"/><path class="k0" d="M31.7 377.7l1.1 .3l.8-.8l-1.1-.2z"/><path class="k16" d="M99.6 360.1l2.7 1.1l1.6-3.7l-2.8-1.2z"/><path class="k20" d="M108.1 355.1l2.8 1.6l1.5-3.5l-2.7-1.8z"/><path class="k0" d="M26.6 377.8l.8 .3l.7-.6l-.8-.3z"/><path class="k5" d="M49 372.8l2 .7l1.2-2.2l-2-.7z"/><path class="k5" d="M155.5 372.1l1 .5l1.4-1.5l-1-.5z"/><path class="k7" d="M61.4 369.5l2.4 .9l1.4-1.2l-2.4-.9z"/><path class="k0" d="M21.8 377.6l.7 .2l.6-.5l-.6-.2z"/><path class="k18" d="M103.9 357.5l2.7 1.4l1.5-3.8l-2.7-1.4z"/><path class="k4" d="M46 374.2l1.9 .5l1.1-1.9l-1.8-.6z"/><path class="k17" d="M124.5 358.2l2.5 2l1.5-2.2l-2.5-2.2z"/><path class="k0" d="M24.4 377.8l.7 .2l.7-.5l-.7-.3z"/><path class="k1" d="M34.8 377.5l1.2 .2l.9-.8l-1.3-.3z"/><path class="k20" d="M115.1 355l2.7 2l1.5-3l-2.6-2.1z"/><path class="k3" d="M43.3 375.4l1.7 .4l1-1.6l-1.7-.5z"/><path class="k7" d="M147.9 370l1.4 .9l1.5-1.6l-1.4-.9z"/><path class="k0" d="M22.5 377.8l.6 .3l.6-.6l-.6-.2z"/><path class="k7" d="M85.3 371.8l2.6 0l1.6-3.3l-2.7-.3z"/><path class="k11" d="M137.7 365.4l2 1.5l1.5-1.7l-2-1.5z"/><path class="k0" d="M29.9 378.2l1 .2l.8-.7l-1-.2z"/><path class="k2" d="M40.7 376.4l1.6 .3l1-1.3l-1.6-.4z"/><path class="k0" d="M27.4 378.1l.9 .3l.7-.6l-.9-.3z"/><path class="k0" d="M25.1 378l.8 .3l.7-.5l-.8-.3z"/><path class="k0" d="M32.8 378l1.1 .2l.9-.7l-1.2-.3z"/><path class="k15" d="M127 360.2l2.4 2l1.6-2.2l-2.5-2z"/><path class="k1" d="M38.3 377.1l1.4 .3l1-1l-1.5-.3z"/><path class="k7" d="M57.7 370.6l2.4 .8l1.3-1.9l-2.3-.8z"/><path class="k0" d="M23.1 378.1l.7 .2l.6-.5l-.7-.3z"/><path class="k7" d="M149.3 370.9l1.4 .9l1.4-1.7l-1.3-.8z"/><path class="k2" d="M79.6 376l2.7 2.1l1.5-2.4l-2.7 .4z"/><path class="k19" d="M110.9 356.7l2.6 1.7l1.6-3.4l-2.7-1.8z"/><path class="k18" d="M117.8 357l2.6 1.9l1.5-2.8l-2.6-2.1z"/><path class="k10" d="M139.7 366.9l1.9 1.4l1.4-1.7l-1.8-1.4z"/><path class="k9" d="M89.5 368.5l2.7 .4l1.5-3l-2.7-.7z"/><path class="k0" d="M28.3 378.4l.9 .4l.7-.6l-.9-.4z"/><path class="k0" d="M25.9 378.3l.8 .3l.7-.5l-.8-.3z"/><path class="k6" d="M54.3 372l2.2 .7l1.2-2.1l-2.2-.8z"/><path class="k1" d="M36 377.7l1.4 .3l.9-.9l-1.4-.2z"/><path class="k12" d="M93.7 365.9l2.7 .8l1.6-3.1l-2.7-.9z"/><path class="k0" d="M30.9 378.4l1.1 .3l.8-.7l-1.1-.3z"/><path class="k6" d="M70.2 371.1l2.6 1.1l1.5 .3l-2.6-1.3z"/><path class="k14" d="M98 363.6l2.7 1l1.6-3.4l-2.7-1.1z"/><path class="k0" d="M23.8 378.3l.7 .3l.6-.6l-.7-.2z"/><path class="k5" d="M51 373.5l2.1 .6l1.2-2.1l-2.1-.7z"/><path class="k18" d="M106.6 358.9l2.7 1.4l1.6-3.6l-2.8-1.6z"/><path class="k14" d="M129.4 362.2l2.4 1.8l1.5-2l-2.3-2z"/><path class="k16" d="M102.3 361.2l2.7 1.2l1.6-3.5l-2.7-1.4z"/><path class="k4" d="M47.9 374.7l1.9 .6l1.2-1.8l-2-.7z"/><path class="k6" d="M150.7 371.8l1.2 .7l1.4-1.7l-1.2-.7z"/><path class="k3" d="M45 375.8l1.8 .5l1.1-1.6l-1.9-.5z"/><path class="k7" d="M63.8 370.4l2.5 .8l1.4-1.1l-2.5-.9z"/><path class="k9" d="M141.6 368.3l1.7 1.3l1.5-1.7l-1.8-1.3z"/><path class="k1" d="M33.9 378.2l1.3 .3l.8-.8l-1.2-.2z"/><path class="k4" d="M83.8 375.7l2.7-.4l1.4-3.5l-2.6 0z"/><path class="k0" d="M26.7 378.6l.9 .4l.7-.6l-.9-.3z"/><path class="k17" d="M120.4 358.9l2.6 2l1.5-2.7l-2.6-2.1z"/><path class="k2" d="M42.3 376.7l1.7 .4l1-1.3l-1.7-.4z"/><path class="k0" d="M29.2 378.8l1 .2l.7-.6l-1-.2z"/><path class="k0" d="M24.5 378.6l.8 .3l.6-.6l-.8-.3z"/><path class="k6" d="M151.9 372.5l1.1 .6l1.4-1.6l-1.1-.7z"/><path class="k18" d="M113.5 358.4l2.7 1.8l1.6-3.2l-2.7-2z"/><path class="k13" d="M131.8 364l2.2 1.8l1.5-2.1l-2.2-1.7z"/><path class="k1" d="M39.7 377.4l1.6 .3l1-1l-1.6-.3z"/><path class="k0" d="M32 378.7l1.2 .2l.7-.7l-1.1-.2z"/><path class="k8" d="M143.3 369.6l1.6 1.2l1.5-1.8l-1.6-1.1z"/><path class="k0" d="M27.6 379l1 .3l.6-.5l-.9-.4z"/><path class="k0" d="M25.3 378.9l.8 .3l.6-.6l-.8-.3z"/><path class="k1" d="M37.4 378l1.5 .3l.8-.9l-1.4-.3z"/><path class="k7" d="M60.1 371.4l2.4 .8l1.3-1.8l-2.4-.9z"/><path class="k5" d="M153 373.1l1 .6l1.5-1.6l-1.1-.6z"/><path class="k16" d="M123 360.9l2.5 1.9l1.5-2.6l-2.5-2z"/><path class="k17" d="M109.3 360.3l2.7 1.5l1.5-3.4l-2.6-1.7z"/><path class="k0" d="M30.2 379l1.1 .3l.7-.6l-1.1-.3z"/><path class="k11" d="M134 365.8l2.2 1.6l1.5-2l-2.2-1.7z"/><path class="k5" d="M72.8 372.2l2.7 1.2l1.4 .7l-2.6-1.6z"/><path class="k6" d="M56.5 372.7l2.3 .8l1.3-2.1l-2.4-.8z"/><path class="k1" d="M35.2 378.5l1.4 .2l.8-.7l-1.4-.3z"/><path class="k7" d="M87.9 371.8l2.8 .1l1.5-3l-2.7-.4z"/><path class="k7" d="M144.9 370.8l1.6 1l1.4-1.8l-1.5-1z"/><path class="k5" d="M53.1 374.1l2.2 .7l1.2-2.1l-2.2-.7z"/><path class="k15" d="M105 362.4l2.7 1.3l1.6-3.4l-2.7-1.4z"/><path class="k4" d="M49.8 375.3l2.1 .6l1.2-1.8l-2.1-.6z"/><path class="k0" d="M26.1 379.2l.9 .3l.6-.5l-.9-.4z"/><path class="k13" d="M100.7 364.6l2.8 1.1l1.5-3.3l-2.7-1.2z"/><path class="k3" d="M46.8 376.3l2 .5l1-1.5l-1.9-.6z"/><path class="k17" d="M116.2 360.2l2.6 1.7l1.6-3l-2.6-1.9z"/><path class="k5" d="M154 373.7l1 .5l1.5-1.6l-1-.5z"/><path class="k11" d="M96.4 366.7l2.8 1l1.5-3.1l-2.7-1z"/><path class="k2" d="M82.3 378.1l2.7 .9l1.5-3.7l-2.7 .4z"/><path class="k0" d="M28.6 379.3l1 .3l.6-.6l-1-.2z"/><path class="k10" d="M92.2 368.9l2.7 .7l1.5-2.9l-2.7-.8z"/><path class="k0" d="M33.2 378.9l1.3 .2l.7-.6l-1.3-.3z"/><path class="k2" d="M44 377.1l1.8 .4l1-1.2l-1.8-.5z"/><path class="k7" d="M66.3 371.2l2.5 .8l1.4-.9l-2.5-1z"/><path class="k14" d="M125.5 362.8l2.4 1.8l1.5-2.4l-2.4-2z"/><path class="k10" d="M136.2 367.4l2 1.5l1.5-2l-2-1.5z"/><path class="k7" d="M146.5 371.8l1.4 .9l1.4-1.8l-1.4-.9z"/><path class="k2" d="M41.3 377.7l1.7 .3l1-.9l-1.7-.4z"/><path class="k0" d="M31.3 379.3l1.2 .2l.7-.6l-1.2-.2z"/><path class="k0" d="M27 379.5l1 .3l.6-.5l-1-.3z"/><path class="k1" d="M38.9 378.3l1.6 .2l.8-.8l-1.6-.3z"/><path class="k16" d="M112 361.8l2.6 1.6l1.6-3.2l-2.7-1.8z"/><path class="k15" d="M118.8 361.9l2.6 1.8l1.6-2.8l-2.6-2z"/><path class="k0" d="M29.6 379.6l1.1 .2l.6-.5l-1.1-.3z"/><path class="k4" d="M75.5 373.4l2.6 1.6l1.5 1l-2.7-1.9z"/><path class="k6" d="M147.9 372.7l1.3 .9l1.5-1.8l-1.4-.9z"/><path class="k1" d="M36.6 378.7l1.5 .3l.8-.7l-1.5-.3z"/><path class="k9" d="M138.2 368.9l1.9 1.4l1.5-2l-1.9-1.4z"/><path class="k13" d="M127.9 364.6l2.4 1.7l1.5-2.3l-2.4-1.8z"/><path class="k7" d="M62.5 372.2l2.4 .8l1.4-1.8l-2.5-.8z"/><path class="k1" d="M34.5 379.1l1.3 .3l.8-.7l-1.4-.2z"/><path class="k14" d="M107.7 363.7l2.7 1.4l1.6-3.3l-2.7-1.5z"/><path class="k0" d="M28 379.8l1 .3l.6-.5l-1-.3z"/><path class="k6" d="M58.8 373.5l2.4 .8l1.3-2.1l-2.4-.8z"/><path class="k5" d="M86.5 375.3l2.7-.3l1.5-3.1l-2.8-.1z"/><path class="k5" d="M55.3 374.8l2.3 .7l1.2-2l-2.3-.8z"/><path class="k4" d="M51.9 375.9l2.2 .6l1.2-1.7l-2.2-.7z"/><path class="k6" d="M149.2 373.6l1.2 .7l1.5-1.8l-1.2-.7z"/><path class="k3" d="M48.8 376.8l2.1 .5l1-1.4l-2.1-.6z"/><path class="k0" d="M32.5 379.5l1.3 .2l.7-.6l-1.3-.2z"/><path class="k13" d="M103.5 365.7l2.7 1.2l1.5-3.2l-2.7-1.3z"/><path class="k8" d="M140.1 370.3l1.7 1.2l1.5-1.9l-1.7-1.3z"/><path class="k2" d="M45.8 377.5l2 .4l1-1.1l-2-.5z"/><path class="k12" d="M130.3 366.3l2.2 1.7l1.5-2.2l-2.2-1.8z"/><path class="k11" d="M99.2 367.7l2.7 1l1.6-3l-2.8-1.1z"/><path class="k14" d="M121.4 363.7l2.5 1.8l1.6-2.7l-2.5-1.9z"/><path class="k0" d="M30.7 379.8l1.1 .3l.7-.6l-1.2-.2z"/><path class="k2" d="M43 378l1.9 .4l.9-.9l-1.8-.4z"/><path class="k15" d="M114.6 363.4l2.7 1.6l1.5-3.1l-2.6-1.7z"/><path class="k3" d="M78.1 375l2.7 2l1.5 1.1l-2.7-2.1z"/><path class="k10" d="M94.9 369.6l2.7 .9l1.6-2.8l-2.8-1z"/><path class="k7" d="M68.8 372l2.6 .7l1.4-.5l-2.6-1.1z"/><path class="k5" d="M150.4 374.3l1.1 .7l1.5-1.9l-1.1-.6z"/><path class="k8" d="M90.7 371.9l2.7 .4l1.5-2.7l-2.7-.7z"/><path class="k2" d="M40.5 378.5l1.7 .3l.8-.8l-1.7-.3z"/><path class="k0" d="M29 380.1l1.1 .2l.6-.5l-1.1-.2z"/><path class="k8" d="M141.8 371.5l1.7 1.2l1.4-1.9l-1.6-1.2z"/><path class="k1" d="M38.1 379l1.6 .2l.8-.7l-1.6-.2z"/><path class="k1" d="M35.8 379.4l1.5 .2l.8-.6l-1.5-.3z"/><path class="k11" d="M132.5 368l2.1 1.5l1.6-2.1l-2.2-1.6z"/><path class="k5" d="M151.5 375l1.1 .5l1.4-1.8l-1-.6z"/><path class="k14" d="M110.4 365.1l2.7 1.4l1.5-3.1l-2.6-1.6z"/><path class="k1" d="M33.8 379.7l1.3 .3l.7-.6l-1.3-.3z"/><path class="k13" d="M123.9 365.5l2.5 1.6l1.5-2.5l-2.4-1.8z"/><path class="k3" d="M85 379l2.7-.6l1.5-3.4l-2.7 .3z"/><path class="k7" d="M143.5 372.7l1.5 1.1l1.5-2l-1.6-1z"/><path class="k1" d="M31.8 380.1l1.3 .2l.7-.6l-1.3-.2z"/><path class="k7" d="M64.9 373l2.6 .6l1.3-1.6l-2.5-.8z"/><path class="k14" d="M117.3 365l2.6 1.6l1.5-2.9l-2.6-1.8z"/><path class="k5" d="M152.6 375.5l1 .6l1.4-1.9l-1-.5z"/><path class="k12" d="M106.2 366.9l2.7 1.3l1.5-3.1l-2.7-1.4z"/><path class="k2" d="M80.8 377l2.8 2.3l1.4-.3l-2.7-.9z"/><path class="k0" d="M30.1 380.3l1.1 .3l.6-.5l-1.1-.3z"/><path class="k5" d="M57.6 375.5l2.4 .8l1.2-2l-2.4-.8z"/><path class="k4" d="M54.1 376.5l2.4 .7l1.1-1.7l-2.3-.7z"/><path class="k6" d="M61.2 374.3l2.5 .7l1.2-2l-2.4-.8z"/><path class="k3" d="M50.9 377.3l2.2 .5l1-1.3l-2.2-.6z"/><path class="k10" d="M134.6 369.5l2.1 1.5l1.5-2.1l-2-1.5z"/><path class="k3" d="M47.8 377.9l2.1 .4l1-1l-2.1-.5z"/><path class="k6" d="M145 373.8l1.4 .9l1.5-2l-1.4-.9z"/><path class="k11" d="M101.9 368.7l2.7 1.2l1.6-3l-2.7-1.2z"/><path class="k2" d="M44.9 378.4l2 .3l.9-.8l-2-.4z"/><path class="k12" d="M126.4 367.1l2.3 1.6l1.6-2.4l-2.4-1.7z"/><path class="k2" d="M42.2 378.8l1.8 .3l.9-.7l-1.9-.4z"/><path class="k7" d="M71.4 372.7l2.6 .9l1.5-.2l-2.7-1.2z"/><path class="k2" d="M39.7 379.2l1.7 .2l.8-.6l-1.7-.3z"/><path class="k10" d="M97.6 370.5l2.8 1l1.5-2.8l-2.7-1z"/><path class="k1" d="M37.3 379.6l1.6 .2l.8-.6l-1.6-.2z"/><path class="k9" d="M136.7 371l1.8 1.4l1.6-2.1l-1.9-1.4z"/><path class="k13" d="M113.1 366.5l2.6 1.5l1.6-3l-2.7-1.6z"/><path class="k1" d="M35.1 380l1.5 .2l.7-.6l-1.5-.2z"/><path class="k6" d="M146.4 374.7l1.3 .9l1.5-2l-1.3-.9z"/><path class="k6" d="M89.2 375l2.7 .1l1.5-2.8l-2.7-.4z"/><path class="k1" d="M33.1 380.3l1.4 .2l.6-.5l-1.3-.3z"/><path class="k13" d="M119.9 366.6l2.5 1.6l1.5-2.7l-2.5-1.8z"/><path class="k1" d="M31.2 380.6l1.3 .2l.6-.5l-1.3-.2z"/><path class="k8" d="M93.4 372.3l2.7 .7l1.5-2.5l-2.7-.9z"/><path class="k11" d="M128.7 368.7l2.3 1.6l1.5-2.3l-2.2-1.7z"/><path class="k5" d="M147.7 375.6l1.2 .7l1.5-2l-1.2-.7z"/><path class="k8" d="M138.5 372.4l1.8 1.2l1.5-2.1l-1.7-1.2z"/><path class="k12" d="M108.9 368.2l2.6 1.3l1.6-3l-2.7-1.4z"/><path class="k1" d="M83.6 379.3l2.7 2.6l1.4-3.5l-2.7 .6z"/><path class="k4" d="M56.5 377.2l2.4 .7l1.1-1.6l-2.4-.8z"/><path class="k3" d="M53.1 377.8l2.3 .6l1.1-1.2l-2.4-.7z"/><path class="k5" d="M60 376.3l2.5 .6l1.2-1.9l-2.5-.7z"/><path class="k7" d="M67.5 373.6l2.6 .5l1.3-1.4l-2.6-.7z"/><path class="k5" d="M148.9 376.3l1.1 .7l1.5-2l-1.1-.7z"/><path class="k3" d="M49.9 378.3l2.2 .5l1-1l-2.2-.5z"/><path class="k12" d="M122.4 368.2l2.4 1.5l1.6-2.6l-2.5-1.6z"/><path class="k6" d="M63.7 375l2.5 .5l1.3-1.9l-2.6-.6z"/><path class="k10" d="M104.6 369.9l2.7 1.1l1.6-2.8l-2.7-1.3z"/><path class="k7" d="M140.3 373.6l1.6 1.2l1.6-2.1l-1.7-1.2z"/><path class="k12" d="M115.7 368l2.6 1.4l1.6-2.8l-2.6-1.6z"/><path class="k3" d="M46.9 378.7l2 .3l1-.7l-2.1-.4z"/><path class="k10" d="M131 370.3l2.1 1.5l1.5-2.3l-2.1-1.5z"/><path class="k1" d="M32.5 380.8l1.4 .2l.6-.5l-1.4-.2z"/><path class="k1" d="M34.5 380.5l1.5 .2l.6-.5l-1.5-.2z"/><path class="k2" d="M44 379.1l2 .2l.9-.6l-2-.3z"/><path class="k1" d="M36.6 380.2l1.6 .2l.7-.6l-1.6-.2z"/><path class="k2" d="M38.9 379.8l1.7 .2l.8-.6l-1.7-.2z"/><path class="k2" d="M41.4 379.4l1.8 .3l.8-.6l-1.8-.3z"/><path class="k6" d="M74 373.6l2.7 1.1l1.4 .3l-2.6-1.6z"/><path class="k5" d="M150 377l1.1 .5l1.5-2l-1.1-.5z"/><path class="k9" d="M100.4 371.5l2.7 1l1.5-2.6l-2.7-1.2z"/><path class="k6" d="M141.9 374.8l1.6 1.1l1.5-2.1l-1.5-1.1z"/><path class="k4" d="M87.7 378.4l2.7-.5l1.5-2.8l-2.7-.1z"/><path class="k11" d="M111.5 369.5l2.7 1.3l1.5-2.8l-2.6-1.5z"/><path class="k9" d="M133.1 371.8l2 1.4l1.6-2.2l-2.1-1.5z"/><path class="k4" d="M151.1 377.5l1 .5l1.5-1.9l-1-.6z"/><path class="k11" d="M124.8 369.7l2.4 1.5l1.5-2.5l-2.3-1.6z"/><path class="k8" d="M96.1 373l2.7 .9l1.6-2.4l-2.8-1z"/><path class="k6" d="M143.5 375.9l1.4 .9l1.5-2.1l-1.4-.9z"/><path class="k7" d="M91.9 375.1l2.7 .4l1.5-2.5l-2.7-.7z"/><path class="k11" d="M118.3 369.4l2.5 1.5l1.6-2.7l-2.5-1.6z"/><path class="k1" d="M33.9 381l1.4 .2l.7-.5l-1.5-.2z"/><path class="k1" d="M36 380.7l1.6 .2l.6-.5l-1.6-.2z"/><path class="k8" d="M135.1 373.2l1.9 1.4l1.5-2.2l-1.8-1.4z"/><path class="k10" d="M107.3 371l2.7 1.2l1.5-2.7l-2.6-1.3z"/><path class="k5" d="M76.7 374.7l2.7 1.5l1.4 .8l-2.7-2z"/><path class="k4" d="M58.9 377.9l2.4 .6l1.2-1.6l-2.5-.6z"/><path class="k3" d="M55.4 378.4l2.4 .7l1.1-1.2l-2.4-.7z"/><path class="k5" d="M144.9 376.8l1.3 .9l1.5-2.1l-1.3-.9z"/><path class="k2" d="M38.2 380.4l1.7 .1l.7-.5l-1.7-.2z"/><path class="k3" d="M52.1 378.8l2.3 .5l1-.9l-2.3-.6z"/><path class="k5" d="M62.5 376.9l2.5 .5l1.2-1.9l-2.5-.5z"/><path class="k2" d="M40.6 380l1.9 .2l.7-.5l-1.8-.3z"/><path class="k7" d="M70.1 374.1l2.6 .5l1.3-1l-2.6-.9z"/><path class="k3" d="M48.9 379l2.2 .4l1-.6l-2.2-.5z"/><path class="k10" d="M127.2 371.2l2.2 1.5l1.6-2.4l-2.3-1.6z"/><path class="k2" d="M43.2 379.7l2 .2l.8-.6l-2-.2z"/><path class="k3" d="M46 379.3l2.1 .3l.8-.6l-2-.3z"/><path class="k6" d="M66.2 375.5l2.6 .4l1.3-1.8l-2.6-.5z"/><path class="k2" d="M86.3 381.9l2.7-.9l1.4-3.1l-2.7 .5z"/><path class="k9" d="M103.1 372.5l2.7 1.1l1.5-2.6l-2.7-1.1z"/><path class="k7" d="M137 374.6l1.8 1.2l1.5-2.2l-1.8-1.2z"/><path class="k10" d="M114.2 370.8l2.6 1.3l1.5-2.7l-2.6-1.4z"/><path class="k5" d="M146.2 377.7l1.2 .8l1.5-2.2l-1.2-.7z"/><path class="k10" d="M120.8 370.9l2.5 1.4l1.5-2.6l-2.4-1.5z"/><path class="k4" d="M79.4 376.2l2.7 2l1.5 1.1l-2.8-2.3z"/><path class="k4" d="M147.4 378.5l1.1 .6l1.5-2.1l-1.1-.7z"/><path class="k9" d="M129.4 372.7l2.2 1.4l1.5-2.3l-2.1-1.5z"/><path class="k8" d="M98.8 373.9l2.8 1l1.5-2.4l-2.7-1z"/><path class="k6" d="M138.8 375.8l1.6 1.2l1.5-2.2l-1.6-1.2z"/><path class="k1" d="M35.3 381.2l1.6 .2l.7-.5l-1.6-.2z"/><path class="k2" d="M37.6 380.9l1.7 .1l.6-.5l-1.7-.1z"/><path class="k10" d="M110 372.2l2.6 1.2l1.6-2.6l-2.7-1.3z"/><path class="k2" d="M82.1 378.2l2.8 2.7l1.4 1l-2.7-2.6z"/><path class="k7" d="M94.6 375.5l2.8 .7l1.4-2.3l-2.7-.9z"/><path class="k4" d="M148.5 379.1l1.1 .6l1.5-2.2l-1.1-.5z"/><path class="k5" d="M90.4 377.9l2.8 0l1.4-2.4l-2.7-.4z"/><path class="k2" d="M39.9 380.5l1.9 .2l.7-.5l-1.9-.2z"/><path class="k5" d="M140.4 377l1.6 1.1l1.5-2.2l-1.6-1.1z"/><path class="k9" d="M123.3 372.3l2.3 1.3l1.6-2.4l-2.4-1.5z"/><path class="k4" d="M57.8 379.1l2.5 .6l1-1.2l-2.4-.6z"/><path class="k10" d="M116.8 372.1l2.5 1.3l1.5-2.5l-2.5-1.5z"/><path class="k8" d="M131.6 374.1l2 1.4l1.5-2.3l-2-1.4z"/><path class="k3" d="M54.4 379.3l2.4 .6l1-.8l-2.4-.7z"/><path class="k4" d="M61.3 378.5l2.6 .5l1.1-1.6l-2.5-.5z"/><path class="k3" d="M42.5 380.2l1.9 .1l.8-.4l-2-.2z"/><path class="k3" d="M51.1 379.4l2.4 .5l.9-.6l-2.3-.5z"/><path class="k3" d="M45.2 379.9l2.1 .2l.8-.5l-2.1-.3z"/><path class="k7" d="M72.7 374.6l2.7 .6l1.3-.5l-2.7-1.1z"/><path class="k4" d="M149.6 379.7l1 .5l1.5-2.2l-1-.5z"/><path class="k3" d="M48.1 379.6l2.2 .3l.8-.5l-2.2-.4z"/><path class="k9" d="M105.8 373.6l2.7 1.1l1.5-2.5l-2.7-1.2z"/><path class="k5" d="M142 378.1l1.4 1l1.5-2.3l-1.4-.9z"/><path class="k6" d="M65 377.4l2.6 .3l1.2-1.8l-2.6-.4z"/><path class="k7" d="M133.6 375.5l1.9 1.3l1.5-2.2l-1.9-1.4z"/><path class="k7" d="M68.8 375.9l2.6 .2l1.3-1.5l-2.6-.5z"/><path class="k2" d="M36.9 381.4l1.8 .2l.6-.6l-1.7-.1z"/><path class="k1" d="M84.9 380.9l2.7 3l1.4-2.9l-2.7 .9z"/><path class="k4" d="M143.4 379.1l1.3 .9l1.5-2.3l-1.3-.9z"/><path class="k9" d="M125.6 373.6l2.3 1.4l1.5-2.3l-2.2-1.5z"/><path class="k8" d="M101.6 374.9l2.7 1l1.5-2.3l-2.7-1.1z"/><path class="k9" d="M112.6 373.4l2.6 1.2l1.6-2.5l-2.6-1.3z"/><path class="k2" d="M39.3 381l1.8 .2l.7-.5l-1.9-.2z"/><path class="k9" d="M119.3 373.4l2.4 1.3l1.6-2.4l-2.5-1.4z"/><path class="k6" d="M135.5 376.8l1.8 1.3l1.5-2.3l-1.8-1.2z"/><path class="k4" d="M144.7 380l1.2 .7l1.5-2.2l-1.2-.8z"/><path class="k3" d="M41.8 380.7l1.9 .1l.7-.5l-1.9-.1z"/><path class="k4" d="M89 381l2.7-.6l1.5-2.5l-2.8 0z"/><path class="k7" d="M97.4 376.2l2.7 .9l1.5-2.2l-2.8-1z"/><path class="k8" d="M127.9 375l2.2 1.4l1.5-2.3l-2.2-1.4z"/><path class="k8" d="M108.5 374.7l2.6 1.1l1.5-2.4l-2.6-1.2z"/><path class="k3" d="M44.4 380.3l2.1 .2l.8-.4l-2.1-.2z"/><path class="k4" d="M60.3 379.7l2.5 .5l1.1-1.2l-2.6-.5z"/><path class="k3" d="M56.8 379.9l2.5 .6l1-.8l-2.5-.6z"/><path class="k3" d="M145.9 380.7l1.1 .7l1.5-2.3l-1.1-.6z"/><path class="k5" d="M137.3 378.1l1.6 1.2l1.5-2.3l-1.6-1.2z"/><path class="k7" d="M75.4 375.2l2.7 1l1.3 0l-2.7-1.5z"/><path class="k6" d="M93.2 377.9l2.7 .5l1.5-2.2l-2.8-.7z"/><path class="k3" d="M53.5 379.9l2.4 .5l.9-.5l-2.4-.6z"/><path class="k3" d="M47.3 380.1l2.2 .2l.8-.4l-2.2-.3z"/><path class="k4" d="M50.3 379.9l2.3 .4l.9-.4l-2.4-.5z"/><path class="k5" d="M63.9 379l2.6 .4l1.1-1.7l-2.6-.3z"/><path class="k9" d="M115.2 374.6l2.6 1.2l1.5-2.4l-2.5-1.3z"/><path class="k8" d="M121.7 374.7l2.4 1.3l1.5-2.4l-2.3-1.3z"/><path class="k2" d="M38.7 381.6l1.8 .1l.6-.5l-1.8-.2z"/><path class="k3" d="M147 381.4l1.1 .6l1.5-2.3l-1.1-.6z"/><path class="k5" d="M138.9 379.3l1.5 1.2l1.6-2.4l-1.6-1.1z"/><path class="k7" d="M130.1 376.4l2 1.4l1.5-2.3l-2-1.4z"/><path class="k8" d="M104.3 375.9l2.7 1.1l1.5-2.3l-2.7-1.1z"/><path class="k6" d="M67.6 377.7l2.6 .2l1.2-1.8l-2.6-.2z"/><path class="k3" d="M41.1 381.2l2 .1l.6-.5l-1.9-.1z"/><path class="k3" d="M148.1 382l1 .5l1.5-2.3l-1-.5z"/><path class="k7" d="M71.4 376.1l2.7 .3l1.3-1.2l-2.7-.6z"/><path class="k4" d="M140.4 380.5l1.4 1l1.6-2.4l-1.4-1z"/><path class="k2" d="M87.6 383.9l2.8-.8l1.3-2.7l-2.7 .6z"/><path class="k6" d="M78.1 376.2l2.7 1.4l1.3 .6l-2.7-2z"/><path class="k6" d="M132.1 377.8l1.9 1.3l1.5-2.3l-1.9-1.3z"/><path class="k8" d="M111.1 375.8l2.6 1.1l1.5-2.3l-2.6-1.2z"/><path class="k7" d="M100.1 377.1l2.7 1l1.5-2.2l-2.7-1z"/><path class="k3" d="M43.7 380.8l2.1 .1l.7-.4l-2.1-.2z"/><path class="k8" d="M124.1 376l2.3 1.3l1.5-2.3l-2.3-1.4z"/><path class="k3" d="M141.8 381.5l1.4 .9l1.5-2.4l-1.3-.9z"/><path class="k8" d="M117.8 375.8l2.4 1.2l1.5-2.3l-2.4-1.3z"/><path class="k4" d="M46.5 380.5l2.2 .2l.8-.4l-2.2-.2z"/><path class="k4" d="M59.3 380.5l2.5 .5l1-.8l-2.5-.5z"/><path class="k4" d="M55.9 380.4l2.4 .5l1-.4l-2.5-.6z"/><path class="k5" d="M134 379.1l1.7 1.3l1.6-2.3l-1.8-1.3z"/><path class="k4" d="M62.8 380.2l2.6 .5l1.1-1.3l-2.6-.4z"/><path class="k6" d="M95.9 378.4l2.7 .8l1.5-2.1l-2.7-.9z"/><path class="k3" d="M143.2 382.4l1.2 .7l1.5-2.4l-1.2-.7z"/><path class="k4" d="M49.5 380.3l2.3 .3l.8-.3l-2.3-.4z"/><path class="k4" d="M52.6 380.3l2.4 .4l.9-.3l-2.4-.5z"/><path class="k5" d="M91.7 380.4l2.8 .2l1.4-2.2l-2.7-.5z"/><path class="k3" d="M40.5 381.7l2 .1l.6-.5l-2-.1z"/><path class="k5" d="M80.8 377.6l2.7 2.3l1.4 1l-2.8-2.7z"/><path class="k7" d="M107 377l2.6 1l1.5-2.2l-2.6-1.1z"/><path class="k7" d="M126.4 377.3l2.1 1.3l1.6-2.2l-2.2-1.4z"/><path class="k5" d="M66.5 379.4l2.6 .2l1.1-1.7l-2.6-.2z"/><path class="k3" d="M83.5 379.9l2.8 3.2l1.3 .8l-2.7-3z"/><path class="k2" d="M144.4 383.1l1.1 .7l1.5-2.4l-1.1-.7z"/><path class="k4" d="M135.7 380.4l1.7 1.3l1.5-2.4l-1.6-1.2z"/><path class="k7" d="M113.7 376.9l2.5 1.1l1.6-2.2l-2.6-1.2z"/><path class="k3" d="M43.1 381.3l2.1 .1l.6-.5l-2.1-.1z"/><path class="k7" d="M120.2 377l2.4 1.2l1.5-2.2l-2.4-1.3z"/><path class="k2" d="M145.5 383.8l1.1 .6l1.5-2.4l-1.1-.6z"/><path class="k4" d="M137.4 381.7l1.5 1.1l1.5-2.3l-1.5-1.2z"/><path class="k8" d="M74.1 376.4l2.7 .4l1.3-.6l-2.7-1z"/><path class="k7" d="M102.8 378.1l2.7 1l1.5-2.1l-2.7-1.1z"/><path class="k7" d="M70.2 377.9l2.7 0l1.2-1.5l-2.7-.3z"/><path class="k6" d="M128.5 378.6l2 1.4l1.6-2.2l-2-1.4z"/><path class="k4" d="M45.8 380.9l2.2 .2l.7-.4l-2.2-.2z"/><path class="k1" d="M86.3 383.1l2.8 2.9l1.3-2.9l-2.8 .8z"/><path class="k2" d="M146.6 384.4l1 .4l1.5-2.3l-1-.5z"/><path class="k3" d="M138.9 382.8l1.4 1.1l1.5-2.4l-1.4-1z"/><path class="k4" d="M48.7 380.7l2.3 .2l.8-.3l-2.3-.3z"/><path class="k6" d="M98.6 379.2l2.7 .9l1.5-2l-2.7-1z"/><path class="k7" d="M109.6 378l2.6 1.1l1.5-2.2l-2.6-1.1z"/><path class="k4" d="M61.8 381l2.6 .6l1-.9l-2.6-.5z"/><path class="k4" d="M58.3 380.9l2.6 .7l.9-.6l-2.5-.5z"/><path class="k5" d="M130.5 380l1.9 1.4l1.6-2.3l-1.9-1.3z"/><path class="k4" d="M55 380.7l2.5 .6l.8-.4l-2.4-.5z"/><path class="k4" d="M51.8 380.6l2.4 .4l.8-.3l-2.4-.4z"/><path class="k7" d="M122.6 378.2l2.3 1.3l1.5-2.2l-2.3-1.3z"/><path class="k2" d="M140.3 383.9l1.3 .9l1.6-2.4l-1.4-.9z"/><path class="k4" d="M42.5 381.8l2.1 .1l.6-.5l-2.1-.1z"/><path class="k3" d="M90.4 383.1l2.7-.3l1.4-2.2l-2.8-.2z"/><path class="k7" d="M116.2 378l2.5 1.2l1.5-2.2l-2.4-1.2z"/><path class="k5" d="M65.4 380.7l2.6 .3l1.1-1.4l-2.6-.2z"/><path class="k5" d="M94.5 380.6l2.7 .5l1.4-1.9l-2.7-.8z"/><path class="k2" d="M141.6 384.8l1.3 .8l1.5-2.5l-1.2-.7z"/><path class="k4" d="M132.4 381.4l1.8 1.3l1.5-2.3l-1.7-1.3z"/><path class="k6" d="M105.5 379.1l2.6 1l1.5-2.1l-2.6-1z"/><path class="k4" d="M45.2 381.4l2.2 .1l.6-.4l-2.2-.2z"/><path class="k8" d="M76.8 376.8l2.7 .8l1.3 0l-2.7-1.4z"/><path class="k6" d="M69.1 379.6l2.7 0l1.1-1.7l-2.7 0z"/><path class="k6" d="M124.9 379.5l2.1 1.3l1.5-2.2l-2.1-1.3z"/><path class="k1" d="M142.9 385.6l1.1 .6l1.5-2.4l-1.1-.7z"/><path class="k3" d="M134.2 382.7l1.7 1.3l1.5-2.3l-1.7-1.3z"/><path class="k7" d="M112.2 379.1l2.5 1l1.5-2.1l-2.5-1.1z"/><path class="k5" d="M48 381.1l2.3 .2l.7-.4l-2.3-.2z"/><path class="k7" d="M118.7 379.2l2.4 1.1l1.5-2.1l-2.4-1.2z"/><path class="k8" d="M72.9 377.9l2.7 .1l1.2-1.2l-2.7-.4z"/><path class="k1" d="M144 386.2l1.1 .6l1.5-2.4l-1.1-.6z"/><path class="k6" d="M101.3 380.1l2.7 .9l1.5-1.9l-2.7-1z"/><path class="k3" d="M135.9 384l1.5 1.2l1.5-2.4l-1.5-1.1z"/><path class="k5" d="M51 380.9l2.4 .4l.8-.3l-2.4-.4z"/><path class="k2" d="M89.1 386l2.7-.9l1.3-2.3l-2.7 .3z"/><path class="k4" d="M60.9 381.6l2.6 .6l.9-.6l-2.6-.6z"/><path class="k5" d="M127 380.8l2 1.3l1.5-2.1l-2-1.4z"/><path class="k4" d="M57.5 381.3l2.5 .6l.9-.3l-2.6-.7z"/><path class="k5" d="M54.2 381l2.5 .5l.8-.2l-2.5-.6z"/><path class="k5" d="M64.4 381.6l2.7 .4l.9-1l-2.6-.3z"/><path class="k4" d="M44.6 381.9l2.2 .1l.6-.5l-2.2-.1z"/><path class="k1" d="M145.1 386.8l.9 .5l1.6-2.5l-1-.4z"/><path class="k2" d="M137.4 385.2l1.4 1l1.5-2.3l-1.4-1.1z"/><path class="k7" d="M79.5 377.6l2.8 1.8l1.2 .5l-2.7-2.3z"/><path class="k5" d="M97.2 381.1l2.7 .9l1.4-1.9l-2.7-.9z"/><path class="k6" d="M108.1 380.1l2.6 .9l1.5-1.9l-2.6-1.1z"/><path class="k1" d="M138.8 386.2l1.3 1l1.5-2.4l-1.3-.9z"/><path class="k4" d="M93.1 382.8l2.7 .3l1.4-2l-2.7-.5z"/><path class="k4" d="M129 382.1l1.9 1.4l1.5-2.1l-1.9-1.4z"/><path class="k6" d="M68 381l2.7 .1l1.1-1.5l-2.7 0z"/><path class="k6" d="M121.1 380.3l2.2 1.2l1.6-2l-2.3-1.3z"/><path class="k5" d="M82.3 379.4l2.7 2.9l1.3 .8l-2.8-3.2z"/><path class="k2" d="M85 382.3l2.8 3.5l1.3 .2l-2.8-2.9z"/><path class="k6" d="M114.7 380.1l2.5 1.1l1.5-2l-2.5-1.2z"/><path class="k5" d="M47.4 381.5l2.3 .2l.6-.4l-2.3-.2z"/><path class="k1" d="M140.1 387.2l1.3 .7l1.5-2.3l-1.3-.8z"/><path class="k3" d="M130.9 383.5l1.8 1.4l1.5-2.2l-1.8-1.3z"/><path class="k6" d="M104 381l2.7 1l1.4-1.9l-2.6-1z"/><path class="k5" d="M50.3 381.3l2.4 .3l.7-.3l-2.4-.4z"/><path class="k7" d="M71.8 379.6l2.7-.2l1.1-1.4l-2.7-.1z"/><path class="k5" d="M123.3 381.5l2.2 1.3l1.5-2l-2.1-1.3z"/><path class="k1" d="M141.4 387.9l1.1 0l1.5-1.7l-1.1-.6z"/><path class="k3" d="M132.7 384.9l1.7 1.3l1.5-2.2l-1.7-1.3z"/><path class="k8" d="M75.6 378l2.7 .3l1.2-.7l-2.7-.8z"/><path class="k5" d="M53.4 381.3l2.5 .5l.8-.3l-2.5-.5z"/><path class="k5" d="M60 381.9l2.6 .8l.9-.5l-2.6-.6z"/><path class="k5" d="M56.7 381.5l2.5 .7l.8-.3l-2.5-.6z"/><path class="k1" d="M87.8 385.8l2.7 1.7l1.3-2.4l-2.7 .9z"/><path class="k5" d="M63.5 382.2l2.6 .6l1-.8l-2.7-.4z"/><path class="k6" d="M110.7 381l2.6 1l1.4-1.9l-2.5-1z"/><path class="k5" d="M99.9 382l2.7 .8l1.4-1.8l-2.7-.9z"/><path class="k5" d="M46.8 382l2.3 .2l.6-.5l-2.3-.2z"/><path class="k6" d="M117.2 381.2l2.4 1.1l1.5-2l-2.4-1.1z"/><path class="k2" d="M134.4 386.2l1.5 1.2l1.5-2.2l-1.5-1.2z"/><path class="k5" d="M67.1 382l2.6 .3l1-1.2l-2.7-.1z"/><path class="k1" d="M142.5 387.9l1.1 .1l1.5-1.2l-1.1-.6z"/><path class="k5" d="M125.5 382.8l2 1.4l1.5-2.1l-2-1.3z"/><path class="k1" d="M135.9 387.4l1.4 1.2l1.5-2.4l-1.4-1z"/><path class="k3" d="M91.8 385.1l2.7-.2l1.3-1.8l-2.7-.3z"/><path class="k5" d="M95.8 383.1l2.7 .6l1.4-1.7l-2.7-.9z"/><path class="k5" d="M49.7 381.7l2.4 .3l.6-.4l-2.4-.3z"/><path class="k6" d="M106.7 382l2.6 .8l1.4-1.8l-2.6-.9z"/><path class="k1" d="M143.6 388l1 .2l1.4-.9l-.9-.5z"/><path class="k7" d="M70.7 381.1l2.7-.1l1.1-1.6l-2.7 .2z"/><path class="k1" d="M137.3 388.6l1.3 0l1.5-1.4l-1.3-1z"/><path class="k4" d="M127.5 384.2l1.9 1.4l1.5-2.1l-1.9-1.4z"/><path class="k5" d="M119.6 382.3l2.3 1.1l1.4-1.9l-2.2-1.2z"/><path class="k6" d="M52.7 381.6l2.5 .5l.7-.3l-2.5-.5z"/><path class="k6" d="M113.3 382l2.4 1l1.5-1.8l-2.5-1.1z"/><path class="k8" d="M78.3 378.3l2.8 1.1l1.2 0l-2.8-1.8z"/><path class="k5" d="M55.9 381.8l2.6 .7l.7-.3l-2.5-.7z"/><path class="k5" d="M59.2 382.2l2.6 .8l.8-.3l-2.6-.8z"/><path class="k5" d="M62.6 382.7l2.7 .7l.8-.6l-2.6-.6z"/><path class="k5" d="M102.6 382.8l2.7 .9l1.4-1.7l-2.7-1z"/><path class="k3" d="M129.4 385.6l1.8 1.4l1.5-2.1l-1.8-1.4z"/><path class="k8" d="M74.5 379.4l2.7 0l1.1-1.1l-2.7-.3z"/><path class="k5" d="M66.1 382.8l2.7 .5l.9-1l-2.6-.3z"/><path class="k1" d="M138.6 388.6l1.3-.1l1.5-.6l-1.3-.7z"/><path class="k5" d="M49.1 382.2l2.4 .3l.6-.5l-2.4-.3z"/><path class="k2" d="M131.2 387l1.7 1.4l1.5-2.2l-1.7-1.3z"/><path class="k5" d="M121.9 383.4l2.1 1.3l1.5-1.9l-2.2-1.3z"/><path class="k7" d="M81.1 379.4l2.7 2.4l1.2 .5l-2.7-2.9z"/><path class="k2" d="M90.5 387.5l2.8-.6l1.2-2l-2.7 .2z"/><path class="k5" d="M98.5 383.7l2.7 .8l1.4-1.7l-2.7-.8z"/><path class="k4" d="M83.8 381.8l2.8 3.4l1.2 .6l-2.8-3.5z"/><path class="k5" d="M109.3 382.8l2.5 .9l1.5-1.7l-2.6-1z"/><path class="k2" d="M86.6 385.2l2.8 3.6l1.1-1.3l-2.7-1.7z"/><path class="k1" d="M132.9 388.4l1.5 1.2l1.5-2.2l-1.5-1.2z"/><path class="k6" d="M69.7 382.3l2.7 .1l1-1.4l-2.7 .1z"/><path class="k5" d="M115.7 383l2.4 1l1.5-1.7l-2.4-1.1z"/><path class="k6" d="M52.1 382l2.5 .5l.6-.4l-2.5-.5z"/><path class="k4" d="M94.5 384.9l2.7 .5l1.3-1.7l-2.7-.6z"/><path class="k1" d="M139.9 388.5l1.1 0l1.5-.6l-1.1 0z"/><path class="k4" d="M124 384.7l2 1.4l1.5-1.9l-2-1.4z"/><path class="k6" d="M55.2 382.1l2.6 .7l.7-.3l-2.6-.7z"/><path class="k0" d="M134.4 389.6l1.4-.1l1.5-.9l-1.4-1.2z"/><path class="k5" d="M58.5 382.5l2.6 .9l.7-.4l-2.6-.8z"/><path class="k5" d="M105.3 383.7l2.6 .7l1.4-1.6l-2.6-.8z"/><path class="k5" d="M61.8 383l2.7 .9l.8-.5l-2.7-.7z"/><path class="k5" d="M65.3 383.4l2.7 .7l.8-.8l-2.7-.5z"/><path class="k8" d="M73.4 381l2.7-.3l1.1-1.3l-2.7 0z"/><path class="k3" d="M126 386.1l1.9 1.4l1.5-1.9l-1.9-1.4z"/><path class="k1" d="M141 388.5l1.1 .1l1.5-.6l-1.1-.1z"/><path class="k5" d="M118.1 384l2.3 1.1l1.5-1.7l-2.3-1.1z"/><path class="k6" d="M51.5 382.5l2.5 .5l.6-.5l-2.5-.5z"/><path class="k5" d="M111.8 383.7l2.5 .8l1.4-1.5l-2.4-1z"/><path class="k9" d="M77.2 379.4l2.7 .5l1.2-.5l-2.8-1.1z"/><path class="k1" d="M89.4 388.8l2.7 0l1.2-1.9l-2.8 .6z"/><path class="k5" d="M101.2 384.5l2.7 .7l1.4-1.5l-2.7-.9z"/><path class="k6" d="M68.8 383.3l2.7 .3l.9-1.2l-2.7-.1z"/><path class="k2" d="M127.9 387.5l1.8 1.5l1.5-2l-1.8-1.4z"/><path class="k1" d="M135.8 389.5l1.4-.2l1.4-.7l-1.3 0z"/><path class="k6" d="M54.6 382.5l2.5 .7l.7-.4l-2.6-.7z"/><path class="k1" d="M142.1 388.6l1 .2l1.5-.6l-1-.2z"/><path class="k4" d="M97.2 385.4l2.7 .6l1.3-1.5l-2.7-.8z"/><path class="k1" d="M129.7 389l1.7 1.4l1.5-2l-1.7-1.4z"/><path class="k3" d="M93.3 386.9l2.7 .1l1.2-1.6l-2.7-.5z"/><path class="k6" d="M57.8 382.8l2.6 .9l.7-.3l-2.6-.9z"/><path class="k4" d="M120.4 385.1l2.1 1.3l1.5-1.7l-2.1-1.3z"/><path class="k5" d="M61.1 383.4l2.6 1l.8-.5l-2.7-.9z"/><path class="k5" d="M107.9 384.4l2.5 .7l1.4-1.4l-2.5-.9z"/><path class="k5" d="M64.5 383.9l2.7 .9l.8-.7l-2.7-.7z"/><path class="k7" d="M72.4 382.4l2.8-.3l.9-1.4l-2.7 .3z"/><path class="k0" d="M131.4 390.4l1.5 .2l1.5-1l-1.5-1.2z"/><path class="k8" d="M79.9 379.9l2.8 1.8l1.1 .1l-2.7-2.4z"/><path class="k5" d="M114.3 384.5l2.4 1l1.4-1.5l-2.4-1z"/><path class="k1" d="M137.2 389.3l1.2-.1l1.5-.7l-1.3 .1z"/><path class="k3" d="M85.5 384.8l2.7 3.7l1.2 .3l-2.8-3.6z"/><path class="k5" d="M68 384.1l2.7 .5l.8-1l-2.7-.3z"/><path class="k6" d="M82.7 381.7l2.8 3.1l1.1 .4l-2.8-3.4z"/><path class="k4" d="M122.5 386.4l2.1 1.4l1.4-1.7l-2-1.4z"/><path class="k6" d="M54 383l2.5 .7l.6-.5l-2.5-.7z"/><path class="k5" d="M103.9 385.2l2.6 .6l1.4-1.4l-2.6-.7z"/><path class="k9" d="M76.1 380.7l2.8 .1l1-.9l-2.7-.5z"/><path class="k1" d="M88.2 388.5l2.8 2.3l1.1-2l-2.7 0z"/><path class="k6" d="M57.1 383.2l2.7 1l.6-.5l-2.6-.9z"/><path class="k3" d="M124.6 387.8l1.9 1.4l1.4-1.7l-1.9-1.4z"/><path class="k1" d="M132.9 390.6l1.5-.3l1.4-.8l-1.4 .1z"/><path class="k4" d="M99.9 386l2.7 .6l1.3-1.4l-2.7-.7z"/><path class="k6" d="M60.4 383.7l2.7 1.1l.6-.4l-2.6-1z"/><path class="k2" d="M138.4 389.2l1.2 0l1.4-.7l-1.1 0z"/><path class="k7" d="M71.5 383.6l2.7-.1l1-1.4l-2.8 .3z"/><path class="k3" d="M92.1 388.8l2.7-.2l1.2-1.6l-2.7-.1z"/><path class="k5" d="M116.7 385.5l2.3 1.1l1.4-1.5l-2.3-1.1z"/><path class="k5" d="M110.4 385.1l2.5 .7l1.4-1.3l-2.5-.8z"/><path class="k5" d="M63.7 384.4l2.7 1l.8-.6l-2.7-.9z"/><path class="k4" d="M96 387l2.7 .5l1.2-1.5l-2.7-.6z"/><path class="k2" d="M126.5 389.2l1.8 1.5l1.4-1.7l-1.8-1.5z"/><path class="k5" d="M67.2 384.8l2.7 .7l.8-.9l-2.7-.5z"/><path class="k1" d="M128.3 390.7l1.6 1.3l1.5-1.6l-1.7-1.4z"/><path class="k2" d="M139.6 389.2l1 .1l1.5-.7l-1.1-.1z"/><path class="k6" d="M56.5 383.7l2.7 1l.6-.5l-2.7-1z"/><path class="k4" d="M119 386.6l2.1 1.2l1.4-1.4l-2.1-1.3z"/><path class="k5" d="M106.5 385.8l2.6 .5l1.3-1.2l-2.5-.7z"/><path class="k8" d="M75.2 382.1l2.7-.1l1-1.2l-2.8-.1z"/><path class="k1" d="M134.4 390.3l1.3-.1l1.5-.9l-1.4 .2z"/><path class="k9" d="M78.9 380.8l2.7 1.2l1.1-.3l-2.8-1.8z"/><path class="k6" d="M59.8 384.2l2.6 1.1l.7-.5l-2.7-1.1z"/><path class="k6" d="M70.7 384.6l2.7 .2l.8-1.3l-2.7 .1z"/><path class="k5" d="M63.1 384.8l2.7 1.2l.6-.6l-2.7-1z"/><path class="k5" d="M112.9 385.8l2.4 .9l1.4-1.2l-2.4-1z"/><path class="k2" d="M140.6 389.3l1 .2l1.5-.7l-1-.2z"/><path class="k1" d="M129.9 392l1.6-.3l1.4-1.1l-1.5-.2z"/><path class="k2" d="M91 390.8l2.7-.7l1.1-1.5l-2.7 .2z"/><path class="k5" d="M102.6 386.6l2.6 .4l1.3-1.2l-2.6-.6z"/><path class="k5" d="M66.4 385.4l2.8 .9l.7-.8l-2.7-.7z"/><path class="k2" d="M87.2 388.2l2.7 3.6l1.1-1l-2.8-2.3z"/><path class="k3" d="M121.1 387.8l2.1 1.4l1.4-1.4l-2.1-1.4z"/><path class="k4" d="M84.4 384.7l2.8 3.5l1 .3l-2.7-3.7z"/><path class="k7" d="M81.6 382l2.8 2.7l1.1 .1l-2.8-3.1z"/><path class="k4" d="M98.7 387.5l2.6 .3l1.3-1.2l-2.7-.6z"/><path class="k3" d="M94.8 388.6l2.7 .2l1.2-1.3l-2.7-.5z"/><path class="k2" d="M135.7 390.2l1.3-.1l1.4-.9l-1.2 .1z"/><path class="k6" d="M59.2 384.7l2.6 1.1l.6-.5l-2.6-1.1z"/><path class="k2" d="M123.2 389.2l1.9 1.5l1.4-1.5l-1.9-1.4z"/><path class="k8" d="M74.2 383.5l2.8-.2l.9-1.3l-2.7 .1z"/><path class="k6" d="M69.9 385.5l2.7 .4l.8-1.1l-2.7-.2z"/><path class="k6" d="M62.4 385.3l2.7 1.2l.7-.5l-2.7-1.2z"/><path class="k5" d="M109.1 386.3l2.4 .5l1.4-1l-2.5-.7z"/><path class="k5" d="M115.3 386.7l2.3 1l1.4-1.1l-2.3-1.1z"/><path class="k1" d="M125.1 390.7l1.7 1.6l1.5-1.6l-1.8-1.5z"/><path class="k1" d="M131.5 391.7l1.4-.3l1.5-1.1l-1.5 .3z"/><path class="k5" d="M65.8 386l2.7 1l.7-.7l-2.8-.9z"/><path class="k9" d="M77.9 382l2.8 .7l.9-.7l-2.7-1.2z"/><path class="k1" d="M89.9 391.8l2.8-.2l1-1.5l-2.7 .7z"/><path class="k2" d="M137 390.1l1.1 0l1.5-.9l-1.2 0z"/><path class="k1" d="M126.8 392.3l1.7 1l1.4-1.3l-1.6-1.3z"/><path class="k5" d="M105.2 387l2.6 .2l1.3-.9l-2.6-.5z"/><path class="k6" d="M69.2 386.3l2.7 .6l.7-1l-2.7-.4z"/><path class="k7" d="M73.4 384.8l2.7-.2l.9-1.3l-2.8 .2z"/><path class="k6" d="M61.8 385.8l2.7 1.3l.6-.6l-2.7-1.2z"/><path class="k4" d="M117.6 387.7l2.1 1.2l1.4-1.1l-2.1-1.2z"/><path class="k3" d="M93.7 390.1l2.7-.1l1.1-1.2l-2.7-.2z"/><path class="k5" d="M101.3 387.8l2.7 .2l1.2-1l-2.6-.4z"/><path class="k5" d="M65.1 386.5l2.7 1.2l.7-.7l-2.7-1z"/><path class="k3" d="M138.1 390.1l1.1 .1l1.4-.9l-1-.1z"/><path class="k3" d="M86.2 388.1l2.8 3.7l.9 0l-2.7-3.6z"/><path class="k8" d="M80.7 382.7l2.7 2.1l1-.1l-2.8-2.7z"/><path class="k5" d="M111.5 386.8l2.4 .7l1.4-.8l-2.4-.9z"/><path class="k4" d="M97.5 388.8l2.7 .1l1.1-1.1l-2.6-.3z"/><path class="k2" d="M132.9 391.4l1.4-.2l1.4-1l-1.3 .1z"/><path class="k1" d="M128.5 393.3l1.6-.4l1.4-1.2l-1.6 .3z"/><path class="k6" d="M83.4 384.8l2.8 3.3l1 .1l-2.8-3.5z"/><path class="k3" d="M119.7 388.9l2.1 1.5l1.4-1.2l-2.1-1.4z"/><path class="k9" d="M77 383.3l2.7 .4l1-1l-2.8-.7z"/><path class="k5" d="M68.5 387l2.7 .9l.7-1l-2.7-.6z"/><path class="k7" d="M72.6 385.9l2.8 0l.7-1.3l-2.7 .2z"/><path class="k3" d="M139.2 390.2l1 .2l1.4-.9l-1-.2z"/><path class="k1" d="M89 391.8l2.7 1.3l1-1.5l-2.8 .2z"/><path class="k3" d="M121.8 390.4l1.9 1.5l1.4-1.2l-1.9-1.5z"/><path class="k5" d="M64.5 387.1l2.8 1.3l.5-.7l-2.7-1.2z"/><path class="k6" d="M107.8 387.2l2.4 .3l1.3-.7l-2.4-.5z"/><path class="k3" d="M134.3 391.2l1.2-.1l1.5-1l-1.3 .1z"/><path class="k5" d="M113.9 387.5l2.3 1l1.4-.8l-2.3-1z"/><path class="k1" d="M123.7 391.9l1.8 1.6l1.3-1.2l-1.7-1.6z"/><path class="k5" d="M67.8 387.7l2.8 1l.6-.8l-2.7-.9z"/><path class="k6" d="M71.9 386.9l2.7 .3l.8-1.3l-2.8 0z"/><path class="k3" d="M92.7 391.6l2.7-.4l1-1.2l-2.7 .1z"/><path class="k2" d="M130.1 392.9l1.4-.4l1.4-1.1l-1.4 .3z"/><path class="k8" d="M76.1 384.6l2.8 .2l.8-1.1l-2.7-.4z"/><path class="k1" d="M125.5 393.5l1.6 1.2l1.4-1.4l-1.7-1z"/><path class="k8" d="M79.7 383.7l2.8 1.6l.9-.5l-2.7-2.1z"/><path class="k5" d="M104 388l2.5-.1l1.3-.7l-2.6-.2z"/><path class="k4" d="M96.4 390l2.7-.1l1.1-1l-2.7-.1z"/><path class="k5" d="M100.2 388.9l2.6-.1l1.2-.8l-2.7-.2z"/><path class="k3" d="M135.5 391.1l1.2 0l1.4-1l-1.1 0z"/><path class="k4" d="M85.3 388.2l2.8 3.6l.9 0l-2.8-3.7z"/><path class="k5" d="M116.2 388.5l2.2 1.2l1.3-.8l-2.1-1.2z"/><path class="k5" d="M67.3 388.4l2.7 1.1l.6-.8l-2.8-1z"/><path class="k6" d="M71.2 387.9l2.8 .4l.6-1.1l-2.7-.3z"/><path class="k6" d="M82.5 385.3l2.8 2.9l.9-.1l-2.8-3.3z"/><path class="k1" d="M88.1 391.8l2.7 2.7l.9-1.4l-2.7-1.3z"/><path class="k8" d="M75.4 385.9l2.7 .2l.8-1.3l-2.8-.2z"/><path class="k6" d="M110.2 387.5l2.4 .5l1.3-.5l-2.4-.7z"/><path class="k1" d="M127.1 394.7l1.6-.5l1.4-1.3l-1.6 .4z"/><path class="k2" d="M131.5 392.5l1.4-.2l1.4-1.1l-1.4 .2z"/><path class="k2" d="M91.7 393.1l2.7-.8l1-1.1l-2.7 .4z"/><path class="k3" d="M136.7 391.1l1.1 .1l1.4-1l-1.1-.1z"/><path class="k4" d="M118.4 389.7l2 1.5l1.4-.8l-2.1-1.5z"/><path class="k5" d="M70.6 388.7l2.7 .6l.7-1l-2.8-.4z"/><path class="k8" d="M78.9 384.8l2.8 1.2l.8-.7l-2.8-1.6z"/><path class="k3" d="M120.4 391.2l2 1.6l1.3-.9l-1.9-1.5z"/><path class="k7" d="M74.6 387.2l2.8 .1l.7-1.2l-2.7-.2z"/><path class="k4" d="M137.8 391.2l1 .2l1.4-1l-1-.2z"/><path class="k6" d="M106.5 387.9l2.5 0l1.2-.4l-2.4-.3z"/><path class="k4" d="M95.4 391.2l2.6-.4l1.1-.9l-2.7 .1z"/><path class="k2" d="M122.4 392.8l1.7 1.7l1.4-1l-1.8-1.6z"/><path class="k5" d="M70 389.5l2.8 .8l.5-1l-2.7-.6z"/><path class="k3" d="M132.9 392.3l1.2-.1l1.4-1.1l-1.2 .1z"/><path class="k2" d="M87.2 391.9l2.8 3.7l.8-1.1l-2.7-2.7z"/><path class="k6" d="M112.6 388l2.3 .8l1.3-.3l-2.3-1z"/><path class="k7" d="M81.7 386l2.7 2.4l.9-.2l-2.8-2.9z"/><path class="k4" d="M84.4 388.4l2.8 3.5l.9-.1l-2.8-3.6z"/><path class="k5" d="M99.1 389.9l2.6-.4l1.1-.7l-2.6 .1z"/><path class="k6" d="M102.8 388.8l2.6-.4l1.1-.5l-2.5 .1z"/><path class="k2" d="M128.7 394.2l1.5-.3l1.3-1.4l-1.4 .4z"/><path class="k1" d="M124.1 394.5l1.7 1.6l1.3-1.4l-1.6-1.2z"/><path class="k2" d="M90.8 394.5l2.7-1.2l.9-1l-2.7 .8z"/><path class="k6" d="M74 388.3l2.7 .2l.7-1.2l-2.8-.1z"/><path class="k8" d="M78.1 386.1l2.8 .8l.8-.9l-2.8-1.2z"/><path class="k4" d="M134.1 392.2l1.2 0l1.4-1.1l-1.2 0z"/><path class="k6" d="M73.3 389.3l2.8 .4l.6-1.2l-2.7-.2z"/><path class="k6" d="M114.9 388.8l2.2 1.3l1.3-.4l-2.2-1.2z"/><path class="k1" d="M125.8 396.1l1.6-.3l1.3-1.6l-1.6 .5z"/><path class="k4" d="M94.4 392.3l2.7-.7l.9-.8l-2.6 .4z"/><path class="k8" d="M77.4 387.3l2.8 .6l.7-1l-2.8-.8z"/><path class="k3" d="M130.2 393.9l1.3-.2l1.4-1.4l-1.4 .2z"/><path class="k7" d="M109 387.9l2.4 .2l1.2-.1l-2.4-.5z"/><path class="k1" d="M90 395.6l2.7-1.2l.8-1.1l-2.7 1.2z"/><path class="k7" d="M80.9 386.9l2.8 2l.7-.5l-2.7-2.4z"/><path class="k2" d="M86.4 392.1l2.8 3.7l.8-.2l-2.8-3.7z"/><path class="k5" d="M72.8 390.3l2.7 .4l.6-1l-2.8-.4z"/><path class="k4" d="M135.3 392.2l1.1 .1l1.4-1.1l-1.1-.1z"/><path class="k5" d="M117.1 390.1l2.1 1.5l1.2-.4l-2-1.5z"/><path class="k5" d="M83.7 388.9l2.7 3.2l.8-.2l-2.8-3.5z"/><path class="k5" d="M98 390.8l2.7-.7l1-.6l-2.6 .4z"/><path class="k4" d="M119.2 391.6l1.9 1.7l1.3-.5l-2-1.6z"/><path class="k7" d="M76.7 388.5l2.8 .4l.7-1l-2.8-.6z"/><path class="k7" d="M105.4 388.4l2.4-.4l1.2-.1l-2.5 0z"/><path class="k4" d="M136.4 392.3l1 .2l1.4-1.1l-1-.2z"/><path class="k7" d="M101.7 389.5l2.6-.8l1.1-.3l-2.6 .4z"/><path class="k2" d="M127.4 395.8l1.4-.4l1.4-1.5l-1.5 .3z"/><path class="k2" d="M121.1 393.3l1.8 1.8l1.2-.6l-1.7-1.7z"/><path class="k3" d="M131.5 393.7l1.3-.2l1.3-1.3l-1.2 .1z"/><path class="k1" d="M122.9 395.1l1.6 1.8l1.3-.8l-1.7-1.6z"/><path class="k7" d="M80.2 387.9l2.7 1.6l.8-.6l-2.8-2z"/><path class="k1" d="M89.2 395.8l2.7-.4l.8-1l-2.7 1.2z"/><path class="k7" d="M111.4 388.1l2.3 .7l1.2 0l-2.3-.8z"/><path class="k4" d="M93.5 393.3l2.7-.9l.9-.8l-2.7 .7z"/><path class="k6" d="M76.1 389.7l2.8 .3l.6-1.1l-2.8-.4z"/><path class="k3" d="M85.7 392.4l2.8 3.7l.7-.3l-2.8-3.7z"/><path class="k5" d="M82.9 389.5l2.8 2.9l.7-.3l-2.7-3.2z"/><path class="k1" d="M124.5 396.9l1.6 .6l1.3-1.7l-1.6 .3z"/><path class="k4" d="M132.8 393.5l1.1 0l1.4-1.3l-1.2 0z"/><path class="k6" d="M75.5 390.7l2.8 .4l.6-1.1l-2.8-.3z"/><path class="k7" d="M79.5 388.9l2.8 1.4l.6-.8l-2.7-1.6z"/><path class="k2" d="M128.8 395.4l1.4-.3l1.3-1.4l-1.3 .2z"/><path class="k7" d="M113.7 388.8l2.2 1.3l1.2 0l-2.2-1.3z"/><path class="k6" d="M97.1 391.6l2.6-1l1-.5l-2.7 .7z"/><path class="k2" d="M88.5 396.1l2.7 .2l.7-.9l-2.7 .4z"/><path class="k8" d="M107.8 388l2.5 0l1.1 .1l-2.4-.2z"/><path class="k4" d="M133.9 393.5l1.1 .1l1.4-1.3l-1.1-.1z"/><path class="k4" d="M92.7 394.4l2.6-1.2l.9-.8l-2.7 .9z"/><path class="k6" d="M82.3 390.3l2.7 2.5l.7-.4l-2.8-2.9z"/><path class="k3" d="M85 392.8l2.8 3.6l.7-.3l-2.8-3.7z"/><path class="k1" d="M126.1 397.5l1.4-.5l1.3-1.6l-1.4 .4z"/><path class="k6" d="M115.9 390.1l2 1.6l1.3-.1l-2.1-1.5z"/><path class="k7" d="M78.9 390l2.7 1.1l.7-.8l-2.8-1.4z"/><path class="k7" d="M100.7 390.1l2.5-1.1l1.1-.3l-2.6 .8z"/><path class="k8" d="M104.3 388.7l2.4-.7l1.1 0l-2.4 .4z"/><path class="k3" d="M130.2 395.1l1.2-.1l1.4-1.5l-1.3 .2z"/><path class="k5" d="M117.9 391.7l2 1.9l1.2-.3l-1.9-1.7z"/><path class="k4" d="M135 393.6l1 .2l1.4-1.3l-1-.2z"/><path class="k3" d="M119.9 393.6l1.8 1.9l1.2-.4l-1.8-1.8z"/><path class="k2" d="M87.8 396.4l2.7 .8l.7-.9l-2.7-.2z"/><path class="k2" d="M121.7 395.5l1.6 1.9l1.2-.5l-1.6-1.8z"/><path class="k6" d="M78.3 391.1l2.8 .8l.5-.8l-2.7-1.1z"/><path class="k1" d="M123.3 397.4l1.6 1.7l1.2-1.6l-1.6-.6z"/><path class="k6" d="M81.6 391.1l2.8 2.2l.6-.5l-2.7-2.5z"/><path class="k4" d="M91.9 395.4l2.7-1.5l.7-.7l-2.6 1.2z"/><path class="k6" d="M96.2 392.4l2.6-1.3l.9-.5l-2.6 1z"/><path class="k8" d="M110.3 388l2.3 .6l1.1 .2l-2.3-.7z"/><path class="k3" d="M84.4 393.3l2.8 3.4l.6-.3l-2.8-3.6z"/><path class="k4" d="M131.4 395l1.2 0l1.3-1.5l-1.1 0z"/><path class="k2" d="M127.5 397l1.4-.3l1.3-1.6l-1.4 .3z"/><path class="k2" d="M87.2 396.7l2.7 1.3l.6-.8l-2.7-.8z"/><path class="k1" d="M124.9 399.1l1.4-.4l1.2-1.7l-1.4 .5z"/><path class="k5" d="M81.1 391.9l2.7 2l.6-.6l-2.8-2.2z"/><path class="k8" d="M99.7 390.6l2.6-1.4l.9-.2l-2.5 1.1z"/><path class="k4" d="M132.6 395l1.1 0l1.3-1.4l-1.1-.1z"/><path class="k3" d="M91.2 396.3l2.6-1.7l.8-.7l-2.7 1.5z"/><path class="k3" d="M83.8 393.9l2.8 3.1l.6-.3l-2.8-3.4z"/><path class="k8" d="M112.6 388.6l2.1 1.2l1.2 .3l-2.2-1.3z"/><path class="k9" d="M106.7 388l2.5-.3l1.1 .3l-2.5 0z"/><path class="k3" d="M128.9 396.7l1.2-.2l1.3-1.5l-1.2 .1z"/><path class="k9" d="M103.2 389l2.5-1.1l1 .1l-2.4 .7z"/><path class="k6" d="M95.3 393.2l2.7-1.6l.8-.5l-2.6 1.3z"/><path class="k2" d="M86.6 397l2.7 1.8l.6-.8l-2.7-1.3z"/><path class="k4" d="M133.7 395l1 .2l1.3-1.4l-1-.2z"/><path class="k7" d="M114.7 389.8l2.1 1.7l1.1 .2l-2-1.6z"/><path class="k3" d="M90.5 397.2l2.7-1.9l.6-.7l-2.6 1.7z"/><path class="k6" d="M116.8 391.5l1.9 2.1l1.2 0l-2-1.9z"/><path class="k2" d="M126.3 398.7l1.4-.4l1.2-1.6l-1.4 .3z"/><path class="k1" d="M122.2 397.8l1.5 1.8l1.2-.5l-1.6-1.7z"/><path class="k3" d="M120.5 395.7l1.7 2.1l1.1-.4l-1.6-1.9z"/><path class="k4" d="M118.7 393.6l1.8 2.1l1.2-.2l-1.8-1.9z"/><path class="k3" d="M130.1 396.5l1.2 0l1.3-1.5l-1.2 0z"/><path class="k1" d="M123.7 399.6l1.5 .8l1.1-1.7l-1.4 .4z"/><path class="k8" d="M98.8 391.1l2.6-1.7l.9-.2l-2.6 1.4z"/><path class="k10" d="M109.2 387.7l2.3 .4l1.1 .5l-2.3-.6z"/><path class="k6" d="M94.6 393.9l2.6-1.7l.8-.6l-2.7 1.6z"/><path class="k3" d="M89.9 398l2.7-2l.6-.7l-2.7 1.9z"/><path class="k4" d="M131.3 396.5l1.1 0l1.3-1.5l-1.1 0z"/><path class="k3" d="M127.7 398.3l1.2-.2l1.2-1.6l-1.2 .2z"/><path class="k10" d="M102.3 389.2l2.5-1.5l.9 .2l-2.5 1.1z"/><path class="k11" d="M105.7 387.9l2.4-.6l1.1 .4l-2.5 .3z"/><path class="k1" d="M125.2 400.4l1.3-.5l1.2-1.6l-1.4 .4z"/><path class="k4" d="M132.4 396.5l1 .2l1.3-1.5l-1-.2z"/><path class="k3" d="M89.3 398.8l2.7-2.1l.6-.7l-2.7 2z"/><path class="k10" d="M111.5 388.1l2.2 1.2l1 .5l-2.1-1.2z"/><path class="k6" d="M93.8 394.6l2.7-1.9l.7-.5l-2.6 1.7z"/><path class="k3" d="M128.9 398.1l1.2-.1l1.2-1.5l-1.2 0z"/><path class="k2" d="M121.1 398l1.6 2l1-.4l-1.5-1.8z"/><path class="k9" d="M98 391.6l2.5-1.9l.9-.3l-2.6 1.7z"/><path class="k9" d="M113.7 389.3l2 1.9l1.1 .3l-2.1-1.7z"/><path class="k1" d="M122.7 400l1.4 1.8l1.1-1.4l-1.5-.8z"/><path class="k4" d="M119.4 395.8l1.7 2.2l1.1-.2l-1.7-2.1z"/><path class="k6" d="M117.6 393.4l1.8 2.4l1.1-.1l-1.8-2.1z"/><path class="k7" d="M115.7 391.2l1.9 2.2l1.1 .2l-1.9-2.1z"/><path class="k2" d="M126.5 399.9l1.3-.3l1.1-1.5l-1.2 .2z"/><path class="k4" d="M130.1 398l1.1 0l1.2-1.5l-1.1 0z"/><path class="k6" d="M93.2 395.3l2.6-2l.7-.6l-2.7 1.9z"/><path class="k1" d="M124.1 401.8l1.3-.4l1.1-1.5l-1.3 .5z"/><path class="k12" d="M108.1 387.3l2.4 .2l1 .6l-2.3-.4z"/><path class="k4" d="M131.2 398l1 .2l1.2-1.5l-1-.2z"/><path class="k11" d="M101.4 389.4l2.5-1.7l.9 0l-2.5 1.5z"/><path class="k3" d="M127.8 399.6l1.1-.1l1.2-1.5l-1.2 .1z"/><path class="k9" d="M97.2 392.2l2.6-2.2l.7-.3l-2.5 1.9z"/><path class="k12" d="M104.8 387.7l2.4-.8l.9 .4l-2.4 .6z"/><path class="k6" d="M92.6 396l2.6-2.1l.6-.6l-2.6 2z"/><path class="k1" d="M121.6 400.4l1.5 1.9l1-.5l-1.4-1.8z"/><path class="k2" d="M125.4 401.4l1.3-.4l1.1-1.4l-1.3 .3z"/><path class="k3" d="M120.1 398.2l1.5 2.2l1.1-.4l-1.6-2z"/><path class="k12" d="M110.5 387.5l2.1 1.3l1.1 .5l-2.2-1.2z"/><path class="k3" d="M128.9 399.5l1.1 0l1.2-1.5l-1.1 0z"/><path class="k5" d="M118.4 395.8l1.7 2.4l1-.2l-1.7-2.2z"/><path class="k1" d="M123.1 402.3l1.3 .4l1-1.3l-1.3 .4z"/><path class="k6" d="M92 396.7l2.6-2.2l.6-.6l-2.6 2.1z"/><path class="k7" d="M116.6 393.2l1.8 2.6l1 0l-1.8-2.4z"/><path class="k11" d="M112.6 388.8l2.1 2l1 .4l-2-1.9z"/><path class="k9" d="M114.7 390.8l1.9 2.4l1 .2l-1.9-2.2z"/><path class="k10" d="M96.5 392.7l2.5-2.3l.8-.4l-2.6 2.2z"/><path class="k3" d="M130 399.5l1 .1l1.2-1.4l-1-.2z"/><path class="k12" d="M100.5 389.7l2.5-2l.9 0l-2.5 1.7z"/><path class="k2" d="M126.7 401l1.2-.1l1-1.4l-1.1 .1z"/><path class="k1" d="M124.4 402.7l1.3-.4l1-1.3l-1.3 .4z"/><path class="k13" d="M107.2 386.9l2.3 .1l1 .5l-2.4-.2z"/><path class="k13" d="M103.9 387.7l2.4-1.1l.9 .3l-2.4 .8z"/><path class="k3" d="M127.9 400.9l1.1-.1l1-1.3l-1.1 0z"/><path class="k2" d="M120.7 400.9l1.4 2l1-.6l-1.5-1.9z"/><path class="k10" d="M95.8 393.3l2.6-2.4l.6-.5l-2.5 2.3z"/><path class="k1" d="M122.1 402.9l1.4 1l.9-1.2l-1.3-.4z"/><path class="k4" d="M119.2 398.5l1.5 2.4l.9-.5l-1.5-2.2z"/><path class="k6" d="M117.5 395.8l1.7 2.7l.9-.3l-1.7-2.4z"/><path class="k2" d="M125.7 402.3l1.2-.3l1-1.1l-1.2 .1z"/><path class="k3" d="M129 400.8l1 .1l1-1.3l-1-.1z"/><path class="k12" d="M99.8 390l2.5-2.1l.7-.2l-2.5 2z"/><path class="k13" d="M109.5 387l2.2 1.3l.9 .5l-2.1-1.3z"/><path class="k8" d="M115.7 393l1.8 2.8l.9 0l-1.8-2.6z"/><path class="k1" d="M123.5 403.9l1.3-.6l.9-1l-1.3 .4z"/><path class="k10" d="M95.2 393.9l2.6-2.4l.6-.6l-2.6 2.4z"/><path class="k10" d="M113.8 390.4l1.9 2.6l.9 .2l-1.9-2.4z"/><path class="k12" d="M111.7 388.3l2.1 2.1l.9 .4l-2.1-2z"/><path class="k3" d="M126.9 402l1 0l1.1-1.2l-1.1 .1z"/><path class="k2" d="M119.8 401.4l1.5 2.2l.8-.7l-1.4-2z"/><path class="k1" d="M121.3 403.6l1.3 1.1l.9-.8l-1.4-1z"/><path class="k14" d="M103 387.7l2.5-1.3l.8 .2l-2.4 1.1z"/><path class="k15" d="M106.3 386.6l2.3 0l.9 .4l-2.3-.1z"/><path class="k4" d="M118.3 398.8l1.5 2.6l.9-.5l-1.5-2.4z"/><path class="k10" d="M94.6 394.5l2.6-2.5l.6-.5l-2.6 2.4z"/><path class="k13" d="M99 390.4l2.6-2.3l.7-.2l-2.5 2.1z"/><path class="k2" d="M124.8 403.3l1.1-.4l1-.9l-1.2 .3z"/><path class="k3" d="M127.9 402l1.1 0l1-1.1l-1-.1z"/><path class="k1" d="M122.6 404.7l1.3-.8l.9-.6l-1.3 .6z"/><path class="k7" d="M116.6 395.9l1.7 2.9l.9-.3l-1.7-2.7z"/><path class="k9" d="M114.8 392.9l1.8 3l.9-.1l-1.8-2.8z"/><path class="k15" d="M108.6 386.6l2.2 1.3l.9 .4l-2.2-1.3z"/><path class="k3" d="M125.9 402.9l1.1-.1l.9-.8l-1 0z"/><path class="k1" d="M120.5 404.5l1.3 .7l.8-.5l-1.3-1.1z"/><path class="k2" d="M119 401.9l1.5 2.6l.8-.9l-1.5-2.2z"/><path class="k13" d="M98.4 390.9l2.5-2.4l.7-.4l-2.6 2.3z"/><path class="k12" d="M112.9 390.1l1.9 2.8l.9 .1l-1.9-2.6z"/><path class="k14" d="M110.8 387.9l2.1 2.2l.9 .3l-2.1-2.1z"/><path class="k15" d="M102.3 387.9l2.4-1.5l.8 0l-2.5 1.3z"/><path class="k5" d="M117.5 399.1l1.5 2.8l.8-.5l-1.5-2.6z"/><path class="k2" d="M123.9 403.9l1.2-.5l.8-.5l-1.1 .4z"/><path class="k3" d="M127 402.8l1 0l1-.8l-1.1 0z"/><path class="k16" d="M105.5 386.4l2.3-.1l.8 .3l-2.3 0z"/><path class="k1" d="M121.8 405.2l1.3-1.1l.8-.2l-1.3 .8z"/><path class="k7" d="M115.8 396.1l1.7 3l.8-.3l-1.7-2.9z"/><path class="k2" d="M118.3 402.6l1.4 2.8l.8-.9l-1.5-2.6z"/><path class="k1" d="M119.7 405.4l1.4 0l.7-.2l-1.3-.7z"/><path class="k13" d="M97.8 391.5l2.5-2.5l.6-.5l-2.5 2.4z"/><path class="k3" d="M125.1 403.4l1-.3l.9-.3l-1.1 .1z"/><path class="k10" d="M114 392.9l1.8 3.2l.8-.2l-1.8-3z"/><path class="k16" d="M101.6 388.1l2.4-1.5l.7-.2l-2.4 1.5z"/><path class="k5" d="M116.7 399.5l1.6 3.1l.7-.7l-1.5-2.8z"/><path class="k16" d="M107.8 386.3l2.2 1.3l.8 .3l-2.2-1.3z"/><path class="k13" d="M112.1 389.9l1.9 3l.8 0l-1.9-2.8z"/><path class="k3" d="M123.1 404.1l1.2-.7l.8 0l-1.2 .5z"/><path class="k13" d="M97.2 392l2.5-2.4l.6-.6l-2.5 2.5z"/><path class="k2" d="M117.6 403.3l1.4 3l.7-.9l-1.4-2.8z"/><path class="k3" d="M126.1 403.1l1.1 0l.8-.3l-1 0z"/><path class="k15" d="M110 387.6l2.1 2.3l.8 .2l-2.1-2.2z"/><path class="k2" d="M121.1 405.4l1.2-1.5l.8 .2l-1.3 1.1z"/><path class="k17" d="M104.7 386.4l2.3-.1l.8 0l-2.3 .1z"/><path class="k1" d="M119 406.3l1.4-.8l.7-.1l-1.4 0z"/><path class="k8" d="M115 396.3l1.7 3.2l.8-.4l-1.7-3z"/><path class="k5" d="M116 400l1.6 3.3l.7-.7l-1.6-3.1z"/><path class="k16" d="M100.9 388.5l2.4-1.6l.7-.3l-2.4 1.5z"/><path class="k4" d="M124.3 403.4l1.1-.5l.7 .2l-1 .3z"/><path class="k2" d="M116.9 403.9l1.4 3.4l.7-1l-1.4-3z"/><path class="k11" d="M113.2 393l1.8 3.3l.8-.2l-1.8-3.2z"/><path class="k2" d="M118.3 407.3l1.4-1.9l.7 .1l-1.4 .8z"/><path class="k17" d="M107 386.3l2.2 1.2l.8 .1l-2.2-1.3z"/><path class="k14" d="M111.3 389.9l1.9 3.1l.8-.1l-1.9-3z"/><path class="k8" d="M114.3 396.6l1.7 3.4l.7-.5l-1.7-3.2z"/><path class="k4" d="M122.3 403.9l1.2-1.2l.8 .7l-1.2 .7z"/><path class="k18" d="M104 386.6l2.3-.2l.7-.1l-2.3 .1z"/><path class="k16" d="M109.2 387.5l2.1 2.4l.8 0l-2.1-2.3z"/><path class="k3" d="M120.4 405.5l1.2-2.1l.7 .5l-1.2 1.5z"/><path class="k4" d="M125.4 402.9l1-.1l.8 .3l-1.1 0z"/><path class="k2" d="M116.3 404.5l1.4 3.5l.6-.7l-1.4-3.4z"/><path class="k5" d="M115.4 400.5l1.5 3.4l.7-.6l-1.6-3.3z"/><path class="k17" d="M100.3 389l2.4-1.7l.6-.4l-2.4 1.6z"/><path class="k11" d="M112.5 393.2l1.8 3.4l.7-.3l-1.8-3.3z"/><path class="k2" d="M117.7 408l1.4-2.4l.6-.2l-1.4 1.9z"/><path class="k2" d="M115.7 405l1.5 3.6l.5-.6l-1.4-3.5z"/><path class="k8" d="M113.7 397.1l1.7 3.4l.6-.5l-1.7-3.4z"/><path class="k17" d="M99.7 389.6l2.4-1.7l.6-.6l-2.4 1.7z"/><path class="k5" d="M114.8 401.1l1.5 3.4l.6-.6l-1.5-3.4z"/><path class="k5" d="M123.5 402.7l1.1-.7l.8 .9l-1.1 .5z"/><path class="k18" d="M106.3 386.4l2.2 1.2l.7-.1l-2.2-1.2z"/><path class="k18" d="M103.3 386.9l2.3-.3l.7-.2l-2.3 .2z"/><path class="k14" d="M110.6 390.1l1.9 3.1l.7-.2l-1.9-3.1z"/><path class="k17" d="M108.5 387.6l2.1 2.5l.7-.2l-2.1-2.4z"/><path class="k2" d="M117.2 408.6l1.4-2.6l.5-.4l-1.4 2.4z"/><path class="k4" d="M119.7 405.4l1.3-2.8l.6 .8l-1.2 2.1z"/><path class="k5" d="M121.6 403.4l1.2-2l.7 1.3l-1.2 1.2z"/><path class="k12" d="M111.9 393.6l1.8 3.5l.6-.5l-1.8-3.4z"/><path class="k5" d="M114.2 401.6l1.5 3.4l.6-.5l-1.5-3.4z"/><path class="k9" d="M113.1 397.5l1.7 3.6l.6-.6l-1.7-3.4z"/><path class="k6" d="M124.6 402l1-.2l.8 1l-1 .1z"/><path class="k19" d="M102.7 387.3l2.3-.3l.6-.4l-2.3 .3z"/><path class="k18" d="M105.6 386.6l2.3 1.3l.6-.3l-2.2-1.2z"/><path class="k15" d="M109.9 390.4l2 3.2l.6-.4l-1.9-3.1z"/><path class="k17" d="M107.9 387.9l2 2.5l.7-.3l-2.1-2.5z"/><path class="k12" d="M111.3 394l1.8 3.5l.6-.4l-1.8-3.5z"/><path class="k9" d="M112.5 398l1.7 3.6l.6-.5l-1.7-3.6z"/><path class="k5" d="M119.1 405.6l1.3-3.4l.6 .4l-1.3 2.8z"/><path class="k19" d="M102.1 387.9l2.4-.3l.5-.6l-2.3 .3z"/><path class="k7" d="M122.8 401.4l1.2-1.3l.6 1.9l-1.1 .7z"/><path class="k19" d="M105 387l2.2 1.3l.7-.4l-2.3-1.3z"/><path class="k15" d="M109.3 390.8l2 3.2l.6-.4l-2-3.2z"/><path class="k12" d="M110.7 394.5l1.8 3.5l.6-.5l-1.8-3.5z"/><path class="k7" d="M121 402.6l1.2-2.9l.6 1.7l-1.2 2z"/><path class="k17" d="M107.2 388.3l2.1 2.5l.6-.4l-2-2.5z"/><path class="k6" d="M118.6 406l1.3-3.6l.5-.2l-1.3 3.4z"/><path class="k8" d="M124 400.1l1-.5l.6 2.2l-1 .2z"/><path class="k19" d="M104.5 387.6l2.2 1.2l.5-.5l-2.2-1.3z"/><path class="k15" d="M108.7 391.3l2 3.2l.6-.5l-2-3.2z"/><path class="k18" d="M106.7 388.8l2 2.5l.6-.5l-2.1-2.5z"/><path class="k9" d="M120.4 402.2l1.2-4.2l.6 1.7l-1.2 2.9z"/><path class="k10" d="M122.2 399.7l1.1-2.6l.7 3l-1.2 1.3z"/><path class="k11" d="M119.9 402.4l1.2-4.7l.5 .3l-1.2 4.2z"/><path class="k12" d="M123.3 397.1l1.1-1.1l.6 3.6l-1 .5z"/><path class="k14" d="M121.6 398l1.2-4.6l.5 3.7l-1.1 2.6z"/><path class="k17" d="M122.8 393.4l1-2.7l.6 5.3l-1.1 1.1z"/><path class="k17" d="M121.1 397.7l1.1-6.2l.6 1.9l-1.2 4.6z"/><path class="k23" d="M122.2 391.5l1.2-8.3l.4 7.5l-1 2.7z"/></g><text class="cap" x="131.1" y="219.2" text-anchor="middle" font-family="Liberation Serif, serif" font-size="12.6">(<tspan font-weight="bold">a</tspan>)</text><text class="cap" x="411.7" y="219.2" text-anchor="middle" font-family="Liberation Serif, serif" font-size="12.6">(<tspan font-weight="bold">b</tspan>)</text><text class="cap" x="131.2" y="452.0" text-anchor="middle" font-family="Liberation Serif, serif" font-size="12.6">(<tspan font-weight="bold">c</tspan>)</text><text class="cap" x="411.8" y="452.0" text-anchor="middle" font-family="Liberation Serif, serif" font-size="12.6">(<tspan font-weight="bold">d</tspan>)</text></svg>

</body></html>
